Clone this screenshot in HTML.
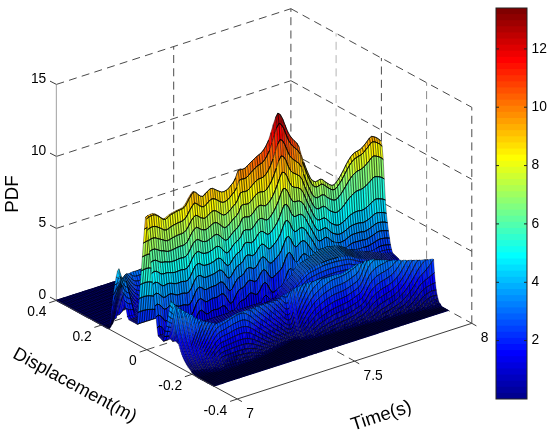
<!DOCTYPE html>
<html><head><meta charset="utf-8"><title>PDF surface</title>
<style>html,body{margin:0;padding:0;background:#fff}svg{display:block}</style></head>
<body>
<svg width="550" height="440" viewBox="0 0 550 440" font-family="'Liberation Sans', sans-serif" fill="#000">
<rect width="550" height="440" fill="#fff"/>
<g stroke-width="1" stroke-dasharray="8 5.3" fill="none"><line x1="56.4" y1="228.4" x2="290.9" y2="152.7" stroke="#4a4a4a"/><line x1="290.9" y1="152.7" x2="471.8" y2="251.3" stroke="#4a4a4a"/><line x1="56.4" y1="156.4" x2="290.9" y2="80.7" stroke="#4a4a4a"/><line x1="290.9" y1="80.7" x2="471.8" y2="179.3" stroke="#4a4a4a"/><line x1="56.4" y1="84.4" x2="290.9" y2="8.7" stroke="#4a4a4a"/><line x1="290.9" y1="8.7" x2="471.8" y2="107.3" stroke="#4a4a4a"/><line x1="173.7" y1="262.5" x2="173.7" y2="46.5" stroke="#4a4a4a"/><line x1="290.9" y1="224.7" x2="290.9" y2="8.7" stroke="#4a4a4a"/><line x1="336.1" y1="249.3" x2="336.1" y2="33.3" stroke="#b4b4b4"/><line x1="381.4" y1="274.0" x2="381.4" y2="58.0" stroke="#4a4a4a"/><line x1="426.6" y1="298.6" x2="426.6" y2="82.6" stroke="#8a8a8a"/><line x1="471.8" y1="323.3" x2="471.8" y2="107.3" stroke="#4a4a4a"/><line x1="56.4" y1="300.4" x2="290.9" y2="224.7" stroke="#4a4a4a"/><line x1="101.6" y1="325.0" x2="336.1" y2="249.3" stroke="#4a4a4a"/><line x1="146.8" y1="349.7" x2="381.4" y2="274.0" stroke="#4a4a4a"/><line x1="192.1" y1="374.3" x2="426.6" y2="298.6" stroke="#4a4a4a"/><line x1="173.7" y1="262.5" x2="354.6" y2="361.1" stroke="#4a4a4a"/><line x1="290.9" y1="224.7" x2="471.8" y2="323.3" stroke="#4a4a4a"/></g>
<line x1="56.4" y1="300.4" x2="56.4" y2="84.4" stroke="#b0b0b0" stroke-width="1.2"/>
<g stroke="#000" stroke-linejoin="round"><path fill="#00005a" stroke="#00005a" stroke-width="1.2" d="M56.4 300.4l3.6 2 2.4-.8-3.7-2zM58.7 299.6l3.7 2 2.3-.7-3.6-2zM61.1 298.9l3.6 2 2.4-.8-3.7-2zM63.4 298.1l3.7 2 2.3-.8-3.6-1.9zM65.8 297.4l3.6 1.9 2.3-.7-3.6-2zM68.1 296.6l3.6 2 2.4-.8-3.6-1.9zM70.5 295.9l3.6 1.9 2.3-.7-3.6-2zM72.8 295.1l3.6 2 2.4-.8-3.6-2zM75.2 294.3l3.6 2 2.3-.7-3.6-2zM77.5 293.6l3.6 2 2.4-.8-3.7-2zM79.8 292.8l3.7 2 2.3-.8-3.6-1.9zM82.2 292.1l3.6 1.9 2.4-.7-3.7-2zM84.5 291.3l3.7 2 2.3-.8-3.6-1.9zM86.9 290.6l3.6 1.9 2.3-.7-3.6-2zM89.2 289.8l3.6 2 2.4-.8-3.6-2zM91.6 289l3.6 2 2.3-.7-3.6-2zM93.9 288.3l3.6 2 2.4-.8-3.6-2zM96.3 287.5l3.6 2 2.3-.8-3.6-1.9zM98.6 286.8l3.6 1.9 2.4-.7-3.6-2zM101 286l3.6 2 2.3-.8-3.6-1.9zM103.3 285.3l3.6 1.9 2.4-.7-3.7-2zM105.6 284.5l3.7 2 2.3-.8-3.6-2zM108 283.7l3.6 2 2.4-.7-3.7-2zM110.3 283l3.7 2 2.3-.8-3.6-2zM112.7 282.2l3.6 2 2.3-.8-3.6-1.9zM60 302.4l3.6 1.9 2.4-.7-3.6-2zM62.4 301.6l3.6 2 2.3-.8-3.6-1.9zM64.7 300.9l3.6 1.9 2.4-.7-3.6-2zM67.1 300.1l3.6 2 2.3-.8-3.6-2zM69.4 299.3l3.6 2 2.4-.7-3.7-2zM71.7 298.6l3.7 2 2.3-.8-3.6-2zM74.1 297.8l3.6 2 2.4-.8-3.7-1.9zM76.4 297.1l3.7 1.9 2.3-.7-3.6-2zM78.8 296.3l3.6 2 2.3-.8-3.6-1.9zM81.1 295.6l3.6 1.9 2.4-.7-3.6-2zM83.5 294.8l3.6 2 2.3-.8-3.6-2zM85.8 294l3.6 2 2.4-.7-3.6-2zM88.2 293.3l3.6 2 2.3-.8-3.6-2zM90.5 292.5l3.6 2 2.4-.8-3.7-1.9zM92.8 291.8l3.7 1.9 2.3-.7-3.6-2zM95.2 291l3.6 2 2.4-.8-3.7-1.9zM97.5 290.3l3.7 1.9 2.3-.7-3.6-2zM99.9 289.5l3.6 2 2.3-.8-3.6-2zM102.2 288.7l3.6 2 2.4-.7-3.6-2zM104.6 288l3.6 2 2.3-.8-3.6-2zM106.9 287.2l3.6 2 2.4-.8-3.6-1.9zM109.3 286.5l3.6 1.9 2.3-.7-3.6-2zM111.6 285.7l3.6 2 2.4-.8-3.6-1.9zM114 285l3.6 1.9 2.3-.7-3.6-2zM63.6 304.3l3.7 2 2.3-.7-3.6-2zM66 303.6l3.6 2 2.3-.8-3.6-2zM68.3 302.8l3.6 2 2.4-.8-3.6-1.9zM70.7 302.1l3.6 1.9 2.3-.7-3.6-2zM73 301.3l3.6 2 2.4-.8-3.6-1.9zM75.4 300.6l3.6 1.9 2.3-.7-3.6-2zM77.7 299.8l3.6 2 2.4-.8-3.6-2zM80.1 299l3.6 2 2.3-.7-3.6-2zM82.4 298.3l3.6 2 2.4-.8-3.7-2zM84.7 297.5l3.7 2 2.3-.8-3.6-1.9zM87.1 296.8l3.6 1.9 2.3-.7-3.6-2zM89.4 296l3.6 2 2.4-.8-3.6-1.9zM91.8 295.3l3.6 1.9 2.3-.7-3.6-2zM94.1 294.5l3.6 2 2.4-.8-3.6-2zM96.5 293.7l3.6 2 2.3-.7-3.6-2zM98.8 293l3.6 2 2.4-.8-3.6-2zM101.2 292.2l3.6 2 2.3-.8-3.6-1.9zM103.5 291.5l3.6 1.9 2.4-.7-3.7-2zM105.8 290.7l3.7 2 2.3-.8-3.6-1.9zM108.2 290l3.6 1.9 2.4-.7-3.7-2zM110.5 289.2l3.7 2 2.3-.8-3.6-2zM112.9 288.4l3.6 2 2.3-.7-3.6-2zM67.3 306.3l3.6 2 2.3-.8-3.6-1.9zM69.6 305.6l3.6 1.9 2.4-.7-3.7-2zM71.9 304.8l3.7 2 2.3-.8-3.6-2zM74.3 304l3.6 2 2.4-.7-3.7-2zM76.6 303.3l3.7 2 2.3-.8-3.6-2zM79 302.5l3.6 2 2.3-.8-3.6-1.9zM81.3 301.8l3.6 1.9 2.4-.7-3.6-2zM83.7 301l3.6 2 2.3-.8-3.6-1.9zM86 300.3l3.6 1.9 2.4-.7-3.6-2zM88.4 299.5l3.6 2 2.3-.8-3.6-2zM90.7 298.7l3.6 2 2.4-.7-3.7-2zM93 298l3.7 2 2.3-.8-3.6-2zM95.4 297.2l3.6 2 2.4-.8-3.7-1.9zM97.7 296.5l3.7 1.9 2.3-.7-3.6-2zM100.1 295.7l3.6 2 2.3-.8-3.6-1.9zM102.4 295l3.6 1.9 2.4-.7-3.6-2zM104.8 294.2l3.6 2 2.3-.8-3.6-2zM107.1 293.4l3.6 2 2.4-.7-3.6-2zM109.5 292.7l3.6 2 2.3-.8-3.6-2zM111.8 291.9l3.6 2 2.4-.8-3.6-1.9zM70.9 308.3l3.6 2 2.3-.8-3.6-2zM73.2 307.5l3.6 2 2.4-.8-3.6-1.9zM75.6 306.8l3.6 1.9 2.3-.7-3.6-2zM77.9 306l3.6 2 2.4-.8-3.6-1.9zM80.3 305.3l3.6 1.9 2.3-.7-3.6-2zM82.6 304.5l3.6 2 2.4-.8-3.7-2zM84.9 303.7l3.7 2 2.3-.7-3.6-2zM87.3 303l3.6 2 2.3-.8-3.6-2zM89.6 302.2l3.6 2 2.4-.8-3.6-1.9zM92 301.5l3.6 1.9 2.3-.7-3.6-2zM94.3 300.7l3.6 2 2.4-.8-3.6-1.9zM96.7 300l3.6 1.9 2.3-.7-3.6-2zM99 299.2l3.6 2 2.4-.8-3.6-2zM101.4 298.4l3.6 2 2.3-.7-3.6-2zM103.7 297.7l3.6 2 2.4-.8-3.7-2zM106 296.9l3.7 2 2.3-.8-3.6-1.9zM108.4 296.2l3.6 1.9 2.4-.7-3.7-2zM110.7 295.4l3.7 2 2.3-.8-3.6-1.9zM74.5 310.3l3.6 1.9 2.4-.7-3.7-2zM76.8 309.5l3.7 2 2.3-.8-3.6-2zM79.2 308.7l3.6 2 2.3-.7-3.6-2zM81.5 308l3.6 2 2.4-.8-3.6-2zM83.9 307.2l3.6 2 2.3-.8-3.6-1.9zM86.2 306.5l3.6 1.9 2.4-.7-3.6-2zM88.6 305.7l3.6 2 2.3-.8-3.6-1.9zM90.9 305l3.6 1.9 2.4-.7-3.7-2zM93.2 304.2l3.7 2 2.3-.8-3.6-2zM95.6 303.4l3.6 2 2.4-.7-3.7-2zM97.9 302.7l3.7 2 2.3-.8-3.6-2zM100.3 301.9l3.6 2 2.3-.8-3.6-1.9zM102.6 301.2l3.6 1.9 2.4-.7-3.6-2zM105 300.4l3.6 2 2.3-.8-3.6-1.9zM107.3 299.7l3.6 1.9 2.4-.7-3.6-2zM109.7 298.9l3.6 2 2.3-.8-3.6-2zM112 298.1l3.6 2 2.4-.7-3.6-2zM78.1 312.2l3.6 2 2.4-.8-3.6-1.9zM80.5 311.5l3.6 1.9 2.3-.7-3.6-2zM82.8 310.7l3.6 2 2.4-.8-3.7-1.9zM85.1 310l3.7 1.9 2.3-.7-3.6-2zM87.5 309.2l3.6 2 2.4-.8-3.7-2zM89.8 308.4l3.7 2 2.3-.7-3.6-2zM92.2 307.7l3.6 2 2.3-.8-3.6-2zM94.5 306.9l3.6 2 2.4-.8-3.6-1.9zM96.9 306.2l3.6 1.9 2.3-.7-3.6-2zM99.2 305.4l3.6 2 2.4-.8-3.6-1.9zM101.6 304.7l3.6 1.9 2.3-.7-3.6-2zM103.9 303.9l3.6 2 2.4-.8-3.7-2zM106.2 303.1l3.7 2 2.3-.7-3.6-2zM108.6 302.4l3.6 2 2.4-.8-3.7-2zM110.9 301.6l3.7 2 2.3-.8-3.6-1.9zM81.7 314.2l3.6 2 2.4-.8-3.6-2zM84.1 313.4l3.6 2 2.3-.7-3.6-2zM86.4 312.7l3.6 2 2.4-.8-3.6-2zM88.8 311.9l3.6 2 2.3-.8-3.6-1.9zM91.1 311.2l3.6 1.9 2.4-.7-3.6-2zM93.5 310.4l3.6 2 2.3-.8-3.6-1.9zM95.8 309.7l3.6 1.9 2.4-.7-3.7-2zM98.1 308.9l3.7 2 2.3-.8-3.6-2zM100.5 308.1l3.6 2 2.3-.7-3.6-2zM102.8 307.4l3.6 2 2.4-.8-3.6-2zM105.2 306.6l3.6 2 2.3-.8-3.6-1.9zM107.5 305.9l3.6 1.9 2.4-.7-3.6-2zM109.9 305.1l3.6 2 2.3-.8-3.6-1.9zM85.3 316.2l3.7 1.9 2.3-.7-3.6-2zM87.7 315.4l3.6 2 2.4-.8-3.7-1.9zM90 314.7l3.7 1.9 2.3-.7-3.6-2zM92.4 313.9l3.6 2 2.3-.8-3.6-2zM94.7 313.1l3.6 2 2.4-.7-3.6-2zM97.1 312.4l3.6 2 2.3-.8-3.6-2zM99.4 311.6l3.6 2 2.4-.8-3.6-1.9zM101.8 310.9l3.6 1.9 2.3-.7-3.6-2zM104.1 310.1l3.6 2 2.4-.8-3.7-1.9zM106.4 309.4l3.7 1.9 2.3-.7-3.6-2zM108.8 308.6l3.6 2 2.4-.8-3.7-2zM89 318.1l3.6 2 2.3-.7-3.6-2zM91.3 317.4l3.6 2 2.4-.8-3.6-2zM93.7 316.6l3.6 2 2.3-.8-3.6-1.9zM96 315.9l3.6 1.9 2.4-.7-3.7-2zM98.3 315.1l3.7 2 2.3-.8-3.6-1.9zM100.7 314.4l3.6 1.9 2.3-.7-3.6-2zM103 313.6l3.6 2 2.4-.8-3.6-2zM105.4 312.8l3.6 2 2.3-.7-3.6-2zM107.7 312.1l3.6 2 2.4-.8-3.6-2zM110.1 311.3l3.6 2 2.3-.7-3.6-2zM92.6 320.1l3.6 2 2.3-.8-3.6-1.9zM94.9 319.4l3.6 1.9 2.4-.7-3.6-2zM97.3 318.6l3.6 2 2.3-.8-3.6-2zM99.6 317.8l3.6 2 2.4-.7-3.6-2zM102 317.1l3.6 2 2.3-.8-3.6-2zM104.3 316.3l3.6 2 2.4-.7-3.7-2zM106.6 315.6l3.7 2 2.3-.8-3.6-2zM109 314.8l3.6 2 2.4-.8-3.7-1.9zM96.2 322.1l3.6 2 2.4-.8-3.7-2zM98.5 321.3l3.7 2 2.3-.8-3.6-1.9zM100.9 320.6l3.6 1.9 2.4-.7-3.7-2zM103.2 319.8l3.7 2 2.3-.8-3.6-1.9zM105.6 319.1l3.6 1.9 2.3-.7-3.6-2zM107.9 318.3l3.6 2 2.4-.8-3.6-1.9zM99.8 324.1l3.6 1.9 2.4-.7-3.6-2zM102.2 323.3l3.6 2 2.3-.8-3.6-2zM104.5 322.5l3.6 2 2.4-.7-3.6-2zM106.9 321.8l3.6 2 2.3-.8-3.6-2zM103.4 326l1.4 .8 2.4-.8-1.4-.7zM105.8 325.3l1.4 .7 2.3-.7-1.4-.8zM108.1 324.5l1.4 .8 2.4-.8-1.4-.7zM104.8 326.8l1.4 .8 2.4-.8-1.4-.8zM107.2 326l1.4 .8 2.3-.7-1.4-.8zM106.2 327.6l1.5 .7 2.3-.7-1.4-.8zM288.5 339.5l.9 2.2 2.3-.5-.9-1.6zM290.8 339.6l.9 1.6 2.4-.8-.9-1.2zM293.2 339.2l.9 1.2 2.3-.8-.9-2zM284.7 341l.9 2.5 2.4-.3-1-1.6zM287 341.6l1 1.6 2.3-.8-.9-.7zM289.4 341.7l.9 .7 2.3-.7-.9-.5zM291.7 341.2l.9 .5 2.4-.8-.9-.5zM294.1 340.4l.9 .5 2.3-.8-.9-.5zM296.4 339.6l.9 .5 2.4-1.2-.9-2.2zM191.8 371.9l.9 1 2.4-1.1-.9-1.1zM280.9 342.7l.9 2.6 2.4-.2-.9-1.9zM283.3 343.2l.9 1.9 2.3-.7-.9-.9zM285.6 343.5l.9 .9 2.4-.7-.9-.5zM288 343.2l.9 .5 2.3-.8-.9-.5zM290.3 342.4l.9 .5 2.4-.7-1-.5zM292.6 341.7l1 .5 2.3-.8-.9-.5zM295 340.9l.9 .5 2.3-.8-.9-.5zM297.3 340.1l.9 .5 2.4-.7-.9-1zM192.7 372.9l.9 .9 2.4-.9-.9-1.1zM195.1 371.8l.9 1.1 2.3-1-.9-1.3zM277.1 344.8l.9 2.5 2.4-.2-.9-1.9zM279.5 345.2l.9 1.9 2.3-.7-.9-1.1zM281.8 345.3l.9 1.1 2.4-.7-.9-.6zM284.2 345.1l.9 .6 2.3-.8-.9-.5zM286.5 344.4l.9 .5 2.4-.7-.9-.5zM288.9 343.7l.9 .5 2.3-.8-.9-.5zM291.2 342.9l.9 .5 2.4-.8-.9-.4zM293.6 342.2l.9 .4 2.3-.7-.9-.5zM295.9 341.4l.9 .5 2.4-.8-1-.5zM298.2 340.6l1 .5 2.3-.7-.9-.5zM300.6 339.9l.9 .5 2.3-.9-.9-2zM193.6 373.8l.9 .9 2.4-.8-.9-1zM196 372.9l.9 1 2.3-.9-.9-1.1zM198.3 371.9l.9 1.1 2.4-.9-.9-1.4zM200.7 370.7l.9 1.4 2.3-1.1-.9-1.7zM273.4 346.7l.9 2.6 2.3-.2-.9-1.9zM275.7 347.2l.9 1.9 2.4-.7-1-1.1zM278 347.3l1 1.1 2.3-.7-.9-.6zM280.4 347.1l.9 .6 2.3-.8-.9-.5zM282.7 346.4l.9 .5 2.4-.7-.9-.5zM285.1 345.7l.9 .5 2.3-.8-.9-.5zM287.4 344.9l.9 .5 2.4-.7-.9-.5zM289.8 344.2l.9 .5 2.3-.8-.9-.5zM292.1 343.4l.9 .5 2.4-.8-.9-.5zM294.5 342.6l.9 .5 2.3-.7-.9-.5zM296.8 341.9l.9 .5 2.4-.8-.9-.5zM299.2 341.1l.9 .5 2.3-.7-.9-.5zM301.5 340.4l.9 .5 2.4-.8-1-.6zM303.8 339.5l1 .6 2.3-1.3-.9-2.3zM194.5 374.7l.9 .8 2.4-.8-.9-.8zM196.9 373.9l.9 .8 2.3-.8-.9-.9zM199.2 373l.9 .9 2.4-.8-.9-1zM201.6 372.1l.9 1 2.3-.7-.9-1.4zM203.9 371l.9 1.4 2.4-1-.9-1.8zM269.6 348.7l.9 2.6 2.3-.2-.9-2zM271.9 349.1l.9 2 2.4-.7-.9-1.1zM274.3 349.3l.9 1.1 2.3-.7-.9-.6zM276.6 349.1l.9 .6 2.4-.8-.9-.5zM279 348.4l.9 .5 2.3-.7-.9-.5zM281.3 347.7l.9 .5 2.4-.8-1-.5zM283.6 346.9l1 .5 2.3-.7-.9-.5zM286 346.2l.9 .5 2.3-.8-.9-.5zM288.3 345.4l.9 .5 2.4-.8-.9-.4zM290.7 344.7l.9 .4 2.3-.7-.9-.5zM293 343.9l.9 .5 2.4-.8-.9-.5zM295.4 343.1l.9 .5 2.3-.7-.9-.5zM297.7 342.4l.9 .5 2.4-.8-.9-.5zM300.1 341.6l.9 .5 2.3-.7-.9-.5zM302.4 340.9l.9 .5 2.4-.8-.9-.5zM304.8 340.1l.9 .5 2.3-.7-.9-1.1zM307.1 338.8l.9 1.1 2.3-1-.9-2zM309.4 336.9l.9 2 2.4-1.2-.9-2.6zM195.4 375.5l1 .8 2.3-.9-.9-.7zM197.8 374.7l.9 .7 2.3-.8-.9-.7zM200.1 373.9l.9 .7 2.4-.7-.9-.8zM202.5 373.1l.9 .8 2.3-.7-.9-.8zM204.8 372.4l.9 .8 2.4-.6-.9-1.2zM207.2 371.4l.9 1.2 2.3-1-.9-1.9zM265.8 350.8l.9 2.5 2.3-.2-.9-2zM268.1 351.1l.9 2 2.4-.6-.9-1.2zM270.5 351.3l.9 1.2 2.3-.8-.9-.6zM272.8 351.1l.9 .6 2.4-.8-.9-.5zM275.2 350.4l.9 .5 2.3-.7-.9-.5zM277.5 349.7l.9 .5 2.4-.8-.9-.5zM279.9 348.9l.9 .5 2.3-.7-.9-.5zM282.2 348.2l.9 .5 2.4-.8-.9-.5zM284.6 347.4l.9 .5 2.3-.7-.9-.5zM286.9 346.7l.9 .5 2.4-.8-1-.5zM289.2 345.9l1 .5 2.3-.8-.9-.5zM291.6 345.1l.9 .5 2.3-.7-.9-.5zM293.9 344.4l.9 .5 2.4-.8-.9-.5zM296.3 343.6l.9 .5 2.3-.7-.9-.5zM298.6 342.9l.9 .5 2.4-.8-.9-.5zM301 342.1l.9 .5 2.3-.7-.9-.5zM303.3 341.4l.9 .5 2.4-.8-.9-.5zM305.7 340.6l.9 .5 2.3-.8-.9-.4zM308 339.9l.9 .4 2.4-.7-1-.7zM310.3 338.9l1 .7 2.3-.8-.9-1.1zM312.7 337.7l.9 1.1 2.3-.7-.9-1.8zM315 336.3l.9 1.8 2.4-1-.9-2.3zM317.4 334.8l.9 2.3 2.3-1.1-.9-2.7zM196.4 376.3l.9 .7 2.3-.8-.9-.8zM198.7 375.4l.9 .8 2.3-.9-.9-.7zM201 374.6l.9 .7 2.4-.7-.9-.7zM203.4 373.9l.9 .7 2.3-.7-.9-.7zM205.7 373.2l.9 .7 2.4-.7-.9-.6zM208.1 372.6l.9 .6 2.3-.6-.9-1zM210.4 371.6l.9 1 2.4-1-.9-1.8zM212.8 369.8l.9 1.8 2.3-1.6-.9-2.2zM262 353.1l.9 2.4 2.4-.3-.9-2zM264.4 353.2l.9 2 2.3-.7-.9-1.2zM266.7 353.3l.9 1.2 2.4-.8-1-.6zM269 353.1l1 .6 2.3-.7-.9-.5zM271.4 352.5l.9 .5 2.3-.8-.9-.5zM273.7 351.7l.9 .5 2.4-.8-.9-.5zM276.1 350.9l.9 .5 2.3-.7-.9-.5zM278.4 350.2l.9 .5 2.4-.8-.9-.5zM280.8 349.4l.9 .5 2.3-.7-.9-.5zM283.1 348.7l.9 .5 2.4-.8-.9-.5zM285.5 347.9l.9 .5 2.3-.7-.9-.5zM287.8 347.2l.9 .5 2.4-.8-.9-.5zM290.2 346.4l.9 .5 2.3-.8-.9-.5zM292.5 345.6l.9 .5 2.3-.7-.9-.5zM294.8 344.9l.9 .5 2.4-.8-.9-.5zM297.2 344.1l.9 .5 2.3-.7-.9-.5zM299.5 343.4l.9 .5 2.4-.8-.9-.5zM301.9 342.6l.9 .5 2.3-.7-.9-.5zM304.2 341.9l.9 .5 2.4-.8-.9-.5zM306.6 341.1l.9 .5 2.3-.8-.9-.5zM308.9 340.3l.9 .5 2.4-.7-.9-.5zM311.3 339.6l.9 .5 2.3-.8-.9-.5zM313.6 338.8l.9 .5 2.4-.7-1-.5zM315.9 338.1l1 .5 2.3-.8-.9-.7zM318.3 337.1l.9 .7 2.3-.7-.9-1.1zM320.6 336l.9 1.1 2.4-.8-.9-1.5zM323 334.8l.9 1.5 2.3-.8-.9-1.8zM325.3 333.7l.9 1.8 2.4-.8-.9-2.2zM327.7 332.5l.9 2.2 2.3-.9-.9-2.4zM330 331.4l.9 2.4 2.4-.9-.9-2.6zM332.4 330.3l.9 2.6 2.3-.9-.9-2.8zM197.3 377l.9 .7 2.3-.8-.9-.7zM199.6 376.2l.9 .7 2.4-.9-1-.7zM201.9 375.3l1 .7 2.3-.8-.9-.6zM204.3 374.6l.9 .6 2.3-.7-.9-.6zM206.6 373.9l.9 .6 2.4-.7-.9-.6zM209 373.2l.9 .6 2.3-.7-.9-.5zM211.3 372.6l.9 .5 2.4-.7-.9-.8zM213.7 371.6l.9 .8 2.3-.9-.9-1.5zM216 370l.9 1.5 2.4-1.3-.9-2zM255.9 355.9l.9 2.4 2.3-.4-.9-2.2zM258.2 355.7l.9 2.2 2.4-.7-.9-1.6zM260.6 355.6l.9 1.6 2.3-.7-.9-1zM262.9 355.5l.9 1 2.4-.8-.9-.5zM265.3 355.2l.9 .5 2.3-.7-.9-.5zM267.6 354.5l.9 .5 2.4-.8-.9-.5zM270 353.7l.9 .5 2.3-.8-.9-.4zM272.3 353l.9 .4 2.4-.7-1-.5zM274.6 352.2l1 .5 2.3-.8-.9-.5zM277 351.4l.9 .5 2.3-.7-.9-.5zM279.3 350.7l.9 .5 2.4-.8-.9-.5zM281.7 349.9l.9 .5 2.3-.7-.9-.5zM284 349.2l.9 .5 2.4-.8-.9-.5zM286.4 348.4l.9 .5 2.3-.8-.9-.4zM288.7 347.7l.9 .4 2.4-.7-.9-.5zM291.1 346.9l.9 .5 2.3-.8-.9-.5zM293.4 346.1l.9 .5 2.4-.7-1-.5zM295.7 345.4l1 .5 2.3-.8-.9-.5zM298.1 344.6l.9 .5 2.3-.7-.9-.5zM300.4 343.9l.9 .5 2.4-.8-.9-.5zM302.8 343.1l.9 .5 2.3-.8-.9-.4zM305.1 342.4l.9 .4 2.4-.7-.9-.5zM307.5 341.6l.9 .5 2.3-.8-.9-.5zM309.8 340.8l.9 .5 2.4-.7-.9-.5zM312.2 340.1l.9 .5 2.3-.8-.9-.5zM314.5 339.3l.9 .5 2.4-.7-.9-.5zM316.9 338.6l.9 .5 2.3-.8-.9-.5zM319.2 337.8l.9 .5 2.4-.8-1-.4zM321.5 337.1l1 .4 2.3-.7-.9-.5zM323.9 336.3l.9 .5 2.3-.8-.9-.5zM326.2 335.5l.9 .5 2.4-.7-.9-.6zM328.6 334.7l.9 .6 2.3-.8-.9-.7zM330.9 333.8l.9 .7 2.4-.7-.9-.9zM333.3 332.9l.9 .9 2.3-.8-.9-1zM335.6 332l.9 1 2.4-.7-.9-1.2zM338 331.1l.9 1.2 2.3-.8-.9-1.4zM340.3 330.1l.9 1.4 2.4-.8-1-1.5zM342.6 329.2l1 1.5 2.3-.7-.9-1.7zM345 328.3l.9 1.7 2.3-.8-.9-1.9zM347.3 327.3l.9 1.9 2.4-.8-.9-2.1zM349.7 326.3l.9 2.1 2.3-.8-.9-2.4zM352 325.2l.9 2.4 2.4-1-.9-2.5zM354.4 324.1l.9 2.5 2.3-1.1-.9-2.7zM198.2 377.7l.9 .5 2.3-.8-.9-.5zM200.5 376.9l.9 .5 2.4-.7-.9-.7zM202.9 376l.9 .7 2.3-.8-.9-.7zM205.2 375.2l.9 .7 2.4-.8-1-.6zM207.5 374.5l1 .6 2.3-.7-.9-.6zM209.9 373.8l.9 .6 2.3-.8-.9-.5zM212.2 373.1l.9 .5 2.4-.7-.9-.5zM214.6 372.4l.9 .5 2.3-.8-.9-.6zM216.9 371.5l.9 .6 2.4-.7-.9-1.2zM219.3 370.2l.9 1.2 2.3-.9-.9-1.8zM221.6 368.7l.9 1.8 2.4-1.1-.9-2.1zM224 367.3l.9 2.1 2.3-.9-.9-2.2zM226.3 366.3l.9 2.2 2.4-.7-.9-2.3zM228.7 365.5l.9 2.3 2.3-.8-.9-2.2zM231 364.8l.9 2.2 2.4-.7-1-2.2zM233.3 364.1l1 2.2 2.3-.7-.9-2.2zM235.7 363.4l.9 2.2 2.3-.7-.9-2.2zM238 362.7l.9 2.2 2.4-.6-.9-2.2zM240.4 362.1l.9 2.2 2.3-.7-.9-2.1zM242.7 361.5l.9 2.1 2.4-.7-.9-2zM245.1 360.9l.9 2 2.3-.6-.9-2zM247.4 360.3l.9 2 2.4-.8-.9-1.7zM249.8 359.8l.9 1.7 2.3-.7-.9-1.5zM252.1 359.3l.9 1.5 2.4-.8-1-1.2zM254.4 358.8l1 1.2 2.3-.8-.9-.9zM256.8 358.3l.9 .9 2.3-.7-.9-.6zM259.1 357.9l.9 .6 2.4-.8-.9-.5zM261.5 357.2l.9 .5 2.3-.7-.9-.5zM263.8 356.5l.9 .5 2.4-.8-.9-.5zM266.2 355.7l.9 .5 2.3-.7-.9-.5zM268.5 355l.9 .5 2.4-.8-.9-.5zM270.9 354.2l.9 .5 2.3-.8-.9-.5zM273.2 353.4l.9 .5 2.4-.7-.9-.5zM275.6 352.7l.9 .5 2.3-.8-.9-.5zM277.9 351.9l.9 .5 2.4-.7-1-.5zM280.2 351.2l1 .5 2.3-.8-.9-.5zM282.6 350.4l.9 .5 2.3-.7-.9-.5zM284.9 349.7l.9 .5 2.4-.8-.9-.5zM287.3 348.9l.9 .5 2.3-.8-.9-.5zM289.6 348.1l.9 .5 2.4-.7-.9-.5zM292 347.4l.9 .5 2.3-.8-.9-.5zM294.3 346.6l.9 .5 2.4-.7-.9-.5zM296.7 345.9l.9 .5 2.3-.8-.9-.5zM299 345.1l.9 .5 2.4-.7-1-.5zM301.3 344.4l1 .5 2.3-.8-.9-.5zM303.7 343.6l.9 .5 2.3-.8-.9-.5zM306 342.8l.9 .5 2.4-.7-.9-.5zM308.4 342.1l.9 .5 2.3-.8-.9-.5zM310.7 341.3l.9 .5 2.4-.7-.9-.5zM313.1 340.6l.9 .5 2.3-.8-.9-.5zM315.4 339.8l.9 .5 2.4-.7-.9-.5zM317.8 339.1l.9 .5 2.3-.8-.9-.5zM320.1 338.3l.9 .5 2.4-.8-.9-.5zM322.5 337.5l.9 .5 2.3-.7-.9-.5zM324.8 336.8l.9 .5 2.4-.8-1-.5zM327.1 336l1 .5 2.3-.7-.9-.5zM329.5 335.3l.9 .5 2.3-.8-.9-.5zM331.8 334.5l.9 .5 2.4-.7-.9-.5zM334.2 333.8l.9 .5 2.3-.8-.9-.5zM336.5 333l.9 .5 2.4-.8-.9-.4zM338.9 332.3l.9 .4 2.3-.7-.9-.5zM341.2 331.5l.9 .5 2.4-.8-.9-.5zM343.6 330.7l.9 .5 2.3-.7-.9-.5zM345.9 330l.9 .5 2.4-.8-1-.5zM348.2 329.2l1 .5 2.3-.7-.9-.6zM350.6 328.4l.9 .6 2.3-.8-.9-.6zM352.9 327.6l.9 .6 2.4-.8-.9-.8zM355.3 326.6l.9 .8 2.3-.7-.9-1.2zM357.6 325.5l.9 1.2 2.4-.8-.9-1.5zM360 324.4l.9 1.5 2.3-.7-.9-2zM362.3 323.2l.9 2 2.4-1-.9-2.2zM364.7 322l.9 2.2 2.3-1-.9-2.6zM199.1 378.2l.9 .5 2.3-.8-.9-.5zM201.4 377.4l.9 .5 2.4-.8-.9-.4zM203.8 376.7l.9 .4 2.3-.7-.9-.5zM206.1 375.9l.9 .5 2.4-.8-.9-.5zM208.5 375.1l.9 .5 2.3-.7-.9-.5zM210.8 374.4l.9 .5 2.4-.8-1-.5zM213.1 373.6l1 .5 2.3-.7-.9-.5zM215.5 372.9l.9 .5 2.3-.8-.9-.5zM217.8 372.1l.9 .5 2.4-.8-.9-.4zM220.2 371.4l.9 .4 2.3-.7-.9-.6zM222.5 370.5l.9 .6 2.4-.8-.9-.9zM224.9 369.4l.9 .9 2.3-.7-.9-1.1zM227.2 368.5l.9 1.1 2.4-.8-.9-1zM229.6 367.8l.9 1 2.3-.7-.9-1.1zM231.9 367l.9 1.1 2.4-.8-.9-1zM234.3 366.3l.9 1 2.3-.8-.9-.9zM236.6 365.6l.9 .9 2.3-.7-.9-.9zM238.9 364.9l.9 .9 2.4-.8-.9-.7zM241.3 364.3l.9 .7 2.3-.7-.9-.7zM243.6 363.6l.9 .7 2.4-.8-.9-.6zM246 362.9l.9 .6 2.3-.7-.9-.5zM248.3 362.3l.9 .5 2.4-.8-.9-.5zM250.7 361.5l.9 .5 2.3-.8-.9-.4zM253 360.8l.9 .4 2.4-.7-.9-.5zM255.4 360l.9 .5 2.3-.8-.9-.5zM257.7 359.2l.9 .5 2.4-.7-1-.5zM260 358.5l1 .5 2.3-.8-.9-.5zM262.4 357.7l.9 .5 2.3-.7-.9-.5zM264.7 357l.9 .5 2.4-.8-.9-.5zM267.1 356.2l.9 .5 2.3-.7-.9-.5zM269.4 355.5l.9 .5 2.4-.8-.9-.5zM271.8 354.7l.9 .5 2.3-.8-.9-.5zM274.1 353.9l.9 .5 2.4-.7-.9-.5zM276.5 353.2l.9 .5 2.3-.8-.9-.5zM278.8 352.4l.9 .5 2.4-.7-.9-.5zM281.2 351.7l.9 .5 2.3-.8-.9-.5zM283.5 350.9l.9 .5 2.3-.7-.9-.5zM285.8 350.2l.9 .5 2.4-.8-.9-.5zM288.2 349.4l.9 .5 2.3-.8-.9-.5zM290.5 348.6l.9 .5 2.4-.7-.9-.5zM292.9 347.9l.9 .5 2.3-.8-.9-.5zM295.2 347.1l.9 .5 2.4-.7-.9-.5zM297.6 346.4l.9 .5 2.3-.8-.9-.5zM299.9 345.6l.9 .5 2.4-.7-.9-.5zM302.3 344.9l.9 .5 2.3-.8-.9-.5zM304.6 344.1l.9 .5 2.4-.8-1-.5zM306.9 343.3l1 .5 2.3-.7-.9-.5zM309.3 342.6l.9 .5 2.3-.8-.9-.5zM311.6 341.8l.9 .5 2.4-.7-.9-.5zM314 341.1l.9 .5 2.3-.8-.9-.5zM316.3 340.3l.9 .5 2.4-.7-.9-.5zM318.7 339.6l.9 .5 2.3-.8-.9-.5zM321 338.8l.9 .5 2.4-.8-.9-.5zM323.4 338l.9 .5 2.3-.7-.9-.5zM325.7 337.3l.9 .5 2.4-.8-.9-.5zM328.1 336.5l.9 .5 2.3-.7-.9-.5zM330.4 335.8l.9 .5 2.3-.8-.9-.5zM332.7 335l.9 .5 2.4-.7-.9-.5zM335.1 334.3l.9 .5 2.3-.8-.9-.5zM337.4 333.5l.9 .5 2.4-.8-.9-.5zM339.8 332.7l.9 .5 2.3-.7-.9-.5zM342.1 332l.9 .5 2.4-.8-.9-.5zM344.5 331.2l.9 .5 2.3-.7-.9-.5zM346.8 330.5l.9 .5 2.4-.8-.9-.5zM349.2 329.7l.9 .5 2.3-.7-.9-.5zM351.5 329l.9 .5 2.4-.8-1-.5zM353.8 328.2l1 .5 2.3-.8-.9-.5zM356.2 327.4l.9 .5 2.3-.7-.9-.5zM358.5 326.7l.9 .5 2.4-.8-.9-.5zM360.9 325.9l.9 .5 2.3-.7-.9-.5zM363.2 325.2l.9 .5 2.4-.8-.9-.7zM365.6 324.2l.9 .7 2.3-.7-.9-1zM367.9 323.2l.9 1 2.4-.8-.9-1.4zM370.3 322l.9 1.4 2.3-.8-.9-2zM372.6 320.6l.9 2 2.4-.9-.9-2.6zM200 378.7l.9 .5 2.3-.8-.9-.5zM202.3 377.9l.9 .5 2.4-.8-.9-.5zM204.7 377.1l.9 .5 2.3-.7-.9-.5zM207 376.4l.9 .5 2.4-.8-.9-.5zM209.4 375.6l.9 .5 2.3-.7-.9-.5zM211.7 374.9l.9 .5 2.4-.8-.9-.5zM214.1 374.1l.9 .5 2.3-.7-.9-.5zM216.4 373.4l.9 .5 2.4-.8-1-.5zM218.7 372.6l1 .5 2.3-.8-.9-.5zM221.1 371.8l.9 .5 2.3-.7-.9-.5zM223.4 371.1l.9 .5 2.4-.8-.9-.5zM225.8 370.3l.9 .5 2.3-.7-.9-.5zM228.1 369.6l.9 .5 2.4-.8-.9-.5zM230.5 368.8l.9 .5 2.3-.7-.9-.5zM232.8 368.1l.9 .5 2.4-.8-.9-.5zM235.2 367.3l.9 .5 2.3-.8-.9-.5zM237.5 366.5l.9 .5 2.4-.7-1-.5zM239.8 365.8l1 .5 2.3-.8-.9-.5zM242.2 365l.9 .5 2.3-.7-.9-.5zM244.5 364.3l.9 .5 2.4-.8-.9-.5zM246.9 363.5l.9 .5 2.3-.7-.9-.5zM249.2 362.8l.9 .5 2.4-.8-.9-.5zM251.6 362l.9 .5 2.3-.8-.9-.5zM253.9 361.2l.9 .5 2.4-.7-.9-.5zM256.3 360.5l.9 .5 2.3-.8-.9-.5zM258.6 359.7l.9 .5 2.4-.7-.9-.5zM261 359l.9 .5 2.3-.8-.9-.5zM263.3 358.2l.9 .5 2.4-.7-1-.5zM265.6 357.5l1 .5 2.3-.8-.9-.5zM268 356.7l.9 .5 2.3-.8-.9-.4zM270.3 356l.9 .4 2.4-.7-.9-.5zM272.7 355.2l.9 .5 2.3-.8-.9-.5zM275 354.4l.9 .5 2.4-.7-.9-.5zM277.4 353.7l.9 .5 2.3-.8-.9-.5zM279.7 352.9l.9 .5 2.4-.7-.9-.5zM282.1 352.2l.9 .5 2.3-.8-.9-.5zM284.4 351.4l.9 .5 2.4-.8-1-.4zM286.7 350.7l1 .4 2.3-.7-.9-.5zM289.1 349.9l.9 .5 2.3-.8-.9-.5zM291.4 349.1l.9 .5 2.4-.7-.9-.5zM293.8 348.4l.9 .5 2.3-.8-.9-.5zM296.1 347.6l.9 .5 2.4-.7-.9-.5zM298.5 346.9l.9 .5 2.3-.8-.9-.5zM300.8 346.1l.9 .5 2.4-.8-.9-.4zM303.2 345.4l.9 .4 2.3-.7-.9-.5zM305.5 344.6l.9 .5 2.4-.8-.9-.5zM307.9 343.8l.9 .5 2.3-.7-.9-.5zM310.2 343.1l.9 .5 2.4-.8-1-.5zM312.5 342.3l1 .5 2.3-.7-.9-.5zM314.9 341.6l.9 .5 2.3-.8-.9-.5zM317.2 340.8l.9 .5 2.4-.8-.9-.4zM319.6 340.1l.9 .4 2.3-.7-.9-.5zM321.9 339.3l.9 .5 2.4-.8-.9-.5zM324.3 338.5l.9 .5 2.3-.7-.9-.5zM326.6 337.8l.9 .5 2.4-.8-.9-.5zM329 337l.9 .5 2.3-.7-.9-.5zM331.3 336.3l.9 .5 2.4-.8-1-.5zM333.6 335.5l1 .5 2.3-.8-.9-.4zM336 334.8l.9 .4 2.3-.7-.9-.5zM338.3 334l.9 .5 2.4-.8-.9-.5zM340.7 333.2l.9 .5 2.3-.7-.9-.5zM343 332.5l.9 .5 2.4-.8-.9-.5zM345.4 331.7l.9 .5 2.3-.7-.9-.5zM347.7 331l.9 .5 2.4-.8-.9-.5zM350.1 330.2l.9 .5 2.3-.7-.9-.5zM352.4 329.5l.9 .5 2.4-.8-.9-.5zM354.8 328.7l.9 .5 2.3-.8-.9-.5zM357.1 327.9l.9 .5 2.4-.7-1-.5zM359.4 327.2l1 .5 2.3-.8-.9-.5zM361.8 326.4l.9 .5 2.3-.7-.9-.5zM364.1 325.7l.9 .5 2.4-.8-.9-.5zM366.5 324.9l.9 .5 2.3-.7-.9-.5zM368.8 324.2l.9 .5 2.4-.8-.9-.5zM371.2 323.4l.9 .5 2.3-.8-.9-.5zM373.5 322.6l.9 .5 2.4-.7-.9-.7zM375.9 321.7l.9 .7 2.3-.8-.9-1zM378.2 320.6l.9 1 2.4-.7-1-1.5zM380.5 319.4l1 1.5 2.3-.8-.9-1.9zM382.9 318.2l.9 1.9 2.3-.8-.9-2.4zM385.2 316.9l.9 2.4 2.4-.9-.9-2.8zM200.9 379.2l.9 .5 2.3-.8-.9-.5zM203.2 378.4l.9 .5 2.4-.8-.9-.5zM205.6 377.6l.9 .5 2.3-.7-.9-.5zM207.9 376.9l.9 .5 2.4-.8-.9-.5zM210.3 376.1l.9 .5 2.3-.7-.9-.5zM212.6 375.4l.9 .5 2.4-.8-.9-.5zM215 374.6l.9 .5 2.3-.7-.9-.5zM217.3 373.9l.9 .5 2.4-.8-.9-.5zM219.7 373.1l.9 .5 2.3-.8-.9-.5zM222 372.3l.9 .5 2.3-.7-.9-.5zM224.3 371.6l.9 .5 2.4-.8-.9-.5zM226.7 370.8l.9 .5 2.3-.7-.9-.5zM229 370.1l.9 .5 2.4-.8-.9-.5zM231.4 369.3l.9 .5 2.3-.7-.9-.5zM233.7 368.6l.9 .5 2.4-.8-.9-.5zM236.1 367.8l.9 .5 2.3-.8-.9-.5zM238.4 367l.9 .5 2.4-.7-.9-.5zM240.8 366.3l.9 .5 2.3-.8-.9-.5zM243.1 365.5l.9 .5 2.4-.7-1-.5zM245.4 364.8l1 .5 2.3-.8-.9-.5zM247.8 364l.9 .5 2.3-.7-.9-.5zM250.1 363.3l.9 .5 2.4-.8-.9-.5zM252.5 362.5l.9 .5 2.3-.8-.9-.5zM254.8 361.7l.9 .5 2.4-.7-.9-.5zM257.2 361l.9 .5 2.3-.8-.9-.5zM259.5 360.2l.9 .5 2.4-.7-.9-.5zM261.9 359.5l.9 .5 2.3-.8-.9-.5zM264.2 358.7l.9 .5 2.4-.7-.9-.5zM266.6 358l.9 .5 2.3-.8-.9-.5zM268.9 357.2l.9 .5 2.3-.8-.9-.5zM271.2 356.4l.9 .5 2.4-.7-.9-.5zM273.6 355.7l.9 .5 2.3-.8-.9-.5zM275.9 354.9l.9 .5 2.4-.7-.9-.5zM278.3 354.2l.9 .5 2.3-.8-.9-.5zM280.6 353.4l.9 .5 2.4-.7-.9-.5zM283 352.7l.9 .5 2.3-.8-.9-.5zM285.3 351.9l.9 .5 2.4-.8-.9-.5zM287.7 351.1l.9 .5 2.3-.7-.9-.5zM290 350.4l.9 .5 2.4-.8-1-.5zM292.3 349.6l1 .5 2.3-.7-.9-.5zM294.7 348.9l.9 .5 2.3-.8-.9-.5zM297 348.1l.9 .5 2.4-.7-.9-.5zM299.4 347.4l.9 .5 2.3-.8-.9-.5zM301.7 346.6l.9 .5 2.4-.8-.9-.5zM304.1 345.8l.9 .5 2.3-.7-.9-.5zM306.4 345.1l.9 .5 2.4-.8-.9-.5zM308.8 344.3l.9 .5 2.3-.7-.9-.5zM311.1 343.6l.9 .5 2.4-.8-.9-.5zM313.5 342.8l.9 .5 2.3-.7-.9-.5zM315.8 342.1l.9 .5 2.3-.8-.9-.5zM318.1 341.3l.9 .5 2.4-.8-.9-.5zM320.5 340.5l.9 .5 2.3-.7-.9-.5zM322.8 339.8l.9 .5 2.4-.8-.9-.5zM325.2 339l.9 .5 2.3-.7-.9-.5zM327.5 338.3l.9 .5 2.4-.8-.9-.5zM329.9 337.5l.9 .5 2.3-.7-.9-.5zM332.2 336.8l.9 .5 2.4-.8-.9-.5zM334.6 336l.9 .5 2.3-.8-.9-.5zM336.9 335.2l.9 .5 2.4-.7-1-.5zM339.2 334.5l1 .5 2.3-.8-.9-.5zM341.6 333.7l.9 .5 2.3-.7-.9-.5zM343.9 333l.9 .5 2.4-.8-.9-.5zM346.3 332.2l.9 .5 2.3-.7-.9-.5zM348.6 331.5l.9 .5 2.4-.8-.9-.5zM351 330.7l.9 .5 2.3-.8-.9-.4zM353.3 330l.9 .4 2.4-.7-.9-.5zM355.7 329.2l.9 .5 2.3-.8-.9-.5zM358 328.4l.9 .5 2.4-.7-.9-.5zM360.4 327.7l.9 .5 2.3-.8-.9-.5zM362.7 326.9l.9 .5 2.3-.7-.9-.5zM365 326.2l.9 .5 2.4-.8-.9-.5zM367.4 325.4l.9 .5 2.3-.8-.9-.4zM369.7 324.7l.9 .4 2.4-.7-.9-.5zM372.1 323.9l.9 .5 2.3-.8-.9-.5zM374.4 323.1l.9 .5 2.4-.7-.9-.5zM376.8 322.4l.9 .5 2.3-.8-.9-.5zM379.1 321.6l.9 .5 2.4-.7-.9-.5zM381.5 320.9l.9 .5 2.3-.8-.9-.5zM383.8 320.1l.9 .5 2.4-.8-1-.5zM386.1 319.3l1 .5 2.3-.7-.9-.7zM388.5 318.4l.9 .7 2.3-.8-.9-1zM390.8 317.3l.9 1 2.4-.7-.9-1.4zM393.2 316.2l.9 1.4 2.3-.8-.9-1.8zM395.5 315l.9 1.8 2.4-.8-.9-2.2zM397.9 313.8l.9 2.2 2.3-.9-.9-2.6zM201.8 379.7l.9 .4 2.4-.7-1-.5zM204.1 378.9l1 .5 2.3-.8-.9-.5zM206.5 378.1l.9 .5 2.3-.7-.9-.5zM208.8 377.4l.9 .5 2.4-.8-.9-.5zM211.2 376.6l.9 .5 2.3-.7-.9-.5zM213.5 375.9l.9 .5 2.4-.8-.9-.5zM215.9 375.1l.9 .5 2.3-.8-.9-.4zM218.2 374.4l.9 .4 2.4-.7-.9-.5zM220.6 373.6l.9 .5 2.3-.8-.9-.5zM222.9 372.8l.9 .5 2.4-.7-1-.5zM225.2 372.1l1 .5 2.3-.8-.9-.5zM227.6 371.3l.9 .5 2.3-.7-.9-.5zM229.9 370.6l.9 .5 2.4-.8-.9-.5zM232.3 369.8l.9 .5 2.3-.8-.9-.4zM234.6 369.1l.9 .4 2.4-.7-.9-.5zM237 368.3l.9 .5 2.3-.8-.9-.5zM239.3 367.5l.9 .5 2.4-.7-.9-.5zM241.7 366.8l.9 .5 2.3-.8-.9-.5zM244 366l.9 .5 2.4-.7-.9-.5zM246.4 365.3l.9 .5 2.3-.8-.9-.5zM248.7 364.5l.9 .5 2.4-.8-1-.4zM251 363.8l1 .4 2.3-.7-.9-.5zM253.4 363l.9 .5 2.3-.8-.9-.5zM255.7 362.2l.9 .5 2.4-.7-.9-.5zM258.1 361.5l.9 .5 2.3-.8-.9-.5zM260.4 360.7l.9 .5 2.4-.7-.9-.5zM262.8 360l.9 .5 2.3-.8-.9-.5zM265.1 359.2l.9 .5 2.4-.8-.9-.4zM267.5 358.5l.9 .4 2.3-.7-.9-.5zM269.8 357.7l.9 .5 2.4-.8-1-.5zM272.1 356.9l1 .5 2.3-.7-.9-.5zM274.5 356.2l.9 .5 2.3-.8-.9-.5zM276.8 355.4l.9 .5 2.4-.7-.9-.5zM279.2 354.7l.9 .5 2.3-.8-.9-.5zM281.5 353.9l.9 .5 2.4-.7-.9-.5zM283.9 353.2l.9 .5 2.3-.8-.9-.5zM286.2 352.4l.9 .5 2.4-.8-.9-.5zM288.6 351.6l.9 .5 2.3-.7-.9-.5zM290.9 350.9l.9 .5 2.4-.8-.9-.5zM293.3 350.1l.9 .5 2.3-.7-.9-.5zM295.6 349.4l.9 .5 2.4-.8-1-.5zM297.9 348.6l1 .5 2.3-.7-.9-.5zM300.3 347.9l.9 .5 2.3-.8-.9-.5zM302.6 347.1l.9 .5 2.4-.8-.9-.5zM305 346.3l.9 .5 2.3-.7-.9-.5zM307.3 345.6l.9 .5 2.4-.8-.9-.5zM309.7 344.8l.9 .5 2.3-.7-.9-.5zM312 344.1l.9 .5 2.4-.8-.9-.5zM314.4 343.3l.9 .5 2.3-.7-.9-.5zM316.7 342.6l.9 .5 2.4-.8-1-.5zM319 341.8l1 .5 2.3-.8-.9-.5zM321.4 341l.9 .5 2.3-.7-.9-.5zM323.7 340.3l.9 .5 2.4-.8-.9-.5zM326.1 339.5l.9 .5 2.3-.7-.9-.5zM328.4 338.8l.9 .5 2.4-.8-.9-.5zM330.8 338l.9 .5 2.3-.7-.9-.5zM333.1 337.3l.9 .5 2.4-.8-.9-.5zM335.5 336.5l.9 .5 2.3-.8-.9-.5zM337.8 335.7l.9 .5 2.4-.7-.9-.5zM340.2 335l.9 .5 2.3-.8-.9-.5zM342.5 334.2l.9 .5 2.4-.7-1-.5zM344.8 333.5l1 .5 2.3-.8-.9-.5zM347.2 332.7l.9 .5 2.3-.7-.9-.5zM349.5 332l.9 .5 2.4-.8-.9-.5zM351.9 331.2l.9 .5 2.3-.8-.9-.5zM354.2 330.4l.9 .5 2.4-.7-.9-.5zM356.6 329.7l.9 .5 2.3-.8-.9-.5zM358.9 328.9l.9 .5 2.4-.7-.9-.5zM361.3 328.2l.9 .5 2.3-.8-.9-.5zM363.6 327.4l.9 .5 2.4-.7-1-.5zM365.9 326.7l1 .5 2.3-.8-.9-.5zM368.3 325.9l.9 .5 2.3-.8-.9-.5zM370.6 325.1l.9 .5 2.4-.7-.9-.5zM373 324.4l.9 .5 2.3-.8-.9-.5zM375.3 323.6l.9 .5 2.4-.7-.9-.5zM377.7 322.9l.9 .5 2.3-.8-.9-.5zM380 322.1l.9 .5 2.4-.7-.9-.5zM382.4 321.4l.9 .5 2.3-.8-.9-.5zM384.7 320.6l.9 .5 2.4-.8-.9-.5zM387.1 319.8l.9 .5 2.3-.7-.9-.5zM389.4 319.1l.9 .5 2.4-.8-1-.5zM391.7 318.3l1 .5 2.3-.7-.9-.5zM394.1 317.6l.9 .5 2.3-.8-.9-.5zM396.4 316.8l.9 .5 2.4-.7-.9-.6zM398.8 316l.9 .6 2.3-.8-.9-.7zM401.1 315.1l.9 .7 2.4-.8-.9-1zM403.5 314l.9 1 2.3-.7-.9-1.6zM405.8 312.7l.9 1.6 2.4-.8-.9-2.2zM408.2 311.3l.9 2.2 2.3-1-.9-2.9zM202.7 380.1l.9 .5 2.4-.7-.9-.5zM205.1 379.4l.9 .5 2.3-.8-.9-.5zM207.4 378.6l.9 .5 2.4-.7-1-.5zM209.7 377.9l1 .5 2.3-.8-.9-.5zM212.1 377.1l.9 .5 2.3-.7-.9-.5zM214.4 376.4l.9 .5 2.4-.8-.9-.5zM216.8 375.6l.9 .5 2.3-.8-.9-.5zM219.1 374.8l.9 .5 2.4-.7-.9-.5zM221.5 374.1l.9 .5 2.3-.8-.9-.5zM223.8 373.3l.9 .5 2.4-.7-.9-.5zM226.2 372.6l.9 .5 2.3-.8-.9-.5zM228.5 371.8l.9 .5 2.4-.7-1-.5zM230.8 371.1l1 .5 2.3-.8-.9-.5zM233.2 370.3l.9 .5 2.3-.8-.9-.5zM235.5 369.5l.9 .5 2.4-.7-.9-.5zM237.9 368.8l.9 .5 2.3-.8-.9-.5zM240.2 368l.9 .5 2.4-.7-.9-.5zM242.6 367.3l.9 .5 2.3-.8-.9-.5zM244.9 366.5l.9 .5 2.4-.7-.9-.5zM247.3 365.8l.9 .5 2.3-.8-.9-.5zM249.6 365l.9 .5 2.4-.8-.9-.5zM252 364.2l.9 .5 2.3-.7-.9-.5zM254.3 363.5l.9 .5 2.4-.8-1-.5zM256.6 362.7l1 .5 2.3-.7-.9-.5zM259 362l.9 .5 2.3-.8-.9-.5zM261.3 361.2l.9 .5 2.4-.7-.9-.5zM263.7 360.5l.9 .5 2.3-.8-.9-.5zM266 359.7l.9 .5 2.4-.8-.9-.5zM268.4 358.9l.9 .5 2.3-.7-.9-.5zM270.7 358.2l.9 .5 2.4-.8-.9-.5zM273.1 357.4l.9 .5 2.3-.7-.9-.5zM275.4 356.7l.9 .5 2.4-.8-1-.5zM277.7 355.9l1 .5 2.3-.7-.9-.5zM280.1 355.2l.9 .5 2.3-.8-.9-.5zM282.4 354.4l.9 .5 2.4-.8-.9-.4zM284.8 353.7l.9 .4 2.3-.7-.9-.5zM287.1 352.9l.9 .5 2.4-.8-.9-.5zM289.5 352.1l.9 .5 2.3-.7-.9-.5zM291.8 351.4l.9 .5 2.4-.8-.9-.5zM294.2 350.6l.9 .5 2.3-.7-.9-.5zM296.5 349.9l.9 .5 2.4-.8-.9-.5zM298.9 349.1l.9 .5 2.3-.8-.9-.4zM301.2 348.4l.9 .4 2.4-.7-1-.5zM303.5 347.6l1 .5 2.3-.8-.9-.5zM305.9 346.8l.9 .5 2.3-.7-.9-.5zM308.2 346.1l.9 .5 2.4-.8-.9-.5zM310.6 345.3l.9 .5 2.3-.7-.9-.5zM312.9 344.6l.9 .5 2.4-.8-.9-.5zM315.3 343.8l.9 .5 2.3-.8-.9-.4zM317.6 343.1l.9 .4 2.4-.7-.9-.5zM320 342.3l.9 .5 2.3-.8-.9-.5zM322.3 341.5l.9 .5 2.4-.7-1-.5zM324.6 340.8l1 .5 2.3-.8-.9-.5zM327 340l.9 .5 2.3-.7-.9-.5zM329.3 339.3l.9 .5 2.4-.8-.9-.5zM331.7 338.5l.9 .5 2.3-.8-.9-.4zM334 337.8l.9 .4 2.4-.7-.9-.5zM336.4 337l.9 .5 2.3-.8-.9-.5zM338.7 336.2l.9 .5 2.4-.7-.9-.5zM341.1 335.5l.9 .5 2.3-.8-.9-.5zM343.4 334.7l.9 .5 2.4-.7-.9-.5zM345.8 334l.9 .5 2.3-.8-.9-.5zM348.1 333.2l.9 .5 2.4-.8-1-.4zM350.4 332.5l1 .4 2.3-.7-.9-.5zM352.8 331.7l.9 .5 2.3-.8-.9-.5zM355.1 330.9l.9 .5 2.4-.7-.9-.5zM357.5 330.2l.9 .5 2.3-.8-.9-.5zM359.8 329.4l.9 .5 2.4-.7-.9-.5zM362.2 328.7l.9 .5 2.3-.8-.9-.5zM364.5 327.9l.9 .5 2.4-.8-.9-.4zM366.9 327.2l.9 .4 2.3-.7-.9-.5zM369.2 326.4l.9 .5 2.4-.8-1-.5zM371.5 325.6l1 .5 2.3-.7-.9-.5zM373.9 324.9l.9 .5 2.3-.8-.9-.5zM376.2 324.1l.9 .5 2.4-.7-.9-.5zM378.6 323.4l.9 .5 2.3-.8-.9-.5zM380.9 322.6l.9 .5 2.4-.7-.9-.5zM383.3 321.9l.9 .5 2.3-.8-.9-.5zM385.6 321.1l.9 .5 2.4-.8-.9-.5zM388 320.3l.9 .5 2.3-.7-.9-.5zM390.3 319.6l.9 .5 2.4-.8-.9-.5zM392.7 318.8l.9 .5 2.3-.7-.9-.5zM395 318.1l.9 .5 2.4-.8-1-.5zM397.3 317.3l1 .5 2.3-.7-.9-.5zM399.7 316.6l.9 .5 2.3-.8-.9-.5zM402 315.8l.9 .5 2.4-.8-.9-.5zM404.4 315l.9 .5 2.3-.7-.9-.5zM406.7 314.3l.9 .5 2.4-.8-.9-.5zM409.1 313.5l.9 .5 2.3-.7-.9-.8zM411.4 312.5l.9 .8 2.4-.8-.9-1.4zM413.8 311.1l.9 1.4 2.3-.7-.9-2.3zM416.1 309.5l.9 2.3 2.4-1.1-1-3zM203.6 380.6l.9 .5 2.4-.7-.9-.5zM206 379.9l.9 .5 2.3-.8-.9-.5zM208.3 379.1l.9 .5 2.4-.7-.9-.5zM210.7 378.4l.9 .5 2.3-.8-.9-.5zM213 377.6l.9 .5 2.3-.8-.9-.4zM215.3 376.9l.9 .4 2.4-.7-.9-.5zM217.7 376.1l.9 .5 2.3-.8-.9-.5zM220 375.3l.9 .5 2.4-.7-.9-.5zM222.4 374.6l.9 .5 2.3-.8-.9-.5zM224.7 373.8l.9 .5 2.4-.7-.9-.5zM227.1 373.1l.9 .5 2.3-.8-.9-.5zM229.4 372.3l.9 .5 2.4-.7-.9-.5zM231.8 371.6l.9 .5 2.3-.8-.9-.5zM234.1 370.8l.9 .5 2.4-.8-1-.5zM236.4 370l1 .5 2.3-.7-.9-.5zM238.8 369.3l.9 .5 2.3-.8-.9-.5zM241.1 368.5l.9 .5 2.4-.7-.9-.5zM243.5 367.8l.9 .5 2.3-.8-.9-.5zM245.8 367l.9 .5 2.4-.7-.9-.5zM248.2 366.3l.9 .5 2.3-.8-.9-.5zM250.5 365.5l.9 .5 2.4-.8-.9-.5zM252.9 364.7l.9 .5 2.3-.7-.9-.5zM255.2 364l.9 .5 2.4-.8-.9-.5zM257.6 363.2l.9 .5 2.3-.7-.9-.5zM259.9 362.5l.9 .5 2.3-.8-.9-.5zM262.2 361.7l.9 .5 2.4-.7-.9-.5zM264.6 361l.9 .5 2.3-.8-.9-.5zM266.9 360.2l.9 .5 2.4-.8-.9-.5zM269.3 359.4l.9 .5 2.3-.7-.9-.5zM271.6 358.7l.9 .5 2.4-.8-.9-.5zM274 357.9l.9 .5 2.3-.7-.9-.5zM276.3 357.2l.9 .5 2.4-.8-.9-.5zM278.7 356.4l.9 .5 2.3-.7-.9-.5zM281 355.7l.9 .5 2.4-.8-1-.5zM283.3 354.9l1 .5 2.3-.8-.9-.5zM285.7 354.1l.9 .5 2.3-.7-.9-.5zM288 353.4l.9 .5 2.4-.8-.9-.5zM290.4 352.6l.9 .5 2.3-.7-.9-.5zM292.7 351.9l.9 .5 2.4-.8-.9-.5zM295.1 351.1l.9 .5 2.3-.7-.9-.5zM297.4 350.4l.9 .5 2.4-.8-.9-.5zM299.8 349.6l.9 .5 2.3-.8-.9-.5zM302.1 348.8l.9 .5 2.4-.7-.9-.5zM304.5 348.1l.9 .5 2.3-.8-.9-.5zM306.8 347.3l.9 .5 2.3-.7-.9-.5zM309.1 346.6l.9 .5 2.4-.8-.9-.5zM311.5 345.8l.9 .5 2.3-.7-.9-.5zM313.8 345.1l.9 .5 2.4-.8-.9-.5zM316.2 344.3l.9 .5 2.3-.8-.9-.5zM318.5 343.5l.9 .5 2.4-.7-.9-.5zM320.9 342.8l.9 .5 2.3-.8-.9-.5zM323.2 342l.9 .5 2.4-.7-.9-.5zM325.6 341.3l.9 .5 2.3-.8-.9-.5zM327.9 340.5l.9 .5 2.4-.7-1-.5zM330.2 339.8l1 .5 2.3-.8-.9-.5zM332.6 339l.9 .5 2.3-.8-.9-.5zM334.9 338.2l.9 .5 2.4-.7-.9-.5zM337.3 337.5l.9 .5 2.3-.8-.9-.5zM339.6 336.7l.9 .5 2.4-.7-.9-.5zM342 336l.9 .5 2.3-.8-.9-.5zM344.3 335.2l.9 .5 2.4-.7-.9-.5zM346.7 334.5l.9 .5 2.3-.8-.9-.5zM349 333.7l.9 .5 2.4-.8-.9-.5zM351.4 332.9l.9 .5 2.3-.7-.9-.5zM353.7 332.2l.9 .5 2.3-.8-.9-.5zM356 331.4l.9 .5 2.4-.7-.9-.5zM358.4 330.7l.9 .5 2.3-.8-.9-.5zM360.7 329.9l.9 .5 2.4-.7-.9-.5zM363.1 329.2l.9 .5 2.3-.8-.9-.5zM365.4 328.4l.9 .5 2.4-.8-.9-.5zM367.8 327.6l.9 .5 2.3-.7-.9-.5zM370.1 326.9l.9 .5 2.4-.8-.9-.5zM372.5 326.1l.9 .5 2.3-.7-.9-.5zM374.8 325.4l.9 .5 2.4-.8-1-.5zM377.1 324.6l1 .5 2.3-.7-.9-.5zM379.5 323.9l.9 .5 2.3-.8-.9-.5zM381.8 323.1l.9 .5 2.4-.8-.9-.4zM384.2 322.4l.9 .4 2.3-.7-.9-.5zM386.5 321.6l.9 .5 2.4-.8-.9-.5zM388.9 320.8l.9 .5 2.3-.7-.9-.5zM391.2 320.1l.9 .5 2.4-.8-.9-.5zM393.6 319.3l.9 .5 2.3-.7-.9-.5zM395.9 318.6l.9 .5 2.4-.8-.9-.5zM398.3 317.8l.9 .5 2.3-.8-.9-.4zM400.6 317.1l.9 .4 2.3-.7-.9-.5zM402.9 316.3l.9 .5 2.4-.8-.9-.5zM405.3 315.5l.9 .5 2.3-.7-.9-.5zM407.6 314.8l.9 .5 2.4-.8-.9-.5zM410 314l.9 .5 2.3-.7-.9-.5zM412.3 313.3l.9 .5 2.4-.8-.9-.5zM414.7 312.5l.9 .5 2.3-.8-.9-.4zM417 311.8l.9 .4 2.4-.7-.9-.8zM419.4 310.7l.9 .8 2.3-.8-.9-1.5zM421.7 309.2l.9 1.5 2.4-.7-1-2.6zM204.5 381.1l.9 .5 2.4-.7-.9-.5zM206.9 380.4l.9 .5 2.3-.8-.9-.5zM209.2 379.6l.9 .5 2.4-.7-.9-.5zM211.6 378.9l.9 .5 2.3-.8-.9-.5zM213.9 378.1l.9 .5 2.4-.8-1-.5zM216.2 377.3l1 .5 2.3-.7-.9-.5zM218.6 376.6l.9 .5 2.3-.8-.9-.5zM220.9 375.8l.9 .5 2.4-.7-.9-.5zM223.3 375.1l.9 .5 2.3-.8-.9-.5zM225.6 374.3l.9 .5 2.4-.7-.9-.5zM228 373.6l.9 .5 2.3-.8-.9-.5zM230.3 372.8l.9 .5 2.4-.8-.9-.4zM232.7 372.1l.9 .4 2.3-.7-.9-.5zM235 371.3l.9 .5 2.4-.8-.9-.5zM237.4 370.5l.9 .5 2.3-.7-.9-.5zM239.7 369.8l.9 .5 2.4-.8-1-.5zM242 369l1 .5 2.3-.7-.9-.5zM244.4 368.3l.9 .5 2.3-.8-.9-.5zM246.7 367.5l.9 .5 2.4-.8-.9-.4zM249.1 366.8l.9 .4 2.3-.7-.9-.5zM251.4 366l.9 .5 2.4-.8-.9-.5zM253.8 365.2l.9 .5 2.3-.7-.9-.5zM256.1 364.5l.9 .5 2.4-.8-.9-.5zM258.5 363.7l.9 .5 2.3-.7-.9-.5zM260.8 363l.9 .5 2.4-.8-1-.5zM263.1 362.2l1 .5 2.3-.8-.9-.4zM265.5 361.5l.9 .4 2.3-.7-.9-.5zM267.8 360.7l.9 .5 2.4-.8-.9-.5zM270.2 359.9l.9 .5 2.3-.7-.9-.5zM272.5 359.2l.9 .5 2.4-.8-.9-.5zM274.9 358.4l.9 .5 2.3-.7-.9-.5zM277.2 357.7l.9 .5 2.4-.8-.9-.5zM279.6 356.9l.9 .5 2.3-.8-.9-.4zM281.9 356.2l.9 .4 2.4-.7-.9-.5zM284.3 355.4l.9 .5 2.3-.8-.9-.5zM286.6 354.6l.9 .5 2.4-.7-1-.5zM288.9 353.9l1 .5 2.3-.8-.9-.5zM291.3 353.1l.9 .5 2.3-.7-.9-.5zM293.6 352.4l.9 .5 2.4-.8-.9-.5zM296 351.6l.9 .5 2.3-.8-.9-.4zM298.3 350.9l.9 .4 2.4-.7-.9-.5zM300.7 350.1l.9 .5 2.3-.8-.9-.5zM303 349.3l.9 .5 2.4-.7-.9-.5zM305.4 348.6l.9 .5 2.3-.8-.9-.5zM307.7 347.8l.9 .5 2.4-.7-1-.5zM310 347.1l1 .5 2.3-.8-.9-.5zM312.4 346.3l.9 .5 2.3-.7-.9-.5zM314.7 345.6l.9 .5 2.4-.8-.9-.5zM317.1 344.8l.9 .5 2.3-.8-.9-.5zM319.4 344l.9 .5 2.4-.7-.9-.5zM321.8 343.3l.9 .5 2.3-.8-.9-.5zM324.1 342.5l.9 .5 2.4-.7-.9-.5zM326.5 341.8l.9 .5 2.3-.8-.9-.5zM328.8 341l.9 .5 2.4-.7-.9-.5zM331.2 340.3l.9 .5 2.3-.8-.9-.5zM333.5 339.5l.9 .5 2.4-.8-1-.5zM335.8 338.7l1 .5 2.3-.7-.9-.5zM338.2 338l.9 .5 2.3-.8-.9-.5zM340.5 337.2l.9 .5 2.4-.7-.9-.5zM342.9 336.5l.9 .5 2.3-.8-.9-.5zM345.2 335.7l.9 .5 2.4-.7-.9-.5zM347.6 335l.9 .5 2.3-.8-.9-.5zM349.9 334.2l.9 .5 2.4-.8-.9-.5zM352.3 333.4l.9 .5 2.3-.7-.9-.5zM354.6 332.7l.9 .5 2.4-.8-1-.5zM356.9 331.9l1 .5 2.3-.7-.9-.5zM359.3 331.2l.9 .5 2.3-.8-.9-.5zM361.6 330.4l.9 .5 2.4-.7-.9-.5zM364 329.7l.9 .5 2.3-.8-.9-.5zM366.3 328.9l.9 .5 2.4-.8-.9-.5zM368.7 328.1l.9 .5 2.3-.7-.9-.5zM371 327.4l.9 .5 2.4-.8-.9-.5zM373.4 326.6l.9 .5 2.3-.7-.9-.5zM375.7 325.9l.9 .5 2.4-.8-.9-.5zM378.1 325.1l.9 .5 2.3-.7-.9-.5zM380.4 324.4l.9 .5 2.4-.8-1-.5zM382.7 323.6l1 .5 2.3-.8-.9-.5zM385.1 322.8l.9 .5 2.3-.7-.9-.5zM387.4 322.1l.9 .5 2.4-.8-.9-.5zM389.8 321.3l.9 .5 2.3-.7-.9-.5zM392.1 320.6l.9 .5 2.4-.8-.9-.5zM394.5 319.8l.9 .5 2.3-.7-.9-.5zM396.8 319.1l.9 .5 2.4-.8-.9-.5zM399.2 318.3l.9 .5 2.3-.8-.9-.5zM401.5 317.5l.9 .5 2.4-.7-1-.5zM403.8 316.8l1 .5 2.3-.8-.9-.5zM406.2 316l.9 .5 2.3-.7-.9-.5zM408.5 315.3l.9 .5 2.4-.8-.9-.5zM410.9 314.5l.9 .5 2.3-.7-.9-.5zM413.2 313.8l.9 .5 2.4-.8-.9-.5zM415.6 313l.9 .5 2.3-.8-.9-.5zM417.9 312.2l.9 .5 2.4-.7-.9-.5zM420.3 311.5l.9 .5 2.3-.8-.9-.5zM422.6 310.7l.9 .5 2.4-.7-.9-.5zM425 310l.9 .5 2.3-1-.9-1.1zM427.3 308.4l.9 1.1 2.4-1-1-1.9zM429.6 306.6l1 1.9 2.3-1.2-.9-2.4zM205.4 381.6l.9 .5 2.4-.7-.9-.5zM207.8 380.9l.9 .5 2.3-.8-.9-.5zM210.1 380.1l.9 .5 2.4-.7-.9-.5zM212.5 379.4l.9 .5 2.3-.8-.9-.5zM214.8 378.6l.9 .5 2.4-.8-.9-.5zM217.2 377.8l.9 .5 2.3-.7-.9-.5zM219.5 377.1l.9 .5 2.4-.8-1-.5zM221.8 376.3l1 .5 2.3-.7-.9-.5zM224.2 375.6l.9 .5 2.3-.8-.9-.5zM226.5 374.8l.9 .5 2.4-.7-.9-.5zM228.9 374.1l.9 .5 2.3-.8-.9-.5zM231.2 373.3l.9 .5 2.4-.8-.9-.5zM233.6 372.5l.9 .5 2.3-.7-.9-.5zM235.9 371.8l.9 .5 2.4-.8-.9-.5zM238.3 371l.9 .5 2.3-.7-.9-.5zM240.6 370.3l.9 .5 2.4-.8-.9-.5zM243 369.5l.9 .5 2.3-.7-.9-.5zM245.3 368.8l.9 .5 2.3-.8-.9-.5zM247.6 368l.9 .5 2.4-.8-.9-.5zM250 367.2l.9 .5 2.3-.7-.9-.5zM252.3 366.5l.9 .5 2.4-.8-.9-.5zM254.7 365.7l.9 .5 2.3-.7-.9-.5zM257 365l.9 .5 2.4-.8-.9-.5zM259.4 364.2l.9 .5 2.3-.7-.9-.5zM261.7 363.5l.9 .5 2.4-.8-.9-.5zM264.1 362.7l.9 .5 2.3-.8-.9-.5zM266.4 361.9l.9 .5 2.4-.7-1-.5zM268.7 361.2l1 .5 2.3-.8-.9-.5zM271.1 360.4l.9 .5 2.3-.7-.9-.5zM273.4 359.7l.9 .5 2.4-.8-.9-.5zM275.8 358.9l.9 .5 2.3-.7-.9-.5zM278.1 358.2l.9 .5 2.4-.8-.9-.5zM280.5 357.4l.9 .5 2.3-.8-.9-.5zM282.8 356.6l.9 .5 2.4-.7-.9-.5zM285.2 355.9l.9 .5 2.3-.8-.9-.5zM287.5 355.1l.9 .5 2.4-.7-.9-.5zM289.9 354.4l.9 .5 2.3-.8-.9-.5zM292.2 353.6l.9 .5 2.3-.7-.9-.5zM294.5 352.9l.9 .5 2.4-.8-.9-.5zM296.9 352.1l.9 .5 2.3-.8-.9-.5zM299.2 351.3l.9 .5 2.4-.7-.9-.5zM301.6 350.6l.9 .5 2.3-.8-.9-.5zM303.9 349.8l.9 .5 2.4-.7-.9-.5zM306.3 349.1l.9 .5 2.3-.8-.9-.5zM308.6 348.3l.9 .5 2.4-.7-.9-.5zM311 347.6l.9 .5 2.3-.8-.9-.5zM313.3 346.8l.9 .5 2.4-.8-1-.4zM315.6 346.1l1 .4 2.3-.7-.9-.5zM318 345.3l.9 .5 2.3-.8-.9-.5zM320.3 344.5l.9 .5 2.4-.7-.9-.5zM322.7 343.8l.9 .5 2.3-.8-.9-.5zM325 343l.9 .5 2.4-.7-.9-.5zM327.4 342.3l.9 .5 2.3-.8-.9-.5zM329.7 341.5l.9 .5 2.4-.8-.9-.4zM332.1 340.8l.9 .4 2.3-.7-.9-.5zM334.4 340l.9 .5 2.4-.8-.9-.5zM336.8 339.2l.9 .5 2.3-.7-.9-.5zM339.1 338.5l.9 .5 2.3-.8-.9-.5zM341.4 337.7l.9 .5 2.4-.7-.9-.5zM343.8 337l.9 .5 2.3-.8-.9-.5zM346.1 336.2l.9 .5 2.4-.8-.9-.4zM348.5 335.5l.9 .4 2.3-.7-.9-.5zM350.8 334.7l.9 .5 2.4-.8-.9-.5zM353.2 333.9l.9 .5 2.3-.7-.9-.5zM355.5 333.2l.9 .5 2.4-.8-.9-.5zM357.9 332.4l.9 .5 2.3-.7-.9-.5zM360.2 331.7l.9 .5 2.4-.8-1-.5zM362.5 330.9l1 .5 2.3-.8-.9-.4zM364.9 330.2l.9 .4 2.3-.7-.9-.5zM367.2 329.4l.9 .5 2.4-.8-.9-.5zM369.6 328.6l.9 .5 2.3-.7-.9-.5zM371.9 327.9l.9 .5 2.4-.8-.9-.5zM374.3 327.1l.9 .5 2.3-.7-.9-.5zM376.6 326.4l.9 .5 2.4-.8-.9-.5zM379 325.6l.9 .5 2.3-.8-.9-.4zM381.3 324.9l.9 .4 2.4-.7-.9-.5zM383.7 324.1l.9 .5 2.3-.8-.9-.5zM386 323.3l.9 .5 2.3-.7-.9-.5zM388.3 322.6l.9 .5 2.4-.8-.9-.5zM390.7 321.8l.9 .5 2.3-.7-.9-.5zM393 321.1l.9 .5 2.4-.8-.9-.5zM395.4 320.3l.9 .5 2.3-.7-.9-.5zM397.7 319.6l.9 .5 2.4-.8-.9-.5zM400.1 318.8l.9 .5 2.3-.8-.9-.5zM402.4 318l.9 .5 2.4-.7-.9-.5zM404.8 317.3l.9 .5 2.3-.8-.9-.5zM407.1 316.5l.9 .5 2.4-.7-1-.5zM409.4 315.8l1 .5 2.3-.8-.9-.5zM411.8 315l.9 .5 2.3-.7-.9-.5zM414.1 314.3l.9 .5 2.4-.8-.9-.5zM416.5 313.5l.9 .5 2.3-.8-.9-.5zM418.8 312.7l.9 .5 2.4-.7-.9-.5zM421.2 312l.9 .5 2.3-.8-.9-.5zM423.5 311.2l.9 .5 2.4-.7-.9-.5zM425.9 310.5l.9 .5 2.3-.9-.9-.6zM428.2 309.5l.9 .6 2.4-.8-.9-.8zM430.6 308.5l.9 .8 2.3-.9-.9-1.1zM432.9 307.3l.9 1.1 2.3-1-.9-1.5zM435.2 305.9l.9 1.5 2.4-.9-.9-1.8zM437.6 304.7l.9 1.8 2.3-.9-.9-1.7zM206.3 382.1l.9 .5 2.4-.7-.9-.5zM208.7 381.4l.9 .5 2.3-.8-.9-.5zM211 380.6l.9 .5 2.4-.8-.9-.4zM213.4 379.9l.9 .4 2.3-.7-.9-.5zM215.7 379.1l.9 .5 2.4-.8-.9-.5zM218.1 378.3l.9 .5 2.3-.7-.9-.5zM220.4 377.6l.9 .5 2.4-.8-.9-.5zM222.8 376.8l.9 .5 2.3-.7-.9-.5zM225.1 376.1l.9 .5 2.4-.8-1-.5zM227.4 375.3l1 .5 2.3-.8-.9-.4zM229.8 374.6l.9 .4 2.3-.7-.9-.5zM232.1 373.8l.9 .5 2.4-.8-.9-.5zM234.5 373l.9 .5 2.3-.7-.9-.5zM236.8 372.3l.9 .5 2.4-.8-.9-.5zM239.2 371.5l.9 .5 2.3-.7-.9-.5zM241.5 370.8l.9 .5 2.4-.8-.9-.5zM243.9 370l.9 .5 2.3-.7-.9-.5zM246.2 369.3l.9 .5 2.4-.8-1-.5zM248.5 368.5l1 .5 2.3-.8-.9-.5zM250.9 367.7l.9 .5 2.3-.7-.9-.5zM253.2 367l.9 .5 2.4-.8-.9-.5zM255.6 366.2l.9 .5 2.3-.7-.9-.5zM257.9 365.5l.9 .5 2.4-.8-.9-.5zM260.3 364.7l.9 .5 2.3-.7-.9-.5zM262.6 364l.9 .5 2.4-.8-.9-.5zM265 363.2l.9 .5 2.3-.8-.9-.5zM267.3 362.4l.9 .5 2.4-.7-.9-.5zM269.7 361.7l.9 .5 2.3-.8-.9-.5zM272 360.9l.9 .5 2.4-.7-1-.5zM274.3 360.2l1 .5 2.3-.8-.9-.5zM276.7 359.4l.9 .5 2.3-.7-.9-.5zM279 358.7l.9 .5 2.4-.8-.9-.5zM281.4 357.9l.9 .5 2.3-.8-.9-.5zM283.7 357.1l.9 .5 2.4-.7-.9-.5zM286.1 356.4l.9 .5 2.3-.8-.9-.5zM288.4 355.6l.9 .5 2.4-.7-.9-.5zM290.8 354.9l.9 .5 2.3-.8-.9-.5zM293.1 354.1l.9 .5 2.4-.7-1-.5zM295.4 353.4l1 .5 2.3-.8-.9-.5zM297.8 352.6l.9 .5 2.3-.8-.9-.5zM300.1 351.8l.9 .5 2.4-.7-.9-.5zM302.5 351.1l.9 .5 2.3-.8-.9-.5zM304.8 350.3l.9 .5 2.4-.7-.9-.5zM307.2 349.6l.9 .5 2.3-.8-.9-.5zM309.5 348.8l.9 .5 2.4-.7-.9-.5zM311.9 348.1l.9 .5 2.3-.8-.9-.5zM314.2 347.3l.9 .5 2.4-.8-.9-.5zM316.6 346.5l.9 .5 2.3-.7-.9-.5zM318.9 345.8l.9 .5 2.4-.8-1-.5zM321.2 345l1 .5 2.3-.7-.9-.5zM323.6 344.3l.9 .5 2.3-.8-.9-.5zM325.9 343.5l.9 .5 2.4-.7-.9-.5zM328.3 342.8l.9 .5 2.3-.8-.9-.5zM330.6 342l.9 .5 2.4-.8-.9-.5zM333 341.2l.9 .5 2.3-.7-.9-.5zM335.3 340.5l.9 .5 2.4-.8-.9-.5zM337.7 339.7l.9 .5 2.3-.7-.9-.5zM340 339l.9 .5 2.4-.8-1-.5zM342.3 338.2l1 .5 2.3-.7-.9-.5zM344.7 337.5l.9 .5 2.3-.8-.9-.5zM347 336.7l.9 .5 2.4-.8-.9-.5zM349.4 335.9l.9 .5 2.3-.7-.9-.5zM351.7 335.2l.9 .5 2.4-.8-.9-.5zM354.1 334.4l.9 .5 2.3-.7-.9-.5zM356.4 333.7l.9 .5 2.4-.8-.9-.5zM358.8 332.9l.9 .5 2.3-.7-.9-.5zM361.1 332.2l.9 .5 2.4-.8-.9-.5zM363.5 331.4l.9 .5 2.3-.8-.9-.5zM365.8 330.6l.9 .5 2.4-.7-1-.5zM368.1 329.9l1 .5 2.3-.8-.9-.5zM370.5 329.1l.9 .5 2.3-.7-.9-.5zM372.8 328.4l.9 .5 2.4-.8-.9-.5zM375.2 327.6l.9 .5 2.3-.7-.9-.5zM377.5 326.9l.9 .5 2.4-.8-.9-.5zM379.9 326.1l.9 .5 2.3-.8-.9-.5zM382.2 325.3l.9 .5 2.4-.7-.9-.5zM384.6 324.6l.9 .5 2.3-.8-.9-.5zM386.9 323.8l.9 .5 2.4-.7-1-.5zM389.2 323.1l1 .5 2.3-.8-.9-.5zM391.6 322.3l.9 .5 2.3-.7-.9-.5zM393.9 321.6l.9 .5 2.4-.8-.9-.5zM396.3 320.8l.9 .5 2.3-.8-.9-.4zM398.6 320.1l.9 .4 2.4-.7-.9-.5zM401 319.3l.9 .5 2.3-.8-.9-.5zM403.3 318.5l.9 .5 2.4-.7-.9-.5zM405.7 317.8l.9 .5 2.3-.8-.9-.5zM408 317l.9 .5 2.4-.7-.9-.5zM410.4 316.3l.9 .5 2.3-.8-.9-.5zM412.7 315.5l.9 .5 2.4-.8-1-.4zM415 314.8l1 .4 2.3-.7-.9-.5zM417.4 314l.9 .5 2.3-.8-.9-.5zM419.7 313.2l.9 .5 2.4-.7-.9-.5zM422.1 312.5l.9 .5 2.3-.8-.9-.5zM424.4 311.7l.9 .5 2.4-.7-.9-.5zM426.8 311l.9 .5 2.3-.8-.9-.6zM429.1 310.1l.9 .6 2.4-.8-.9-.6zM431.5 309.3l.9 .6 2.3-.7-.9-.8zM433.8 308.4l.9 .8 2.4-.8-1-1zM436.1 307.4l1 1 2.3-.8-.9-1.1zM438.5 306.5l.9 1.1 2.3-.8-.9-1.2zM207.2 382.6l1 .5 2.3-.7-.9-.5zM209.6 381.9l.9 .5 2.3-.8-.9-.5zM211.9 381.1l.9 .5 2.4-.8-.9-.5zM214.3 380.3l.9 .5 2.3-.7-.9-.5zM216.6 379.6l.9 .5 2.4-.8-.9-.5zM219 378.8l.9 .5 2.3-.7-.9-.5zM221.3 378.1l.9 .5 2.4-.8-.9-.5zM223.7 377.3l.9 .5 2.3-.7-.9-.5zM226 376.6l.9 .5 2.4-.8-.9-.5zM228.4 375.8l.9 .5 2.3-.8-.9-.5zM230.7 375l.9 .5 2.3-.7-.9-.5zM233 374.3l.9 .5 2.4-.8-.9-.5zM235.4 373.5l.9 .5 2.3-.7-.9-.5zM237.7 372.8l.9 .5 2.4-.8-.9-.5zM240.1 372l.9 .5 2.3-.7-.9-.5zM242.4 371.3l.9 .5 2.4-.8-.9-.5zM244.8 370.5l.9 .5 2.3-.8-.9-.4zM247.1 369.8l.9 .4 2.4-.7-.9-.5zM249.5 369l.9 .5 2.3-.8-.9-.5zM251.8 368.2l.9 .5 2.4-.7-1-.5zM254.1 367.5l1 .5 2.3-.8-.9-.5zM256.5 366.7l.9 .5 2.3-.7-.9-.5zM258.8 366l.9 .5 2.4-.8-.9-.5zM261.2 365.2l.9 .5 2.3-.8-.9-.4zM263.5 364.5l.9 .4 2.4-.7-.9-.5zM265.9 363.7l.9 .5 2.3-.8-.9-.5zM268.2 362.9l.9 .5 2.4-.7-.9-.5zM270.6 362.2l.9 .5 2.3-.8-.9-.5zM272.9 361.4l.9 .5 2.4-.7-.9-.5zM275.3 360.7l.9 .5 2.3-.8-.9-.5zM277.6 359.9l.9 .5 2.3-.8-.9-.4zM279.9 359.2l.9 .4 2.4-.7-.9-.5zM282.3 358.4l.9 .5 2.3-.8-.9-.5zM284.6 357.6l.9 .5 2.4-.7-.9-.5zM287 356.9l.9 .5 2.3-.8-.9-.5zM289.3 356.1l.9 .5 2.4-.7-.9-.5zM291.7 355.4l.9 .5 2.3-.8-.9-.5zM294 354.6l.9 .5 2.4-.8-.9-.4zM296.4 353.9l.9 .4 2.3-.7-.9-.5zM298.7 353.1l.9 .5 2.4-.8-1-.5zM301 352.3l1 .5 2.3-.7-.9-.5zM303.4 351.6l.9 .5 2.3-.8-.9-.5zM305.7 350.8l.9 .5 2.4-.7-.9-.5zM308.1 350.1l.9 .5 2.3-.8-.9-.5zM310.4 349.3l.9 .5 2.4-.8-.9-.4zM312.8 348.6l.9 .4 2.3-.7-.9-.5zM315.1 347.8l.9 .5 2.4-.8-.9-.5zM317.5 347l.9 .5 2.3-.7-.9-.5zM319.8 346.3l.9 .5 2.4-.8-.9-.5zM322.2 345.5l.9 .5 2.3-.7-.9-.5zM324.5 344.8l.9 .5 2.3-.8-.9-.5zM326.8 344l.9 .5 2.4-.7-.9-.5zM329.2 343.3l.9 .5 2.3-.8-.9-.5zM331.5 342.5l.9 .5 2.4-.8-.9-.5zM333.9 341.7l.9 .5 2.3-.7-.9-.5zM336.2 341l.9 .5 2.4-.8-.9-.5zM338.6 340.2l.9 .5 2.3-.7-.9-.5zM340.9 339.5l.9 .5 2.4-.8-.9-.5zM343.3 338.7l.9 .5 2.3-.7-.9-.5zM345.6 338l.9 .5 2.4-.8-1-.5zM347.9 337.2l1 .5 2.3-.8-.9-.5zM350.3 336.4l.9 .5 2.3-.7-.9-.5zM352.6 335.7l.9 .5 2.4-.8-.9-.5zM355 334.9l.9 .5 2.3-.7-.9-.5zM357.3 334.2l.9 .5 2.4-.8-.9-.5zM359.7 333.4l.9 .5 2.3-.7-.9-.5zM362 332.7l.9 .5 2.4-.8-.9-.5zM364.4 331.9l.9 .5 2.3-.8-.9-.5zM366.7 331.1l.9 .5 2.4-.7-.9-.5zM369.1 330.4l.9 .5 2.3-.8-.9-.5zM371.4 329.6l.9 .5 2.3-.7-.9-.5zM373.7 328.9l.9 .5 2.4-.8-.9-.5zM376.1 328.1l.9 .5 2.3-.7-.9-.5zM378.4 327.4l.9 .5 2.4-.8-.9-.5zM380.8 326.6l.9 .5 2.3-.8-.9-.5zM383.1 325.8l.9 .5 2.4-.7-.9-.5zM385.5 325.1l.9 .5 2.3-.8-.9-.5zM387.8 324.3l.9 .5 2.4-.7-.9-.5zM390.2 323.6l.9 .5 2.3-.8-.9-.5zM392.5 322.8l.9 .5 2.4-.7-1-.5zM394.8 322.1l1 .5 2.3-.8-.9-.5zM397.2 321.3l.9 .5 2.3-.8-.9-.5zM399.5 320.5l.9 .5 2.4-.7-.9-.5zM401.9 319.8l.9 .5 2.3-.8-.9-.5zM404.2 319l.9 .5 2.4-.7-.9-.5zM406.6 318.3l.9 .5 2.3-.8-.9-.5zM408.9 317.5l.9 .5 2.4-.7-.9-.5zM411.3 316.8l.9 .5 2.3-.8-.9-.5zM413.6 316l.9 .5 2.4-.8-.9-.5zM416 315.2l.9 .5 2.3-.7-.9-.5zM418.3 314.5l.9 .5 2.3-.8-.9-.5zM420.6 313.7l.9 .5 2.4-.7-.9-.5zM423 313l.9 .5 2.3-.8-.9-.5zM425.3 312.2l.9 .5 2.4-.7-.9-.5zM427.7 311.5l.9 .5 2.3-.8-.9-.5zM430 310.7l.9 .5 2.4-.8-.9-.5zM432.4 309.9l.9 .5 2.3-.7-.9-.5zM434.7 309.2l.9 .5 2.4-.8-.9-.5zM437.1 308.4l.9 .5 2.3-.7-.9-.6zM439.4 307.6l.9 .6 2.4-.8-1-.6zM208.2 383.1l.9 .5 2.3-.7-.9-.5zM210.5 382.4l.9 .5 2.4-.8-1-.5zM212.8 381.6l1 .5 2.3-.8-.9-.5zM215.2 380.8l.9 .5 2.3-.7-.9-.5zM217.5 380.1l.9 .5 2.4-.8-.9-.5zM219.9 379.3l.9 .5 2.3-.7-.9-.5zM222.2 378.6l.9 .5 2.4-.8-.9-.5zM224.6 377.8l.9 .5 2.3-.7-.9-.5zM226.9 377.1l.9 .5 2.4-.8-.9-.5zM229.3 376.3l.9 .5 2.3-.8-.9-.5zM231.6 375.5l.9 .5 2.4-.7-1-.5zM233.9 374.8l1 .5 2.3-.8-.9-.5zM236.3 374l.9 .5 2.3-.7-.9-.5zM238.6 373.3l.9 .5 2.4-.8-.9-.5zM241 372.5l.9 .5 2.3-.7-.9-.5zM243.3 371.8l.9 .5 2.4-.8-.9-.5zM245.7 371l.9 .5 2.3-.8-.9-.5zM248 370.2l.9 .5 2.4-.7-.9-.5zM250.4 369.5l.9 .5 2.3-.8-.9-.5zM252.7 368.7l.9 .5 2.4-.7-.9-.5zM255.1 368l.9 .5 2.3-.8-.9-.5zM257.4 367.2l.9 .5 2.4-.7-1-.5zM259.7 366.5l1 .5 2.3-.8-.9-.5zM262.1 365.7l.9 .5 2.3-.8-.9-.5zM264.4 364.9l.9 .5 2.4-.7-.9-.5zM266.8 364.2l.9 .5 2.3-.8-.9-.5zM269.1 363.4l.9 .5 2.4-.7-.9-.5zM271.5 362.7l.9 .5 2.3-.8-.9-.5zM273.8 361.9l.9 .5 2.4-.7-.9-.5zM276.2 361.2l.9 .5 2.3-.8-.9-.5zM278.5 360.4l.9 .5 2.4-.8-1-.5zM280.8 359.6l1 .5 2.3-.7-.9-.5zM283.2 358.9l.9 .5 2.3-.8-.9-.5zM285.5 358.1l.9 .5 2.4-.7-.9-.5zM287.9 357.4l.9 .5 2.3-.8-.9-.5zM290.2 356.6l.9 .5 2.4-.7-.9-.5zM292.6 355.9l.9 .5 2.3-.8-.9-.5zM294.9 355.1l.9 .5 2.4-.8-.9-.5zM297.3 354.3l.9 .5 2.3-.7-.9-.5zM299.6 353.6l.9 .5 2.4-.8-.9-.5zM302 352.8l.9 .5 2.3-.7-.9-.5zM304.3 352.1l.9 .5 2.4-.8-1-.5zM306.6 351.3l1 .5 2.3-.7-.9-.5zM309 350.6l.9 .5 2.3-.8-.9-.5zM311.3 349.8l.9 .5 2.4-.8-.9-.5zM313.7 349l.9 .5 2.3-.7-.9-.5zM316 348.3l.9 .5 2.4-.8-.9-.5zM318.4 347.5l.9 .5 2.3-.7-.9-.5zM320.7 346.8l.9 .5 2.4-.8-.9-.5zM323.1 346l.9 .5 2.3-.7-.9-.5zM325.4 345.3l.9 .5 2.4-.8-1-.5zM327.7 344.5l1 .5 2.3-.8-.9-.4zM330.1 343.8l.9 .4 2.3-.7-.9-.5zM332.4 343l.9 .5 2.4-.8-.9-.5zM334.8 342.2l.9 .5 2.3-.7-.9-.5zM337.1 341.5l.9 .5 2.4-.8-.9-.5zM339.5 340.7l.9 .5 2.3-.7-.9-.5zM341.8 340l.9 .5 2.4-.8-.9-.5zM344.2 339.2l.9 .5 2.3-.8-.9-.4zM346.5 338.5l.9 .4 2.4-.7-.9-.5zM348.9 337.7l.9 .5 2.3-.8-.9-.5zM351.2 336.9l.9 .5 2.4-.7-1-.5zM353.5 336.2l1 .5 2.3-.8-.9-.5zM355.9 335.4l.9 .5 2.3-.7-.9-.5zM358.2 334.7l.9 .5 2.4-.8-.9-.5zM360.6 333.9l.9 .5 2.3-.8-.9-.4zM362.9 333.2l.9 .4 2.4-.7-.9-.5zM365.3 332.4l.9 .5 2.3-.8-.9-.5zM367.6 331.6l.9 .5 2.4-.7-.9-.5zM370 330.9l.9 .5 2.3-.8-.9-.5zM372.3 330.1l.9 .5 2.4-.7-1-.5zM374.6 329.4l1 .5 2.3-.8-.9-.5zM377 328.6l.9 .5 2.3-.8-.9-.4zM379.3 327.9l.9 .4 2.4-.7-.9-.5zM381.7 327.1l.9 .5 2.3-.8-.9-.5zM384 326.3l.9 .5 2.4-.7-.9-.5zM386.4 325.6l.9 .5 2.3-.8-.9-.5zM388.7 324.8l.9 .5 2.4-.7-.9-.5zM391.1 324.1l.9 .5 2.3-.8-.9-.5zM393.4 323.3l.9 .5 2.4-.8-.9-.4zM395.8 322.6l.9 .4 2.3-.7-.9-.5zM398.1 321.8l.9 .5 2.4-.8-1-.5zM400.4 321l1 .5 2.3-.7-.9-.5zM402.8 320.3l.9 .5 2.3-.8-.9-.5zM405.1 319.5l.9 .5 2.4-.7-.9-.5zM407.5 318.8l.9 .5 2.3-.8-.9-.5zM409.8 318l.9 .5 2.4-.7-.9-.5zM412.2 317.3l.9 .5 2.3-.8-.9-.5zM414.5 316.5l.9 .5 2.4-.8-.9-.5zM416.9 315.7l.9 .5 2.3-.7-.9-.5zM419.2 315l.9 .5 2.4-.8-1-.5zM421.5 314.2l1 .5 2.3-.7-.9-.5zM423.9 313.5l.9 .5 2.3-.8-.9-.5zM426.2 312.7l.9 .5 2.4-.7-.9-.5zM428.6 312l.9 .5 2.3-.8-.9-.5zM430.9 311.2l.9 .5 2.4-.8-.9-.5zM433.3 310.4l.9 .5 2.3-.7-.9-.5zM435.6 309.7l.9 .5 2.4-.8-.9-.5zM438 308.9l.9 .5 2.3-.7-.9-.5zM440.3 308.2l.9 .5 2.4-.8-.9-.5zM209.1 383.6l.9 .5 2.3-.8-.9-.4zM211.4 382.9l.9 .4 2.4-.7-.9-.5zM213.8 382.1l.9 .5 2.3-.8-.9-.5zM216.1 381.3l.9 .5 2.4-.7-1-.5zM218.4 380.6l1 .5 2.3-.8-.9-.5zM220.8 379.8l.9 .5 2.3-.7-.9-.5zM223.1 379.1l.9 .5 2.4-.8-.9-.5zM225.5 378.3l.9 .5 2.3-.8-.9-.4zM227.8 377.6l.9 .4 2.4-.7-.9-.5zM230.2 376.8l.9 .5 2.3-.8-.9-.5zM232.5 376l.9 .5 2.4-.7-.9-.5zM234.9 375.3l.9 .5 2.3-.8-.9-.5zM237.2 374.5l.9 .5 2.4-.7-1-.5zM239.5 373.8l1 .5 2.3-.8-.9-.5zM241.9 373l.9 .5 2.3-.8-.9-.4zM244.2 372.3l.9 .4 2.4-.7-.9-.5zM246.6 371.5l.9 .5 2.3-.8-.9-.5zM248.9 370.7l.9 .5 2.4-.7-.9-.5zM251.3 370l.9 .5 2.3-.8-.9-.5zM253.6 369.2l.9 .5 2.4-.7-.9-.5zM256 368.5l.9 .5 2.3-.8-.9-.5zM258.3 367.7l.9 .5 2.4-.8-.9-.4zM260.7 367l.9 .4 2.3-.7-.9-.5zM263 366.2l.9 .5 2.4-.8-1-.5zM265.3 365.4l1 .5 2.3-.7-.9-.5zM267.7 364.7l.9 .5 2.3-.8-.9-.5zM270 363.9l.9 .5 2.4-.7-.9-.5zM272.4 363.2l.9 .5 2.3-.8-.9-.5zM274.7 362.4l.9 .5 2.4-.7-.9-.5zM277.1 361.7l.9 .5 2.3-.8-.9-.5zM279.4 360.9l.9 .5 2.4-.8-.9-.5zM281.8 360.1l.9 .5 2.3-.7-.9-.5zM284.1 359.4l.9 .5 2.4-.8-1-.5zM286.4 358.6l1 .5 2.3-.7-.9-.5zM288.8 357.9l.9 .5 2.3-.8-.9-.5zM291.1 357.1l.9 .5 2.4-.7-.9-.5zM293.5 356.4l.9 .5 2.3-.8-.9-.5zM295.8 355.6l.9 .5 2.4-.8-.9-.5zM298.2 354.8l.9 .5 2.3-.7-.9-.5zM300.5 354.1l.9 .5 2.4-.8-.9-.5zM302.9 353.3l.9 .5 2.3-.7-.9-.5zM305.2 352.6l.9 .5 2.4-.8-.9-.5zM307.6 351.8l.9 .5 2.3-.7-.9-.5zM309.9 351.1l.9 .5 2.4-.8-1-.5zM312.2 350.3l1 .5 2.3-.8-.9-.5zM314.6 349.5l.9 .5 2.3-.7-.9-.5zM316.9 348.8l.9 .5 2.4-.8-.9-.5zM319.3 348l.9 .5 2.3-.7-.9-.5zM321.6 347.3l.9 .5 2.4-.8-.9-.5zM324 346.5l.9 .5 2.3-.7-.9-.5zM326.3 345.8l.9 .5 2.4-.8-.9-.5zM328.7 345l.9 .5 2.3-.8-.9-.5zM331 344.2l.9 .5 2.4-.7-1-.5zM333.3 343.5l1 .5 2.3-.8-.9-.5zM335.7 342.7l.9 .5 2.3-.7-.9-.5zM338 342l.9 .5 2.4-.8-.9-.5zM340.4 341.2l.9 .5 2.3-.7-.9-.5zM342.7 340.5l.9 .5 2.4-.8-.9-.5zM345.1 339.7l.9 .5 2.3-.8-.9-.5zM347.4 338.9l.9 .5 2.4-.7-.9-.5zM349.8 338.2l.9 .5 2.3-.8-.9-.5zM352.1 337.4l.9 .5 2.4-.7-.9-.5zM354.5 336.7l.9 .5 2.3-.8-.9-.5zM356.8 335.9l.9 .5 2.4-.7-1-.5zM359.1 335.2l1 .5 2.3-.8-.9-.5zM361.5 334.4l.9 .5 2.3-.8-.9-.5zM363.8 333.6l.9 .5 2.4-.7-.9-.5zM366.2 332.9l.9 .5 2.3-.8-.9-.5zM368.5 332.1l.9 .5 2.4-.7-.9-.5zM370.9 331.4l.9 .5 2.3-.8-.9-.5zM373.2 330.6l.9 .5 2.4-.7-.9-.5zM375.6 329.9l.9 .5 2.3-.8-.9-.5zM377.9 329.1l.9 .5 2.4-.8-1-.5zM380.2 328.3l1 .5 2.3-.7-.9-.5zM382.6 327.6l.9 .5 2.3-.8-.9-.5zM384.9 326.8l.9 .5 2.4-.7-.9-.5zM387.3 326.1l.9 .5 2.3-.8-.9-.5zM389.6 325.3l.9 .5 2.4-.7-.9-.5zM392 324.6l.9 .5 2.3-.8-.9-.5zM394.3 323.8l.9 .5 2.4-.8-.9-.5zM396.7 323l.9 .5 2.3-.7-.9-.5zM399 322.3l.9 .5 2.4-.8-.9-.5zM401.4 321.5l.9 .5 2.3-.7-.9-.5zM403.7 320.8l.9 .5 2.4-.8-1-.5zM406 320l1 .5 2.3-.7-.9-.5zM408.4 319.3l.9 .5 2.3-.8-.9-.5zM410.7 318.5l.9 .5 2.4-.8-.9-.4zM413.1 317.8l.9 .4 2.3-.7-.9-.5zM415.4 317l.9 .5 2.4-.8-.9-.5zM417.8 316.2l.9 .5 2.3-.7-.9-.5zM420.1 315.5l.9 .5 2.4-.8-.9-.5zM422.5 314.7l.9 .5 2.3-.7-.9-.5zM424.8 314l.9 .5 2.4-.8-1-.5zM427.1 313.2l1 .5 2.3-.8-.9-.4zM429.5 312.5l.9 .4 2.3-.7-.9-.5zM431.8 311.7l.9 .5 2.4-.8-.9-.5zM434.2 310.9l.9 .5 2.3-.7-.9-.5zM436.5 310.2l.9 .5 2.4-.8-.9-.5zM438.9 309.4l.9 .5 2.3-.7-.9-.5zM441.2 308.7l.9 .5 2.4-.8-.9-.5zM210 384.1l.9 .5 2.3-.8-.9-.5zM212.3 383.3l.9 .5 2.4-.7-.9-.5zM214.7 382.6l.9 .5 2.3-.8-.9-.5zM217 381.8l.9 .5 2.4-.7-.9-.5zM219.4 381.1l.9 .5 2.3-.8-.9-.5zM221.7 380.3l.9 .5 2.3-.7-.9-.5zM224 379.6l.9 .5 2.4-.8-.9-.5zM226.4 378.8l.9 .5 2.3-.8-.9-.5zM228.7 378l.9 .5 2.4-.7-.9-.5zM231.1 377.3l.9 .5 2.3-.8-.9-.5zM233.4 376.5l.9 .5 2.4-.7-.9-.5zM235.8 375.8l.9 .5 2.3-.8-.9-.5zM238.1 375l.9 .5 2.4-.7-.9-.5zM240.5 374.3l.9 .5 2.3-.8-.9-.5zM242.8 373.5l.9 .5 2.4-.8-1-.5zM245.1 372.7l1 .5 2.3-.7-.9-.5zM247.5 372l.9 .5 2.3-.8-.9-.5zM249.8 371.2l.9 .5 2.4-.7-.9-.5zM252.2 370.5l.9 .5 2.3-.8-.9-.5zM254.5 369.7l.9 .5 2.4-.7-.9-.5zM256.9 369l.9 .5 2.3-.8-.9-.5zM259.2 368.2l.9 .5 2.4-.8-.9-.5zM261.6 367.4l.9 .5 2.3-.7-.9-.5zM263.9 366.7l.9 .5 2.4-.8-.9-.5zM266.3 365.9l.9 .5 2.3-.7-.9-.5zM268.6 365.2l.9 .5 2.3-.8-.9-.5zM270.9 364.4l.9 .5 2.4-.7-.9-.5zM273.3 363.7l.9 .5 2.3-.8-.9-.5zM275.6 362.9l.9 .5 2.4-.8-.9-.4zM278 362.2l.9 .4 2.3-.7-.9-.5zM280.3 361.4l.9 .5 2.4-.8-.9-.5zM282.7 360.6l.9 .5 2.3-.7-.9-.5zM285 359.9l.9 .5 2.4-.8-.9-.5zM287.4 359.1l.9 .5 2.3-.7-.9-.5zM289.7 358.4l.9 .5 2.4-.8-1-.5zM292 357.6l1 .5 2.3-.8-.9-.4zM294.4 356.9l.9 .4 2.3-.7-.9-.5zM296.7 356.1l.9 .5 2.4-.8-.9-.5zM299.1 355.3l.9 .5 2.3-.7-.9-.5zM301.4 354.6l.9 .5 2.4-.8-.9-.5zM303.8 353.8l.9 .5 2.3-.7-.9-.5zM306.1 353.1l.9 .5 2.4-.8-.9-.5zM308.5 352.3l.9 .5 2.3-.8-.9-.4zM310.8 351.6l.9 .4 2.4-.7-.9-.5zM313.2 350.8l.9 .5 2.3-.8-.9-.5zM315.5 350l.9 .5 2.3-.7-.9-.5zM317.8 349.3l.9 .5 2.4-.8-.9-.5zM320.2 348.5l.9 .5 2.3-.7-.9-.5zM322.5 347.8l.9 .5 2.4-.8-.9-.5zM324.9 347l.9 .5 2.3-.8-.9-.4zM327.2 346.3l.9 .4 2.4-.7-.9-.5zM329.6 345.5l.9 .5 2.3-.8-.9-.5zM331.9 344.7l.9 .5 2.4-.7-.9-.5zM334.3 344l.9 .5 2.3-.8-.9-.5zM336.6 343.2l.9 .5 2.4-.7-1-.5zM338.9 342.5l1 .5 2.3-.8-.9-.5zM341.3 341.7l.9 .5 2.3-.8-.9-.4zM343.6 341l.9 .4 2.4-.7-.9-.5zM346 340.2l.9 .5 2.3-.8-.9-.5zM348.3 339.4l.9 .5 2.4-.7-.9-.5zM350.7 338.7l.9 .5 2.3-.8-.9-.5zM353 337.9l.9 .5 2.4-.7-.9-.5zM355.4 337.2l.9 .5 2.3-.8-.9-.5zM357.7 336.4l.9 .5 2.4-.7-.9-.5zM360.1 335.7l.9 .5 2.3-.8-.9-.5zM362.4 334.9l.9 .5 2.3-.8-.9-.5zM364.7 334.1l.9 .5 2.4-.7-.9-.5zM367.1 333.4l.9 .5 2.3-.8-.9-.5zM369.4 332.6l.9 .5 2.4-.7-.9-.5zM371.8 331.9l.9 .5 2.3-.8-.9-.5zM374.1 331.1l.9 .5 2.4-.7-.9-.5zM376.5 330.4l.9 .5 2.3-.8-.9-.5zM378.8 329.6l.9 .5 2.4-.8-.9-.5zM381.2 328.8l.9 .5 2.3-.7-.9-.5zM383.5 328.1l.9 .5 2.4-.8-1-.5zM385.8 327.3l1 .5 2.3-.7-.9-.5zM388.2 326.6l.9 .5 2.3-.8-.9-.5zM390.5 325.8l.9 .5 2.4-.7-.9-.5zM392.9 325.1l.9 .5 2.3-.8-.9-.5zM395.2 324.3l.9 .5 2.4-.8-.9-.5zM397.6 323.5l.9 .5 2.3-.7-.9-.5zM399.9 322.8l.9 .5 2.4-.8-.9-.5zM402.3 322l.9 .5 2.3-.7-.9-.5zM404.6 321.3l.9 .5 2.4-.8-.9-.5zM407 320.5l.9 .5 2.3-.7-.9-.5zM409.3 319.8l.9 .5 2.3-.8-.9-.5zM411.6 319l.9 .5 2.4-.8-.9-.5zM414 318.2l.9 .5 2.3-.7-.9-.5zM416.3 317.5l.9 .5 2.4-.8-.9-.5zM418.7 316.7l.9 .5 2.3-.7-.9-.5zM421 316l.9 .5 2.4-.8-.9-.5zM423.4 315.2l.9 .5 2.3-.7-.9-.5zM425.7 314.5l.9 .5 2.4-.8-.9-.5zM428.1 313.7l.9 .5 2.3-.8-.9-.5zM430.4 312.9l.9 .5 2.4-.7-1-.5zM432.7 312.2l1 .5 2.3-.8-.9-.5zM435.1 311.4l.9 .5 2.3-.7-.9-.5zM437.4 310.7l.9 .5 2.4-.8-.9-.5zM439.8 309.9l.9 .5 2.3-.7-.9-.5zM442.1 309.2l.9 .5 2.4-.8-.9-.5zM210.9 384.6l.9 .5 2.3-.8-.9-.5zM213.2 383.8l.9 .5 2.4-.7-.9-.5zM215.6 383.1l.9 .5 2.3-.8-.9-.5zM217.9 382.3l.9 .5 2.4-.7-.9-.5zM220.3 381.6l.9 .5 2.3-.8-.9-.5zM222.6 380.8l.9 .5 2.4-.7-1-.5zM224.9 380.1l1 .5 2.3-.8-.9-.5zM227.3 379.3l.9 .5 2.3-.8-.9-.5zM229.6 378.5l.9 .5 2.4-.7-.9-.5zM232 377.8l.9 .5 2.3-.8-.9-.5zM234.3 377l.9 .5 2.4-.7-.9-.5zM236.7 376.3l.9 .5 2.3-.8-.9-.5zM239 375.5l.9 .5 2.4-.7-.9-.5zM241.4 374.8l.9 .5 2.3-.8-.9-.5zM243.7 374l.9 .5 2.4-.8-.9-.5zM246.1 373.2l.9 .5 2.3-.7-.9-.5zM248.4 372.5l.9 .5 2.4-.8-1-.5zM250.7 371.7l1 .5 2.3-.7-.9-.5zM253.1 371l.9 .5 2.3-.8-.9-.5zM255.4 370.2l.9 .5 2.4-.7-.9-.5zM257.8 369.5l.9 .5 2.3-.8-.9-.5zM260.1 368.7l.9 .5 2.4-.8-.9-.5zM262.5 367.9l.9 .5 2.3-.7-.9-.5zM264.8 367.2l.9 .5 2.4-.8-.9-.5zM267.2 366.4l.9 .5 2.3-.7-.9-.5zM269.5 365.7l.9 .5 2.4-.8-1-.5zM271.8 364.9l1 .5 2.3-.7-.9-.5zM274.2 364.2l.9 .5 2.3-.8-.9-.5zM276.5 363.4l.9 .5 2.4-.8-.9-.5zM278.9 362.6l.9 .5 2.3-.7-.9-.5zM281.2 361.9l.9 .5 2.4-.8-.9-.5zM283.6 361.1l.9 .5 2.3-.7-.9-.5zM285.9 360.4l.9 .5 2.4-.8-.9-.5zM288.3 359.6l.9 .5 2.3-.7-.9-.5zM290.6 358.9l.9 .5 2.4-.8-.9-.5zM293 358.1l.9 .5 2.3-.8-.9-.5zM295.3 357.3l.9 .5 2.4-.7-1-.5zM297.6 356.6l1 .5 2.3-.8-.9-.5zM300 355.8l.9 .5 2.3-.7-.9-.5zM302.3 355.1l.9 .5 2.4-.8-.9-.5zM304.7 354.3l.9 .5 2.3-.7-.9-.5zM307 353.6l.9 .5 2.4-.8-.9-.5zM309.4 352.8l.9 .5 2.3-.8-.9-.5zM311.7 352l.9 .5 2.4-.7-.9-.5zM314.1 351.3l.9 .5 2.3-.8-.9-.5zM316.4 350.5l.9 .5 2.4-.7-1-.5zM318.7 349.8l1 .5 2.3-.8-.9-.5zM321.1 349l.9 .5 2.3-.7-.9-.5zM323.4 348.3l.9 .5 2.4-.8-.9-.5zM325.8 347.5l.9 .5 2.3-.8-.9-.5zM328.1 346.7l.9 .5 2.4-.7-.9-.5zM330.5 346l.9 .5 2.3-.8-.9-.5zM332.8 345.2l.9 .5 2.4-.7-.9-.5zM335.2 344.5l.9 .5 2.3-.8-.9-.5zM337.5 343.7l.9 .5 2.4-.7-.9-.5zM339.9 343l.9 .5 2.3-.8-.9-.5zM342.2 342.2l.9 .5 2.4-.8-1-.5zM344.5 341.4l1 .5 2.3-.7-.9-.5zM346.9 340.7l.9 .5 2.3-.8-.9-.5zM349.2 339.9l.9 .5 2.4-.7-.9-.5zM351.6 339.2l.9 .5 2.3-.8-.9-.5zM353.9 338.4l.9 .5 2.4-.7-.9-.5zM356.3 337.7l.9 .5 2.3-.8-.9-.5zM358.6 336.9l.9 .5 2.4-.8-.9-.4zM361 336.2l.9 .4 2.3-.7-.9-.5zM363.3 335.4l.9 .5 2.4-.8-1-.5zM365.6 334.6l1 .5 2.3-.7-.9-.5zM368 333.9l.9 .5 2.3-.8-.9-.5zM370.3 333.1l.9 .5 2.4-.7-.9-.5zM372.7 332.4l.9 .5 2.3-.8-.9-.5zM375 331.6l.9 .5 2.4-.8-.9-.4zM377.4 330.9l.9 .4 2.3-.7-.9-.5zM379.7 330.1l.9 .5 2.4-.8-.9-.5zM382.1 329.3l.9 .5 2.3-.7-.9-.5zM384.4 328.6l.9 .5 2.4-.8-.9-.5zM386.8 327.8l.9 .5 2.3-.7-.9-.5zM389.1 327.1l.9 .5 2.4-.8-1-.5zM391.4 326.3l1 .5 2.3-.8-.9-.4zM393.8 325.6l.9 .4 2.3-.7-.9-.5zM396.1 324.8l.9 .5 2.4-.8-.9-.5zM398.5 324l.9 .5 2.3-.7-.9-.5zM400.8 323.3l.9 .5 2.4-.8-.9-.5zM403.2 322.5l.9 .5 2.3-.7-.9-.5zM405.5 321.8l.9 .5 2.4-.8-.9-.5zM407.9 321l.9 .5 2.3-.8-.9-.4zM410.2 320.3l.9 .4 2.4-.7-1-.5zM412.5 319.5l1 .5 2.3-.8-.9-.5zM414.9 318.7l.9 .5 2.3-.7-.9-.5zM417.2 318l.9 .5 2.4-.8-.9-.5zM419.6 317.2l.9 .5 2.3-.7-.9-.5zM421.9 316.5l.9 .5 2.4-.8-.9-.5zM424.3 315.7l.9 .5 2.3-.8-.9-.4zM426.6 315l.9 .4 2.4-.7-.9-.5zM429 314.2l.9 .5 2.3-.8-.9-.5zM431.3 313.4l.9 .5 2.4-.7-.9-.5zM433.7 312.7l.9 .5 2.3-.8-.9-.5zM436 311.9l.9 .5 2.4-.7-1-.5zM438.3 311.2l1 .5 2.3-.8-.9-.5zM440.7 310.4l.9 .5 2.3-.7-.9-.5zM443 309.7l.9 .5 2.4-.8-.9-.5zM211.8 385.1l.9 .5 2.3-.8-.9-.5zM214.1 384.3l.9 .5 2.4-.7-.9-.5zM216.5 383.6l.9 .5 2.3-.8-.9-.5zM218.8 382.8l.9 .5 2.4-.7-.9-.5zM221.2 382.1l.9 .5 2.3-.8-.9-.5zM223.5 381.3l.9 .5 2.4-.8-.9-.4zM225.9 380.6l.9 .4 2.3-.7-.9-.5zM228.2 379.8l.9 .5 2.4-.8-1-.5zM230.5 379l1 .5 2.3-.7-.9-.5zM232.9 378.3l.9 .5 2.3-.8-.9-.5zM235.2 377.5l.9 .5 2.4-.7-.9-.5zM237.6 376.8l.9 .5 2.3-.8-.9-.5zM239.9 376l.9 .5 2.4-.8-.9-.4zM242.3 375.3l.9 .4 2.3-.7-.9-.5zM244.6 374.5l.9 .5 2.4-.8-.9-.5zM247 373.7l.9 .5 2.3-.7-.9-.5zM249.3 373l.9 .5 2.4-.8-.9-.5zM251.7 372.2l.9 .5 2.3-.7-.9-.5zM254 371.5l.9 .5 2.3-.8-.9-.5zM256.3 370.7l.9 .5 2.4-.8-.9-.4zM258.7 370l.9 .4 2.3-.7-.9-.5zM261 369.2l.9 .5 2.4-.8-.9-.5zM263.4 368.4l.9 .5 2.3-.7-.9-.5zM265.7 367.7l.9 .5 2.4-.8-.9-.5zM268.1 366.9l.9 .5 2.3-.7-.9-.5zM270.4 366.2l.9 .5 2.4-.8-.9-.5zM272.8 365.4l.9 .5 2.3-.8-.9-.4zM275.1 364.7l.9 .4 2.4-.7-1-.5zM277.4 363.9l1 .5 2.3-.8-.9-.5zM279.8 363.1l.9 .5 2.3-.7-.9-.5zM282.1 362.4l.9 .5 2.4-.8-.9-.5zM284.5 361.6l.9 .5 2.3-.7-.9-.5zM286.8 360.9l.9 .5 2.4-.8-.9-.5zM289.2 360.1l.9 .5 2.3-.7-.9-.5zM291.5 359.4l.9 .5 2.4-.8-.9-.5zM293.9 358.6l.9 .5 2.3-.8-.9-.5zM296.2 357.8l.9 .5 2.4-.7-.9-.5zM298.6 357.1l.9 .5 2.3-.8-.9-.5zM300.9 356.3l.9 .5 2.3-.7-.9-.5zM303.2 355.6l.9 .5 2.4-.8-.9-.5zM305.6 354.8l.9 .5 2.3-.7-.9-.5zM307.9 354.1l.9 .5 2.4-.8-.9-.5zM310.3 353.3l.9 .5 2.3-.8-.9-.5zM312.6 352.5l.9 .5 2.4-.7-.9-.5zM315 351.8l.9 .5 2.3-.8-.9-.5zM317.3 351l.9 .5 2.4-.7-.9-.5zM319.7 350.3l.9 .5 2.3-.8-.9-.5zM322 349.5l.9 .5 2.4-.7-1-.5zM324.3 348.8l1 .5 2.3-.8-.9-.5zM326.7 348l.9 .5 2.3-.8-.9-.5zM329 347.2l.9 .5 2.4-.7-.9-.5zM331.4 346.5l.9 .5 2.3-.8-.9-.5zM333.7 345.7l.9 .5 2.4-.7-.9-.5zM336.1 345l.9 .5 2.3-.8-.9-.5zM338.4 344.2l.9 .5 2.4-.7-.9-.5zM340.8 343.5l.9 .5 2.3-.8-.9-.5zM343.1 342.7l.9 .5 2.4-.8-.9-.5zM345.5 341.9l.9 .5 2.3-.7-.9-.5zM347.8 341.2l.9 .5 2.3-.8-.9-.5zM350.1 340.4l.9 .5 2.4-.7-.9-.5zM352.5 339.7l.9 .5 2.3-.8-.9-.5zM354.8 338.9l.9 .5 2.4-.7-.9-.5zM357.2 338.2l.9 .5 2.3-.8-.9-.5zM359.5 337.4l.9 .5 2.4-.8-.9-.5zM361.9 336.6l.9 .5 2.3-.7-.9-.5zM364.2 335.9l.9 .5 2.4-.8-.9-.5zM366.6 335.1l.9 .5 2.3-.7-.9-.5zM368.9 334.4l.9 .5 2.4-.8-1-.5zM371.2 333.6l1 .5 2.3-.7-.9-.5zM373.6 332.9l.9 .5 2.3-.8-.9-.5zM375.9 332.1l.9 .5 2.4-.8-.9-.5zM378.3 331.3l.9 .5 2.3-.7-.9-.5zM380.6 330.6l.9 .5 2.4-.8-.9-.5zM383 329.8l.9 .5 2.3-.7-.9-.5zM385.3 329.1l.9 .5 2.4-.8-.9-.5zM387.7 328.3l.9 .5 2.3-.7-.9-.5zM390 327.6l.9 .5 2.4-.8-.9-.5zM392.4 326.8l.9 .5 2.3-.8-.9-.5zM394.7 326l.9 .5 2.3-.7-.9-.5zM397 325.3l.9 .5 2.4-.8-.9-.5zM399.4 324.5l.9 .5 2.3-.7-.9-.5zM401.7 323.8l.9 .5 2.4-.8-.9-.5zM404.1 323l.9 .5 2.3-.7-.9-.5zM406.4 322.3l.9 .5 2.4-.8-.9-.5zM408.8 321.5l.9 .5 2.3-.8-.9-.5zM411.1 320.7l.9 .5 2.4-.7-.9-.5zM413.5 320l.9 .5 2.3-.8-.9-.5zM415.8 319.2l.9 .5 2.4-.7-1-.5zM418.1 318.5l1 .5 2.3-.8-.9-.5zM420.5 317.7l.9 .5 2.3-.7-.9-.5zM422.8 317l.9 .5 2.4-.8-.9-.5zM425.2 316.2l.9 .5 2.3-.8-.9-.5zM427.5 315.4l.9 .5 2.4-.7-.9-.5zM429.9 314.7l.9 .5 2.3-.8-.9-.5zM432.2 313.9l.9 .5 2.4-.7-.9-.5zM434.6 313.2l.9 .5 2.3-.8-.9-.5zM436.9 312.4l.9 .5 2.4-.7-.9-.5zM439.3 311.7l.9 .5 2.3-.8-.9-.5zM441.6 310.9l.9 .5 2.3-.8-.9-.4zM443.9 310.2l.9 .4 2.4-.7-.9-.5zM212.7 385.6l.9 .5 2.3-.8-.9-.5zM215 384.8l.9 .5 2.4-.7-.9-.5zM217.4 384.1l.9 .5 2.3-.8-.9-.5zM219.7 383.3l.9 .5 2.4-.7-.9-.5zM222.1 382.6l.9 .5 2.3-.8-.9-.5zM224.4 381.8l.9 .5 2.4-.8-.9-.5zM226.8 381l.9 .5 2.3-.7-.9-.5zM229.1 380.3l.9 .5 2.4-.8-.9-.5zM231.5 379.5l.9 .5 2.3-.7-.9-.5zM233.8 378.8l.9 .5 2.4-.8-1-.5zM236.1 378l1 .5 2.3-.7-.9-.5zM238.5 377.3l.9 .5 2.3-.8-.9-.5zM240.8 376.5l.9 .5 2.4-.8-.9-.5zM243.2 375.7l.9 .5 2.3-.7-.9-.5zM245.5 375l.9 .5 2.4-.8-.9-.5zM247.9 374.2l.9 .5 2.3-.7-.9-.5zM250.2 373.5l.9 .5 2.4-.8-.9-.5zM252.6 372.7l.9 .5 2.3-.7-.9-.5zM254.9 372l.9 .5 2.4-.8-1-.5zM257.2 371.2l1 .5 2.3-.8-.9-.5zM259.6 370.4l.9 .5 2.3-.7-.9-.5zM261.9 369.7l.9 .5 2.4-.8-.9-.5zM264.3 368.9l.9 .5 2.3-.7-.9-.5zM266.6 368.2l.9 .5 2.4-.8-.9-.5zM269 367.4l.9 .5 2.3-.7-.9-.5zM271.3 366.7l.9 .5 2.4-.8-.9-.5zM273.7 365.9l.9 .5 2.3-.8-.9-.5zM276 365.1l.9 .5 2.4-.7-.9-.5zM278.4 364.4l.9 .5 2.3-.8-.9-.5zM280.7 363.6l.9 .5 2.4-.7-1-.5zM283 362.9l1 .5 2.3-.8-.9-.5zM285.4 362.1l.9 .5 2.3-.7-.9-.5zM287.7 361.4l.9 .5 2.4-.8-.9-.5zM290.1 360.6l.9 .5 2.3-.8-.9-.4zM292.4 359.9l.9 .4 2.4-.7-.9-.5zM294.8 359.1l.9 .5 2.3-.8-.9-.5zM297.1 358.3l.9 .5 2.4-.7-.9-.5zM299.5 357.6l.9 .5 2.3-.8-.9-.5zM301.8 356.8l.9 .5 2.4-.7-1-.5zM304.1 356.1l1 .5 2.3-.8-.9-.5zM306.5 355.3l.9 .5 2.3-.8-.9-.4zM308.8 354.6l.9 .4 2.4-.7-.9-.5zM311.2 353.8l.9 .5 2.3-.8-.9-.5zM313.5 353l.9 .5 2.4-.7-.9-.5zM315.9 352.3l.9 .5 2.3-.8-.9-.5zM318.2 351.5l.9 .5 2.4-.7-.9-.5zM320.6 350.8l.9 .5 2.3-.8-.9-.5zM322.9 350l.9 .5 2.4-.8-.9-.4zM325.3 349.3l.9 .4 2.3-.7-.9-.5zM327.6 348.5l.9 .5 2.4-.8-1-.5zM329.9 347.7l1 .5 2.3-.7-.9-.5zM332.3 347l.9 .5 2.3-.8-.9-.5zM334.6 346.2l.9 .5 2.4-.7-.9-.5zM337 345.5l.9 .5 2.3-.8-.9-.5zM339.3 344.7l.9 .5 2.4-.8-.9-.4zM341.7 344l.9 .4 2.3-.7-.9-.5zM344 343.2l.9 .5 2.4-.8-.9-.5zM346.4 342.4l.9 .5 2.3-.7-.9-.5zM348.7 341.7l.9 .5 2.4-.8-1-.5zM351 340.9l1 .5 2.3-.7-.9-.5zM353.4 340.2l.9 .5 2.3-.8-.9-.5zM355.7 339.4l.9 .5 2.4-.8-.9-.4zM358.1 338.7l.9 .4 2.3-.7-.9-.5zM360.4 337.9l.9 .5 2.4-.8-.9-.5zM362.8 337.1l.9 .5 2.3-.7-.9-.5zM365.1 336.4l.9 .5 2.4-.8-.9-.5zM367.5 335.6l.9 .5 2.3-.7-.9-.5zM369.8 334.9l.9 .5 2.4-.8-.9-.5zM372.2 334.1l.9 .5 2.3-.7-.9-.5zM374.5 333.4l.9 .5 2.4-.8-1-.5zM376.8 332.6l1 .5 2.3-.8-.9-.5zM379.2 331.8l.9 .5 2.3-.7-.9-.5zM381.5 331.1l.9 .5 2.4-.8-.9-.5zM383.9 330.3l.9 .5 2.3-.7-.9-.5zM386.2 329.6l.9 .5 2.4-.8-.9-.5zM388.6 328.8l.9 .5 2.3-.7-.9-.5zM390.9 328.1l.9 .5 2.4-.8-.9-.5zM393.3 327.3l.9 .5 2.3-.8-.9-.5zM395.6 326.5l.9 .5 2.4-.7-1-.5zM397.9 325.8l1 .5 2.3-.8-.9-.5zM400.3 325l.9 .5 2.3-.7-.9-.5zM402.6 324.3l.9 .5 2.4-.8-.9-.5zM405 323.5l.9 .5 2.3-.7-.9-.5zM407.3 322.8l.9 .5 2.4-.8-.9-.5zM409.7 322l.9 .5 2.3-.8-.9-.5zM412 321.2l.9 .5 2.4-.7-.9-.5zM414.4 320.5l.9 .5 2.3-.8-.9-.5zM416.7 319.7l.9 .5 2.4-.7-.9-.5zM419.1 319l.9 .5 2.3-.8-.9-.5zM421.4 318.2l.9 .5 2.4-.7-1-.5zM423.7 317.5l1 .5 2.3-.8-.9-.5zM426.1 316.7l.9 .5 2.3-.8-.9-.5zM428.4 315.9l.9 .5 2.4-.7-.9-.5zM430.8 315.2l.9 .5 2.3-.8-.9-.5zM433.1 314.4l.9 .5 2.4-.7-.9-.5zM435.5 313.7l.9 .5 2.3-.8-.9-.5zM437.8 312.9l.9 .5 2.4-.7-.9-.5zM440.2 312.2l.9 .5 2.3-.8-.9-.5zM442.5 311.4l.9 .5 2.4-.8-1-.5zM444.8 310.6l1 .5 2.3-.7-.9-.5z"/>
<g stroke-width="0.3"><path fill="#00005f" d="M112.7 282.2l3.6 2 2.3-.8-3.6-1.9zM110.3 283l3.7 2 2.3-.8-3.6-2zM108 283.7l3.6 2 2.4-.7-3.7-2zM105.6 284.5l3.7 2 2.3-.8-3.6-2zM103.3 285.3l3.6 1.9 2.4-.7-3.7-2zM101 286l3.6 2 2.3-.8-3.6-1.9zM98.6 286.8l3.6 1.9 2.4-.7-3.6-2zM96.3 287.5l3.6 2 2.3-.8-3.6-1.9zM93.9 288.3l3.6 2 2.4-.8-3.6-2zM91.6 289l3.6 2 2.3-.7-3.6-2zM89.2 289.8l3.6 2 2.4-.8-3.6-2zM86.9 290.6l3.6 1.9 2.3-.7-3.6-2zM84.5 291.3l3.7 2 2.3-.8-3.6-1.9zM82.2 292.1l3.6 1.9 2.4-.7-3.7-2zM79.8 292.8l3.7 2 2.3-.8-3.6-1.9zM77.5 293.6l3.6 2 2.4-.8-3.7-2zM75.2 294.3l3.6 2 2.3-.7-3.6-2zM72.8 295.1l3.6 2 2.4-.8-3.6-2zM70.5 295.9l3.6 1.9 2.3-.7-3.6-2zM68.1 296.6l3.6 2 2.4-.8-3.6-1.9zM65.8 297.4l3.6 1.9 2.3-.7-3.6-2zM63.4 298.1l3.7 2 2.3-.8-3.6-1.9zM61.1 298.9l3.6 2 2.4-.8-3.7-2zM58.7 299.6l3.7 2 2.3-.7-3.6-2zM56.4 300.4l3.6 2 2.4-.8-3.7-2z"/></g>
<path fill="none" stroke-width="0.45" d=""/>
<g stroke-width="0.3"><path fill="#00005f" d="M114 285l3.6 1.9 2.3-.7-3.6-2zM111.6 285.7l3.6 2 2.4-.8-3.6-1.9zM109.3 286.5l3.6 1.9 2.3-.7-3.6-2zM106.9 287.2l3.6 2 2.4-.8-3.6-1.9zM104.6 288l3.6 2 2.3-.8-3.6-2zM102.2 288.7l3.6 2 2.4-.7-3.6-2zM99.9 289.5l3.6 2 2.3-.8-3.6-2zM97.5 290.3l3.7 1.9 2.3-.7-3.6-2zM95.2 291l3.6 2 2.4-.8-3.7-1.9zM92.8 291.8l3.7 1.9 2.3-.7-3.6-2zM90.5 292.5l3.6 2 2.4-.8-3.7-1.9zM88.2 293.3l3.6 2 2.3-.8-3.6-2zM85.8 294l3.6 2 2.4-.7-3.6-2zM83.5 294.8l3.6 2 2.3-.8-3.6-2zM81.1 295.6l3.6 1.9 2.4-.7-3.6-2zM78.8 296.3l3.6 2 2.3-.8-3.6-1.9zM76.4 297.1l3.7 1.9 2.3-.7-3.6-2zM74.1 297.8l3.6 2 2.4-.8-3.7-1.9zM71.7 298.6l3.7 2 2.3-.8-3.6-2zM69.4 299.3l3.6 2 2.4-.7-3.7-2zM67.1 300.1l3.6 2 2.3-.8-3.6-2zM64.7 300.9l3.6 1.9 2.4-.7-3.6-2zM62.4 301.6l3.6 2 2.3-.8-3.6-1.9zM60 302.4l3.6 1.9 2.4-.7-3.6-2z"/></g>
<path fill="none" stroke-width="0.45" d=""/>
<g stroke-width="0.3"><path fill="#00005f" d="M112.9 288.4l3.6 2 2.3-.7-3.6-2zM110.5 289.2l3.7 2 2.3-.8-3.6-2zM108.2 290l3.6 1.9 2.4-.7-3.7-2zM105.8 290.7l3.7 2 2.3-.8-3.6-1.9zM103.5 291.5l3.6 1.9 2.4-.7-3.7-2zM101.2 292.2l3.6 2 2.3-.8-3.6-1.9zM98.8 293l3.6 2 2.4-.8-3.6-2zM96.5 293.7l3.6 2 2.3-.7-3.6-2zM94.1 294.5l3.6 2 2.4-.8-3.6-2zM91.8 295.3l3.6 1.9 2.3-.7-3.6-2zM89.4 296l3.6 2 2.4-.8-3.6-1.9zM87.1 296.8l3.6 1.9 2.3-.7-3.6-2zM84.7 297.5l3.7 2 2.3-.8-3.6-1.9zM82.4 298.3l3.6 2 2.4-.8-3.7-2zM80.1 299l3.6 2 2.3-.7-3.6-2zM77.7 299.8l3.6 2 2.4-.8-3.6-2zM75.4 300.6l3.6 1.9 2.3-.7-3.6-2zM73 301.3l3.6 2 2.4-.8-3.6-1.9zM70.7 302.1l3.6 1.9 2.3-.7-3.6-2zM68.3 302.8l3.6 2 2.4-.8-3.6-1.9zM66 303.6l3.6 2 2.3-.8-3.6-2zM63.6 304.3l3.7 2 2.3-.7-3.6-2z"/></g>
<path fill="none" stroke-width="0.45" d=""/>
<g stroke-width="0.3"><path fill="#00005f" d="M111.8 291.9l3.6 2 2.4-.8-3.6-1.9zM109.5 292.7l3.6 2 2.3-.8-3.6-2zM107.1 293.4l3.6 2 2.4-.7-3.6-2zM104.8 294.2l3.6 2 2.3-.8-3.6-2zM102.4 295l3.6 1.9 2.4-.7-3.6-2zM100.1 295.7l3.6 2 2.3-.8-3.6-1.9zM97.7 296.5l3.7 1.9 2.3-.7-3.6-2zM95.4 297.2l3.6 2 2.4-.8-3.7-1.9zM93 298l3.7 2 2.3-.8-3.6-2zM90.7 298.7l3.6 2 2.4-.7-3.7-2zM88.4 299.5l3.6 2 2.3-.8-3.6-2zM86 300.3l3.6 1.9 2.4-.7-3.6-2zM83.7 301l3.6 2 2.3-.8-3.6-1.9zM81.3 301.8l3.6 1.9 2.4-.7-3.6-2zM79 302.5l3.6 2 2.3-.8-3.6-1.9zM76.6 303.3l3.7 2 2.3-.8-3.6-2zM74.3 304l3.6 2 2.4-.7-3.7-2zM71.9 304.8l3.7 2 2.3-.8-3.6-2zM69.6 305.6l3.6 1.9 2.4-.7-3.7-2zM67.3 306.3l3.6 2 2.3-.8-3.6-1.9z"/></g>
<path fill="none" stroke-width="0.45" d=""/>
<g stroke-width="0.3"><path fill="#00005f" d="M110.7 295.4l3.7 2 2.3-.8-3.6-1.9zM108.4 296.2l3.6 1.9 2.4-.7-3.7-2zM106 296.9l3.7 2 2.3-.8-3.6-1.9zM103.7 297.7l3.6 2 2.4-.8-3.7-2zM101.4 298.4l3.6 2 2.3-.7-3.6-2zM99 299.2l3.6 2 2.4-.8-3.6-2zM96.7 300l3.6 1.9 2.3-.7-3.6-2zM94.3 300.7l3.6 2 2.4-.8-3.6-1.9zM92 301.5l3.6 1.9 2.3-.7-3.6-2zM89.6 302.2l3.6 2 2.4-.8-3.6-1.9zM87.3 303l3.6 2 2.3-.8-3.6-2zM84.9 303.7l3.7 2 2.3-.7-3.6-2zM82.6 304.5l3.6 2 2.4-.8-3.7-2zM80.3 305.3l3.6 1.9 2.3-.7-3.6-2zM77.9 306l3.6 2 2.4-.8-3.6-1.9zM75.6 306.8l3.6 1.9 2.3-.7-3.6-2zM73.2 307.5l3.6 2 2.4-.8-3.6-1.9zM70.9 308.3l3.6 2 2.3-.8-3.6-2z"/></g>
<path fill="none" stroke-width="0.45" d=""/>
<g stroke-width="0.3"><path fill="#00005f" d="M112 298.1l3.6 2 2.4-.7-3.6-2zM109.7 298.9l3.6 2 2.3-.8-3.6-2zM107.3 299.7l3.6 1.9 2.4-.7-3.6-2zM105 300.4l3.6 2 2.3-.8-3.6-1.9zM102.6 301.2l3.6 1.9 2.4-.7-3.6-2zM100.3 301.9l3.6 2 2.3-.8-3.6-1.9zM97.9 302.7l3.7 2 2.3-.8-3.6-2zM95.6 303.4l3.6 2 2.4-.7-3.7-2zM93.2 304.2l3.7 2 2.3-.8-3.6-2zM90.9 305l3.6 1.9 2.4-.7-3.7-2zM88.6 305.7l3.6 2 2.3-.8-3.6-1.9zM86.2 306.5l3.6 1.9 2.4-.7-3.6-2zM83.9 307.2l3.6 2 2.3-.8-3.6-1.9zM81.5 308l3.6 2 2.4-.8-3.6-2zM79.2 308.7l3.6 2 2.3-.7-3.6-2zM76.8 309.5l3.7 2 2.3-.8-3.6-2zM74.5 310.3l3.6 1.9 2.4-.7-3.7-2z"/></g>
<path fill="none" stroke-width="0.45" d=""/>
<g stroke-width="0.3"><path fill="#00005f" d="M110.9 301.6l3.7 2 2.3-.8-3.6-1.9zM108.6 302.4l3.6 2 2.4-.8-3.7-2zM106.2 303.1l3.7 2 2.3-.7-3.6-2zM103.9 303.9l3.6 2 2.4-.8-3.7-2zM101.6 304.7l3.6 1.9 2.3-.7-3.6-2zM99.2 305.4l3.6 2 2.4-.8-3.6-1.9zM96.9 306.2l3.6 1.9 2.3-.7-3.6-2zM94.5 306.9l3.6 2 2.4-.8-3.6-1.9zM92.2 307.7l3.6 2 2.3-.8-3.6-2zM89.8 308.4l3.7 2 2.3-.7-3.6-2zM87.5 309.2l3.6 2 2.4-.8-3.7-2zM85.1 310l3.7 1.9 2.3-.7-3.6-2zM82.8 310.7l3.6 2 2.4-.8-3.7-1.9zM80.5 311.5l3.6 1.9 2.3-.7-3.6-2zM78.1 312.2l3.6 2 2.4-.8-3.6-1.9z"/></g>
<path fill="none" stroke-width="0.45" d=""/>
<g stroke-width="0.3"><path fill="#00005f" d="M109.9 305.1l3.6 2 2.3-.8-3.6-1.9zM107.5 305.9l3.6 1.9 2.4-.7-3.6-2zM105.2 306.6l3.6 2 2.3-.8-3.6-1.9zM102.8 307.4l3.6 2 2.4-.8-3.6-2zM100.5 308.1l3.6 2 2.3-.7-3.6-2zM98.1 308.9l3.7 2 2.3-.8-3.6-2zM95.8 309.7l3.6 1.9 2.4-.7-3.7-2zM93.5 310.4l3.6 2 2.3-.8-3.6-1.9zM91.1 311.2l3.6 1.9 2.4-.7-3.6-2zM88.8 311.9l3.6 2 2.3-.8-3.6-1.9zM86.4 312.7l3.6 2 2.4-.8-3.6-2zM84.1 313.4l3.6 2 2.3-.7-3.6-2zM81.7 314.2l3.6 2 2.4-.8-3.6-2z"/></g>
<path fill="none" stroke-width="0.45" d=""/>
<g stroke-width="0.3"><path fill="#00005f" d="M108.8 308.6l3.6 2 2.4-.8-3.7-2zM106.4 309.4l3.7 1.9 2.3-.7-3.6-2zM104.1 310.1l3.6 2 2.4-.8-3.7-1.9zM101.8 310.9l3.6 1.9 2.3-.7-3.6-2zM99.4 311.6l3.6 2 2.4-.8-3.6-1.9zM97.1 312.4l3.6 2 2.3-.8-3.6-2zM94.7 313.1l3.6 2 2.4-.7-3.6-2zM92.4 313.9l3.6 2 2.3-.8-3.6-2zM90 314.7l3.7 1.9 2.3-.7-3.6-2zM87.7 315.4l3.6 2 2.4-.8-3.7-1.9zM85.3 316.2l3.7 1.9 2.3-.7-3.6-2z"/></g>
<path fill="none" stroke-width="0.45" d=""/>
<g stroke-width="0.3"><path fill="#00005f" d="M110.1 311.3l3.6 2 2.3-.7-3.6-2zM107.7 312.1l3.6 2 2.4-.8-3.6-2zM105.4 312.8l3.6 2 2.3-.7-3.6-2zM103 313.6l3.6 2 2.4-.8-3.6-2zM100.7 314.4l3.6 1.9 2.3-.7-3.6-2zM98.3 315.1l3.7 2 2.3-.8-3.6-1.9zM96 315.9l3.6 1.9 2.4-.7-3.7-2zM93.7 316.6l3.6 2 2.3-.8-3.6-1.9zM91.3 317.4l3.6 2 2.4-.8-3.6-2zM89 318.1l3.6 2 2.3-.7-3.6-2z"/></g>
<path fill="none" stroke-width="0.45" d=""/>
<g stroke-width="0.3"><path fill="#000082" d="M123.1 310.3l3.6-4.5 2.3-1-3.6 4.7z"/><path fill="#00007f" d="M120.7 311l3.6-3.3 2.4-1.9-3.6 4.5z"/><path fill="#00005f" d="M109 314.8l3.6 2 2.4-.8-3.7-1.9zM106.6 315.6l3.7 2 2.3-.8-3.6-2zM104.3 316.3l3.6 2 2.4-.7-3.7-2zM102 317.1l3.6 2 2.3-.8-3.6-2zM99.6 317.8l3.6 2 2.4-.7-3.6-2zM97.3 318.6l3.6 2 2.3-.8-3.6-2zM94.9 319.4l3.6 1.9 2.4-.7-3.6-2zM92.6 320.1l3.6 2 2.3-.8-3.6-1.9z"/></g>
<path fill="none" stroke-width="0.45" d="M123.1 310.3l2.3-.8M126.7 305.8l2.3-1"/>
<g stroke-width="0.3"><path fill="#00f" d="M124.3 307.7l3.7-20.6 2.3-1.7-3.6 20.4zM122 311.7l3.6-21.6 2.4-3-3.7 20.6z"/><path fill="#0000ef" d="M119.6 314.5l3.7-20 2.3-4.4-3.6 21.6z"/><path fill="#0000df" d="M117.3 315.3l3.6-14.7 2.4-6.1-3.7 20z"/><path fill="#0000b9" d="M115 316l3.6-7.5 2.3-7.9-3.6 14.7z"/><path fill="#00005f" d="M107.9 318.3l3.6 2 2.4-.8-3.6-1.9zM105.6 319.1l3.6 1.9 2.3-.7-3.6-2zM103.2 319.8l3.7 2 2.3-.8-3.6-1.9zM100.9 320.6l3.6 1.9 2.4-.7-3.7-2zM98.5 321.3l3.7 2 2.3-.8-3.6-1.9zM96.2 322.1l3.6 2 2.4-.8-3.7-2z"/></g>
<path fill="none" stroke-width="0.45" d="M115 316l2.3-.7 2.3-.8 2.4-2.8 2.3-4 2.4-1.9M120.9 300.6l2.4-6.1 2.3-4.4 2.4-3 2.3-1.7"/>
<g stroke-width="0.3"><path fill="#0040ff" d="M120.9 300.6l3.6-18.7 2.4-3.9-3.6 16.5z"/><path fill="#0030ff" d="M118.6 308.5l3.6-21.1 2.3-5.5-3.6 18.7z"/><path fill="#0010ff" d="M116.2 318.3l3.6-23.5 2.4-7.4-3.6 21.1z"/><path fill="#0000df" d="M113.9 319.5l3.6-15.6 2.3-9.1-3.6 23.5z"/><path fill="#007" d="M109.2 321l3.6 2 2.4-8.3-3.7 5.6z"/><path fill="#00005f" d="M106.9 321.8l3.6 2 2.3-.8-3.6-2zM104.5 322.5l3.6 2 2.4-.7-3.6-2zM102.2 323.3l3.6 2 2.3-.8-3.6-2zM99.8 324.1l3.6 1.9 2.4-.7-3.6-2z"/></g>
<path fill="none" stroke-width="0.45" d="M113.9 319.5l2.3-1.2M120.9 300.6l2.4-6.1M122.2 287.4l2.3-5.5 2.4-3.9"/>
<g stroke-width="0.3"><path fill="#0080ff" d="M138.6 270.3l1.4-.8 2.4-.9-1.4 .6zM136.3 271.4l1.4-1 2.3-.9-1.4 .8zM133.9 272.4l1.4-1.2 2.4-.8-1.4 1z"/><path fill="#0040ff" d="M119.8 294.8l1.5-7.4 2.3-6.2-1.4 6.2z"/><path fill="#0020ff" d="M117.5 303.9l1.4-8.4 2.4-8.1-1.5 7.4z"/><path fill="#0000ef" d="M115.2 314.7l1.4-9.4 2.3-9.8-1.4 8.4z"/><path fill="#00b" d="M112.8 323l1.4-6.6 2.4-11.1-1.4 9.4z"/><path fill="#00006b" d="M110.5 323.8l1.4 .7 2.3-8.1-1.4 6.6z"/><path fill="#00005f" d="M108.1 324.5l1.4 .8 2.4-.8-1.4-.7zM105.8 325.3l1.4 .7 2.3-.7-1.4-.8zM103.4 326l1.4 .8 2.4-.8-1.4-.7z"/></g>
<path fill="none" stroke-width="0.45" d="M121.3 287.4l2.3-6.2"/>
<g stroke-width="0.3"><path fill="#0070ff" d="M140 269.5l1.4 4.9 2.4-.9-1.4-4.9zM137.7 270.4l1.4 4.8 2.3-.8-1.4-4.9zM135.3 271.2l1.4 4.8 2.4-.8-1.4-4.8zM133 271.6l1.4 4.7 2.3-.3-1.4-4.8zM130.6 272.6l1.4 2.9 2.4 .8-1.4-4.7zM128.3 274.1l1.4-.5 2.3 1.9-1.4-2.9z"/><path fill="#0060ff" d="M121.3 287.4l1.4-6.1 2.3-4.9-1.4 4.8z"/><path fill="#0050ff" d="M118.9 295.5l1.4-7.3 2.4-6.9-1.4 6.1z"/><path fill="#0020ff" d="M116.6 305.3l1.4-8.4 2.3-8.7-1.4 7.3z"/><path fill="#0000ef" d="M114.2 316.4l1.4-9.4 2.4-10.1-1.4 8.4z"/><path fill="#0000ba" d="M111.9 324.5l1.4-6.4 2.3-11.1-1.4 9.4z"/><path fill="#00006b" d="M109.5 325.3l1.4 .8 2.4-8-1.4 6.4z"/><path fill="#00005f" d="M107.2 326l1.4 .8 2.3-.7-1.4-.8zM104.8 326.8l1.4 .8 2.4-.8-1.4-.8z"/></g>
<path fill="none" stroke-width="0.45" d="M121.3 287.4l2.3-6.2M133 271.6l2.3-.4 2.4-.8 2.3-.9 2.4-.9M120.3 288.2l2.4-6.9 2.3-4.9M134.4 276.3l2.3-.3 2.4-.8 2.3-.8 2.4-.9"/>
<g stroke-width="0.3"><path fill="#0050ff" d="M139.1 275.2l1.4 4.9 2.3-.9-1.4-4.8zM136.7 276l1.4 4.9 2.4-.8-1.4-4.9zM134.4 276.3l1.4 4.8 2.3-.2-1.4-4.9z"/><path fill="#0060ff" d="M132 275.5l1.4 4.9 2.4 .7-1.4-4.8zM129.7 273.6l1.4 4.9 2.3 1.9-1.4-4.9z"/><path fill="#0070ff" d="M127.4 273.6l1.4 2.2 2.3 2.7-1.4-4.9z"/><path fill="#0080ff" d="M125 276.4l1.4-2.7 2.4 2.1-1.4-2.2z"/><path fill="#0070ff" d="M120.3 288.2l1.4-6 2.4-5.5-1.4 4.6z"/><path fill="#0050ff" d="M118 296.9l1.4-7.3 2.3-7.4-1.4 6z"/><path fill="#0020ff" d="M115.6 307l1.4-8.5 2.4-8.9-1.4 7.3z"/><path fill="#0000ef" d="M113.3 318.1l1.4-9.5 2.3-10.1-1.4 8.5z"/><path fill="#0000ba" d="M110.9 326.1l1.4-6.6 2.4-10.9-1.4 9.5z"/><path fill="#00006b" d="M108.6 326.8l1.4 .8 2.3-8.1-1.4 6.6z"/><path fill="#00005f" d="M106.2 327.6l1.5 .7 2.3-.7-1.4-.8z"/></g>
<path fill="none" stroke-width="0.45" d="M120.3 288.2l2.4-6.9M129.7 273.6l2.3 1.9 2.4 .8 2.3-.3 2.4-.8 2.3-.8M121.7 282.2l2.4-5.5M131.1 278.5l2.3 1.9 2.4 .7 2.3-.2 2.4-.8 2.3-.9"/>
<g stroke-width="0.3"><path fill="#0040ff" d="M138.1 280.9l1.4 4.8 2.4-.8-1.4-4.8zM135.8 281.1l1.4 4.8 2.3-.2-1.4-4.8zM133.4 280.4l1.5 4.8 2.3 .7-1.4-4.8z"/><path fill="#0050ff" d="M131.1 278.5l1.4 5 2.4 1.7-1.5-4.8z"/><path fill="#0060ff" d="M128.8 275.8l1.4 5.1 2.3 2.6-1.4-5z"/><path fill="#0070ff" d="M126.4 273.7l1.4 4 2.4 3.2-1.4-5.1z"/><path fill="#0080ff" d="M124.1 276.7l1.4-2.4 2.3 3.4-1.4-4z"/><path fill="#0070ff" d="M119.4 289.6l1.4-6.1 2.3-5.9-1.4 4.6z"/><path fill="#0050ff" d="M117 298.5l1.4-7.4 2.4-7.6-1.4 6.1z"/><path fill="#0020ff" d="M114.7 308.6l1.4-8.5 2.3-9-1.4 7.4z"/><path fill="#0000ef" d="M112.3 319.5l1.5-10.1 2.3-9.3-1.4 8.5z"/><path fill="#0000be" d="M110 327.6l1.4-7.6 2.4-10.6-1.5 10.1z"/><path fill="#000079" d="M107.7 328.3l1.4 .8 2.3-9.1-1.4 7.6z"/></g>
<path fill="none" stroke-width="0.45" d="M126.4 273.7l2.4 2.1 2.3 2.7 2.3 1.9 2.4 .7 2.3-.2 2.4-.8M120.8 283.5l2.3-5.9M127.8 277.7l2.4 3.2 2.3 2.6 2.4 1.7 2.3 .7 2.3-.2 2.4-.8"/>
<g stroke-width="0.3"><path fill="#0030ff" d="M139.5 285.7l1.5 4.8 2.3-.8-1.4-4.8zM137.2 285.9l1.4 4.8 2.4-.2-1.5-4.8zM134.9 285.2l1.4 4.9 2.3 .6-1.4-4.8z"/><path fill="#0040ff" d="M132.5 283.5l1.4 5 2.4 1.6-1.4-4.9z"/><path fill="#0050ff" d="M130.2 280.9l1.4 5.1 2.3 2.5-1.4-5z"/><path fill="#0060ff" d="M127.8 277.7l1.4 5.2 2.4 3.1-1.4-5.1z"/><path fill="#0070ff" d="M125.5 274.3l1.4 5 2.3 3.6-1.4-5.2z"/><path fill="#0080ff" d="M123.1 277.6l1.4-2.1 2.4 3.8-1.4-5z"/><path fill="#0070ff" d="M118.4 291.1l1.4-6.1 2.4-6-1.4 4.5z"/><path fill="#0050ff" d="M116.1 300.1l1.4-7.5 2.3-7.6-1.4 6.1z"/><path fill="#0020ff" d="M113.8 309.4l1.4-9 2.3-7.8-1.4 7.5z"/><path fill="#00f" d="M111.4 320l1.4-11 2.4-8.6-1.4 9z"/><path fill="#0000cf" d="M109.1 329.1l1.4-10.2 2.3-9.9-1.4 11z"/></g>
<path fill="none" stroke-width="0.45" d="M125.5 274.3l2.3 3.4 2.4 3.2 2.3 2.6 2.4 1.7 2.3 .7 2.3-.2 2.4-.8M119.8 285l2.4-6M126.9 279.3l2.3 3.6 2.4 3.1 2.3 2.5 2.4 1.6 2.3 .6 2.4-.2 2.3-.8"/>
<g stroke-width="0.3"><path fill="#0010ff" d="M138.6 290.7l1.4 4.8 2.4-.2-1.4-4.8z"/><path fill="#0020ff" d="M136.3 290.1l1.4 4.8 2.3 .6-1.4-4.8zM133.9 288.5l1.4 4.9 2.4 1.5-1.4-4.8z"/><path fill="#0030ff" d="M131.6 286l1.4 5.1 2.3 2.3-1.4-4.9z"/><path fill="#0040ff" d="M129.2 282.9l1.4 5.2 2.4 3-1.4-5.1z"/><path fill="#0060ff" d="M126.9 279.3l1.4 5.3 2.3 3.5-1.4-5.2z"/><path fill="#0070ff" d="M124.5 275.5l1.4 5.4 2.4 3.7-1.4-5.3z"/><path fill="#0080ff" d="M122.2 279l1.4-2.1 2.3 4-1.4-5.4zM119.8 285l1.5-4.5 2.3-3.6-1.4 2.1z"/><path fill="#0070ff" d="M117.5 292.6l1.4-6.2 2.4-5.9-1.5 4.5z"/><path fill="#0050ff" d="M115.2 300.4l1.4-7.8 2.3-6.2-1.4 6.2z"/><path fill="#0030ff" d="M112.8 309l1.4-9.9 2.4-6.5-1.4 7.8z"/><path fill="#0010ff" d="M110.5 318.9l1.4-12.6 2.3-7.2-1.4 9.9z"/></g>
<path fill="none" stroke-width="0.45" d="M124.5 275.5l2.4 3.8 2.3 3.6 2.4 3.1 2.3 2.5 2.4 1.6 2.3 .6 2.4-.2M114.2 299.1l2.4-6.5 2.3-6.2 2.4-5.9M125.9 280.9l2.4 3.7 2.3 3.5 2.4 3 2.3 2.3 2.4 1.5 2.3 .6 2.4-.2"/>
<g stroke-width="0.3"><path fill="#00f" d="M137.7 294.9l1.4 4.9 2.3 .5-1.4-4.8z"/><path fill="#0010ff" d="M135.3 293.4l1.4 5 2.4 1.4-1.4-4.9z"/><path fill="#0020ff" d="M133 291.1l1.4 5.1 2.3 2.2-1.4-5z"/><path fill="#0030ff" d="M130.6 288.1l1.4 5.3 2.4 2.8-1.4-5.1z"/><path fill="#0040ff" d="M128.3 284.6l1.4 5.4 2.3 3.4-1.4-5.3z"/><path fill="#0060ff" d="M125.9 280.9l1.5 5.3 2.3 3.8-1.4-5.4z"/><path fill="#008fff" d="M121.3 280.5l1.4-2.2 2.3-.4-1.4-1z"/><path fill="#0080ff" d="M118.9 286.4l1.4-4.6 2.4-3.5-1.4 2.2z"/><path fill="#0070ff" d="M116.6 292.6l1.4-6.5 2.3-4.3-1.4 4.6z"/><path fill="#0060ff" d="M114.2 299.1l1.4-8.6 2.4-4.4-1.4 6.5z"/><path fill="#0040ff" d="M111.9 306.3l1.4-11.3 2.3-4.5-1.4 8.6z"/></g>
<path fill="none" stroke-width="0.45" d="M114.2 299.1l2.4-6.5 2.3-6.2M125.9 280.9l2.4 3.7 2.3 3.5 2.4 3 2.3 2.3 2.4 1.5 2.3 .6M113.3 295l2.3-4.5 2.4-4.4 2.3-4.3M127.4 286.2l2.3 3.8 2.3 3.4 2.4 2.8 2.3 2.2 2.4 1.4 2.3 .5"/>
<g stroke-width="0.3"><path fill="#00f" d="M136.7 298.4l1.4 5 2.4 .3-1.4-3.9zM134.4 296.2l1.4 5.1 2.3 2.1-1.4-5z"/><path fill="#0010ff" d="M132 293.4l1.4 5.2 2.4 2.7-1.4-5.1z"/><path fill="#0030ff" d="M129.7 290l1.4 5.3 2.3 3.3-1.4-5.2z"/><path fill="#0040ff" d="M127.4 286.2l1.4 5.4 2.3 3.7-1.4-5.3z"/><path fill="#0060ff" d="M125 277.9l1.4 5.4 2.4 8.3-1.4-5.4z"/><path fill="#0080ff" d="M122.7 278.3l1.4 .7 2.3 4.3-1.4-5.4z"/><path fill="#008fff" d="M120.3 281.8l1.4-2.3 2.4-.5-1.4-.7zM118 286.1l1.4-4.9 2.3-1.7-1.4 2.3z"/><path fill="#0080ff" d="M115.6 290.5l1.4-7.1 2.4-2.2-1.4 4.9zM113.3 295l1.4-9.9 2.3-1.7-1.4 7.1z"/></g>
<path fill="none" stroke-width="0.45" d="M113.3 295l2.3-4.5 2.4-4.4M127.4 286.2l2.3 3.8 2.3 3.4 2.4 2.8 2.3 2.2 2.4 1.4M114.7 285.1l2.3-1.7 2.4-2.2M128.8 291.6l2.3 3.7 2.3 3.3 2.4 2.7 2.3 2.1 2.4 .3"/>
<g stroke-width="0.3"><path fill="#0000ef" d="M135.8 301.3l1.4 4.7 2.3-.8-1.4-1.8z"/><path fill="#00f" d="M133.4 298.6l1.5 5.2 2.3 2.2-1.4-4.7z"/><path fill="#0010ff" d="M131.1 295.3l1.4 5.3 2.4 3.2-1.5-5.2z"/><path fill="#0020ff" d="M128.8 291.6l1.4 5.4 2.3 3.6-1.4-5.3z"/><path fill="#0050ff" d="M126.4 283.3l1.4 5.4 2.4 8.3-1.4-5.4z"/><path fill="#0080ff" d="M124.1 279l1.4 1.1 2.3 8.6-1.4-5.4z"/><path fill="#008fff" d="M121.7 279.5l1.4 .8 2.4-.2-1.4-1.1zM119.4 281.2l1.4-2.5 2.3 1.6-1.4-.8z"/><path fill="#009fff" d="M117 283.4l1.4-5.4 2.4 .7-1.4 2.5zM114.7 285.1l1.4-8.1 2.3 1-1.4 5.4z"/></g>
<path fill="none" stroke-width="0.45" d="M114.7 285.1l2.3-1.7M128.8 291.6l2.3 3.7 2.3 3.3 2.4 2.7M116.1 277l2.3 1M130.2 297l2.3 3.6 2.4 3.2 2.3 2.2"/>
<g stroke-width="0.3"><path fill="#0000ef" d="M137.2 306l1.4 .7 2.4-.7-1.5-.8zM134.9 303.8l1.4 3.7 2.3-.8-1.4-.7z"/><path fill="#00f" d="M132.5 300.6l1.4 5.4 2.4 1.5-1.4-3.7z"/><path fill="#0010ff" d="M130.2 297l1.4 5.4 2.3 3.6-1.4-5.4z"/><path fill="#0030ff" d="M127.8 288.7l1.4 5.4 2.4 8.3-1.4-5.4z"/><path fill="#0060ff" d="M125.5 280.1l1.4 5.4 2.3 8.6-1.4-5.4z"/><path fill="#008fff" d="M123.1 280.3l1.4 .7 2.4 4.5-1.4-5.4z"/><path fill="#00afff" d="M118.4 278l1.4-2.6 2.4 4-1.4-.7z"/><path fill="#00bfff" d="M116.1 277l1.4-6.1 2.3 4.5-1.4 2.6z"/></g>
<path fill="none" stroke-width="0.45" d="M130.2 297l2.3 3.6 2.4 3.2M131.6 302.4l2.3 3.6 2.4 1.5"/>
<g stroke-width="0.3"><path fill="#0000ef" d="M136.3 307.5l1.4 .8 2.3-.8-1.4-.8zM133.9 306l1.4 3 2.4-.7-1.4-.8z"/><path fill="#00f" d="M131.6 302.4l1.4 5.4 2.3 1.2-1.4-3z"/><path fill="#009fff" d="M122.2 279.4l1.4 1.1 2.3 1.6-1.4-1.1z"/><path fill="#00cfff" d="M117.5 270.9l1.4-2.2 2.4 7.8-1.5-1.1z"/></g>
<path fill="none" stroke-width="0.45" d=""/>
<g stroke-width="0.3"><path fill="#0000ef" d="M137.7 308.3l1.4 .7 2.3-.7-1.4-.8zM135.3 309l1.4 .8 2.4-.8-1.4-.7zM133 307.8l1.4 2.7 2.3-.7-1.4-.8z"/><path fill="#0080ff" d="M123.6 280.5l1.4 5.9 2.4 1.2-1.5-5.5z"/><path fill="#008fff" d="M121.3 276.5l1.4 6.6 2.3 3.3-1.4-5.9z"/><path fill="#00afff" d="M118.9 268.7l1.4 8 2.4 6.4-1.4-6.6z"/></g>
<path fill="none" stroke-width="0.45" d="M121.3 276.5l2.3 4 2.3 1.6M120.3 276.7l2.4 6.4 2.3 3.3 2.4 1.2"/>
<g stroke-width="0.3"><path fill="#0000ef" d="M136.7 309.8l1.4 .7 2.4-.7-1.4-.8zM134.4 310.5l1.4 .8 2.3-.8-1.4-.7z"/><path fill="#00f" d="M132 304.9l1.5 5.4 2.3 1-1.4-.8z"/><path fill="#0020ff" d="M129.7 296.4l1.4 5.4 2.4 8.5-1.5-5.4z"/><path fill="#0050ff" d="M127.4 287.6l1.4 5.5 2.3 8.7-1.4-5.4z"/><path fill="#0070ff" d="M125 286.4l1.4 5.8 2.4 .9-1.4-5.5zM122.7 283.1l1.4 6.6 2.3 2.5-1.4-5.8z"/><path fill="#008fff" d="M120.3 276.7l1.4 7.9 2.4 5.1-1.4-6.6z"/></g>
<path fill="none" stroke-width="0.45" d="M120.3 276.7l2.4 6.4 2.3 3.3 2.4 1.2M121.7 284.6l2.4 5.1 2.3 2.5 2.4 .9"/>
<g stroke-width="0.3"><path fill="#0000ef" d="M135.8 311.3l1.4 .8 2.3-.8-1.4-.8zM133.5 310.3l1.4 2.5 2.3-.7-1.4-.8z"/><path fill="#00f" d="M131.1 301.8l1.4 5.4 2.4 5.6-1.4-2.5z"/><path fill="#0030ff" d="M128.8 293.1l1.4 5.4 2.3 8.7-1.4-5.4z"/><path fill="#0050ff" d="M126.4 292.2l1.4 5.9 2.4 .4-1.4-5.4z"/><path fill="#0060ff" d="M124.1 289.7l1.4 6.6 2.3 1.8-1.4-5.9z"/><path fill="#0070ff" d="M121.7 284.6l1.4 7.9 2.4 3.8-1.4-6.6z"/></g>
<path fill="none" stroke-width="0.45" d="M121.7 284.6l2.4 5.1 2.3 2.5 2.4 .9M123.1 292.5l2.4 3.8 2.3 1.8 2.4 .4"/>
<g stroke-width="0.3"><path fill="#0000ef" d="M137.2 312.1l1.4 .7 2.4-.7-1.5-.8zM134.9 312.8l1.4 .8 2.3-.8-1.4-.7z"/><path fill="#00f" d="M132.5 307.2l1.4 5.4 2.4 1-1.4-.8z"/><path fill="#0020ff" d="M130.2 298.5l1.4 5.5 2.3 8.6-1.4-5.4z"/><path fill="#0030ff" d="M127.8 298.1l1.4 5.8 2.4 .1-1.4-5.5z"/><path fill="#0040ff" d="M125.5 296.3l1.4 6.6 2.3 1-1.4-5.8z"/><path fill="#0050ff" d="M123.1 292.5l1.4 8 2.4 2.4-1.4-6.6z"/></g>
<path fill="none" stroke-width="0.45" d="M123.1 292.5l2.4 3.8 2.3 1.8 2.4 .4M124.5 300.5l2.4 2.4 2.3 1 2.4 .1"/>
<g stroke-width="0.3"><path fill="#0000ef" d="M136.3 313.6l1.4 .8 2.3-.8-1.4-.8zM133.9 312.6l1.4 2.5 2.4-.7-1.4-.8z"/><path fill="#00f" d="M131.6 304l1.4 5.5 2.3 5.6-1.4-2.5z"/><path fill="#0020ff" d="M129.2 303.9l1.4 5.8 2.4-.2-1.4-5.5zM126.9 302.9l1.4 6.6 2.3 .2-1.4-5.8z"/><path fill="#0030ff" d="M124.5 300.5l1.4 7.9 2.4 1.1-1.4-6.6z"/></g>
<path fill="none" stroke-width="0.45" d="M124.5 300.5l2.4 2.4 2.3 1 2.4 .1M125.9 308.4l2.4 1.1 2.3 .2 2.4-.2"/>
<g stroke-width="0.3"><path fill="#0000ef" d="M135.3 315.1l1.4 .8 2.4-.8-1.4-.7z"/><path fill="#00f" d="M133 309.5l1.4 5.5 2.3 .9-1.4-.8zM130.6 309.7l1.4 5.9 2.4-.6-1.4-5.5zM128.3 309.5l1.4 6.6 2.3-.5-1.4-5.9zM125.9 308.4l1.5 8 2.3-.3-1.4-6.6z"/></g>
<path fill="none" stroke-width="0.45" d="M125.9 308.4l2.4 1.1 2.3 .2 2.4-.2M127.4 316.4l2.3-.3 2.3-.5 2.4-.6"/>
<g stroke-width="0.3"><path fill="#0000ef" d="M136.7 315.9l1.4 .8 2.4-.8-1.4-.8zM134.4 315l1.4 2.4 2.3-.7-1.4-.8zM132 315.6l1.4 2.6 2.4-.8-1.4-2.4zM129.7 316.1l1.4 2.8 2.3-.7-1.4-2.6zM127.4 316.4l1.4 3.3 2.3-.8-1.4-2.8z"/></g>
<path fill="none" stroke-width="0.45" d=""/>
<g stroke-width="0.4"><path fill="#0000ef" d="M135.8 317.4l1 .6 2.4-.8-1.1-.5zM133.4 318.2l1.1 .5 2.3-.7-1-.6zM131.1 318.9l1.1 .6 2.3-.8-1.1-.5zM128.8 319.7l1 .6 2.4-.8-1.1-.6z"/></g>
<path fill="none" stroke-width="0.8" d=""/>
<g stroke-width="0.4"><path fill="#0000ef" d="M136.8 318l1.1 .6 2.3-.8-1-.6zM134.5 318.7l1 .6 2.4-.7-1.1-.6zM132.2 319.5l1 .6 2.3-.8-1-.6zM129.8 320.3l1.1 .5 2.3-.7-1-.6z"/></g>
<path fill="none" stroke-width="0.8" d=""/>
<g stroke-width="0.4"><path fill="#0000ef" d="M135.5 319.3l1.1 .6 2.3-.8-1-.5zM133.2 320.1l1.1 .5 2.3-.7-1.1-.6zM130.9 320.8l1 .6 2.4-.8-1.1-.5z"/></g>
<path fill="none" stroke-width="0.8" d=""/>
<g stroke-width="0.4"><path fill="#0000ef" d="M136.6 319.9l1 .6 2.4-.8-1.1-.6zM134.3 320.6l1 .6 2.3-.7-1-.6zM131.9 321.4l1.1 .6 2.3-.8-1-.6z"/></g>
<path fill="none" stroke-width="0.8" d=""/>
<g stroke-width="0.4"><path fill="#0000ef" d="M135.3 321.2l1.1 .6 2.3-.8-1.1-.5zM133 322l1 .5 2.4-.7-1.1-.6z"/></g>
<path fill="none" stroke-width="0.8" d=""/>
<g stroke-width="0.4"><path fill="#0000ef" d="M136.4 321.8l1 .6 2.3-.8-1-.6zM134 322.5l1.1 .6 2.3-.7-1-.6z"/></g>
<path fill="none" stroke-width="0.8" d=""/>
<g stroke-width="0.4"><path fill="#0000ef" d="M135.1 323.1l1 .6 2.3-.8-1-.5z"/></g>
<path fill="none" stroke-width="0.8" d=""/>
<g stroke-width="0.4"><path fill="#0000ef" d="M136.1 323.7l1.1 .6 2.3-.8-1.1-.6z"/></g>
<path fill="none" stroke-width="0.8" d=""/>
<g stroke-width="0.4"><path fill="#0030ff" d="M153.6 319l1-9.7 2.4-.4-1.1 9.3zM151.2 319.7l1.1-10.4 2.3 0-1 9.7zM148.9 320.5l1-11.1 2.4-.1-1.1 10.4zM146.5 321.2l1.1-11.7 2.3-.1-1 11.1zM144.2 322l1-12.1 2.4-.4-1.1 11.7zM141.8 322.7l1.1-12.2 2.3-.6-1 12.1zM139.5 323.5l1-12.2 2.4-.8-1.1 12.2zM137.2 324.3l1-12.1 2.3-.9-1 12.2z"/></g>
<path fill="none" stroke-width="0.8" d="M137.2 324.3l2.3-.8 2.3-.8 2.4-.7 2.3-.8 2.4-.7 2.3-.8 2.4-.7 2.3-.8M138.2 312.2l2.3-.9 2.4-.8 2.3-.6 2.4-.4 2.3-.1 2.4-.1 2.3 0 2.4-.4"/>
<g stroke-width="0.4"><path fill="#0070ff" d="M154.6 309.3l1.1-13.1 2.3-.4-1 13.1zM152.3 309.3l1-13.4 2.4 .3-1.1 13.1z"/><path fill="#0080ff" d="M149.9 309.4l1.1-13.7 2.3 .2-1 13.4zM147.6 309.5l1-13.9 2.4 .1-1.1 13.7zM145.2 309.9l1.1-14 2.3-.3-1 13.9zM142.9 310.5l1-14 2.4-.6-1.1 14zM140.5 311.3l1.1-13.9 2.3-.9-1 14zM138.2 312.2l1.1-13.9 2.3-.9-1.1 13.9z"/></g>
<path fill="none" stroke-width="0.8" d="M138.2 312.2l2.3-.9 2.4-.8 2.3-.6 2.4-.4 2.3-.1 2.4-.1 2.3 0 2.4-.4M139.3 298.3l2.3-.9 2.3-.9 2.4-.6 2.3-.3 2.4 .1 2.3 .2 2.4 .3 2.3-.4"/>
<g stroke-width="0.4"><path fill="#00bfff" d="M153.3 295.9l1.1-13.4 2.3 .5-1 13.2zM151 295.7l1-13.7 2.4 .5-1.1 13.4z"/><path fill="#00cfff" d="M148.6 295.6l1.1-13.9 2.3 .3-1 13.7zM146.3 295.9l1-14 2.4-.2-1.1 13.9zM143.9 296.5l1.1-14 2.3-.6-1 14zM141.6 297.4l1-14 2.4-.9-1.1 14zM139.3 298.3l1-13.8 2.3-1.1-1 14z"/></g>
<path fill="none" stroke-width="0.8" d="M139.3 298.3l2.3-.9 2.3-.9 2.4-.6 2.3-.3 2.4 .1 2.3 .2 2.4 .3M140.3 284.5l2.3-1.1 2.4-.9 2.3-.6 2.4-.2 2.3 .3 2.4 .5 2.3 .5"/>
<g stroke-width="0.4"><path fill="#10ffef" d="M149.7 281.7l1-13.8 2.4 .5-1.1 13.6z"/><path fill="#20ffdf" d="M147.3 281.9l1.1-14.1 2.3 .1-1 13.8zM145 282.5l1-14 2.4-.7-1.1 14.1zM142.6 283.4l1.1-13.9 2.3-1-1 14zM140.3 284.5l1.1-13.8 2.3-1.2-1.1 13.9z"/></g>
<path fill="none" stroke-width="0.8" d="M140.3 284.5l2.3-1.1 2.4-.9 2.3-.6 2.4-.2 2.3 .3M141.4 270.7l2.3-1.2 2.3-1 2.4-.7 2.3 .1 2.4 .5"/>
<g stroke-width="0.4"><path fill="#70ff8f" d="M148.4 267.8l1-14 2.4 .2-1.1 13.9zM146 268.5l1.1-14 2.3-.7-1 14zM143.7 269.5l1-14 2.4-1-1.1 14zM141.4 270.7l1-13.9 2.3-1.3-1 14z"/></g>
<path fill="none" stroke-width="0.8" d="M141.4 270.7l2.3-1.2 2.3-1 2.4-.7 2.3 .1M142.4 256.8l2.3-1.3 2.4-1 2.3-.7 2.4 .2"/>
<g stroke-width="0.4"><path fill="#afff50" d="M149.4 253.8l1.1-14 2.3 .3-1 13.9z"/><path fill="#bfff40" d="M147.1 254.5l1-14.1 2.4-.6-1.1 14zM144.7 255.5l1.1-13.9 2.3-1.2-1 14.1z"/><path fill="#afff50" d="M142.4 256.8l1-13.8 2.4-1.4-1.1 13.9z"/></g>
<path fill="none" stroke-width="0.8" d="M142.4 256.8l2.3-1.3 2.4-1 2.3-.7 2.4 .2M143.4 243l2.4-1.4 2.3-1.2 2.4-.6 2.3 .3"/>
<g stroke-width="0.4"><path fill="#ff0" d="M148.1 240.4l1.1-14 2.3-.6-1 14zM145.8 241.6l1-14 2.4-1.2-1.1 14zM143.4 243l1.1-13.9 2.3-1.5-1 14z"/></g>
<path fill="none" stroke-width="0.8" d="M143.4 243l2.4-1.4 2.3-1.2 2.4-.6M144.5 229.1l2.3-1.5 2.4-1.2 2.3-.6"/>
<g stroke-width="0.4"><path fill="#ffbf00" d="M144.5 229.1l1-11.8 2.4-1.8-1.1 12.1z"/></g>
<path fill="none" stroke-width="0.8" d="M144.5 229.1l2.3-1.5M145.5 217.3l2.4-1.8"/>
<g stroke-width="0.4"><path fill="#ff7000" d="M234.7 180.3l1-2.4 2.4-7.3-1.1 2.7z"/><path fill="#ff8f00" d="M232.3 184.5l1.1-2.2 2.3-4.4-1 2.4z"/><path fill="#ff9f00" d="M204.2 194.5l1-.6 2.4-2.6-1.1 .7zM201.8 196.9l1.1-.4 2.3-2.6-1 .6z"/><path fill="#ff8f00" d="M190.1 195l1.1 .2 2.3-3.5-1.1 0z"/><path fill="#ff9f00" d="M187.8 199.1l1 .3 2.4-4.2-1.1-.2z"/><path fill="#ffaf00" d="M185.4 203.6l1.1 .5 2.3-4.7-1-.3z"/><path fill="#ffbf00" d="M183.1 207l1 .6 2.4-3.5-1.1-.5z"/><path fill="#ffcf00" d="M180.7 208.5l1.1 .6 2.3-1.5-1-.6zM178.4 209.6l1 .6 2.4-1.1-1.1-.6zM176 210.6l1.1 .6 2.3-1-1-.6zM173.7 211.9l1 .6 2.4-1.3-1.1-.6zM171.3 213.2l1.1 .6 2.3-1.3-1-.6zM169 214.6l1 .7 2.4-1.5-1.1-.6z"/><path fill="#ffdf00" d="M166.7 216.7l1 .8 2.3-2.2-1-.7zM164.3 218.5l1.1 .9 2.3-1.9-1-.8zM162 218.4l1 1 2.4 0-1.1-.9zM159.6 216.6l1.1 1.1 2.3 1.7-1-1z"/><path fill="#ffcf00" d="M157.3 215l1 1.2 2.4 1.5-1.1-1.1z"/><path fill="#ffbf00" d="M154.9 213.8l1.1 1.3 2.3 1.1-1-1.2zM152.6 213.4l1 1.4 2.4 .3-1.1-1.3zM150.2 214.2l1.1 1.5 2.3-.9-1-1.4zM147.9 215.5l1 1.6 2.4-1.4-1.1-1.5zM145.5 217.3l1.1 1.6 2.3-1.8-1-1.6z"/></g>
<path fill="none" stroke-width="0.8" d=""/>
<g stroke-width="0.4"><path fill="#ffcf00" d="M378.8 139.1l1 5.1 2.3 2.2-1-5z"/><path fill="#ffbf00" d="M376.4 137.6l1.1 5.3 2.3 1.3-1-5.1z"/><path fill="#ffaf00" d="M374.1 136.8l1 5.3 2.4 .8-1.1-5.3zM371.7 136.3l1.1 5.5 2.3 .3-1-5.3zM369.4 138l1 5.5 2.4-1.7-1.1-5.5zM367 141.5l1.1 5.5 2.3-3.5-1-5.5z"/><path fill="#ffbf00" d="M364.7 144.5l1 5.4 2.4-2.9-1.1-5.5z"/><path fill="#ffcf00" d="M362.3 147.4l1.1 5.4 2.3-2.9-1-5.4zM360 149.5l1 5.4 2.4-2.1-1.1-5.4z"/><path fill="#ffdf00" d="M357.6 150.9l1.1 5.4 2.3-1.4-1-5.4zM355.3 152.2l1.1 5.4 2.3-1.3-1.1-5.4zM353 154l1 5.4 2.4-1.8-1.1-5.4z"/><path fill="#ffef00" d="M350.6 156.9l1.1 5.3 2.3-2.8-1-5.4zM348.3 160.6l1 5.1 2.4-3.5-1.1-5.3z"/><path fill="#efff10" d="M345.9 165l1.1 4.9 2.3-4.2-1-5.1z"/><path fill="#dfff20" d="M343.6 169.8l1 4.8 2.4-4.7-1.1-4.9z"/><path fill="#cfff30" d="M341.2 174.3l1.1 4.7 2.3-4.4-1-4.8z"/><path fill="#bfff40" d="M338.9 178.5l1 4.6 2.4-4.1-1.1-4.7z"/><path fill="#afff50" d="M336.5 181.8l1.1 4.6 2.3-3.3-1-4.6z"/><path fill="#9fff60" d="M334.2 184.7l1 4.5 2.4-2.8-1.1-4.6zM331.9 185.4l1 4.5 2.3-.7-1-4.5zM329.5 184.5l1.1 4.7 2.3 .7-1-4.5z"/><path fill="#afff50" d="M327.2 183.1l1 4.8 2.4 1.3-1.1-4.7zM324.8 181.5l1.1 4.9 2.3 1.5-1-4.8z"/><path fill="#bfff40" d="M322.5 179.5l1 5 2.4 1.9-1.1-4.9z"/><path fill="#cfff30" d="M320.1 179.2l1.1 5 2.3 .3-1-5zM317.8 180.7l1 5.2 2.4-1.7-1.1-5zM315.4 181.8l1.1 5.3 2.3-1.2-1-5.2zM313.1 180.9l1 5.6 2.4 .6-1.1-5.3zM310.7 178.7l1.1 5.8 2.3 2-1-5.6z"/><path fill="#efff10" d="M308.4 174l1.1 5.9 2.3 4.6-1.1-5.8z"/><path fill="#ffef00" d="M306.1 168.5l1 6.1 2.4 5.3-1.1-5.9z"/><path fill="#ffcf00" d="M303.7 162.2l1.1 6.4 2.3 6-1-6.1z"/><path fill="#ffaf00" d="M301.4 155l1 6.8 2.4 6.8-1.1-6.4z"/><path fill="#ff8000" d="M299 146.9l1.1 7.2 2.3 7.7-1-6.8z"/><path fill="#ff6000" d="M296.7 142.9l1 7.4 2.4 3.8-1.1-7.2z"/><path fill="#ff5000" d="M294.3 140.8l1.1 7.6 2.3 1.9-1-7.4z"/><path fill="#ff4000" d="M292 138.4l1 8.1 2.4 1.9-1.1-7.6z"/><path fill="#ff3000" d="M289.6 135.2l1.1 8.6 2.3 2.7-1-8.1z"/><path fill="#ff2000" d="M287.3 130.8l1 9.2 2.4 3.8-1.1-8.6z"/><path fill="#f00" d="M285 125l1 9.6 2.3 5.4-1-9.2z"/><path fill="#df0000" d="M282.6 118.8l1.1 9.8 2.3 6-1-9.6z"/><path fill="#bf0000" d="M280.3 114.6l1 10 2.4 4-1.1-9.8z"/><path fill="#af0000" d="M277.9 113.1l1.1 10.3 2.3 1.2-1-10zM275.6 117.5l1 10.6 2.4-4.7-1.1-10.3z"/><path fill="#cf0000" d="M273.2 124.7l1.1 10.7 2.3-7.3-1-10.6z"/><path fill="#ef0000" d="M270.9 132.7l1 10.5 2.4-7.8-1.1-10.7z"/><path fill="#ff1000" d="M268.5 140.2l1.1 10.2 2.3-7.2-1-10.5z"/><path fill="#ff3000" d="M266.2 145.5l1 10.1 2.4-5.2-1.1-10.2z"/><path fill="#ff4000" d="M263.8 149.5l1.1 10.1 2.3-4-1-10.1z"/><path fill="#ff5000" d="M261.5 152.5l1.1 10 2.3-2.9-1.1-10.1z"/><path fill="#ff6000" d="M259.2 154.5l1 9.7 2.4-1.7-1.1-10zM256.8 156.4l1.1 9.3 2.3-1.5-1-9.7zM254.5 158.6l1 9.1 2.4-2-1.1-9.3z"/><path fill="#ff7000" d="M252.1 160.9l1.1 9.3 2.3-2.5-1-9.1zM249.8 163.2l1 9.6 2.4-2.6-1.1-9.3z"/><path fill="#ff8000" d="M247.4 165.7l1.1 9.8 2.3-2.7-1-9.6z"/><path fill="#ff8f00" d="M245.1 168.1l1 9.8 2.4-2.4-1.1-9.8zM242.7 169.2l1.1 9.7 2.3-1-1-9.8zM240.4 169.6l1 9.7 2.4-.4-1.1-9.7zM238.1 170.6l1 9.9 2.3-1.2-1-9.7z"/><path fill="#ff9f00" d="M235.7 177.9l1.1 9.6 2.3-7-1-9.9z"/><path fill="#ffbf00" d="M233.4 182.3l1 9.5 2.4-4.3-1.1-9.6z"/><path fill="#ffcf00" d="M231 185.1l1.1 9.4 2.3-2.7-1-9.5zM228.7 188.2l1 9.5 2.4-3.2-1.1-9.4z"/><path fill="#ffdf00" d="M226.3 190.2l1.1 9.8 2.3-2.3-1-9.5zM224 191.6l1 10.2 2.4-1.8-1.1-9.8z"/><path fill="#ffef00" d="M221.6 192l1.1 10.5 2.3-.7-1-10.2z"/><path fill="#ffdf00" d="M219.3 191.3l1 10.5 2.4 .7-1.1-10.5zM216.9 190.3l1.1 10.3 2.3 1.2-1-10.5z"/><path fill="#ffcf00" d="M214.6 189.2l1.1 10.2 2.3 1.2-1.1-10.3zM212.3 188.3l1 10.4 2.4 .7-1.1-10.2z"/><path fill="#ffbf00" d="M209.9 188.9l1.1 10.5 2.3-.7-1-10.4z"/><path fill="#ffcf00" d="M207.6 191.3l1 10.5 2.4-2.4-1.1-10.5zM205.2 193.9l1.1 10.5 2.3-2.6-1-10.5z"/><path fill="#ffdf00" d="M202.9 196.5l1 10.3 2.4-2.4-1.1-10.5zM200.5 196.1l1.1 10.6 2.3 .1-1-10.3z"/><path fill="#ffcf00" d="M198.2 194.6l1 11 2.4 1.1-1.1-10.6zM195.8 192.4l1.1 11.4 2.3 1.8-1-11z"/><path fill="#ffbf00" d="M193.5 191.7l1 11.3 2.4 .8-1.1-11.4zM191.2 195.2l1 10.9 2.3-3.1-1-11.3z"/><path fill="#ffcf00" d="M188.8 199.4l1.1 10.7 2.3-4-1-10.9z"/><path fill="#ffdf00" d="M186.5 204.1l1 10.8 2.4-4.8-1.1-10.7z"/><path fill="#ffef00" d="M184.1 207.6l1.1 11.1 2.3-3.8-1-10.8z"/><path fill="#ff0" d="M181.8 209.1l1 11.6 2.4-2-1.1-11.1zM179.4 210.2l1.1 11.7 2.3-1.2-1-11.6z"/><path fill="#efff10" d="M177.1 211.2l1 11.6 2.4-.9-1.1-11.7zM174.7 212.5l1.1 11.5 2.3-1.2-1-11.6zM172.4 213.8l1 11.5 2.4-1.3-1.1-11.5zM170 215.3l1.1 11.4 2.3-1.4-1-11.5zM167.7 217.5l1.1 11 2.3-1.8-1.1-11.4z"/><path fill="#dfff20" d="M165.4 219.4l1 10.6 2.4-1.5-1.1-11zM163 219.4l1.1 10.7 2.3-.1-1-10.6z"/><path fill="#efff10" d="M160.7 217.7l1 11.1 2.4 1.3-1.1-10.7z"/><path fill="#ff0" d="M158.3 216.2l1.1 11.6 2.3 1-1-11.1zM156 215.1l1 11.8 2.4 .9-1.1-11.6z"/><path fill="#ffef00" d="M153.6 214.8l1.1 11.6 2.3 .5-1-11.8zM151.3 215.7l1 11.1 2.4-.4-1.1-11.6zM148.9 217.1l1.1 10.9 2.3-1.2-1-11.1zM146.6 218.9l1 10.9 2.4-1.8-1.1-10.9z"/></g>
<path fill="none" stroke-width="0.8" d="M146.6 218.9l2.3-1.8 2.4-1.4 2.3-.9 2.4 .3 2.3 1.1 2.4 1.5 2.3 1.7 2.4 0 2.3-1.9 2.3-2.2 2.4-1.5 2.3-1.3 2.4-1.3 2.3-1 2.4-1.1 2.3-1.5 2.4-3.5 2.3-4.7 2.4-4.2 2.3-3.5 2.3 .7 2.4 2.2 2.3 1.5 2.4 .4 2.3-2.6 2.4-2.6 2.3-2.4 2.4-.6 2.3 .9 2.3 1.1 2.4 1 2.3 .7 2.4-.4 2.3-1.4 2.4-2 2.3-3.1 2.4-2.8 2.3-4.4M238.1 170.6l2.3-1 2.3-.4 2.4-1.1 2.3-2.4 2.4-2.5 2.3-2.3 2.4-2.3 2.3-2.2 2.4-1.9 2.3-2 2.3-3 2.4-4 2.3-5.3M275.6 117.5l2.3-4.4 2.4 1.5 2.3 4.2 2.4 6.2 2.3 5.8 2.3 4.4 2.4 3.2 2.3 2.4 2.4 2.1 2.3 4M303.7 162.2l2.4 6.3 2.3 5.5 2.3 4.7 2.4 2.2 2.3 .9 2.4-1.1 2.3-1.5 2.4 .3 2.3 2 2.4 1.6 2.3 1.4 2.4 .9 2.3-.7 2.3-2.9 2.4-3.3 2.3-4.2 2.4-4.5 2.3-4.8 2.4-4.4 2.3-3.7 2.4-2.9 2.3-1.8 2.3-1.3 2.4-1.4 2.3-2.1 2.4-2.9 2.3-3 2.4-3.5 2.3-1.7 2.4 .5 2.3 .8 2.4 1.5 2.3 2.3M147.6 229.8l2.4-1.8 2.3-1.2 2.4-.4 2.3 .5 2.4 .9 2.3 1 2.4 1.3 2.3-.1 2.4-1.5 2.3-1.8 2.3-1.4 2.4-1.3 2.3-1.2 2.4-.9 2.3-1.2 2.4-2 2.3-3.8 2.4-4.8 2.3-4 2.3-3.1 2.4 .8 2.3 1.8 2.4 1.1 2.3 .1 2.4-2.4 2.3-2.6 2.4-2.4 2.3-.7 2.4 .7 2.3 1.2 2.3 1.2 2.4 .7 2.3-.7 2.4-1.8 2.3-2.3 2.4-3.2 2.3-2.7 2.4-4.3M239.1 180.5l2.3-1.2 2.4-.4 2.3-1 2.4-2.4 2.3-2.7 2.4-2.6 2.3-2.5 2.4-2 2.3-1.5 2.4-1.7 2.3-2.9 2.3-4 2.4-5.2M276.6 128.1l2.4-4.7 2.3 1.2 2.4 4 2.3 6 2.3 5.4 2.4 3.8 2.3 2.7 2.4 1.9 2.3 1.9 2.4 3.8M302.4 161.8l2.4 6.8 2.3 6 2.4 5.3 2.3 4.6 2.3 2 2.4 .6 2.3-1.2 2.4-1.7 2.3 .3 2.4 1.9 2.3 1.5 2.4 1.3 2.3 .7 2.3-.7 2.4-2.8 2.3-3.3 2.4-4.1 2.3-4.4 2.4-4.7 2.3-4.2 2.4-3.5 2.3-2.8 2.4-1.8 2.3-1.3 2.3-1.4 2.4-2.1 2.3-2.9 2.4-2.9 2.3-3.5 2.4-1.7 2.3 .3 2.4 .8 2.3 1.3 2.3 2.2"/>
<g stroke-width="0.4"><path fill="#efff10" d="M379.8 144.2l1.1 13.5 2.3 1.8-1.1-13.1z"/><path fill="#ff0" d="M377.5 142.9l1 13.8 2.4 1-1.1-13.5zM375.1 142.1l1.1 14.1 2.3 .5-1-13.8z"/><path fill="#ffef00" d="M372.8 141.8l1 14.2 2.4 .2-1.1-14.1zM370.4 143.5l1.1 14.2 2.3-1.7-1-14.2z"/><path fill="#ff0" d="M368.1 147l1 14 2.4-3.3-1.1-14.2z"/><path fill="#efff10" d="M365.7 149.9l1.1 13.9 2.3-2.8-1-14zM363.4 152.8l1 13.7 2.4-2.7-1.1-13.9z"/><path fill="#dfff20" d="M361 154.9l1.1 13.7 2.3-2.1-1-13.7zM358.7 156.3l1 13.7 2.4-1.4-1.1-13.7zM356.4 157.6l1 13.6 2.3-1.2-1-13.7zM354 159.4l1.1 13.5 2.3-1.7-1-13.6z"/><path fill="#cfff30" d="M351.7 162.2l1 13.2 2.4-2.5-1.1-13.5z"/><path fill="#bfff40" d="M349.3 165.7l1.1 12.8 2.3-3.1-1-13.2zM347 169.9l1 12.3 2.4-3.7-1.1-12.8z"/><path fill="#9fff60" d="M344.6 174.6l1.1 11.8 2.3-4.2-1-12.3z"/><path fill="#8fff70" d="M342.3 179l1 11.3 2.4-3.9-1.1-11.8z"/><path fill="#80ff80" d="M339.9 183.1l1.1 11 2.3-3.8-1-11.3z"/><path fill="#70ff8f" d="M337.6 186.4l1 10.6 2.4-2.9-1.1-11zM335.2 189.2l1.1 10.4 2.3-2.6-1-10.6zM332.9 189.9l1.1 10.4 2.3-.7-1.1-10.4zM330.6 189.2l1 10.5 2.4 .6-1.1-10.4zM328.2 187.9l1.1 10.7 2.3 1.1-1-10.5z"/><path fill="#80ff80" d="M325.9 186.4l1 10.8 2.4 1.4-1.1-10.7z"/><path fill="#8fff70" d="M323.5 184.5l1.1 10.7 2.3 2-1-10.8zM321.2 184.2l1 10.6 2.4 .4-1.1-10.7z"/><path fill="#9fff60" d="M318.8 185.9l1.1 10.4 2.3-1.5-1-10.6z"/><path fill="#8fff70" d="M316.5 187.1l1 10.7 2.4-1.5-1.1-10.4zM314.1 186.5l1.1 11 2.3 .3-1-10.7z"/><path fill="#9fff60" d="M311.8 184.5l1 11 2.4 2-1.1-11z"/><path fill="#afff50" d="M309.5 179.9l1 11.1 2.3 4.5-1-11z"/><path fill="#cfff30" d="M307.1 174.6l1.1 11.3 2.3 5.1-1-11.1z"/><path fill="#efff10" d="M304.8 168.6l1 11.6 2.4 5.7-1.1-11.3z"/><path fill="#ffef00" d="M302.4 161.8l1.1 12.2 2.3 6.2-1-11.6z"/><path fill="#ffbf00" d="M300.1 154.1l1 12.8 2.4 7.1-1.1-12.2z"/><path fill="#ff9f00" d="M297.7 150.3l1.1 13 2.3 3.6-1-12.8z"/><path fill="#ff8f00" d="M295.4 148.4l1 13.2 2.4 1.7-1.1-13z"/><path fill="#ff8000" d="M293 146.5l1.1 13.6 2.3 1.5-1-13.2z"/><path fill="#ff7000" d="M290.7 143.8l1 14.5 2.4 1.8-1.1-13.6z"/><path fill="#ff6000" d="M288.3 140l1.1 15.3 2.3 3-1-14.5z"/><path fill="#ff5000" d="M286 134.6l1.1 15.8 2.3 4.9-1.1-15.3z"/><path fill="#ff3000" d="M283.7 128.6l1 15.9 2.4 5.9-1.1-15.8z"/><path fill="#ff1000" d="M281.3 124.6l1.1 15.9 2.3 4-1-15.9z"/><path fill="#f00" d="M279 123.4l1 16.3 2.4 .8-1.1-15.9zM276.6 128.1l1.1 16.5 2.3-4.9-1-16.3z"/><path fill="#ff2000" d="M274.3 135.4l1 16.4 2.4-7.2-1.1-16.5z"/><path fill="#ff4000" d="M271.9 143.2l1.1 15.9 2.3-7.3-1-16.4z"/><path fill="#ff6000" d="M269.6 150.4l1 15.2 2.4-6.5-1.1-15.9z"/><path fill="#ff8000" d="M267.2 155.6l1.1 14.9 2.3-4.9-1-15.2z"/><path fill="#ff8f00" d="M264.9 159.6l1 14.7 2.4-3.8-1.1-14.9z"/><path fill="#ff9f00" d="M262.6 162.5l1 14.4 2.3-2.6-1-14.7zM260.2 164.2l1.1 13.9 2.3-1.2-1-14.4zM257.9 165.7l1 13.2 2.4-.8-1.1-13.9zM255.5 167.7l1.1 12.8 2.3-1.6-1-13.2z"/><path fill="#ffaf00" d="M253.2 170.2l1 12.7 2.4-2.4-1.1-12.8zM250.8 172.8l1.1 13 2.3-2.9-1-12.7z"/><path fill="#ffbf00" d="M248.5 175.5l1 13.1 2.4-2.8-1.1-13z"/><path fill="#ffcf00" d="M246.1 177.9l1.1 13 2.3-2.3-1-13.1zM243.8 178.9l1 12.7 2.4-.7-1.1-13zM241.4 179.3l1.1 12.6 2.3-.3-1-12.7zM239.1 180.5l1.1 12.7 2.3-1.3-1.1-12.6z"/><path fill="#ffdf00" d="M236.8 187.5l1 12.3 2.4-6.6-1.1-12.7z"/><path fill="#ff0" d="M234.4 191.8l1.1 12 2.3-4-1-12.3zM232.1 194.5l1 11.8 2.4-2.5-1.1-12z"/><path fill="#efff10" d="M229.7 197.7l1.1 11.7 2.3-3.1-1-11.8z"/><path fill="#dfff20" d="M227.4 200l1 11.9 2.4-2.5-1.1-11.7zM225 201.8l1.1 12.4 2.3-2.3-1-11.9z"/><path fill="#cfff30" d="M222.7 202.5l1 12.7 2.4-1-1.1-12.4z"/><path fill="#dfff20" d="M220.3 201.8l1.1 12.5 2.3 .9-1-12.7zM218 200.6l1 12.1 2.4 1.6-1.1-12.5z"/><path fill="#efff10" d="M215.7 199.4l1 11.9 2.3 1.4-1-12.1z"/><path fill="#ff0" d="M213.3 198.7l1.1 11.9 2.3 .7-1-11.9zM211 199.4l1 12 2.4-.8-1.1-11.9zM208.6 201.8l1.1 12 2.3-2.4-1-12z"/><path fill="#efff10" d="M206.3 204.4l1 11.7 2.4-2.3-1.1-12zM203.9 206.8l1.1 11.5 2.3-2.2-1-11.7zM201.6 206.7l1 11.6 2.4 0-1.1-11.5zM199.2 205.6l1.1 12 2.3 .7-1-11.6z"/><path fill="#ff0" d="M196.9 203.8l1 12.2 2.4 1.6-1.1-12zM194.5 203l1.1 12.2 2.3 .8-1-12.2zM192.2 206.1l1.1 11.6 2.3-2.5-1.1-12.2z"/><path fill="#efff10" d="M189.9 210.1l1 11.3 2.4-3.7-1.1-11.6z"/><path fill="#dfff20" d="M187.5 214.9l1.1 11.2 2.3-4.7-1-11.3z"/><path fill="#cfff30" d="M185.2 218.7l1 11.6 2.4-4.2-1.1-11.2z"/><path fill="#bfff40" d="M182.8 220.7l1.1 11.9 2.3-2.3-1-11.6zM180.5 221.9l1 11.9 2.4-1.2-1.1-11.9zM178.1 222.8l1.1 11.8 2.3-.8-1-11.9zM175.8 224l1 11.6 2.4-1-1.1-11.8zM173.4 225.3l1.1 11.5 2.3-1.2-1-11.6z"/><path fill="#afff50" d="M171.1 226.7l1 11.4 2.4-1.3-1.1-11.5zM168.8 228.5l1 11.1 2.3-1.5-1-11.4zM166.4 230l1.1 10.7 2.3-1.1-1-11.1zM164.1 230.1l1 10.6 2.4 0-1.1-10.7zM161.7 228.8l1.1 11 2.3 .9-1-10.6z"/><path fill="#bfff40" d="M159.4 227.8l1 11.5 2.4 .5-1.1-11zM157 226.9l1.1 11.8 2.3 .6-1-11.5z"/><path fill="#cfff30" d="M154.7 226.4l1 11.6 2.4 .7-1.1-11.8zM152.3 226.8l1.1 11.2 2.3 0-1-11.6zM150 228l1 10.9 2.4-.9-1.1-11.2zM147.6 229.8l1.1 10.9 2.3-1.8-1-10.9z"/></g>
<path fill="none" stroke-width="0.8" d="M147.6 229.8l2.4-1.8 2.3-1.2 2.4-.4 2.3 .5 2.4 .9 2.3 1 2.4 1.3 2.3-.1 2.4-1.5 2.3-1.8 2.3-1.4 2.4-1.3 2.3-1.2 2.4-.9 2.3-1.2 2.4-2 2.3-3.8 2.4-4.8 2.3-4 2.3-3.1 2.4 .8 2.3 1.8 2.4 1.1 2.3 .1 2.4-2.4 2.3-2.6 2.4-2.4 2.3-.7 2.4 .7 2.3 1.2 2.3 1.2 2.4 .7 2.3-.7 2.4-1.8 2.3-2.3 2.4-3.2 2.3-2.7 2.4-4.3M239.1 180.5l2.3-1.2 2.4-.4 2.3-1 2.4-2.4 2.3-2.7 2.4-2.6 2.3-2.5 2.4-2 2.3-1.5 2.4-1.7 2.3-2.9 2.3-4 2.4-5.2M276.6 128.1l2.4-4.7 2.3 1.2 2.4 4 2.3 6 2.3 5.4 2.4 3.8 2.3 2.7 2.4 1.9 2.3 1.9 2.4 3.8M302.4 161.8l2.4 6.8 2.3 6 2.4 5.3 2.3 4.6 2.3 2 2.4 .6 2.3-1.2 2.4-1.7 2.3 .3 2.4 1.9 2.3 1.5 2.4 1.3 2.3 .7 2.3-.7 2.4-2.8 2.3-3.3 2.4-4.1 2.3-4.4 2.4-4.7 2.3-4.2 2.4-3.5 2.3-2.8 2.4-1.8 2.3-1.3 2.3-1.4 2.4-2.1 2.3-2.9 2.4-2.9 2.3-3.5 2.4-1.7 2.3 .3 2.4 .8 2.3 1.3 2.3 2.2M148.7 240.7l2.3-1.8 2.4-.9 2.3 0 2.4 .7 2.3 .6 2.4 .5 2.3 .9 2.4 0 2.3-1.1 2.3-1.5 2.4-1.3 2.3-1.2 2.4-1 2.3-.8 2.4-1.2 2.3-2.3 2.4-4.2 2.3-4.7 2.4-3.7 2.3-2.5 2.3 .8 2.4 1.6 2.3 .7 2.4 0 2.3-2.2 2.4-2.3 2.3-2.4 2.4-.8 2.3 .7 2.3 1.4 2.4 1.6 2.3 .9 2.4-1 2.3-2.3 2.4-2.5 2.3-3.1 2.4-2.5 2.3-4 2.4-6.6 2.3-1.3 2.3-.3 2.4-.7 2.3-2.3 2.4-2.8 2.3-2.9 2.4-2.4 2.3-1.6 2.4-.8 2.3-1.2 2.3-2.6 2.4-3.8 2.3-4.9 2.4-6.5M277.7 144.6l2.3-4.9 2.4 .8 2.3 4 2.4 5.9 2.3 4.9 2.3 3 2.4 1.8 2.3 1.5 2.4 1.7 2.3 3.6M303.5 174l2.3 6.2 2.4 5.7 2.3 5.1 2.3 4.5 2.4 2 2.3 .3 2.4-1.5 2.3-1.5 2.4 .4 2.3 2 2.4 1.4 2.3 1.1 2.4 .6 2.3-.7 2.3-2.6 2.4-2.9 2.3-3.8 2.4-3.9 2.3-4.2 2.4-3.7 2.3-3.1 2.4-2.5 2.3-1.7 2.3-1.2 2.4-1.4 2.3-2.1 2.4-2.7 2.3-2.8 2.4-3.3 2.3-1.7 2.4 .2 2.3 .5 2.4 1 2.3 1.8"/>
<g stroke-width="0.4"><path fill="#8fff70" d="M380.9 157.7l1 19.9 2.3 1.3-1-19.4zM378.5 156.7l1.1 20.2 2.3 .7-1-19.9z"/><path fill="#9fff60" d="M376.2 156.2l1 20.5 2.4 .2-1.1-20.2zM373.8 156l1.1 20.7 2.3 0-1-20.5zM371.5 157.7l1 20.7 2.4-1.7-1.1-20.7zM369.1 161l1.1 20.3 2.3-2.9-1-20.7z"/><path fill="#8fff70" d="M366.8 163.8l1 20 2.4-2.5-1.1-20.3z"/><path fill="#80ff80" d="M364.4 166.5l1.1 19.8 2.3-2.5-1-20zM362.1 168.6l1 19.6 2.4-1.9-1.1-19.8zM359.7 170l1.1 19.6 2.3-1.4-1-19.6zM357.4 171.2l1 19.2 2.4-.8-1.1-19.6z"/><path fill="#70ff8f" d="M355.1 172.9l1 18.6 2.3-1.1-1-19.2zM352.7 175.4l1.1 18 2.3-1.9-1-18.6zM350.4 178.5l1 17.2 2.4-2.3-1.1-18z"/><path fill="#60ff9f" d="M348 182.2l1.1 16.2 2.3-2.7-1-17.2z"/><path fill="#50ffaf" d="M345.7 186.4l1 15.2 2.4-3.2-1.1-16.2zM343.3 190.3l1.1 14.5 2.3-3.2-1-15.2z"/><path fill="#40ffbf" d="M341 194.1l1 13.8 2.4-3.1-1.1-14.5z"/><path fill="#30ffcf" d="M338.6 197l1.1 13.2 2.3-2.3-1-13.8zM336.3 199.6l1 12.6 2.4-2-1.1-13.2zM334 200.3l1 12.3 2.3-.4-1-12.6zM331.6 199.7l1.1 12.2 2.3 .7-1-12.3zM329.3 198.6l1 12.3 2.4 1-1.1-12.2z"/><path fill="#40ffbf" d="M326.9 197.2l1.1 12.1 2.3 1.6-1-12.3z"/><path fill="#50ffaf" d="M324.6 195.2l1 11.9 2.4 2.2-1.1-12.1z"/><path fill="#60ff9f" d="M322.2 194.8l1.1 11.5 2.3 .8-1-11.9zM319.9 196.3l1 11.2 2.4-1.2-1.1-11.5zM317.5 197.8l1.1 11.1 2.3-1.4-1-11.2zM315.2 197.5l1 11.1 2.4 .3-1.1-11.1zM312.8 195.5l1.1 11 2.3 2.1-1-11.1z"/><path fill="#80ff80" d="M310.5 191l1 11.1 2.4 4.4-1.1-11z"/><path fill="#9fff60" d="M308.2 185.9l1 11.3 2.3 4.9-1-11.1z"/><path fill="#bfff40" d="M305.8 180.2l1.1 11.7 2.3 5.3-1-11.3z"/><path fill="#dfff20" d="M303.5 174l1 12.3 2.4 5.6-1.1-11.7z"/><path fill="#ff0" d="M301.1 166.9l1.1 12.9 2.3 6.5-1-12.3z"/><path fill="#ffdf00" d="M298.8 163.3l1 13 2.4 3.5-1.1-12.9z"/><path fill="#ffcf00" d="M296.4 161.6l1.1 13.2 2.3 1.5-1-13z"/><path fill="#ffbf00" d="M294.1 160.1l1 13.7 2.4 1-1.1-13.2zM291.7 158.3l1.1 14.5 2.3 1-1-13.7z"/><path fill="#ffaf00" d="M289.4 155.3l1 15.3 2.4 2.2-1.1-14.5z"/><path fill="#ff9f00" d="M287.1 150.4l1 15.7 2.3 4.5-1-15.3z"/><path fill="#ff8000" d="M284.7 144.5l1.1 15.8 2.3 5.8-1-15.7z"/><path fill="#ff6000" d="M282.4 140.5l1 16 2.4 3.8-1.1-15.8z"/><path fill="#ff5000" d="M280 139.7l1.1 16.4 2.3 .4-1-16z"/><path fill="#ff6000" d="M277.7 144.6l1 16.5 2.4-5-1.1-16.4z"/><path fill="#ff7000" d="M275.3 151.8l1.1 16.4 2.3-7.1-1-16.5z"/><path fill="#ff8f00" d="M273 159.1l1 15.9 2.4-6.8-1.1-16.4z"/><path fill="#ffaf00" d="M270.6 165.6l1.1 15.3 2.3-5.9-1-15.9z"/><path fill="#ffcf00" d="M268.3 170.5l1 14.9 2.4-4.5-1.1-15.3z"/><path fill="#ffdf00" d="M265.9 174.3l1.1 14.7 2.3-3.6-1-14.9zM263.6 176.9l1 14.4 2.4-2.3-1.1-14.7z"/><path fill="#ffef00" d="M261.3 178.1l1 13.8 2.3-.6-1-14.4zM258.9 178.9l1.1 13.2 2.3-.2-1-13.8zM256.6 180.5l1 12.7 2.4-1.1-1.1-13.2zM254.2 182.9l1.1 12.7 2.3-2.4-1-12.7z"/><path fill="#ff0" d="M251.9 185.8l1 12.9 2.4-3.1-1.1-12.7zM249.5 188.6l1.1 13.2 2.3-3.1-1-12.9z"/><path fill="#efff10" d="M247.2 190.9l1 12.9 2.4-2-1.1-13.2zM244.8 191.6l1.1 12.7 2.3-.5-1-12.9zM242.5 191.9l1 12.6 2.4-.2-1.1-12.7zM240.2 193.2l1 12.6 2.3-1.3-1-12.6z"/><path fill="#dfff20" d="M237.8 199.8l1.1 12.3 2.3-6.3-1-12.6z"/><path fill="#cfff30" d="M235.5 203.8l1 12 2.4-3.7-1.1-12.3z"/><path fill="#bfff40" d="M233.1 206.3l1.1 11.8 2.3-2.3-1-12z"/><path fill="#afff50" d="M230.8 209.4l1 11.6 2.4-2.9-1.1-11.8zM228.4 211.9l1.1 12 2.3-2.9-1-11.6z"/><path fill="#9fff60" d="M226.1 214.2l1 12.4 2.4-2.7-1.1-12z"/><path fill="#8fff70" d="M223.7 215.2l1.1 12.6 2.3-1.2-1-12.4z"/><path fill="#9fff60" d="M221.4 214.3l1 12.5 2.4 1-1.1-12.6zM219 212.7l1.1 12.1 2.3 2-1-12.5z"/><path fill="#afff50" d="M216.7 211.3l1 11.8 2.4 1.7-1.1-12.1z"/><path fill="#bfff40" d="M214.4 210.6l1 11.9 2.3 .6-1-11.8zM212 211.4l1.1 12.1 2.3-1-1-11.9zM209.7 213.8l1 11.9 2.4-2.2-1.1-12.1z"/><path fill="#afff50" d="M207.3 216.1l1.1 11.6 2.3-2-1-11.9zM205 218.3l1 11.4 2.4-2-1.1-11.6zM202.6 218.3l1.1 11.6 2.3-.2-1-11.4zM200.3 217.6l1 12 2.4 .3-1.1-11.6z"/><path fill="#bfff40" d="M197.9 216l1.1 12.3 2.3 1.3-1-12zM195.6 215.2l1 12.1 2.4 1-1.1-12.3zM193.3 217.7l1 11.5 2.3-1.9-1-12.1zM190.9 221.4l1.1 11.2 2.3-3.4-1-11.5z"/><path fill="#afff50" d="M188.6 226.1l1 11.3 2.4-4.8-1.1-11.2z"/><path fill="#8fff70" d="M186.2 230.3l1.1 11.6 2.3-4.5-1-11.3z"/><path fill="#80ff80" d="M183.9 232.6l1 11.9 2.4-2.6-1.1-11.6zM181.5 233.8l1.1 11.9 2.3-1.2-1-11.9zM179.2 234.6l1 11.7 2.4-.6-1.1-11.9zM176.8 235.6l1.1 11.6 2.3-.9-1-11.7zM174.5 236.8l1 11.6 2.4-1.2-1.1-11.6zM172.1 238.1l1.1 11.4 2.3-1.1-1-11.6zM169.8 239.6l1 11 2.4-1.1-1.1-11.4zM167.5 240.7l1 10.7 2.3-.8-1-11zM165.1 240.7l1.1 10.7 2.3 0-1-10.7zM162.8 239.8l1 11.1 2.4 .5-1.1-10.7zM160.4 239.3l1.1 11.6 2.3 0-1-11.1z"/><path fill="#8fff70" d="M158.1 238.7l1 11.7 2.4 .5-1.1-11.6zM155.7 238l1.1 11.5 2.3 .9-1-11.7z"/><path fill="#9fff60" d="M153.4 238l1 11.1 2.4 .4-1.1-11.5zM151 238.9l1.1 10.9 2.3-.7-1-11.1zM148.7 240.7l1 10.9 2.4-1.8-1.1-10.9z"/></g>
<path fill="none" stroke-width="0.8" d="M148.7 240.7l2.3-1.8 2.4-.9 2.3 0 2.4 .7 2.3 .6 2.4 .5 2.3 .9 2.4 0 2.3-1.1 2.3-1.5 2.4-1.3 2.3-1.2 2.4-1 2.3-.8 2.4-1.2 2.3-2.3 2.4-4.2 2.3-4.7 2.4-3.7 2.3-2.5 2.3 .8 2.4 1.6 2.3 .7 2.4 0 2.3-2.2 2.4-2.3 2.3-2.4 2.4-.8 2.3 .7 2.3 1.4 2.4 1.6 2.3 .9 2.4-1 2.3-2.3 2.4-2.5 2.3-3.1 2.4-2.5 2.3-4 2.4-6.6 2.3-1.3 2.3-.3 2.4-.7 2.3-2.3 2.4-2.8 2.3-2.9 2.4-2.4 2.3-1.6 2.4-.8 2.3-1.2 2.3-2.6 2.4-3.8 2.3-4.9 2.4-6.5M277.7 144.6l2.3-4.9 2.4 .8 2.3 4 2.4 5.9 2.3 4.9 2.3 3 2.4 1.8 2.3 1.5 2.4 1.7 2.3 3.6M303.5 174l2.3 6.2 2.4 5.7 2.3 5.1 2.3 4.5 2.4 2 2.3 .3 2.4-1.5 2.3-1.5 2.4 .4 2.3 2 2.4 1.4 2.3 1.1 2.4 .6 2.3-.7 2.3-2.6 2.4-2.9 2.3-3.8 2.4-3.9 2.3-4.2 2.4-3.7 2.3-3.1 2.4-2.5 2.3-1.7 2.3-1.2 2.4-1.4 2.3-2.1 2.4-2.7 2.3-2.8 2.4-3.3 2.3-1.7 2.4 .2 2.3 .5 2.4 1 2.3 1.8M149.7 251.6l2.4-1.8 2.3-.7 2.4 .4 2.3 .9 2.4 .5 2.3 0 2.4 .5 2.3 0 2.3-.8 2.4-1.1 2.3-1.1 2.4-1.2 2.3-.9 2.4-.6 2.3-1.2 2.4-2.6 2.3-4.5 2.4-4.8 2.3-3.4 2.3-1.9 2.4 1 2.3 1.3 2.4 .3 2.3-.2 2.4-2 2.3-2 2.4-2.2 2.3-1 2.3 .6 2.4 1.7 2.3 2 2.4 1 2.3-1.2 2.4-2.7 2.3-2.9 2.4-2.9 2.3-2.3 2.4-3.7 2.3-6.3 2.3-1.3 2.4-.2 2.3-.5 2.4-2 2.3-3.1 2.4-3.1 2.3-2.4 2.4-1.1 2.3-.2 2.3-.6 2.4-2.3 2.3-3.6 2.4-4.5 2.3-5.9 2.4-6.8M278.7 161.1l2.4-5 2.3 .4 2.4 3.8 2.3 5.8 2.3 4.5 2.4 2.2 2.3 1 2.4 1 2.3 1.5 2.4 3.5 2.3 6.5 2.4 5.6 2.3 5.3 2.3 4.9 2.4 4.4 2.3 2.1 2.4 .3 2.3-1.4 2.4-1.2 2.3 .8 2.4 2.2 2.3 1.6 2.4 1 2.3 .7 2.3-.4 2.4-2 2.3-2.3 2.4-3.1 2.3-3.2 2.4-3.2 2.3-2.7 2.4-2.3 2.3-1.9 2.3-1.1 2.4-.8 2.3-1.4 2.4-1.9 2.3-2.5 2.4-2.5 2.3-2.9 2.4-1.7 2.3 0 2.4 .2 2.3 .7 2.3 1.3"/>
<g stroke-width="0.4"><path fill="#20ffdf" d="M381.9 177.6l1 21.6 2.4 .8-1.1-21.1zM379.6 176.9l1 22 2.3 .3-1-21.6z"/><path fill="#30ffcf" d="M377.2 176.7l1.1 22.2 2.3 0-1-22zM374.9 176.7l1 22.4 2.4-.2-1.1-22.2zM372.5 178.4l1.1 22.2 2.3-1.5-1-22.4zM370.2 181.3l1 21.8 2.4-2.5-1.1-22.2z"/><path fill="#20ffdf" d="M367.8 183.8l1.1 21.5 2.3-2.2-1-21.8zM365.5 186.3l1 21.2 2.4-2.2-1.1-21.5z"/><path fill="#10ffef" d="M363.1 188.2l1.1 21 2.3-1.7-1-21.2zM360.8 189.6l1 20.9 2.4-1.3-1.1-21zM358.4 190.4l1.1 20.3 2.3-.2-1-20.9zM356.1 191.5l1.1 19.8 2.3-.6-1.1-20.3zM353.8 193.4l1 18.9 2.4-1-1.1-19.8zM351.4 195.7l1.1 17.9 2.3-1.3-1-18.9zM349.1 198.4l1 16.9 2.4-1.7-1.1-17.9z"/><path fill="#0ff" d="M346.7 201.6l1.1 15.9 2.3-2.2-1-16.9zM344.4 204.8l1 15 2.4-2.3-1.1-15.9z"/><path fill="#00efff" d="M342 207.9l1.1 14.3 2.3-2.4-1-15zM339.7 210.2l1 13.6 2.4-1.6-1.1-14.3zM337.3 212.2l1.1 13 2.3-1.4-1-13.6zM335 212.6l1 12.6 2.4 0-1.1-13zM332.7 211.9l1 12.6 2.3 .7-1-12.6zM330.3 210.9l1.1 12.5 2.3 1.1-1-12.6z"/><path fill="#0ff" d="M328 209.3l1 12.3 2.4 1.8-1.1-12.5z"/><path fill="#10ffef" d="M325.6 207.1l1.1 12 2.3 2.5-1-12.3z"/><path fill="#20ffdf" d="M323.3 206.3l1 11.6 2.4 1.2-1.1-12zM320.9 207.5l1.1 11.2 2.3-.8-1-11.6zM318.6 208.9l1 11.1 2.4-1.3-1.1-11.2zM316.2 208.6l1.1 11.2 2.3 .2-1-11.1z"/><path fill="#30ffcf" d="M313.9 206.5l1 11 2.4 2.3-1.1-11.2z"/><path fill="#40ffbf" d="M311.5 202.1l1.1 11.1 2.3 4.3-1-11z"/><path fill="#60ff9f" d="M309.2 197.2l1.1 11.2 2.3 4.8-1.1-11.1z"/><path fill="#80ff80" d="M306.9 191.9l1 11.7 2.4 4.8-1.1-11.2z"/><path fill="#9fff60" d="M304.5 186.3l1.1 12.2 2.3 5.1-1-11.7z"/><path fill="#bfff40" d="M302.2 179.8l1 12.8 2.4 5.9-1.1-12.2z"/><path fill="#dfff20" d="M299.8 176.3l1.1 13 2.3 3.3-1-12.8z"/><path fill="#efff10" d="M297.5 174.8l1 13.1 2.4 1.4-1.1-13zM295.1 173.8l1.1 13.7 2.3 .4-1-13.1z"/><path fill="#ff0" d="M292.8 172.8l1 14.5 2.4 .2-1.1-13.7zM290.4 170.6l1.1 15.3 2.3 1.4-1-14.5z"/><path fill="#ffef00" d="M288.1 166.1l1 15.7 2.4 4.1-1.1-15.3z"/><path fill="#ffcf00" d="M285.8 160.3l1 15.9 2.3 5.6-1-15.7z"/><path fill="#ffaf00" d="M283.4 156.5l1.1 16 2.3 3.7-1-15.9z"/><path fill="#ff9f00" d="M281.1 156.1l1 16.3 2.4 .1-1.1-16z"/><path fill="#ffaf00" d="M278.7 161.1l1.1 16.6 2.3-5.3-1-16.3z"/><path fill="#ffcf00" d="M276.4 168.2l1 16.4 2.4-6.9-1.1-16.6z"/><path fill="#ffdf00" d="M274 175l1.1 15.8 2.3-6.2-1-16.4z"/><path fill="#ff0" d="M271.7 180.9l1 15.3 2.4-5.4-1.1-15.8z"/><path fill="#efff10" d="M269.3 185.4l1.1 14.9 2.3-4.1-1-15.3z"/><path fill="#dfff20" d="M267 189l1 14.7 2.4-3.4-1.1-14.9z"/><path fill="#cfff30" d="M264.6 191.3l1.1 14.4 2.3-2-1-14.7zM262.3 191.9l1.1 13.9 2.3-.1-1.1-14.4zM260 192.1l1 13.1 2.4 .6-1.1-13.9zM257.6 193.2l1.1 12.7 2.3-.7-1-13.1zM255.3 195.6l1 12.7 2.4-2.4-1.1-12.7z"/><path fill="#bfff40" d="M252.9 198.7l1.1 13 2.3-3.4-1-12.7zM250.6 201.8l1 13.1 2.4-3.2-1.1-13z"/><path fill="#afff50" d="M248.2 203.8l1.1 13 2.3-1.9-1-13.1zM245.9 204.3l1 12.7 2.4-.2-1.1-13zM243.5 204.5l1.1 12.6 2.3-.1-1-12.7zM241.2 205.8l1 12.7 2.4-1.4-1.1-12.6z"/><path fill="#9fff60" d="M238.9 212.1l1 12.2 2.3-5.8-1-12.7z"/><path fill="#8fff70" d="M236.5 215.8l1.1 12 2.3-3.5-1-12.2z"/><path fill="#80ff80" d="M234.2 218.1l1 11.8 2.4-2.1-1.1-12zM231.8 221l1.1 11.7 2.3-2.8-1-11.8z"/><path fill="#70ff8f" d="M229.5 223.9l1 11.9 2.4-3.1-1.1-11.7z"/><path fill="#60ff9f" d="M227.1 226.6l1.1 12.4 2.3-3.2-1-11.9zM224.8 227.8l1 12.7 2.4-1.5-1.1-12.4zM222.4 226.8l1.1 12.5 2.3 1.2-1-12.7z"/><path fill="#70ff8f" d="M220.1 224.8l1 12.1 2.4 2.4-1.1-12.5z"/><path fill="#80ff80" d="M217.7 223.1l1.1 11.9 2.3 1.9-1-12.1zM215.4 222.5l1.1 11.9 2.3 .6-1.1-11.9zM213.1 223.5l1 12 2.4-1.1-1.1-11.9zM210.7 225.7l1.1 11.9 2.3-2.1-1-12zM208.4 227.7l1 11.7 2.4-1.8-1.1-11.9z"/><path fill="#70ff8f" d="M206 229.7l1.1 11.5 2.3-1.8-1-11.7zM203.7 229.9l1 11.7 2.4-.4-1.1-11.5zM201.3 229.6l1.1 11.9 2.3 .1-1-11.7z"/><path fill="#80ff80" d="M199 228.3l1 12.2 2.4 1-1.1-11.9zM196.6 227.3l1.1 12.1 2.3 1.1-1-12.2z"/><path fill="#8fff70" d="M194.3 229.2l1 11.6 2.4-1.4-1.1-12.1z"/><path fill="#80ff80" d="M192 232.6l1 11.2 2.3-3-1-11.6z"/><path fill="#70ff8f" d="M189.6 237.4l1.1 11.2 2.3-4.8-1-11.2z"/><path fill="#60ff9f" d="M187.3 241.9l1 11.5 2.4-4.8-1.1-11.2z"/><path fill="#50ffaf" d="M184.9 244.5l1.1 11.8 2.3-2.9-1-11.5z"/><path fill="#40ffbf" d="M182.6 245.7l1 11.9 2.4-1.3-1.1-11.8zM180.2 246.3l1.1 11.7 2.3-.4-1-11.9zM177.9 247.2l1 11.5 2.4-.7-1.1-11.7zM175.5 248.4l1.1 11.5 2.3-1.2-1-11.5zM173.2 249.5l1 11.4 2.4-1-1.1-11.5zM170.8 250.6l1.1 11 2.3-.7-1-11.4zM168.5 251.4l1.1 10.6 2.3-.4-1.1-11zM166.2 251.4l1 10.6 2.4 0-1.1-10.6z"/><path fill="#50ffaf" d="M163.8 250.9l1.1 11 2.3 .1-1-10.6zM161.5 250.9l1 11.5 2.4-.5-1.1-11zM159.1 250.4l1.1 11.8 2.3 .2-1-11.5z"/><path fill="#60ff9f" d="M156.8 249.5l1 11.6 2.4 1.1-1.1-11.8zM154.4 249.1l1.1 11.1 2.3 .9-1-11.6zM152.1 249.8l1 10.9 2.4-.5-1.1-11.1zM149.7 251.6l1.1 10.9 2.3-1.8-1-10.9z"/></g>
<path fill="none" stroke-width="0.8" d="M149.7 251.6l2.4-1.8 2.3-.7 2.4 .4 2.3 .9 2.4 .5 2.3 0 2.4 .5 2.3 0 2.3-.8 2.4-1.1 2.3-1.1 2.4-1.2 2.3-.9 2.4-.6 2.3-1.2 2.4-2.6 2.3-4.5 2.4-4.8 2.3-3.4 2.3-1.9 2.4 1 2.3 1.3 2.4 .3 2.3-.2 2.4-2 2.3-2 2.4-2.2 2.3-1 2.3 .6 2.4 1.7 2.3 2 2.4 1 2.3-1.2 2.4-2.7 2.3-2.9 2.4-2.9 2.3-2.3 2.4-3.7 2.3-6.3 2.3-1.3 2.4-.2 2.3-.5 2.4-2 2.3-3.1 2.4-3.1 2.3-2.4 2.4-1.1 2.3-.2 2.3-.6 2.4-2.3 2.3-3.6 2.4-4.5 2.3-5.9 2.4-6.8M278.7 161.1l2.4-5 2.3 .4 2.4 3.8 2.3 5.8 2.3 4.5 2.4 2.2 2.3 1 2.4 1 2.3 1.5 2.4 3.5 2.3 6.5 2.4 5.6 2.3 5.3 2.3 4.9 2.4 4.4 2.3 2.1 2.4 .3 2.3-1.4 2.4-1.2 2.3 .8 2.4 2.2 2.3 1.6 2.4 1 2.3 .7 2.3-.4 2.4-2 2.3-2.3 2.4-3.1 2.3-3.2 2.4-3.2 2.3-2.7 2.4-2.3 2.3-1.9 2.3-1.1 2.4-.8 2.3-1.4 2.4-1.9 2.3-2.5 2.4-2.5 2.3-2.9 2.4-1.7 2.3 0 2.4 .2 2.3 .7 2.3 1.3M150.8 262.5l2.3-1.8 2.4-.5 2.3 .9 2.4 1.1 2.3 .2 2.4-.5 2.3 .1 2.4 0 2.3-.4 2.3-.7 2.4-1 2.3-1.2 2.4-.7 2.3-.4 2.4-1.3 2.3-2.9 2.4-4.8 2.3-4.8 2.3-3 2.4-1.4 2.3 1.1 2.4 1 2.3 .1 2.4-.4 2.3-1.8 2.4-1.8 2.3-2.1 2.4-1.1 2.3 .6 2.3 1.9 2.4 2.4 2.3 1.2 2.4-1.5 2.3-3.2 2.4-3.1 2.3-2.8 2.4-2.1 2.3-3.5 2.3-5.8 2.4-1.4 2.3-.1 2.4-.2 2.3-1.9 2.4-3.2 2.3-3.4 2.4-2.4 2.3-.7 2.4 .6 2.3-.1 2.3-2 2.4-3.4 2.3-4.1 2.4-5.4 2.3-6.2 2.4-6.9 2.3-5.3 2.4 .1 2.3 3.7 2.3 5.6 2.4 4.1 2.3 1.4 2.4 .2 2.3 .4 2.4 1.4 2.3 3.3 2.4 5.9 2.3 5.1 2.4 4.8 2.3 4.8 2.3 4.3 2.4 2.3 2.3 .2 2.4-1.3 2.3-.8 2.4 1.2 2.3 2.5 2.4 1.8 2.3 1.1 2.3 .7 2.4 0 2.3-1.4 2.4-1.6 2.3-2.4 2.4-2.3 2.3-2.2 2.4-1.7 2.3-1.3 2.4-1 2.3-.6 2.3-.2 2.4-1.3 2.3-1.7 2.4-2.2 2.3-2.2 2.4-2.5 2.3-1.5 2.4-.2 2.3 0 2.3 .3 2.4 .8"/>
<g stroke-width="0.4"><path fill="#00dfff" d="M382.9 199.2l1.1 13.5 2.3 .6-1-13.3zM380.6 198.9l1.1 13.6 2.3 .2-1.1-13.5zM378.3 198.9l1 13.7 2.4-.1-1.1-13.6z"/><path fill="#00efff" d="M375.9 199.1l1.1 13.7 2.3-.2-1-13.7zM373.6 200.6l1 13.5 2.4-1.3-1.1-13.7z"/><path fill="#00dfff" d="M371.2 203.1l1.1 13.2 2.3-2.2-1-13.5zM368.9 205.3l1 12.9 2.4-1.9-1.1-13.2z"/><path fill="#00cfff" d="M366.5 207.5l1.1 12.6 2.3-1.9-1-12.9zM364.2 209.2l1 12.4 2.4-1.5-1.1-12.6zM361.8 210.5l1.1 12.2 2.3-1.1-1-12.4zM359.5 210.7l1 12.1 2.4-.1-1.1-12.2zM357.2 211.3l1 11.9 2.3-.4-1-12.1zM354.8 212.3l1.1 11.6 2.3-.7-1-11.9zM352.5 213.6l1 11.2 2.4-.9-1.1-11.6zM350.1 215.3l1.1 10.6 2.3-1.1-1-11.2zM347.8 217.5l1 10.2 2.4-1.8-1.1-10.6zM345.4 219.8l1.1 9.9 2.3-2-1-10.2z"/><path fill="#00bfff" d="M343.1 222.2l1 9.5 2.4-2-1.1-9.9zM340.7 223.8l1.1 9.4 2.3-1.5-1-9.5zM338.4 225.2l1 9.1 2.4-1.1-1.1-9.4zM336 225.2l1.1 9.2 2.3-.1-1-9.1zM333.7 224.5l1.1 9.4 2.3 .5-1.1-9.2z"/><path fill="#00cfff" d="M331.4 223.4l1 9.6 2.4 .9-1.1-9.4zM329 221.6l1.1 9.8 2.3 1.6-1-9.6z"/><path fill="#00dfff" d="M326.7 219.1l1 9.8 2.4 2.5-1.1-9.8z"/><path fill="#00efff" d="M324.3 217.9l1.1 9.8 2.3 1.2-1-9.8zM322 218.7l1 10 2.4-1-1.1-9.8zM319.6 220l1.1 10.3 2.3-1.6-1-10zM317.3 219.8l1 10.7 2.4-.2-1.1-10.3z"/><path fill="#0ff" d="M314.9 217.5l1.1 11 2.3 2-1-10.7z"/><path fill="#10ffef" d="M312.6 213.2l1 11.1 2.4 4.2-1.1-11z"/><path fill="#30ffcf" d="M310.3 208.4l1 11.3 2.3 4.6-1-11.1z"/><path fill="#40ffbf" d="M307.9 203.6l1.1 11.6 2.3 4.5-1-11.3z"/><path fill="#60ff9f" d="M305.6 198.5l1 12.3 2.4 4.4-1.1-11.6z"/><path fill="#80ff80" d="M303.2 192.6l1.1 12.8 2.3 5.4-1-12.3z"/><path fill="#9fff60" d="M300.9 189.3l1 13.1 2.4 3-1.1-12.8z"/><path fill="#afff50" d="M298.5 187.9l1.1 13.2 2.3 1.3-1-13.1zM296.2 187.5l1 13.7 2.4-.1-1.1-13.2zM293.8 187.3l1.1 14.6 2.3-.7-1-13.7zM291.5 185.9l1 15.3 2.4 .7-1.1-14.6z"/><path fill="#bfff40" d="M289.1 181.8l1.1 15.8 2.3 3.6-1-15.3z"/><path fill="#dfff20" d="M286.8 176.2l1.1 15.9 2.3 5.5-1.1-15.8z"/><path fill="#ff0" d="M284.5 172.5l1 16 2.4 3.6-1.1-15.9z"/><path fill="#ffef00" d="M282.1 172.4l1.1 16.3 2.3-.2-1-16z"/><path fill="#ff0" d="M279.8 177.7l1 16.5 2.4-5.5-1.1-16.3z"/><path fill="#dfff20" d="M277.4 184.6l1.1 16.4 2.3-6.8-1-16.5z"/><path fill="#bfff40" d="M275.1 190.8l1 15.9 2.4-5.7-1.1-16.4z"/><path fill="#afff50" d="M272.7 196.2l1.1 15.2 2.3-4.7-1-15.9z"/><path fill="#9fff60" d="M270.4 200.3l1 14.9 2.4-3.8-1.1-15.2z"/><path fill="#8fff70" d="M268 203.7l1.1 14.8 2.3-3.3-1-14.9z"/><path fill="#80ff80" d="M265.7 205.7l1 14.5 2.4-1.7-1.1-14.8zM263.4 205.8l1 13.8 2.3 .6-1-14.5z"/><path fill="#8fff70" d="M261 205.2l1.1 13.2 2.3 1.2-1-13.8zM258.7 205.9l1 12.7 2.4-.2-1.1-13.2zM256.3 208.3l1.1 12.7 2.3-2.4-1-12.7z"/><path fill="#80ff80" d="M254 211.7l1 13 2.4-3.7-1.1-12.7z"/><path fill="#70ff8f" d="M251.6 214.9l1.1 13.2 2.3-3.4-1-13zM249.3 216.8l1 13 2.4-1.7-1.1-13.2zM246.9 217l1.1 12.8 2.3 0-1-13zM244.6 217.1l1 12.7 2.4 0-1.1-12.8zM242.2 218.5l1.1 12.7 2.3-1.4-1-12.7z"/><path fill="#60ff9f" d="M239.9 224.3l1.1 12.3 2.3-5.4-1.1-12.7z"/><path fill="#50ffaf" d="M237.6 227.8l1 12 2.4-3.2-1.1-12.3z"/><path fill="#40ffbf" d="M235.2 229.9l1.1 11.8 2.3-1.9-1-12zM232.9 232.7l1 11.7 2.4-2.7-1.1-11.8z"/><path fill="#30ffcf" d="M230.5 235.8l1.1 12 2.3-3.4-1-11.7z"/><path fill="#20ffdf" d="M228.2 239l1 12.4 2.4-3.6-1.1-12zM225.8 240.5l1.1 12.6 2.3-1.7-1-12.4zM223.5 239.3l1 12.5 2.4 1.3-1.1-12.6z"/><path fill="#30ffcf" d="M221.1 236.9l1.1 12.1 2.3 2.8-1-12.5z"/><path fill="#40ffbf" d="M218.8 235l1 11.8 2.4 2.2-1.1-12.1zM216.5 234.4l1 11.9 2.3 .5-1-11.8z"/><path fill="#50ffaf" d="M214.1 235.5l1.1 12 2.3-1.2-1-11.9z"/><path fill="#40ffbf" d="M211.8 237.6l1 12 2.4-2.1-1.1-12zM209.4 239.4l1.1 11.7 2.3-1.5-1-12zM207.1 241.2l1 11.4 2.4-1.5-1.1-11.7zM204.7 241.6l1.1 11.6 2.3-.6-1-11.4zM202.4 241.5l1 12 2.4-.3-1.1-11.6zM200 240.5l1.1 12.3 2.3 .7-1-12z"/><path fill="#50ffaf" d="M197.7 239.4l1 12.1 2.4 1.3-1.1-12.3zM195.3 240.8l1.1 11.6 2.3-.9-1-12.1zM193 243.8l1.1 11.3 2.3-2.7-1.1-11.6z"/><path fill="#40ffbf" d="M190.7 248.6l1 11.3 2.4-4.8-1.1-11.3z"/><path fill="#20ffdf" d="M188.3 253.4l1.1 11.6 2.3-5.1-1-11.3z"/><path fill="#10ffef" d="M186 256.3l1 11.9 2.4-3.2-1.1-11.6zM183.6 257.6l1.1 11.9 2.3-1.3-1-11.9zM181.3 258l1 11.7 2.4-.2-1.1-11.9zM178.9 258.7l1.1 11.6 2.3-.6-1-11.7zM176.6 259.9l1 11.5 2.4-1.1-1.1-11.6zM174.2 260.9l1.1 11.4 2.3-.9-1-11.5zM171.9 261.6l1 11 2.4-.3-1.1-11.4zM169.6 262l1 10.7 2.3-.1-1-11zM167.2 262l1.1 10.6 2.3 .1-1-10.7zM164.9 261.9l1 11.1 2.4-.4-1.1-10.6zM162.5 262.4l1.1 11.5 2.3-.9-1-11.1zM160.2 262.2l1 11.8 2.4-.1-1.1-11.5z"/><path fill="#20ffdf" d="M157.8 261.1l1.1 11.5 2.3 1.4-1-11.8z"/><path fill="#30ffcf" d="M155.5 260.2l1 11.2 2.4 1.2-1.1-11.5zM153.1 260.7l1.1 10.8 2.3-.1-1-11.2zM150.8 262.5l1 10.9 2.4-1.9-1.1-10.8z"/></g>
<path fill="none" stroke-width="0.8" d="M150.8 262.5l2.3-1.8 2.4-.5 2.3 .9 2.4 1.1 2.3 .2 2.4-.5 2.3 .1 2.4 0 2.3-.4 2.3-.7 2.4-1 2.3-1.2 2.4-.7 2.3-.4 2.4-1.3 2.3-2.9 2.4-4.8 2.3-4.8 2.3-3 2.4-1.4 2.3 1.1 2.4 1 2.3 .1 2.4-.4 2.3-1.8 2.4-1.8 2.3-2.1 2.4-1.1 2.3 .6 2.3 1.9 2.4 2.4 2.3 1.2 2.4-1.5 2.3-3.2 2.4-3.1 2.3-2.8 2.4-2.1 2.3-3.5 2.3-5.8 2.4-1.4 2.3-.1 2.4-.2 2.3-1.9 2.4-3.2 2.3-3.4 2.4-2.4 2.3-.7 2.4 .6 2.3-.1 2.3-2 2.4-3.4 2.3-4.1 2.4-5.4 2.3-6.2 2.4-6.9 2.3-5.3 2.4 .1 2.3 3.7 2.3 5.6 2.4 4.1 2.3 1.4 2.4 .2 2.3 .4 2.4 1.4 2.3 3.3 2.4 5.9 2.3 5.1 2.4 4.8 2.3 4.8 2.3 4.3 2.4 2.3 2.3 .2 2.4-1.3 2.3-.8 2.4 1.2 2.3 2.5 2.4 1.8 2.3 1.1 2.3 .7 2.4 0 2.3-1.4 2.4-1.6 2.3-2.4 2.4-2.3 2.3-2.2 2.4-1.7 2.3-1.3 2.4-1 2.3-.6 2.3-.2 2.4-1.3 2.3-1.7 2.4-2.2 2.3-2.2 2.4-2.5 2.3-1.5 2.4-.2 2.3 0 2.3 .3 2.4 .8M151.8 273.4l2.4-1.9 2.3-.1 2.4 1.2 2.3 1.4 2.4-.1 2.3-.9 2.4-.4 2.3 .1 2.3-.1 2.4-.3 2.3-.9 2.4-1.1 2.3-.6 2.4-.2 2.3-1.3 2.4-3.2 2.3-5.1 2.4-4.8 2.3-2.7 2.3-.9 2.4 1.3 2.3 .7 2.4-.3 2.3-.6 2.4-1.5 2.3-1.5 2.4-2.1 2.3-1.2 2.3 .5 2.4 2.2 2.3 2.8 2.4 1.3 2.3-1.7 2.4-3.6 2.3-3.4 2.4-2.7 2.3-1.9 2.4-3.2 2.3-5.4 2.3-1.4 2.4 0 2.3 0 2.4-1.7 2.3-3.4 2.4-3.7 2.3-2.4 2.4-.2 2.3 1.2 2.3 .6 2.4-1.7 2.3-3.3 2.4-3.8 2.3-4.7 2.4-5.7 2.3-6.8 2.4-5.5 2.3-.2 2.4 3.6 2.3 5.5 2.3 3.6 2.4 .7 2.3-.7 2.4-.1 2.3 1.3 2.4 3 2.3 5.4 2.4 4.4 2.3 4.5 2.3 4.6 2.4 4.2 2.3 2 2.4-.2 2.3-1.6 2.4-1 2.3 1.2 2.4 2.5 2.3 1.6 2.4 .9 2.3 .5 2.3-.1 2.4-1.1 2.3-1.5 2.4-2 2.3-2 2.4-1.8 2.3-1.1 2.4-.9 2.3-.7 2.3-.4 2.4-.1 2.3-1.1 2.4-1.5 2.3-1.9 2.4-1.9 2.3-2.2 2.4-1.3 2.3-.2 2.4-.1 2.3 .2 2.3 .6"/>
<g stroke-width="0.4"><path fill="#00afff" d="M384 212.7l1 9.5 2.4 .5-1.1-9.4zM381.7 212.5l1 9.7 2.3 0-1-9.5zM379.3 212.6l1.1 9.7 2.3-.1-1-9.7z"/><path fill="#00bfff" d="M377 212.8l1 9.9 2.4-.4-1.1-9.7zM374.6 214.1l1.1 9.8 2.3-1.2-1-9.9z"/><path fill="#00afff" d="M372.3 216.3l1 9.5 2.4-1.9-1.1-9.8zM369.9 218.2l1.1 9.4 2.3-1.8-1-9.5zM367.6 220.1l1 9.2 2.4-1.7-1.1-9.4z"/><path fill="#009fff" d="M365.2 221.6l1.1 9.1 2.3-1.4-1-9.2zM362.9 222.7l1 9.1 2.4-1.1-1.1-9.1zM360.5 222.8l1.1 9.1 2.3-.1-1-9.1zM358.2 223.2l1.1 9.2 2.3-.5-1.1-9.1zM355.9 223.9l1 9.2 2.4-.7-1.1-9.2zM353.5 224.8l1.1 9 2.3-.7-1-9.2zM351.2 225.9l1 8.8 2.4-.9-1.1-9zM348.8 227.7l1.1 8.5 2.3-1.5-1-8.8zM346.5 229.7l1 8.4 2.4-1.9-1.1-8.5zM344.1 231.7l1.1 8.3 2.3-1.9-1-8.4z"/><path fill="#008fff" d="M341.8 233.2l1 8.2 2.4-1.4-1.1-8.3zM339.4 234.3l1.1 8.2 2.3-1.1-1-8.2zM337.1 234.4l1 8.3 2.4-.2-1.1-8.2zM334.8 233.9l1 8.6 2.3 .2-1-8.3z"/><path fill="#009fff" d="M332.4 233l1.1 9 2.3 .5-1-8.6zM330.1 231.4l1 9.2 2.4 1.4-1.1-9z"/><path fill="#00afff" d="M327.7 228.9l1.1 9.4 2.3 2.3-1-9.2z"/><path fill="#00bfff" d="M325.4 227.7l1 9.5 2.4 1.1-1.1-9.4zM323 228.7l1.1 9.6 2.3-1.1-1-9.5zM320.7 230.3l1 10 2.4-2-1.1-9.6zM318.3 230.5l1.1 10.7 2.3-.9-1-10zM316 228.5l1 10.9 2.4 1.8-1.1-10.7z"/><path fill="#00cfff" d="M313.6 224.3l1.1 11.1 2.3 4-1-10.9z"/><path fill="#00efff" d="M311.3 219.7l1.1 11.3 2.3 4.4-1.1-11.1z"/><path fill="#10ffef" d="M309 215.2l1 11.7 2.4 4.1-1.1-11.3z"/><path fill="#20ffdf" d="M306.6 210.8l1.1 12.2 2.3 3.9-1-11.7z"/><path fill="#40ffbf" d="M304.3 205.4l1 12.8 2.4 4.8-1.1-12.2z"/><path fill="#50ffaf" d="M301.9 202.4l1.1 13 2.3 2.8-1-12.8z"/><path fill="#60ff9f" d="M299.6 201.1l1 13.2 2.4 1.1-1.1-13z"/><path fill="#70ff8f" d="M297.2 201.2l1.1 13.7 2.3-.6-1-13.2zM294.9 201.9l1 14.5 2.4-1.5-1.1-13.7zM292.5 201.2l1.1 15.3 2.3-.1-1-14.5zM290.2 197.6l1 15.7 2.4 3.2-1.1-15.3z"/><path fill="#8fff70" d="M287.9 192.1l1 15.8 2.3 5.4-1-15.7z"/><path fill="#afff50" d="M285.5 188.5l1.1 15.9 2.3 3.5-1-15.8zM283.2 188.7l1 16.3 2.4-.6-1.1-15.9zM280.8 194.2l1.1 16.5 2.3-5.7-1-16.3z"/><path fill="#8fff70" d="M278.5 201l1 16.4 2.4-6.7-1.1-16.5z"/><path fill="#70ff8f" d="M276.1 206.7l1.1 15.9 2.3-5.2-1-16.4z"/><path fill="#60ff9f" d="M273.8 211.4l1 15.3 2.4-4.1-1.1-15.9z"/><path fill="#50ffaf" d="M271.4 215.2l1.1 14.9 2.3-3.4-1-15.3z"/><path fill="#40ffbf" d="M269.1 218.5l1 14.7 2.4-3.1-1.1-14.9zM266.7 220.2l1.1 14.4 2.3-1.4-1-14.7zM264.4 219.6l1.1 13.8 2.3 1.2-1.1-14.4z"/><path fill="#50ffaf" d="M262.1 218.4l1 13.2 2.4 1.8-1.1-13.8zM259.7 218.6l1.1 12.8 2.3 .2-1-13.2zM257.4 221l1 12.7 2.4-2.3-1.1-12.8z"/><path fill="#40ffbf" d="M255 224.7l1.1 13 2.3-4-1-12.7z"/><path fill="#30ffcf" d="M252.7 228.1l1 13.1 2.4-3.5-1.1-13zM250.3 229.8l1.1 13 2.3-1.6-1-13.1zM248 229.8l1 12.7 2.4 .3-1.1-13zM245.6 229.8l1.1 12.6 2.3 .1-1-12.7zM243.3 231.2l1 12.6 2.4-1.4-1.1-12.6z"/><path fill="#20ffdf" d="M241 236.6l1 12.3 2.3-5.1-1-12.6z"/><path fill="#10ffef" d="M238.6 239.8l1.1 12 2.3-2.9-1-12.3zM236.3 241.7l1 11.7 2.4-1.6-1.1-12z"/><path fill="#0ff" d="M233.9 244.4l1.1 11.7 2.3-2.7-1-11.7z"/><path fill="#00efff" d="M231.6 247.8l1 11.9 2.4-3.6-1.1-11.7z"/><path fill="#00dfff" d="M229.2 251.4l1.1 12.4 2.3-4.1-1-11.9zM226.9 253.1l1 12.7 2.4-2-1.1-12.4zM224.5 251.8l1.1 12.5 2.3 1.5-1-12.7z"/><path fill="#00efff" d="M222.2 249l1 12.1 2.4 3.2-1.1-12.5z"/><path fill="#0ff" d="M219.8 246.8l1.1 11.9 2.3 2.4-1-12.1z"/><path fill="#10ffef" d="M217.5 246.3l1.1 11.9 2.3 .5-1.1-11.9zM215.2 247.5l1 12 2.4-1.3-1.1-11.9zM212.8 249.6l1.1 11.9 2.3-2-1-12z"/><path fill="#0ff" d="M210.5 251.1l1 11.7 2.4-1.3-1.1-11.9zM208.1 252.6l1.1 11.5 2.3-1.3-1-11.7zM205.8 253.2l1 11.6 2.4-.7-1.1-11.5zM203.4 253.5l1.1 12 2.3-.7-1-11.6zM201.1 252.8l1 12.2 2.4 .5-1.1-12z"/><path fill="#10ffef" d="M198.7 251.5l1.1 12.1 2.3 1.4-1-12.2zM196.4 252.4l1 11.5 2.4-.3-1.1-12.1zM194.1 255.1l1 11.2 2.3-2.4-1-11.5z"/><path fill="#0ff" d="M191.7 259.9l1.1 11.3 2.3-4.9-1-11.2z"/><path fill="#00efff" d="M189.4 265l1 11.5 2.4-5.3-1.1-11.3z"/><path fill="#00cfff" d="M187 268.2l1.1 11.9 2.3-3.6-1-11.5zM184.7 269.5l1 11.9 2.4-1.3-1.1-11.9zM182.3 269.7l1.1 11.7 2.3 0-1-11.9zM180 270.3l1 11.6 2.4-.5-1.1-11.7zM177.6 271.4l1.1 11.5 2.3-1-1-11.6zM175.3 272.3l1 11.3 2.4-.7-1.1-11.5zM172.9 272.6l1.1 11.1 2.3-.1-1-11.3zM170.6 272.7l1.1 10.6 2.3 .4-1.1-11.1z"/><path fill="#00dfff" d="M168.3 272.6l1 10.7 2.4 0-1.1-10.6zM165.9 273l1.1 11 2.3-.7-1-10.7zM163.6 273.9l1 11.6 2.4-1.5-1.1-11zM161.2 274l1.1 11.8 2.3-.3-1-11.6zM158.9 272.6l1 11.6 2.4 1.6-1.1-11.8z"/><path fill="#00efff" d="M156.5 271.4l1.1 11.1 2.3 1.7-1-11.6z"/><path fill="#0ff" d="M154.2 271.5l1 10.9 2.4 .1-1.1-11.1z"/><path fill="#00efff" d="M151.8 273.4l1.1 10.9 2.3-1.9-1-10.9z"/></g>
<path fill="none" stroke-width="0.8" d="M151.8 273.4l2.4-1.9 2.3-.1 2.4 1.2 2.3 1.4 2.4-.1 2.3-.9 2.4-.4 2.3 .1 2.3-.1 2.4-.3 2.3-.9 2.4-1.1 2.3-.6 2.4-.2 2.3-1.3 2.4-3.2 2.3-5.1 2.4-4.8 2.3-2.7 2.3-.9 2.4 1.3 2.3 .7 2.4-.3 2.3-.6 2.4-1.5 2.3-1.5 2.4-2.1 2.3-1.2 2.3 .5 2.4 2.2 2.3 2.8 2.4 1.3 2.3-1.7 2.4-3.6 2.3-3.4 2.4-2.7 2.3-1.9 2.4-3.2 2.3-5.4 2.3-1.4 2.4 0 2.3 0 2.4-1.7 2.3-3.4 2.4-3.7 2.3-2.4 2.4-.2 2.3 1.2 2.3 .6 2.4-1.7 2.3-3.3 2.4-3.8 2.3-4.7 2.4-5.7 2.3-6.8 2.4-5.5 2.3-.2 2.4 3.6 2.3 5.5 2.3 3.6 2.4 .7 2.3-.7 2.4-.1 2.3 1.3 2.4 3 2.3 5.4 2.4 4.4 2.3 4.5 2.3 4.6 2.4 4.2 2.3 2 2.4-.2 2.3-1.6 2.4-1 2.3 1.2 2.4 2.5 2.3 1.6 2.4 .9 2.3 .5 2.3-.1 2.4-1.1 2.3-1.5 2.4-2 2.3-2 2.4-1.8 2.3-1.1 2.4-.9 2.3-.7 2.3-.4 2.4-.1 2.3-1.1 2.4-1.5 2.3-1.9 2.4-1.9 2.3-2.2 2.4-1.3 2.3-.2 2.4-.1 2.3 .2 2.3 .6M152.9 284.3l2.3-1.9 2.4 .1 2.3 1.7 2.4 1.6 2.3-.3 2.4-1.5 2.3-.7 2.4 0 2.3 .4 2.3-.1 2.4-.7 2.3-1 2.4-.5 2.3 0 2.4-1.3 2.3-3.6 2.4-5.3 2.3-4.9 2.3-2.4 2.4-.3 2.3 1.4 2.4 .5 2.3-.7 2.4-.7 2.3-1.3 2.4-1.3 2.3-2 2.4-1.3 2.3 .5 2.3 2.4 2.4 3.2 2.3 1.5 2.4-2 2.3-4.1 2.4-3.6 2.3-2.7 2.4-1.6 2.3-2.9 2.3-5.1 2.4-1.4 2.3 .1 2.4 .3 2.3-1.6 2.4-3.5 2.3-4 2.4-2.3 2.3 .2 2.4 1.8 2.3 1.2 2.3-1.4 2.4-3.1 2.3-3.4 2.4-4.1 2.3-5.2 2.4-6.7 2.3-5.7 2.4-.6 2.3 3.5 2.3 5.4 2.4 3.2 2.3-.1 2.4-1.5 2.3-.6 2.4 1.1 2.3 2.8 2.4 4.8 2.3 3.9 2.4 4.1 2.3 4.4 2.3 4 2.4 1.8 2.3-.9 2.4-2 2.3-1.1 2.4 1.1 2.3 2.3 2.4 1.4 2.3 .5 2.3 .2 2.4-.2 2.3-1.1 2.4-1.4 2.3-1.9 2.4-1.9 2.3-1.5 2.4-.9 2.3-.7 2.4-.7 2.3-.5 2.3-.1 2.4-1.1 2.3-1.4 2.4-1.7 2.3-1.8 2.4-1.9 2.3-1.2 2.4-.4 2.3-.1 2.3 0 2.4 .5"/>
<g stroke-width="0.4"><path fill="#0080ff" d="M385 222.2l1.1 8.4 2.3 .3-1-8.2z"/><path fill="#008fff" d="M382.7 222.2l1.1 8.5 2.3-.1-1.1-8.4zM380.4 222.3l1 8.6 2.4-.2-1.1-8.5zM378 222.7l1.1 8.6 2.3-.4-1-8.6zM375.7 223.9l1 8.6 2.4-1.2-1.1-8.6zM373.3 225.8l1.1 8.5 2.3-1.8-1-8.6z"/><path fill="#0080ff" d="M371 227.6l1 8.3 2.4-1.6-1.1-8.5zM368.6 229.3l1.1 8.2 2.3-1.6-1-8.3zM366.3 230.7l1 8.1 2.4-1.3-1.1-8.2zM363.9 231.8l1.1 8 2.3-1-1-8.1zM361.6 231.9l1 8.2 2.4-.3-1.1-8zM359.3 232.4l1 8.3 2.3-.6-1-8.2zM356.9 233.1l1.1 8.3 2.3-.7-1-8.3zM354.6 233.8l1 8.2 2.4-.6-1.1-8.3zM352.2 234.7l1.1 8 2.3-.7-1-8.2zM349.9 236.2l1 7.9 2.4-1.4-1.1-8zM347.5 238.1l1.1 7.8 2.3-1.8-1-7.9z"/><path fill="#0070ff" d="M345.2 240l1 7.8 2.4-1.9-1.1-7.8zM342.8 241.4l1.1 6.1 2.3 .3-1-7.8z"/><path fill="#0080ff" d="M340.5 242.5l1 4.3 2.4 .7-1.1-6.1zM338.1 242.7l1.1 3.5 2.3 .6-1-4.3zM335.8 242.5l1.1 3.5 2.3 .2-1.1-3.5z"/><path fill="#008fff" d="M333.5 242l1 4.2 2.4-.2-1.1-3.5zM331.1 240.6l1.1 6 2.3-.4-1-4.2zM328.8 238.3l1 8.8 2.4-.5-1.1-6zM326.4 237.2l1.1 9.3 2.3 .6-1-8.8zM324.1 238.3l1 9.6 2.4-1.4-1.1-9.3zM321.7 240.3l1.1 8.4 2.3-.8-1-9.6zM319.4 241.2l1 8.2 2.4-.7-1.1-8.4zM317 239.4l1.1 10.7 2.3-.7-1-8.2z"/><path fill="#009fff" d="M314.7 235.4l1 11.1 2.4 3.6-1.1-10.7z"/><path fill="#00bfff" d="M312.4 231l1 11.2 2.3 4.3-1-11.1z"/><path fill="#00cfff" d="M310 226.9l1.1 11.7 2.3 3.6-1-11.2z"/><path fill="#00dfff" d="M307.7 223l1 12.3 2.4 3.3-1.1-11.7z"/><path fill="#0ff" d="M305.3 218.2l1.1 12.9 2.3 4.2-1-12.3z"/><path fill="#10ffef" d="M303 215.4l1 13 2.4 2.7-1.1-12.9z"/><path fill="#20ffdf" d="M300.6 214.3l1.1 13.2 2.3 .9-1-13zM298.3 214.9l1 13.7 2.4-1.1-1.1-13.2zM295.9 216.4l1.1 14.5 2.3-2.3-1-13.7zM293.6 216.5l1 15.3 2.4-.9-1.1-14.5zM291.2 213.3l1.1 15.7 2.3 2.8-1-15.3z"/><path fill="#40ffbf" d="M288.9 207.9l1.1 15.9 2.3 5.2-1.1-15.7z"/><path fill="#60ff9f" d="M286.6 204.4l1 16 2.4 3.4-1.1-15.9zM284.2 205l1.1 16.3 2.3-.9-1-16z"/><path fill="#50ffaf" d="M281.9 210.7l1 16.5 2.4-5.9-1.1-16.3z"/><path fill="#40ffbf" d="M279.5 217.4l1.1 16.4 2.3-6.6-1-16.5z"/><path fill="#20ffdf" d="M277.2 222.6l1 15.9 2.4-4.7-1.1-16.4z"/><path fill="#10ffef" d="M274.8 226.7l1.1 15.3 2.3-3.5-1-15.9z"/><path fill="#0ff" d="M272.5 230.1l1 14.9 2.4-3-1.1-15.3z"/><path fill="#00efff" d="M270.1 233.2l1.1 14.7 2.3-2.9-1-14.9zM267.8 234.6l1 14.4 2.4-1.1-1.1-14.7zM265.5 233.4l1 13.9 2.3 1.7-1-14.4z"/><path fill="#0ff" d="M263.1 231.6l1.1 13.1 2.3 2.6-1-13.9z"/><path fill="#10ffef" d="M260.8 231.4l1 12.7 2.4 .6-1.1-13.1zM258.4 233.7l1.1 12.7 2.3-2.3-1-12.7z"/><path fill="#0ff" d="M256.1 237.7l1 12.9 2.4-4.2-1.1-12.7z"/><path fill="#00efff" d="M253.7 241.2l1.1 13.1 2.3-3.7-1-12.9zM251.4 242.8l1 13 2.4-1.5-1.1-13.1zM249 242.5l1.1 12.7 2.3 .6-1-13zM246.7 242.4l1 12.6 2.4 .2-1.1-12.7zM244.3 243.8l1.1 12.7 2.3-1.5-1-12.6z"/><path fill="#00dfff" d="M242 248.9l1.1 12.3 2.3-4.7-1.1-12.7z"/><path fill="#00cfff" d="M239.7 251.8l1 12 2.4-2.6-1.1-12.3zM237.3 253.4l1.1 11.8 2.3-1.4-1-12z"/><path fill="#00bfff" d="M235 256.1l1 11.7 2.4-2.6-1.1-11.8zM232.6 259.7l1.1 12 2.3-3.9-1-11.7z"/><path fill="#00afff" d="M230.3 263.8l1 12.4 2.4-4.5-1.1-12z"/><path fill="#009fff" d="M227.9 265.8l1.1 12.6 2.3-2.2-1-12.4zM225.6 264.3l1 12.4 2.4 1.7-1.1-12.6z"/><path fill="#00afff" d="M223.2 261.1l1.1 12 2.3 3.6-1-12.4z"/><path fill="#00bfff" d="M220.9 258.7l1 11.8 2.4 2.6-1.1-12z"/><path fill="#00cfff" d="M218.6 258.2l1 11.9 2.3 .4-1-11.8zM216.2 259.5l1.1 12.1 2.3-1.5-1-11.9zM213.9 261.5l1 11.9 2.4-1.8-1.1-12.1zM211.5 262.8l1.1 11.7 2.3-1.1-1-11.9z"/><path fill="#00bfff" d="M209.2 264.1l1 11.5 2.4-1.1-1.1-11.7zM206.8 264.8l1.1 11.7 2.3-.9-1-11.5zM204.5 265.5l1 12 2.4-1-1.1-11.7zM202.1 265l1.1 12.2 2.3 .3-1-12z"/><path fill="#00cfff" d="M199.8 263.6l1 12.1 2.4 1.5-1.1-12.2zM197.4 263.9l1.1 11.6 2.3 .2-1-12.1zM195.1 266.3l1.1 11.3 2.3-2.1-1.1-11.6zM192.8 271.2l1 11.2 2.4-4.8-1.1-11.3z"/><path fill="#00afff" d="M190.4 276.5l1.1 11.6 2.3-5.7-1-11.2z"/><path fill="#009fff" d="M188.1 280.1l1 11.9 2.4-3.9-1.1-11.6z"/><path fill="#008fff" d="M185.7 281.4l1.1 11.9 2.3-1.3-1-11.9zM183.4 281.4l1 11.8 2.4 .1-1.1-11.9zM181 281.9l1.1 11.5 2.3-.2-1-11.8zM178.7 282.9l1 11.5 2.4-1-1.1-11.5zM176.3 283.6l1.1 11.4 2.3-.6-1-11.5z"/><path fill="#009fff" d="M174 283.7l1 11 2.4 .3-1.1-11.4zM171.7 283.3l1 10.7 2.3 .7-1-11zM169.3 283.3l1.1 10.6 2.3 .1-1-10.7zM167 284l1 11 2.4-1.1-1.1-10.6zM164.6 285.5l1.1 11.5 2.3-2-1-11zM162.3 285.8l1 11.7 2.4-.5-1.1-11.5zM159.9 284.2l1.1 11.6 2.3 1.7-1-11.7z"/><path fill="#00afff" d="M157.6 282.5l1 11.2 2.4 2.1-1.1-11.6z"/><path fill="#00bfff" d="M155.2 282.4l1.1 10.9 2.3 .4-1-11.2zM152.9 284.3l1 10.9 2.4-1.9-1.1-10.9z"/></g>
<path fill="none" stroke-width="0.8" d="M152.9 284.3l2.3-1.9 2.4 .1 2.3 1.7 2.4 1.6 2.3-.3 2.4-1.5 2.3-.7 2.4 0 2.3 .4 2.3-.1 2.4-.7 2.3-1 2.4-.5 2.3 0 2.4-1.3 2.3-3.6 2.4-5.3 2.3-4.9 2.3-2.4 2.4-.3 2.3 1.4 2.4 .5 2.3-.7 2.4-.7 2.3-1.3 2.4-1.3 2.3-2 2.4-1.3 2.3 .5 2.3 2.4 2.4 3.2 2.3 1.5 2.4-2 2.3-4.1 2.4-3.6 2.3-2.7 2.4-1.6 2.3-2.9 2.3-5.1 2.4-1.4 2.3 .1 2.4 .3 2.3-1.6 2.4-3.5 2.3-4 2.4-2.3 2.3 .2 2.4 1.8 2.3 1.2 2.3-1.4 2.4-3.1 2.3-3.4 2.4-4.1 2.3-5.2 2.4-6.7 2.3-5.7 2.4-.6 2.3 3.5 2.3 5.4 2.4 3.2 2.3-.1 2.4-1.5 2.3-.6 2.4 1.1 2.3 2.8 2.4 4.8 2.3 3.9 2.4 4.1 2.3 4.4 2.3 4 2.4 1.8 2.3-.9 2.4-2 2.3-1.1 2.4 1.1 2.3 2.3 2.4 1.4M338.1 242.7l2.4-.2 2.3-1.1 2.4-1.4 2.3-1.9 2.4-1.9 2.3-1.5 2.4-.9 2.3-.7 2.4-.7 2.3-.5 2.3-.1 2.4-1.1 2.3-1.4 2.4-1.7 2.3-1.8 2.4-1.9 2.3-1.2 2.4-.4 2.3-.1 2.3 0 2.4 .5M153.9 295.2l2.4-1.9 2.3 .4 2.4 2.1 2.3 1.7 2.4-.5 2.3-2 2.4-1.1 2.3 .1 2.3 .7 2.4 .3 2.3-.6 2.4-1 2.3-.2 2.4 .1 2.3-1.3 2.4-3.9 2.3-5.7 2.4-4.8 2.3-2.1 2.3 .2 2.4 1.5 2.3 .3 2.4-1 2.3-.9 2.4-1.1 2.3-1.1 2.4-1.8 2.3-1.5 2.3 .4 2.4 2.6 2.3 3.6 2.4 1.7 2.3-2.2 2.4-4.5 2.3-3.9 2.4-2.6 2.3-1.4 2.4-2.6 2.3-4.7 2.3-1.5 2.4 .2 2.3 .6 2.4-1.5 2.3-3.7 2.4-4.2 2.3-2.3 2.4 .6 2.3 2.6 2.3 1.7 2.4-1.1 2.3-2.9 2.4-3 2.3-3.5 2.4-4.7 2.3-6.6 2.4-5.9 2.3-.9 2.4 3.4 2.3 5.2 2.3 2.8 2.4-.9 2.3-2.3 2.4-1.1 2.3 .9 2.4 2.7 2.3 4.2 2.4 3.3 2.3 3.6 2.3 4.3 2.4 3.6 2.3-.7 2.4-.7 2.3-.8 2.4-1.4 2.3 .6 2.4-.5 2.3-.4M339.2 246.2l2.3 .6 2.4 .7 2.3 .3 2.4-1.9 2.3-1.8 2.4-1.4 2.3-.7 2.4-.6 2.3-.7 2.3-.6 2.4-.3 2.3-1 2.4-1.3 2.3-1.6 2.4-1.6 2.3-1.8 2.4-1.2 2.3-.4 2.4-.2 2.3-.1 2.3 .3"/>
<g stroke-width="0.4"><path fill="#0060ff" d="M386.1 230.6l1 7.5 2.4 .1-1.1-7.3zM383.8 230.7l1 7.5 2.3-.1-1-7.5zM381.4 230.9l1.1 7.6 2.3-.3-1-7.5z"/><path fill="#0070ff" d="M379.1 231.3l1 7.7 2.4-.5-1.1-7.6zM376.7 232.5l1.1 7.6 2.3-1.1-1-7.7z"/><path fill="#0060ff" d="M374.4 234.3l1 7.4 2.4-1.6-1.1-7.6zM372 235.9l1.1 7.3 2.3-1.5-1-7.4zM369.7 237.5l1 7.2 2.4-1.5-1.1-7.3zM367.3 238.8l1.1 7.1 2.3-1.2-1-7.2zM365 239.8l1 7.1 2.4-1-1.1-7.1zM362.6 240.1l1.1 7.3 2.3-.5-1-7.1zM360.3 240.7l1.1 7.5 2.3-.8-1.1-7.3zM358 241.4l1 7.6 2.4-.8-1.1-7.5zM355.6 242l1.1 7.5 2.3-.5-1-7.6zM353.3 242.7l1 7.4 2.4-.6-1.1-7.5zM350.9 244.1l1.1 5.8 2.3 .2-1-7.4zM348.6 245.9l1 3.8 2.4 .2-1.1-5.8z"/><path fill="#0070ff" d="M346.2 247.8l1.1 1.4 2.3 .5-1-3.8zM343.9 247.5l1 1 2.4 .7-1.1-1.4zM341.5 246.8l1.1 1 2.3 .7-1-1z"/><path fill="#0080ff" d="M339.2 246.2l1 1 2.4 .6-1.1-1zM336.9 246l1 1 2.3 .2-1-1z"/><path fill="#008fff" d="M334.5 246.2l1.1 1 2.3-.2-1-1zM332.2 246.6l1 1 2.4-.4-1.1-1zM329.8 247.1l1.1 .9 2.3-.4-1-1zM327.5 246.5l1 2 2.4-.5-1.1-.9zM325.1 247.9l1.1 1.2 2.3-.6-1-2zM322.8 248.7l1 1 2.4-.6-1.1-1.2zM320.4 249.4l1.1 1 2.3-.7-1-1zM318.1 250.1l1 1 2.4-.7-1.1-1zM315.7 246.5l1.1 5.5 2.3-.9-1-1zM313.4 242.2l1.1 10.7 2.3-.9-1.1-5.5z"/><path fill="#009fff" d="M311.1 238.6l1 11.6 2.4 2.7-1.1-10.7z"/><path fill="#00afff" d="M308.7 235.3l1.1 12.2 2.3 2.7-1-11.6z"/><path fill="#00bfff" d="M306.4 231.1l1 12.8 2.4 3.6-1.1-12.2z"/><path fill="#00cfff" d="M304 228.4l1.1 13 2.3 2.5-1-12.8z"/><path fill="#00dfff" d="M301.7 227.5l1 13.1 2.4 .8-1.1-13zM299.3 228.6l1.1 13.6 2.3-1.6-1-13.1zM297 230.9l1 14.5 2.4-3.2-1.1-13.6z"/><path fill="#00cfff" d="M294.6 231.8l1.1 15.3 2.3-1.7-1-14.5zM292.3 229l1 15.8 2.4 2.3-1.1-15.3z"/><path fill="#00efff" d="M290 223.8l1 15.9 2.3 5.1-1-15.8z"/><path fill="#10ffef" d="M287.6 220.4l1.1 16 2.3 3.3-1-15.9zM285.3 221.3l1 16.4 2.4-1.3-1.1-16z"/><path fill="#0ff" d="M282.9 227.2l1.1 16.5 2.3-6-1-16.4z"/><path fill="#00dfff" d="M280.6 233.8l1 16.4 2.4-6.5-1.1-16.5z"/><path fill="#00cfff" d="M278.2 238.5l1.1 15.9 2.3-4.2-1-16.4z"/><path fill="#00bfff" d="M275.9 242l1 15.2 2.4-2.8-1.1-15.9z"/><path fill="#00afff" d="M273.5 245l1.1 14.9 2.3-2.7-1-15.2zM271.2 247.9l1 14.7 2.4-2.7-1.1-14.9z"/><path fill="#009fff" d="M268.8 249l1.1 14.4 2.3-.8-1-14.7z"/><path fill="#00afff" d="M266.5 247.3l1.1 13.8 2.3 2.3-1.1-14.4z"/><path fill="#00bfff" d="M264.2 244.7l1 13.2 2.4 3.2-1.1-13.8z"/><path fill="#00cfff" d="M261.8 244.1l1.1 12.7 2.3 1.1-1-13.2zM259.5 246.4l1 12.7 2.4-2.3-1.1-12.7z"/><path fill="#00bfff" d="M257.1 250.6l1.1 13 2.3-4.5-1-12.7z"/><path fill="#00afff" d="M254.8 254.3l1 13.2 2.4-3.9-1.1-13z"/><path fill="#009fff" d="M252.4 255.8l1.1 12.9 2.3-1.2-1-13.2z"/><path fill="#00afff" d="M250.1 255.2l1 12.7 2.4 .8-1.1-12.9zM247.7 255l1.1 12.6 2.3 .3-1-12.7zM245.4 256.5l1 12.7 2.4-1.6-1.1-12.6z"/><path fill="#009fff" d="M243.1 261.2l1 12.2 2.3-4.2-1-12.7z"/><path fill="#008fff" d="M240.7 263.8l1.1 12 2.3-2.4-1-12.2zM238.4 265.2l1 11.8 2.4-1.2-1.1-12zM236 267.8l1.1 11.7 2.3-2.5-1-11.8z"/><path fill="#0080ff" d="M233.7 271.7l1 11.9 2.4-4.1-1.1-11.7z"/><path fill="#0070ff" d="M231.3 276.2l1.1 12.4 2.3-5-1-11.9z"/><path fill="#0060ff" d="M229 278.4l1 12.6 2.4-2.4-1.1-12.4zM226.6 276.7l1.1 12.5 2.3 1.8-1-12.6z"/><path fill="#0070ff" d="M224.3 273.1l1 12.1 2.4 4-1.1-12.5z"/><path fill="#0080ff" d="M221.9 270.5l1.1 11.9 2.3 2.8-1-12.1z"/><path fill="#008fff" d="M219.6 270.1l1.1 11.9 2.3 .4-1.1-11.9zM217.3 271.6l1 12 2.4-1.6-1.1-11.9zM214.9 273.4l1.1 12 2.3-1.8-1-12zM212.6 274.5l1 11.7 2.4-.8-1.1-12zM210.2 275.6l1.1 11.4 2.3-.8-1-11.7zM207.9 276.5l1 11.6 2.4-1.1-1.1-11.4zM205.5 277.5l1.1 12 2.3-1.4-1-11.6zM203.2 277.2l1 12.3 2.4 0-1.1-12zM200.8 275.7l1.1 12.1 2.3 1.7-1-12.3z"/><path fill="#009fff" d="M198.5 275.5l1 11.6 2.4 .7-1.1-12.1zM196.2 277.6l1 11.2 2.3-1.7-1-11.6z"/><path fill="#008fff" d="M193.8 282.4l1.1 11.3 2.3-4.9-1-11.2z"/><path fill="#0070ff" d="M191.5 288.1l1 11.6 2.4-6-1.1-11.3z"/><path fill="#0060ff" d="M189.1 292l1.1 11.9 2.3-4.2-1-11.6z"/><path fill="#0050ff" d="M186.8 293.3l1 11.9 2.4-1.3-1.1-11.9zM184.4 293.2l1.1 11.7 2.3 .3-1-11.9z"/><path fill="#0060ff" d="M182.1 293.4l1 11.6 2.4-.1-1.1-11.7zM179.7 294.4l1.1 11.5 2.3-.9-1-11.6zM177.4 295l1 11.4 2.4-.5-1.1-11.5zM175 294.7l1.1 11 2.3 .7-1-11.4z"/><path fill="#0070ff" d="M172.7 294l1.1 10.7 2.3 1-1.1-11zM170.4 293.9l1 10.7 2.4 .1-1.1-10.7zM168 295l1.1 11.1 2.3-1.5-1-10.7zM165.7 297l1 11.6 2.4-2.5-1.1-11.1z"/><path fill="#0060ff" d="M163.3 297.5l1.1 11.8 2.3-.7-1-11.6z"/><path fill="#0070ff" d="M161 295.8l1 11.5 2.4 2-1.1-11.8z"/><path fill="#0080ff" d="M158.6 293.7l1.1 11.1 2.3 2.5-1-11.5z"/><path fill="#008fff" d="M156.3 293.3l1 10.9 2.4 .6-1.1-11.1zM153.9 295.2l1.1 10.9 2.3-1.9-1-10.9z"/></g>
<path fill="none" stroke-width="0.8" d="M153.9 295.2l2.4-1.9 2.3 .4 2.4 2.1 2.3 1.7 2.4-.5 2.3-2 2.4-1.1 2.3 .1 2.3 .7 2.4 .3 2.3-.6 2.4-1 2.3-.2 2.4 .1 2.3-1.3 2.4-3.9 2.3-5.7 2.4-4.8 2.3-2.1 2.3 .2 2.4 1.5 2.3 .3 2.4-1 2.3-.9 2.4-1.1 2.3-1.1 2.4-1.8 2.3-1.5 2.3 .4 2.4 2.6 2.3 3.6 2.4 1.7 2.3-2.2 2.4-4.5 2.3-3.9 2.4-2.6 2.3-1.4 2.4-2.6 2.3-4.7 2.3-1.5 2.4 .2 2.3 .6 2.4-1.5 2.3-3.7 2.4-4.2 2.3-2.3 2.4 .6 2.3 2.6 2.3 1.7 2.4-1.1 2.3-2.9 2.4-3 2.3-3.5 2.4-4.7 2.3-6.6 2.4-5.9 2.3-.9 2.4 3.4 2.3 5.2 2.3 2.8 2.4-.9 2.3-2.3 2.4-1.1 2.3 .9 2.4 2.7 2.3 4.2 2.4 3.3 2.3 3.6 2.3 4.3M348.6 245.9l2.3-1.8 2.4-1.4 2.3-.7 2.4-.6 2.3-.7 2.3-.6 2.4-.3 2.3-1 2.4-1.3 2.3-1.6 2.4-1.6 2.3-1.8 2.4-1.2 2.3-.4 2.4-.2 2.3-.1 2.3 .3M155 306.1l2.3-1.9 2.4 .6 2.3 2.5 2.4 2 2.3-.7 2.4-2.5 2.3-1.5 2.4 .1 2.3 1 2.3 .7 2.4-.5 2.3-.9 2.4-.1 2.3 .3 2.4-1.3 2.3-4.2 2.4-6 2.3-4.9 2.3-1.7 2.4 .7 2.3 1.7 2.4 0 2.3-1.4 2.4-1.1 2.3-.8 2.4-.8 2.3-1.8 2.4-1.6 2.3 .4 2.3 2.8 2.4 4 2.3 1.8 2.4-2.4 2.3-5 2.4-4.1 2.3-2.5 2.4-1.2 2.3-2.4 2.3-4.2 2.4-1.6 2.3 .3 2.4 .8 2.3-1.2 2.4-3.9 2.3-4.5 2.4-2.3 2.3 1.1 2.4 3.2 2.3 2.3 2.3-.8 2.4-2.7 2.3-2.7 2.4-2.8 2.3-4.2 2.4-6.5 2.3-6 2.4-1.3 2.3 3.3 2.3 5.1 2.4 2.3 2.3-1.7 2.4-3.2 2.3-1.6 2.4 .8 2.3 2.5 2.4 3.6 2.3 2.7 2.4 2.7 2.3-.9M349.6 249.7l2.4 .2 2.3 .2 2.4-.6 2.3-.5 2.4-.8 2.3-.8 2.3-.5 2.4-1 2.3-1.2 2.4-1.5 2.3-1.5 2.4-1.6 2.3-1.1 2.4-.5 2.3-.3 2.3-.1 2.4 .1"/>
<g stroke-width="0.4"><path fill="#0040ff" d="M387.1 238.1l1.1 6.7 2.3 0-1-6.6zM384.8 238.2l1 6.8 2.4-.2-1.1-6.7zM382.5 238.5l1 6.9 2.3-.4-1-6.8zM380.1 239l1.1 6.9 2.3-.5-1-6.9zM377.8 240.1l1 6.8 2.4-1-1.1-6.9zM375.4 241.7l1.1 6.8 2.3-1.6-1-6.8zM373.1 243.2l1 6.6 2.4-1.3-1.1-6.8zM370.7 244.7l1.1 6.5 2.3-1.4-1-6.6zM368.4 245.9l1 5.6 2.4-.3-1.1-6.5zM366 246.9l1.1 4.6 2.3 0-1-5.6zM363.7 247.4l1 4.1 2.4 0-1.1-4.6z"/><path fill="#0050ff" d="M361.4 248.2l1 3.2 2.3 .1-1-4.1zM359 249l1.1 2.3 2.3 .1-1-3.2zM356.7 249.5l1 1.7 2.4 .1-1.1-2.3zM354.3 250.1l1.1 1 2.3 .1-1-1.7z"/><path fill="#0060ff" d="M352 249.9l1 1 2.4 .2-1.1-1zM349.6 249.7l1.1 1 2.3 .2-1-1zM347.3 249.2l1 1 2.4 .5-1.1-1z"/><path fill="#0070ff" d="M344.9 248.5l1.1 1 2.3 .7-1-1zM342.6 247.8l1 1 2.4 .7-1.1-1z"/><path fill="#0080ff" d="M340.2 247.2l1.1 1 2.3 .6-1-1zM337.9 247l1 1 2.4 .2-1.1-1zM335.6 247.2l1 1 2.3-.2-1-1z"/><path fill="#008fff" d="M333.2 247.6l1.1 1 2.3-.4-1-1zM330.9 248l1 1 2.4-.4-1.1-1zM328.5 248.5l1.1 1 2.3-.5-1-1zM326.2 249.1l1 1 2.4-.6-1.1-1zM323.8 249.7l1.1 1 2.3-.6-1-1zM321.5 250.4l1 1 2.4-.7-1.1-1zM319.1 251.1l1.1 1 2.3-.7-1-1zM316.8 252l1 .9 2.4-.8-1.1-1zM314.5 252.9l1 1 2.3-1-1-.9zM312.1 250.2l1.1 4.7 2.3-1-1-1zM309.8 247.5l1 8.5 2.4-1.1-1.1-4.7zM307.4 243.9l1.1 12.8 2.3-.7-1-8.5zM305.1 241.4l1 13 2.4 2.3-1.1-12.8z"/><path fill="#009fff" d="M302.7 240.6l1.1 13.2 2.3 .6-1-13zM300.4 242.2l1 13.7 2.4-2.1-1.1-13.2z"/><path fill="#008fff" d="M298 245.4l1.1 14.5 2.3-4-1-13.7z"/><path fill="#0080ff" d="M295.7 247.1l1 15.3 2.4-2.5-1.1-14.5zM293.3 244.8l1.1 15.7 2.3 1.9-1-15.3z"/><path fill="#009fff" d="M291 239.7l1 15.8 2.4 5-1.1-15.7z"/><path fill="#00afff" d="M288.7 236.4l1 16 2.3 3.1-1-15.8z"/><path fill="#00bfff" d="M286.3 237.7l1.1 16.3 2.3-1.6-1-16z"/><path fill="#00afff" d="M284 243.7l1 16.5 2.4-6.2-1.1-16.3z"/><path fill="#008fff" d="M281.6 250.2l1.1 16.4 2.3-6.4-1-16.5z"/><path fill="#0080ff" d="M279.3 254.4l1 15.9 2.4-3.7-1.1-16.4z"/><path fill="#0070ff" d="M276.9 257.2l1.1 15.3 2.3-2.2-1-15.9z"/><path fill="#0060ff" d="M274.6 259.9l1 14.9 2.4-2.3-1.1-15.3zM272.2 262.6l1.1 14.8 2.3-2.6-1-14.9zM269.9 263.4l1 14.4 2.4-.4-1.1-14.8zM267.6 261.1l1 13.9 2.3 2.8-1-14.4z"/><path fill="#0080ff" d="M265.2 257.9l1.1 13.2 2.3 3.9-1-13.9z"/><path fill="#008fff" d="M262.9 256.8l1 12.8 2.4 1.5-1.1-13.2zM260.5 259.1l1.1 12.7 2.3-2.2-1-12.8z"/><path fill="#0080ff" d="M258.2 263.6l1 13 2.4-4.8-1.1-12.7z"/><path fill="#0070ff" d="M255.8 267.5l1.1 13.1 2.3-4-1-13z"/><path fill="#0060ff" d="M253.5 268.7l1 13 2.4-1.1-1.1-13.1zM251.1 267.9l1.1 12.8 2.3 1-1-13z"/><path fill="#0070ff" d="M248.8 267.6l1 12.6 2.4 .5-1.1-12.8zM246.4 269.2l1.1 12.6 2.3-1.6-1-12.6z"/><path fill="#0060ff" d="M244.1 273.4l1 12.3 2.4-3.9-1.1-12.6zM241.8 275.8l1 12 2.3-2.1-1-12.3z"/><path fill="#0050ff" d="M239.4 277l1.1 11.8 2.3-1-1-12zM237.1 279.5l1 11.7 2.4-2.4-1.1-11.8z"/><path fill="#0040ff" d="M234.7 283.6l1.1 12 2.3-4.4-1-11.7z"/><path fill="#0030ff" d="M232.4 288.6l1 12.4 2.4-5.4-1.1-12z"/><path fill="#0020ff" d="M230 291l1.1 12.7 2.3-2.7-1-12.4zM227.7 289.2l1 12.5 2.4 2-1.1-12.7z"/><path fill="#0030ff" d="M225.3 285.2l1.1 12.1 2.3 4.4-1-12.5z"/><path fill="#0050ff" d="M223 282.4l1 11.8 2.4 3.1-1.1-12.1zM220.7 282l1 11.9 2.3 .3-1-11.8zM218.3 283.6l1.1 12 2.3-1.7-1-11.9zM216 285.4l1 11.9 2.4-1.7-1.1-12zM213.6 286.2l1.1 11.6 2.3-.5-1-11.9zM211.3 287l1 11.5 2.4-.7-1.1-11.6zM208.9 288.1l1.1 11.7 2.3-1.3-1-11.5zM206.6 289.5l1 12 2.4-1.7-1.1-11.7zM204.2 289.5l1.1 12.2 2.3-.2-1-12zM201.9 287.8l1 12.1 2.4 1.8-1.1-12.2z"/><path fill="#0060ff" d="M199.5 287.1l1.1 11.5 2.3 1.3-1-12.1zM197.2 288.8l1 11.3 2.4-1.5-1.1-11.5z"/><path fill="#0050ff" d="M194.9 293.7l1 11.2 2.3-4.8-1-11.3z"/><path fill="#0040ff" d="M192.5 299.7l1.1 11.5 2.3-6.3-1-11.2z"/><path fill="#0020ff" d="M190.2 303.9l1 11.9 2.4-4.6-1.1-11.5zM187.8 305.2l1.1 11.9 2.3-1.3-1-11.9zM185.5 304.9l1 11.7 2.4 .5-1.1-11.9zM183.1 305l1.1 11.6 2.3 0-1-11.7zM180.8 305.9l1 11.5 2.4-.8-1.1-11.6zM178.4 306.4l1.1 11.4 2.3-.4-1-11.5z"/><path fill="#0030ff" d="M176.1 305.7l1 11 2.4 1.1-1.1-11.4zM173.8 304.7l1 10.6 2.3 1.4-1-11z"/><path fill="#0040ff" d="M169.1 306.1l1 11 2.4-1.9-1.1-10.6z"/><path fill="#0030ff" d="M166.7 308.6l1.1 11.5 2.3-3-1-11zM164.4 309.3l1 11.8 2.4-1-1.1-11.5zM162 307.3l1.1 11.6 2.3 2.2-1-11.8z"/><path fill="#0040ff" d="M159.7 304.8l1 11.2 2.4 2.9-1.1-11.6z"/><path fill="#0050ff" d="M157.3 304.2l1.1 10.9 2.3 .9-1-11.2zM155 306.1l1 10.9 2.4-1.9-1.1-10.9z"/></g>
<path fill="none" stroke-width="0.8" d="M155 306.1l2.3-1.9 2.4 .6 2.3 2.5 2.4 2 2.3-.7 2.4-2.5 2.3-1.5M173.8 304.7l2.3 1 2.3 .7 2.4-.5 2.3-.9 2.4-.1 2.3 .3 2.4-1.3 2.3-4.2 2.4-6 2.3-4.9 2.3-1.7 2.4 .7 2.3 1.7 2.4 0 2.3-1.4 2.4-1.1 2.3-.8 2.4-.8 2.3-1.8 2.4-1.6 2.3 .4 2.3 2.8 2.4 4 2.3 1.8 2.4-2.4 2.3-5 2.4-4.1 2.3-2.5 2.4-1.2 2.3-2.4 2.3-4.2 2.4-1.6 2.3 .3 2.4 .8 2.3-1.2 2.4-3.9 2.3-4.5 2.4-2.3 2.3 1.1 2.4 3.2 2.3 2.3 2.3-.8 2.4-2.7 2.3-2.7 2.4-2.8 2.3-4.2 2.4-6.5 2.3-6 2.4-1.3 2.3 3.3 2.3 5.1 2.4 2.3 2.3-1.7 2.4-3.2 2.3-1.6 2.4 .8 2.3 2.5 2.4 3.6 2.3 2.7M363.7 247.4l2.3-.5 2.4-1 2.3-1.2 2.4-1.5 2.3-1.5 2.4-1.6 2.3-1.1 2.4-.5 2.3-.3 2.3-.1 2.4 .1M156 317l2.4-1.9 2.3 .9 2.4 2.9 2.3 2.2 2.4-1 2.3-3 2.4-1.9M174.8 315.3l2.3 1.4 2.4 1.1 2.3-.4 2.4-.8 2.3 0 2.4 .5 2.3-1.3 2.4-4.6 2.3-6.3 2.3-4.8 2.4-1.5 2.3 1.3 2.4 1.8 2.3-.2 2.4-1.7 2.3-1.3 2.4-.7 2.3-.5 2.4-1.7 2.3-1.7 2.3 .3 2.4 3.1 2.3 4.4 2.4 2 2.3-2.7 2.4-5.4 2.3-4.4 2.4-2.4 2.3-1 2.3-2.1 2.4-3.9 2.3-1.6 2.4 .5 2.3 1 2.4-1.1 2.3-4 2.4-4.8 2.3-2.2 2.4 1.5 2.3 3.9 2.3 2.8 2.4-.4 2.3-2.6 2.4-2.3 2.3-2.2 2.4-3.7 2.3-6.4 2.4-6.2 2.3-1.6 2.3 3.1 2.4 5 2.3 1.9 2.4-2.5 2.3-4 2.4-2.1 2.3 .6 2.4 2.3 2.3-.7 2.4-1.1M364.7 251.5l2.4 0 2.3 0 2.4-.3 2.3-1.4 2.4-1.3 2.3-1.6 2.4-1 2.3-.5 2.3-.4 2.4-.2 2.3 0"/>
<g stroke-width="0.4"><path fill="#0030ff" d="M388.2 244.8l1 4.9 2.4-.1-1.1-4.8zM385.8 245l1.1 5 2.3-.3-1-4.9zM383.5 245.4l1.1 5.1 2.3-.5-1.1-5zM381.2 245.9l1 5.1 2.4-.5-1.1-5.1zM378.8 246.9l1.1 5.1 2.3-1-1-5.1zM376.5 248.5l1 4 2.4-.5-1.1-5.1zM374.1 249.8l1.1 2.7 2.3 0-1-4zM371.8 251.2l1 1.3 2.4 0-1.1-2.7z"/><path fill="#0040ff" d="M369.4 251.5l1.1 1 2.3 0-1-1.3zM367.1 251.5l1 1 2.4 0-1.1-1zM364.7 251.5l1.1 1 2.3 0-1-1zM362.4 251.4l1 1 2.4 .1-1.1-1z"/><path fill="#0050ff" d="M360.1 251.3l1 1 2.3 .1-1-1zM357.7 251.2l1.1 1 2.3 .1-1-1zM355.4 251.1l1 1 2.4 .1-1.1-1z"/><path fill="#0060ff" d="M353 250.9l1.1 1 2.3 .2-1-1zM350.7 250.7l1 1 2.4 .2-1.1-1zM348.3 250.2l1.1 1 2.3 .5-1-1z"/><path fill="#0070ff" d="M346 249.5l1 1 2.4 .7-1.1-1zM343.6 248.8l1.1 1 2.3 .7-1-1z"/><path fill="#0080ff" d="M341.3 248.2l1 1 2.4 .6-1.1-1zM338.9 248l1.1 .9 2.3 .3-1-1zM336.6 248.2l1.1 1 2.3-.3-1.1-.9zM334.3 248.6l1 1 2.4-.4-1.1-1z"/><path fill="#008fff" d="M331.9 249l1.1 1 2.3-.4-1-1zM329.6 249.5l1 1 2.4-.5-1.1-1zM327.2 250.1l1.1 1 2.3-.6-1-1zM324.9 250.7l1 1 2.4-.6-1.1-1zM322.5 251.4l1.1 .9 2.3-.6-1-1zM320.2 252.1l1 1 2.4-.8-1.1-.9zM317.8 252.9l1.1 1 2.3-.8-1-1zM315.5 253.9l1 1 2.4-1-1.1-1zM313.2 254.9l1 1 2.3-1-1-1zM310.8 256l1.1 1 2.3-1.1-1-1z"/><path fill="#0080ff" d="M308.5 256.7l1 1.4 2.4-1.1-1.1-1zM306.1 254.4l1.1 5 2.3-1.3-1-1.4zM303.8 253.8l1 6.8 2.4-1.2-1.1-5zM301.4 255.9l1.1 6.1 2.3-1.4-1-6.8zM299.1 259.9l1 3.6 2.4-1.5-1.1-6.1z"/><path fill="#0070ff" d="M296.7 262.4l1.1 3.2 2.3-2.1-1-3.6zM294.4 260.5l1 7.6 2.4-2.5-1.1-3.2z"/><path fill="#0060ff" d="M292 255.5l1.1 15.4 2.3-2.8-1-7.6zM289.7 252.4l1.1 15.9 2.3 2.6-1.1-15.4z"/><path fill="#0070ff" d="M287.4 254l1 16.3 2.4-2-1.1-15.9z"/><path fill="#0060ff" d="M285 260.2l1.1 16.5 2.3-6.4-1-16.3z"/><path fill="#0040ff" d="M282.7 266.6l1 16.2 2.4-6.1-1.1-16.5z"/><path fill="#0030ff" d="M280.3 270.3l1.1 15.8 2.3-3.3-1-16.2z"/><path fill="#0020ff" d="M278 272.5l1 15.3 2.4-1.7-1.1-15.8zM275.6 274.8l1.1 14.9 2.3-1.9-1-15.3z"/><path fill="#0010ff" d="M273.3 277.4l1 14.7 2.4-2.4-1.1-14.9zM270.9 277.8l1.1 14.5 2.3-.2-1-14.7z"/><path fill="#0020ff" d="M268.6 275l1 13.8 2.4 3.5-1.1-14.5z"/><path fill="#0030ff" d="M266.3 271.1l1 13.1 2.3 4.6-1-13.8z"/><path fill="#0050ff" d="M263.9 269.6l1.1 12.7 2.3 1.9-1-13.1zM261.6 271.8l1 12.8 2.4-2.3-1.1-12.7z"/><path fill="#0040ff" d="M259.2 276.6l1.1 13 2.3-5-1-12.8z"/><path fill="#0030ff" d="M256.9 280.6l1 13.2 2.4-4.2-1.1-13z"/><path fill="#0020ff" d="M254.5 281.7l1.1 13 2.3-.9-1-13.2zM252.2 280.7l1 12.7 2.4 1.3-1.1-13z"/><path fill="#0030ff" d="M249.8 280.2l1.1 12.7 2.3 .5-1-12.7zM247.5 281.8l1 12.7 2.4-1.6-1.1-12.7z"/><path fill="#0020ff" d="M245.1 285.7l1.1 12.3 2.3-3.5-1-12.7zM242.8 287.8l1.1 12 2.3-1.8-1.1-12.3zM240.5 288.8l1 11.8 2.4-.8-1.1-12z"/><path fill="#0010ff" d="M238.1 291.2l1.1 11.6 2.3-2.2-1-11.8z"/><path fill="#00f" d="M235.8 295.6l1 12 2.4-4.8-1.1-11.6z"/><path fill="#0000ef" d="M233.4 301l1.1 9.1 2.3-2.5-1-12zM231.1 303.7l1 7.2 2.4-.8-1.1-9.1zM228.7 301.7l1.1 10 2.3-.8-1-7.2z"/><path fill="#00f" d="M226.4 297.3l1 12.1 2.4 2.3-1.1-10z"/><path fill="#0010ff" d="M224 294.2l1.1 11.9 2.3 3.3-1-12.1z"/><path fill="#0020ff" d="M221.7 293.9l1 11.9 2.4 .3-1.1-11.9zM219.4 295.6l1 12 2.3-1.8-1-11.9z"/><path fill="#0010ff" d="M217 297.3l1.1 11.9 2.3-1.6-1-12zM214.7 297.8l1 11.7 2.4-.3-1.1-11.9zM212.3 298.5l1.1 11.5 2.3-.5-1-11.7zM210 299.8l1 11.6 2.4-1.4-1.1-11.5zM207.6 301.5l1.1 12 2.3-2.1-1-11.6zM205.3 301.7l1 12.3 2.4-.5-1.1-12zM202.9 299.9l1.1 12.1 2.3 2-1-12.3z"/><path fill="#0020ff" d="M200.6 298.6l1 11.6 2.4 1.8-1.1-12.1z"/><path fill="#0030ff" d="M198.2 300.1l1.1 11.2 2.3-1.1-1-11.6z"/><path fill="#0020ff" d="M195.9 304.9l1.1 11.3 2.3-4.9-1.1-11.2z"/><path fill="#00f" d="M193.6 311.2l1 11.6 2.4-6.6-1.1-11.3z"/><path fill="#0000ef" d="M191.2 315.8l1.1 8 2.3-1-1-11.6zM165.4 321.1l1.1 11 2.3-.8-1-11.2z"/><path fill="#00f" d="M163.1 318.9l1 11.6 2.4 1.6-1.1-11z"/><path fill="#0010ff" d="M160.7 316l1.1 11.1 2.3 3.4-1-11.6z"/><path fill="#0020ff" d="M158.4 315.1l1 10.9 2.4 1.1-1.1-11.1zM156 317l1.1 10.9 2.3-1.9-1-10.9z"/></g>
<path fill="none" stroke-width="0.8" d="M156 317l2.4-1.9 2.3 .9 2.4 2.9 2.3 2.2 2.4-1M191.2 315.8l2.4-4.6 2.3-6.3 2.3-4.8 2.4-1.5 2.3 1.3 2.4 1.8 2.3-.2 2.4-1.7 2.3-1.3 2.4-.7 2.3-.5 2.4-1.7 2.3-1.7 2.3 .3 2.4 3.1 2.3 4.4 2.4 2 2.3-2.7 2.4-5.4 2.3-4.4 2.4-2.4 2.3-1 2.3-2.1 2.4-3.9 2.3-1.6 2.4 .5 2.3 1 2.4-1.1 2.3-4 2.4-4.8 2.3-2.2 2.4 1.5 2.3 3.9 2.3 2.8 2.4-.4 2.3-2.6 2.4-2.3 2.3-2.2 2.4-3.7 2.3-6.4 2.4-6.2 2.3-1.6 2.3 3.1 2.4 5M299.1 259.9l2.3-4 2.4-2.1 2.3 .6M376.5 248.5l2.3-1.6 2.4-1 2.3-.5 2.3-.4 2.4-.2 2.3 0M157.1 327.9l2.3-1.9 2.4 1.1 2.3 3.4 2.4 1.6 2.3-.8M192.3 323.8l2.3-1 2.4-6.6 2.3-4.9 2.3-1.1 2.4 1.8 2.3 2 2.4-.5 2.3-2.1 2.4-1.4 2.3-.5 2.4-.3 2.3-1.6 2.3-1.8 2.4 .3 2.3 3.3 2.4 2.3 2.3-.8 2.4-.8 2.3-2.5 2.4-4.8 2.3-2.2 2.4-.8 2.3-1.8 2.3-3.5 2.4-1.6 2.3 .5 2.4 1.3 2.3-.9 2.4-4.2 2.3-5 2.4-2.3 2.3 1.9 2.3 4.6 2.4 3.5 2.3-.2 2.4-2.4 2.3-1.9 2.4-1.7 2.3-3.3 2.4-6.1 2.3-6.4 2.4-2 2.3 2.6 2.3-2.8M300.1 263.5l2.4-1.5 2.3-1.4 2.4-1.2M377.5 252.5l2.4-.5 2.3-1 2.4-.5 2.3-.5 2.3-.3 2.4-.1"/>
<g stroke-width="0.4"><path fill="#0020ff" d="M389.2 249.7l1.1 3.4 2.3-.1-1-3.4zM386.9 250l1 3.2 2.4-.1-1.1-3.4zM384.6 250.5l1 2.8 2.3-.1-1-3.2zM382.2 251l1.1 2.4 2.3-.1-1-2.8z"/><path fill="#0030ff" d="M379.9 252l1 1.4 2.4 0-1.1-2.4zM377.5 252.5l1.1 1 2.3-.1-1-1.4zM375.2 252.5l1 1 2.4 0-1.1-1zM372.8 252.5l1.1 1 2.3 0-1-1zM370.5 252.5l1 1 2.4 0-1.1-1z"/><path fill="#0040ff" d="M368.1 252.5l1.1 1 2.3 0-1-1zM365.8 252.5l1 .9 2.4 .1-1.1-1zM363.4 252.4l1.1 1 2.3 0-1-.9z"/><path fill="#0050ff" d="M361.1 252.3l1.1 1 2.3 .1-1.1-1zM358.8 252.2l1 1 2.4 .1-1.1-1zM356.4 252.1l1.1 1 2.3 .1-1-1zM354.1 251.9l1 1 2.4 .2-1.1-1z"/><path fill="#0060ff" d="M351.7 251.7l1.1 1 2.3 .2-1-1zM349.4 251.2l1 1 2.4 .5-1.1-1z"/><path fill="#0070ff" d="M347 250.5l1.1 1 2.3 .7-1-1zM344.7 249.8l1 1 2.4 .7-1.1-1zM342.3 249.2l1.1 1 2.3 .6-1-1z"/><path fill="#0080ff" d="M340 248.9l1 1 2.4 .3-1.1-1zM337.7 249.2l1 .9 2.3-.2-1-1zM335.3 249.6l1.1 1 2.3-.5-1-.9zM333 250l1 1 2.4-.4-1.1-1zM330.6 250.5l1.1 1 2.3-.5-1-1z"/><path fill="#008fff" d="M328.3 251.1l1 1 2.4-.6-1.1-1zM325.9 251.7l1.1 1 2.3-.6-1-1zM323.6 252.3l1 1 2.4-.6-1.1-1zM321.2 253.1l1.1 1 2.3-.8-1-1zM318.9 253.9l1 1 2.4-.8-1.1-1zM316.5 254.9l1.1 1 2.3-1-1-1zM314.2 255.9l1.1 1 2.3-1-1.1-1z"/><path fill="#0080ff" d="M311.9 257l1 1 2.4-1.1-1.1-1zM309.5 258.1l1.1 1 2.3-1.1-1-1zM307.2 259.4l1 .9 2.4-1.2-1.1-1zM304.8 260.6l1.1 1 2.3-1.3-1-.9zM302.5 262l1 .9 2.4-1.3-1.1-1zM300.1 263.5l1.1 1 2.3-1.6-1-.9z"/><path fill="#0070ff" d="M297.8 265.6l1 1 2.4-2.1-1.1-1zM295.4 268.1l1.1 1 2.3-2.5-1-1z"/><path fill="#0060ff" d="M293.1 270.9l1 1 2.4-2.8-1.1-1z"/><path fill="#0050ff" d="M290.8 268.3l1 6.5 2.3-2.9-1-1zM288.4 270.3l1.1 7.3 2.3-2.8-1-6.5z"/><path fill="#0040ff" d="M286.1 276.7l1 3.9 2.4-3-1.1-7.3z"/><path fill="#0030ff" d="M283.7 282.8l1.1 1 2.3-3.2-1-3.9z"/><path fill="#0020ff" d="M281.4 286.1l1 1 2.4-3.3-1.1-1zM279 287.8l1.1 2.8 2.3-3.5-1-1z"/><path fill="#0010ff" d="M276.7 289.7l1 4.6 2.4-3.7-1.1-2.8z"/><path fill="#00f" d="M274.3 292.1l1.1 5.9 2.3-3.7-1-4.6z"/><path fill="#0000ef" d="M272 292.3l1 6.5 2.4-.8-1.1-5.9zM269.6 288.8l1.1 10.8 2.3-.8-1-6.5z"/><path fill="#00f" d="M267.3 284.2l1.1 13.2 2.3 2.2-1.1-10.8z"/><path fill="#0010ff" d="M265 282.3l1 12.7 2.4 2.4-1.1-13.2zM262.6 284.6l1.1 12.7 2.3-2.3-1-12.7z"/><path fill="#00f" d="M260.3 289.6l1 12.9 2.4-5.2-1.1-12.7z"/><path fill="#0000ef" d="M257.9 293.8l1.1 9.5 2.3-.8-1-12.9zM255.6 294.7l1 9.4 2.4-.8-1.1-9.5zM253.2 293.4l1.1 11.5 2.3-.8-1-9.4zM250.9 292.9l1 12.6 2.4-.6-1.1-11.5zM248.5 294.5l1.1 11.9 2.3-.9-1-12.6zM246.2 298l1 9.1 2.4-.7-1.1-11.9zM243.9 299.8l1 8.1 2.3-.8-1-9.1zM241.5 300.6l1.1 8 2.3-.7-1-8.1zM239.2 302.8l1 6.6 2.4-.8-1.1-8zM236.8 307.6l1.1 2.6 2.3-.8-1-6.6zM234.5 310.1l1 .8 2.4-.7-1.1-2.6zM232.1 310.9l1.1 .8 2.3-.8-1-.8zM229.8 311.7l1 .7 2.4-.7-1.1-.8zM227.4 309.4l1.1 3.8 2.3-.8-1-.7zM225.1 306.1l1 7.8 2.4-.7-1.1-3.8zM222.7 305.8l1.1 8.9 2.3-.8-1-7.8zM220.4 307.6l1.1 7.9 2.3-.8-1.1-8.9zM218.1 309.2l1 7 2.4-.7-1.1-7.9zM215.7 309.5l1.1 7.5 2.3-.8-1-7zM213.4 310l1 7.7 2.4-.7-1.1-7.5zM211 311.4l1.1 7.1 2.3-.8-1-7.7zM208.7 313.5l1 5.7 2.4-.7-1.1-7.1zM206.3 314l1.1 6 2.3-.8-1-5.7zM204 312l1 8.8 2.4-.8-1.1-6zM201.6 310.2l1.1 11.3 2.3-.7-1-8.8zM199.3 311.3l1 11 2.4-.8-1.1-11.3zM197 316.2l1 6.8 2.3-.7-1-11zM194.6 322.8l1.1 1 2.3-.8-1-6.8zM164.1 330.5l1.1 3.1 2.3-.7-1-.8zM161.8 327.1l1 7.3 2.4-.8-1.1-3.1zM159.4 326l1.1 9.1 2.3-.7-1-7.3zM157.1 327.9l1 8 2.4-.8-1.1-9.1z"/></g>
<path fill="none" stroke-width="0.8" d="M157.1 327.9l2.3-1.9 2.4 1.1M197 316.2l2.3-4.9 2.3-1.1 2.4 1.8 2.3 2 2.4-.5 2.3-2.1 2.4-1.4 2.3-.5 2.4-.3 2.3-1.6 2.3-1.8 2.4 .3 2.3 3.3M239.2 302.8l2.3-2.2 2.4-.8 2.3-1.8 2.3-3.5 2.4-1.6 2.3 .5 2.4 1.3 2.3-.9 2.4-4.2 2.3-5 2.4-2.3 2.3 1.9 2.3 4.6 2.4 3.5 2.3-.2 2.4-2.4M286.1 276.7l2.3-6.4 2.4-2M158.1 335.9l2.4-.8 2.3-.7M198 323l2.3-.7 2.4-.8 2.3-.7 2.4-.8 2.3-.8 2.4-.7 2.3-.8 2.4-.7 2.3-.8 2.4-.7 2.3-.8 2.3-.8 2.4-.7M240.2 309.4l2.4-.8 2.3-.7 2.3-.8 2.4-.7 2.3-.9 2.4-.6 2.3-.8 2.4-.8 2.3-.8 2.4-5.2 2.3-2.3 2.4 2.4 2.3 2.2 2.3-.8 2.4-.8 2.3-3.7M287.1 280.6l2.4-3 2.3-2.8"/>
<g stroke-width="0.4"><path fill="#0010ff" d="M390.3 253.1l1 1 2.4-.1-1.1-1z"/><path fill="#0020ff" d="M387.9 253.2l1.1 1 2.3-.1-1-1zM385.6 253.3l1.1 1 2.3-.1-1.1-1zM383.3 253.4l1 1 2.4-.1-1.1-1zM380.9 253.4l1.1 1 2.3 0-1-1z"/><path fill="#0030ff" d="M378.6 253.5l1 1 2.4-.1-1.1-1zM376.2 253.5l1.1 1 2.3 0-1-1zM373.9 253.5l1 1 2.4 0-1.1-1zM371.5 253.5l1.1 1 2.3 0-1-1z"/><path fill="#0040ff" d="M369.2 253.5l1 1 2.4 0-1.1-1zM366.8 253.4l1.1 1 2.3 .1-1-1zM364.5 253.4l1 1 2.4 0-1.1-1zM362.2 253.3l1 1 2.3 .1-1-1z"/><path fill="#0050ff" d="M359.8 253.2l1.1 1 2.3 .1-1-1zM357.5 253.1l1 1 2.4 .1-1.1-1zM355.1 252.9l1.1 1 2.3 .2-1-1z"/><path fill="#0060ff" d="M352.8 252.7l1 1 2.4 .2-1.1-1zM350.4 252.2l1.1 1 2.3 .5-1-1zM348.1 251.5l1 1 2.4 .7-1.1-1z"/><path fill="#0070ff" d="M345.7 250.8l1.1 1 2.3 .7-1-1zM343.4 250.2l1 1 2.4 .6-1.1-1z"/><path fill="#0080ff" d="M341 249.9l1.1 1 2.3 .3-1-1zM338.7 250.1l1.1 1 2.3-.2-1.1-1zM336.4 250.6l1 .9 2.4-.4-1.1-1zM334 251l1.1 1 2.3-.5-1-.9zM331.7 251.5l1 1 2.4-.5-1.1-1zM329.3 252.1l1.1 .9 2.3-.5-1-1zM327 252.7l1 .9 2.4-.6-1.1-.9z"/><path fill="#008fff" d="M324.6 253.3l1.1 1 2.3-.7-1-.9zM322.3 254.1l1 1 2.4-.8-1.1-1zM319.9 254.9l1.1 1 2.3-.8-1-1z"/><path fill="#0080ff" d="M317.6 255.9l1 .9 2.4-.9-1.1-1zM315.3 256.9l1 1 2.3-1.1-1-.9zM312.9 258l1.1 1 2.3-1.1-1-1zM310.6 259.1l1 1 2.4-1.1-1.1-1zM308.2 260.3l1.1 1 2.3-1.2-1-1zM305.9 261.6l1 1 2.4-1.3-1.1-1zM303.5 262.9l1.1 1 2.3-1.3-1-1z"/><path fill="#0070ff" d="M301.2 264.5l1 1 2.4-1.6-1.1-1zM298.8 266.6l1.1 1 2.3-2.1-1-1zM296.5 269.1l1 1 2.4-2.5-1.1-1z"/><path fill="#0060ff" d="M294.1 271.9l1.1 1 2.3-2.8-1-1z"/><path fill="#0050ff" d="M291.8 274.8l1.1 .9 2.3-2.8-1.1-1zM289.5 277.6l1 1 2.4-2.9-1.1-.9z"/><path fill="#0040ff" d="M287.1 280.6l1.1 1 2.3-3-1-1z"/><path fill="#0030ff" d="M284.8 283.8l1 1 2.4-3.2-1.1-1z"/><path fill="#0020ff" d="M282.4 287.1l1.1 1 2.3-3.3-1-1z"/><path fill="#0010ff" d="M280.1 290.6l1 1 2.4-3.5-1.1-1z"/><path fill="#00f" d="M277.7 294.3l1.1 1 2.3-3.7-1-1z"/><path fill="#0000ef" d="M275.4 298l1 1 2.4-3.7-1.1-1zM273 298.8l1.1 1.1 2.3-.9-1-1zM270.7 299.6l1 1 2.4-.7-1.1-1.1zM268.4 297.4l1 4 2.3-.8-1-1zM266 295l1.1 7.2 2.3-.8-1-4zM263.7 297.3l1 5.6 2.4-.7-1.1-7.2zM261.3 302.5l1.1 1.2 2.3-.8-1-5.6zM259 303.3l1 1.1 2.4-.7-1.1-1.2zM256.6 304.1l1.1 1.1 2.3-.8-1-1.1zM254.3 304.9l1 1 2.4-.7-1.1-1.1zM251.9 305.5l1.1 1.2 2.3-.8-1-1zM249.6 306.4l1 1 2.4-.7-1.1-1.2zM247.2 307.1l1.1 1.1 2.3-.8-1-1zM244.9 307.9l1.1 1.1 2.3-.8-1.1-1.1zM242.6 308.6l1 1.1 2.4-.7-1.1-1.1zM240.2 309.4l1.1 1.1 2.3-.8-1-1.1zM237.9 310.2l1 1 2.4-.7-1.1-1.1zM235.5 310.9l1.1 1.1 2.3-.8-1-1zM233.2 311.7l1 1 2.4-.7-1.1-1.1zM230.8 312.4l1.1 1.1 2.3-.8-1-1zM228.5 313.2l1 1.1 2.4-.8-1.1-1.1zM226.1 313.9l1.1 1.1 2.3-.7-1-1.1zM223.8 314.7l1 1.1 2.4-.8-1.1-1.1zM221.5 315.5l1 1 2.3-.7-1-1.1zM219.1 316.2l1.1 1.1 2.3-.8-1-1zM216.8 317l1 1 2.4-.7-1.1-1.1zM214.4 317.7l1.1 1.1 2.3-.8-1-1zM212.1 318.5l1 1.1 2.4-.8-1.1-1.1zM209.7 319.2l1.1 1.1 2.3-.7-1-1.1zM207.4 320l1 1.1 2.4-.8-1.1-1.1zM205 320.8l1.1 1 2.3-.7-1-1.1zM202.7 321.5l1 1.1 2.4-.8-1.1-1zM200.3 322.3l1.1 1 2.3-.7-1-1.1zM162.8 334.4l1.1 1.1 2.3-.8-1-1.1zM160.5 335.1l1 1.1 2.4-.7-1.1-1.1zM158.1 335.9l1.1 1.1 2.3-.8-1-1.1z"/></g>
<path fill="none" stroke-width="0.8" d="M263.7 297.3l2.3-2.3 2.4 2.4M264.7 302.9l2.4-.7 2.3-.8"/>
<g stroke-width="0.4"><path fill="#0010ff" d="M391.3 254.1l1.1 1 2.3-.2-1-.9z"/><path fill="#0020ff" d="M389 254.2l1 1 2.4-.1-1.1-1zM386.7 254.3l1 1 2.3-.1-1-1zM384.3 254.4l1.1 .9 2.3 0-1-1zM382 254.4l1 1 2.4-.1-1.1-.9zM379.6 254.5l1.1 .9 2.3 0-1-1z"/><path fill="#0030ff" d="M377.3 254.5l1 1 2.4-.1-1.1-.9zM374.9 254.5l1.1 1 2.3 0-1-1zM372.6 254.5l1 1 2.4 0-1.1-1zM370.2 254.5l1.1 .9 2.3 .1-1-1z"/><path fill="#0040ff" d="M367.9 254.4l1 1 2.4 0-1.1-.9zM365.5 254.4l1.1 1 2.3 0-1-1zM363.2 254.3l1.1 1 2.3 .1-1.1-1z"/><path fill="#0050ff" d="M360.9 254.2l1 1 2.4 .1-1.1-1zM358.5 254.1l1.1 1 2.3 .1-1-1zM356.2 253.9l1 1 2.4 .2-1.1-1zM353.8 253.7l1.1 .9 2.3 .3-1-1z"/><path fill="#0060ff" d="M351.5 253.2l1 1 2.4 .4-1.1-.9zM349.1 252.5l1.1 1 2.3 .7-1-1z"/><path fill="#0070ff" d="M346.8 251.8l1 1 2.4 .7-1.1-1zM344.4 251.2l1.1 1 2.3 .6-1-1z"/><path fill="#0080ff" d="M342.1 250.9l1 1 2.4 .3-1.1-1zM339.8 251.1l1 1 2.3-.2-1-1zM337.4 251.5l1.1 1 2.3-.4-1-1zM335.1 252l1 1 2.4-.5-1.1-1zM332.7 252.5l1.1 1 2.3-.5-1-1zM330.4 253l1 1 2.4-.5-1.1-1zM328 253.6l1.1 1 2.3-.6-1-1zM325.7 254.3l1 1 2.4-.7-1.1-1zM323.3 255.1l1.1 1 2.3-.8-1-1zM321 255.9l1 1 2.4-.8-1.1-1zM318.6 256.8l1.1 1 2.3-.9-1-1zM316.3 257.9l1.1 1 2.3-1.1-1.1-1zM314 259l1 .9 2.4-1-1.1-1zM311.6 260.1l1.1 1 2.3-1.2-1-.9zM309.3 261.3l1 1 2.4-1.2-1.1-1zM306.9 262.6l1.1 1 2.3-1.3-1-1zM304.6 263.9l1 1 2.4-1.3-1.1-1z"/><path fill="#0070ff" d="M302.2 265.5l1.1 1 2.3-1.6-1-1zM299.9 267.6l1 1 2.4-2.1-1.1-1z"/><path fill="#0060ff" d="M297.5 270.1l1.1 1 2.3-2.5-1-1zM295.2 272.9l1 .9 2.4-2.7-1.1-1z"/><path fill="#0050ff" d="M292.9 275.7l1 1 2.3-2.9-1-.9z"/><path fill="#0040ff" d="M290.5 278.6l1.1 1 2.3-2.9-1-1zM288.2 281.6l1 1 2.4-3-1.1-1z"/><path fill="#0030ff" d="M285.8 284.8l1.1 .9 2.3-3.1-1-1z"/><path fill="#0020ff" d="M283.5 288.1l1 1 2.4-3.4-1.1-.9z"/><path fill="#0010ff" d="M281.1 291.6l1.1 1 2.3-3.5-1-1z"/><path fill="#00f" d="M278.8 295.3l1 1 2.4-3.7-1.1-1z"/><path fill="#0000ef" d="M276.4 299l1.1 1 2.3-3.7-1-1zM274.1 299.9l1 1.1 2.4-1-1.1-1zM271.7 300.6l1.1 1.1 2.3-.7-1-1.1zM269.4 301.4l1.1 1.1 2.3-.8-1.1-1.1zM267.1 302.2l1 1 2.4-.7-1.1-1.1zM264.7 302.9l1.1 1.1 2.3-.8-1-1zM262.4 303.7l1 1 2.4-.7-1.1-1.1zM260 304.4l1.1 1.1 2.3-.8-1-1zM257.7 305.2l1 1.1 2.4-.8-1.1-1.1zM255.3 305.9l1.1 1.1 2.3-.7-1-1.1zM253 306.7l1 1.1 2.4-.8-1.1-1.1zM250.6 307.4l1.1 1.1 2.3-.7-1-1.1zM248.3 308.2l1 1.1 2.4-.8-1.1-1.1zM246 309l1 1 2.3-.7-1-1.1zM243.6 309.7l1.1 1.1 2.3-.8-1-1zM241.3 310.5l1 1.1 2.4-.8-1.1-1.1zM238.9 311.2l1.1 1.1 2.3-.7-1-1.1zM236.6 312l1 1.1 2.4-.8-1.1-1.1zM234.2 312.7l1.1 1.1 2.3-.7-1-1.1zM231.9 313.5l1 1.1 2.4-.8-1.1-1.1zM229.5 314.3l1.1 1 2.3-.7-1-1.1zM227.2 315l1 1.1 2.4-.8-1.1-1zM224.8 315.8l1.1 1 2.3-.7-1-1.1zM222.5 316.5l1.1 1.1 2.3-.8-1.1-1zM220.2 317.3l1 1.1 2.4-.8-1.1-1.1zM217.8 318l1.1 1.1 2.3-.7-1-1.1zM215.5 318.8l1 1.1 2.4-.8-1.1-1.1zM213.1 319.6l1.1 1 2.3-.7-1-1.1zM210.8 320.3l1 1.1 2.4-.8-1.1-1zM208.4 321.1l1.1 1 2.3-.7-1-1.1zM206.1 321.8l1 1.1 2.4-.8-1.1-1zM203.7 322.6l1.1 1.1 2.3-.8-1-1.1zM163.9 335.5l1 1 2.4-.7-1.1-1.1zM161.5 336.2l1.1 1.1 2.3-.8-1-1zM159.2 337l1 1 2.4-.7-1.1-1.1z"/></g>
<path fill="none" stroke-width="0.8" d=""/>
<g stroke-width="0.4"><path fill="#0010ff" d="M392.4 255.1l1 1 2.4-.2-1.1-1zM390 255.2l1.1 1 2.3-.1-1-1z"/><path fill="#0020ff" d="M387.7 255.3l1.1 1 2.3-.1-1.1-1zM385.4 255.3l1 1 2.4 0-1.1-1zM383 255.4l1.1 1 2.3-.1-1-1zM380.7 255.4l1 1 2.4 0-1.1-1z"/><path fill="#0030ff" d="M378.3 255.5l1.1 1 2.3-.1-1-1zM376 255.5l1 1 2.4 0-1.1-1zM373.6 255.5l1.1 1 2.3 0-1-1zM371.3 255.4l1 1 2.4 .1-1.1-1z"/><path fill="#0040ff" d="M368.9 255.4l1.1 1 2.3 0-1-1zM366.6 255.4l1 1 2.4 0-1.1-1zM364.3 255.3l1 1 2.3 .1-1-1zM361.9 255.2l1.1 1 2.3 .1-1-1z"/><path fill="#0050ff" d="M359.6 255.1l1 1 2.4 .1-1.1-1zM357.2 254.9l1.1 1 2.3 .2-1-1zM354.9 254.6l1 1 2.4 .3-1.1-1z"/><path fill="#0060ff" d="M352.5 254.2l1.1 1 2.3 .4-1-1zM350.2 253.5l1 1 2.4 .7-1.1-1z"/><path fill="#0070ff" d="M347.8 252.8l1.1 .9 2.3 .8-1-1zM345.5 252.2l1 1 2.4 .5-1.1-.9zM343.1 251.9l1.1 1 2.3 .3-1-1z"/><path fill="#0080ff" d="M340.8 252.1l1.1 1 2.3-.2-1.1-1zM338.5 252.5l1 1 2.4-.4-1.1-1zM336.1 253l1.1 1 2.3-.5-1-1zM333.8 253.5l1 1 2.4-.5-1.1-1zM331.4 254l1.1 1 2.3-.5-1-1zM329.1 254.6l1 1 2.4-.6-1.1-1zM326.7 255.3l1.1 1 2.3-.7-1-1zM324.4 256.1l1 1 2.4-.8-1.1-1zM322 256.9l1.1 1 2.3-.8-1-1zM319.7 257.8l1 1 2.4-.9-1.1-1zM317.4 258.9l1 .9 2.3-1-1-1zM315 259.9l1.1 1 2.3-1.1-1-.9zM312.7 261.1l1 1 2.4-1.2-1.1-1zM310.3 262.3l1.1 1 2.3-1.2-1-1zM308 263.6l1 1 2.4-1.3-1.1-1z"/><path fill="#0070ff" d="M305.6 264.9l1.1 1 2.3-1.3-1-1zM303.3 266.5l1 1 2.4-1.6-1.1-1zM300.9 268.6l1.1 1 2.3-2.1-1-1z"/><path fill="#0060ff" d="M298.6 271.1l1 1 2.4-2.5-1.1-1zM296.2 273.8l1.1 1 2.3-2.7-1-1z"/><path fill="#0050ff" d="M293.9 276.7l1.1 1 2.3-2.9-1.1-1z"/><path fill="#0040ff" d="M291.6 279.6l1 1 2.4-2.9-1.1-1zM289.2 282.6l1.1 1 2.3-3-1-1z"/><path fill="#0030ff" d="M286.9 285.7l1 1 2.4-3.1-1.1-1z"/><path fill="#0020ff" d="M284.5 289.1l1.1 1 2.3-3.4-1-1z"/><path fill="#0010ff" d="M282.2 292.6l1 1 2.4-3.5-1.1-1z"/><path fill="#00f" d="M279.8 296.3l1.1 1 2.3-3.7-1-1z"/><path fill="#0000ef" d="M277.5 300l1 1 2.4-3.7-1.1-1zM240 312.3l1 1.1 2.4-.8-1.1-1zM237.6 313.1l1.1 1 2.3-.7-1-1.1zM235.3 313.8l1 1.1 2.4-.8-1.1-1zM232.9 314.6l1.1 1.1 2.3-.8-1-1.1zM230.6 315.3l1 1.1 2.4-.7-1.1-1.1zM228.2 316.1l1.1 1.1 2.3-.8-1-1.1zM225.9 316.8l1 1.1 2.4-.7-1.1-1.1zM223.6 317.6l1 1.1 2.3-.8-1-1.1zM221.2 318.4l1.1 1 2.3-.7-1-1.1zM218.9 319.1l1 1.1 2.4-.8-1.1-1zM216.5 319.9l1.1 1.1 2.3-.8-1-1.1zM214.2 320.6l1 1.1 2.4-.7-1.1-1.1zM211.8 321.4l1.1 1.1 2.3-.8-1-1.1zM209.5 322.1l1 1.1 2.4-.7-1.1-1.1zM207.1 322.9l1.1 1.1 2.3-.8-1-1.1zM162.6 337.3l1 1.1 2.4-.8-1.1-1.1zM160.2 338l1.1 1.1 2.3-.7-1-1.1z"/></g>
<path fill="none" stroke-width="0.8" d=""/>
<g stroke-width="0.4"><path fill="#0010ff" d="M393.4 256.1l1.1 1 2.3-.2-1-1zM391.1 256.2l1 1 2.4-.1-1.1-1zM388.8 256.3l1 1 2.3-.1-1-1z"/><path fill="#0020ff" d="M386.4 256.3l1.1 1 2.3 0-1-1zM384.1 256.4l1 1 2.4-.1-1.1-1zM381.7 256.4l1.1 1 2.3 0-1-1zM379.4 256.5l1 .9 2.4 0-1.1-1z"/><path fill="#0030ff" d="M377 256.5l1.1 .9 2.3 0-1-.9zM374.7 256.5l1 .9 2.4 0-1.1-.9zM372.3 256.4l1.1 1 2.3 0-1-.9zM370 256.4l1 1 2.4 0-1.1-1z"/><path fill="#0040ff" d="M367.6 256.4l1.1 1 2.3 0-1-1zM365.3 256.3l1.1 1 2.3 .1-1.1-1zM363 256.2l1 1 2.4 .1-1.1-1z"/><path fill="#0050ff" d="M360.6 256.1l1.1 .9 2.3 .2-1-1zM358.3 255.9l1 1 2.4 .1-1.1-.9zM355.9 255.6l1.1 1 2.3 .3-1-1z"/><path fill="#0060ff" d="M353.6 255.2l1 .9 2.4 .5-1.1-1zM351.2 254.5l1.1 1 2.3 .6-1-.9zM348.9 253.7l1 1 2.4 .8-1.1-1z"/><path fill="#0070ff" d="M346.5 253.2l1.1 1 2.3 .5-1-1zM344.2 252.9l1 1 2.4 .3-1.1-1z"/><path fill="#0080ff" d="M341.9 253.1l1 1 2.3-.2-1-1zM339.5 253.5l1.1 1 2.3-.4-1-1zM337.2 254l1 1 2.4-.5-1.1-1zM334.8 254.5l1.1 1 2.3-.5-1-1zM332.5 255l1 1 2.4-.5-1.1-1zM330.1 255.6l1.1 1 2.3-.6-1-1zM327.8 256.3l1 1 2.4-.7-1.1-1zM325.4 257.1l1.1 .9 2.3-.7-1-1zM323.1 257.9l1 1 2.4-.9-1.1-.9zM320.7 258.8l1.1 1 2.3-.9-1-1zM318.4 259.8l1.1 1 2.3-1-1.1-1zM316.1 260.9l1 1 2.4-1.1-1.1-1zM313.7 262.1l1.1 1 2.3-1.2-1-1zM311.4 263.3l1 1 2.4-1.2-1.1-1z"/><path fill="#0070ff" d="M309 264.6l1.1 1 2.3-1.3-1-1zM306.7 265.9l1 1 2.4-1.3-1.1-1zM304.3 267.5l1.1 1 2.3-1.6-1-1zM302 269.6l1 1 2.4-2.1-1.1-1z"/><path fill="#0060ff" d="M299.6 272.1l1.1 1 2.3-2.5-1-1zM297.3 274.8l1 1 2.4-2.7-1.1-1z"/><path fill="#0050ff" d="M295 277.7l1 1 2.3-2.9-1-1z"/><path fill="#0040ff" d="M292.6 280.6l1.1 1 2.3-2.9-1-1z"/><path fill="#0030ff" d="M290.3 283.6l1 .9 2.4-2.9-1.1-1zM287.9 286.7l1.1 1 2.3-3.2-1-.9z"/><path fill="#0020ff" d="M285.6 290.1l1 1 2.4-3.4-1.1-1z"/><path fill="#0010ff" d="M283.2 293.6l1.1 1 2.3-3.5-1-1z"/><path fill="#00f" d="M280.9 297.3l1 .9 2.4-3.6-1.1-1z"/><path fill="#0000df" d="M229.3 317.2l1 1 2.4-.7-1.1-1.1zM226.9 317.9l1.1 1.1 2.3-.8-1-1zM224.6 318.7l1.1 1.1 2.3-.8-1.1-1.1zM222.3 319.4l1 1.1 2.4-.7-1.1-1.1zM219.9 320.2l1.1 1.1 2.3-.8-1-1.1zM217.6 321l1 1 2.4-.7-1.1-1.1zM215.2 321.7l1.1 1.1 2.3-.8-1-1zM212.9 322.5l1 1 2.4-.7-1.1-1.1zM210.5 323.2l1.1 1.1 2.3-.8-1-1zM163.6 338.4l1.1 1 2.3-.7-1-1.1zM161.3 339.1l1 1.1 2.4-.8-1.1-1z"/></g>
<path fill="none" stroke-width="0.8" d=""/>
<g stroke-width="0.4"><path fill="#0010ff" d="M394.5 257.1l1 .9 2.4-.1-1.1-1zM392.1 257.2l1.1 1 2.3-.2-1-.9zM389.8 257.3l1 .9 2.4 0-1.1-1z"/><path fill="#0020ff" d="M387.5 257.3l1 1 2.3-.1-1-.9zM385.1 257.4l1.1 1 2.3-.1-1-1zM382.8 257.4l1 1 2.4 0-1.1-1zM380.4 257.4l1.1 1 2.3 0-1-1z"/><path fill="#0030ff" d="M378.1 257.4l1 1 2.4 0-1.1-1zM375.7 257.4l1.1 1 2.3 0-1-1zM373.4 257.4l1 1 2.4 0-1.1-1zM371 257.4l1.1 1 2.3 0-1-1z"/><path fill="#0040ff" d="M368.7 257.4l1 .9 2.4 .1-1.1-1zM366.4 257.3l1 1 2.3 0-1-.9zM364 257.2l1.1 1 2.3 .1-1-1zM361.7 257l1 1 2.4 .2-1.1-1z"/><path fill="#0050ff" d="M359.3 256.9l1.1 1 2.3 .1-1-1zM357 256.6l1 1 2.4 .3-1.1-1zM354.6 256.1l1.1 1 2.3 .5-1-1z"/><path fill="#0060ff" d="M352.3 255.5l1 .9 2.4 .7-1.1-1zM349.9 254.7l1.1 1 2.3 .7-1-.9z"/><path fill="#0070ff" d="M347.6 254.2l1 .9 2.4 .6-1.1-1zM345.2 253.9l1.1 1 2.3 .2-1-.9zM342.9 254.1l1 1 2.4-.2-1.1-1z"/><path fill="#0080ff" d="M340.6 254.5l1 1 2.3-.4-1-1zM338.2 255l1.1 1 2.3-.5-1-1zM335.9 255.5l1 1 2.4-.5-1.1-1zM333.5 256l1.1 1 2.3-.5-1-1zM331.2 256.6l1 1 2.4-.6-1.1-1zM328.8 257.3l1.1 1 2.3-.7-1-1zM326.5 258l1 1 2.4-.7-1.1-1zM324.1 258.9l1.1 1 2.3-.9-1-1zM321.8 259.8l1 1 2.4-.9-1.1-1zM319.5 260.8l1 1 2.3-1-1-1zM317.1 261.9l1.1 1 2.3-1.1-1-1zM314.8 263.1l1 1 2.4-1.2-1.1-1z"/><path fill="#0070ff" d="M312.4 264.3l1.1 1 2.3-1.2-1-1zM310.1 265.6l1 1 2.4-1.3-1.1-1zM307.7 266.9l1.1 1 2.3-1.3-1-1zM305.4 268.5l1 1 2.4-1.6-1.1-1zM303 270.6l1.1 1 2.3-2.1-1-1z"/><path fill="#0060ff" d="M300.7 273.1l1 1 2.4-2.5-1.1-1z"/><path fill="#0050ff" d="M298.3 275.8l1.1 1 2.3-2.7-1-1zM296 278.7l1 1 2.4-2.9-1.1-1z"/><path fill="#0040ff" d="M293.7 281.6l1 1 2.3-2.9-1-1z"/><path fill="#0030ff" d="M291.3 284.5l1.1 1 2.3-2.9-1-1zM289 287.7l1 1 2.4-3.2-1.1-1z"/><path fill="#0020ff" d="M286.6 291.1l1.1 1 2.3-3.4-1-1z"/><path fill="#0010ff" d="M284.3 294.6l1 1 2.4-3.5-1.1-1z"/><path fill="#00f" d="M281.9 298.2l1.1 1 2.3-3.6-1-1z"/><path fill="#0000df" d="M223.3 320.5l1.1 1.1 2.3-.8-1-1zM221 321.3l1 1 2.4-.7-1.1-1.1zM218.6 322l1.1 1.1 2.3-.8-1-1zM216.3 322.8l1 1.1 2.4-.8-1.1-1.1zM213.9 323.5l1.1 1.1 2.3-.7-1-1.1zM162.3 340.2l1.1 1.1 2.3-.8-1-1.1z"/></g>
<path fill="none" stroke-width="0.8" d=""/>
<g stroke-width="0.4"><path fill="#0010ff" d="M395.5 258l1.1 1 2.3-.1-1-1zM393.2 258.2l1 .9 2.4-.1-1.1-1zM390.8 258.2l1.1 1 2.3-.1-1-.9zM388.5 258.3l1.1 1 2.3-.1-1.1-1z"/><path fill="#0020ff" d="M386.2 258.4l1 1 2.4-.1-1.1-1zM383.8 258.4l1.1 1 2.3 0-1-1zM381.5 258.4l1 1 2.4 0-1.1-1zM379.1 258.4l1.1 1 2.3 0-1-1z"/><path fill="#0030ff" d="M376.8 258.4l1 1 2.4 0-1.1-1zM374.4 258.4l1.1 1 2.3 0-1-1zM372.1 258.4l1 1 2.4 0-1.1-1zM369.7 258.3l1.1 1 2.3 .1-1-1z"/><path fill="#0040ff" d="M367.4 258.3l1 1 2.4 0-1.1-1zM365.1 258.2l1 1 2.3 .1-1-1zM362.7 258l1.1 1 2.3 .2-1-1z"/><path fill="#0050ff" d="M360.4 257.9l1 .9 2.4 .2-1.1-1zM358 257.6l1.1 1 2.3 .2-1-.9zM355.7 257.1l1 1 2.4 .5-1.1-1z"/><path fill="#0060ff" d="M353.3 256.4l1.1 1 2.3 .7-1-1zM351 255.7l1 1 2.4 .7-1.1-1z"/><path fill="#0070ff" d="M348.6 255.1l1.1 1 2.3 .6-1-1zM346.3 254.9l1 1 2.4 .2-1.1-1zM343.9 255.1l1.1 1 2.3-.2-1-1zM341.6 255.5l1.1 1 2.3-.4-1.1-1z"/><path fill="#0080ff" d="M339.3 256l1 .9 2.4-.4-1.1-1zM336.9 256.5l1.1 .9 2.3-.5-1-.9zM334.6 257l1 1 2.4-.6-1.1-.9zM332.2 257.6l1.1 1 2.3-.6-1-1zM329.9 258.3l1 1 2.4-.7-1.1-1zM327.5 259l1.1 1 2.3-.7-1-1zM325.2 259.9l1 1 2.4-.9-1.1-1zM322.8 260.8l1.1 1 2.3-.9-1-1zM320.5 261.8l1 1 2.4-1-1.1-1zM318.2 262.9l1 1 2.3-1.1-1-1z"/><path fill="#0070ff" d="M315.8 264.1l1.1 1 2.3-1.2-1-1zM313.5 265.3l1 1 2.4-1.2-1.1-1zM311.1 266.6l1.1 1 2.3-1.3-1-1zM308.8 267.9l1 1 2.4-1.3-1.1-1zM306.4 269.5l1.1 1 2.3-1.6-1-1z"/><path fill="#0060ff" d="M304.1 271.6l1 1 2.4-2.1-1.1-1zM301.7 274.1l1.1 1 2.3-2.5-1-1z"/><path fill="#0050ff" d="M299.4 276.8l1 1 2.4-2.7-1.1-1zM297 279.7l1.1 1 2.3-2.9-1-1z"/><path fill="#0040ff" d="M294.7 282.6l1.1 1 2.3-2.9-1.1-1z"/><path fill="#0030ff" d="M292.4 285.5l1 1 2.4-2.9-1.1-1z"/><path fill="#0020ff" d="M290 288.7l1.1 1 2.3-3.2-1-1zM287.7 292.1l1 1 2.4-3.4-1.1-1z"/><path fill="#0010ff" d="M285.3 295.6l1.1 1 2.3-3.5-1-1z"/><path fill="#0000ef" d="M168.1 339.8l1-3.9 2.4 4.2-1.1-1.1z"/><path fill="#00f" d="M165.7 340.5l1.1-4.2 2.3-.4-1 3.9zM163.4 341.3l1-4.8 2.4-.2-1.1 4.2z"/></g>
<path fill="none" stroke-width="0.8" d="M163.4 341.3l2.3-.8 2.4-.7M164.4 336.5l2.4-.2 2.3-.4"/>
<g stroke-width="0.4"><path fill="#00f" d="M396.6 259l1 2.3 2.4-.2-1.1-2.2zM394.2 259.1l1.1 2.4 2.3-.2-1-2.3z"/><path fill="#0010ff" d="M391.9 259.2l1 2.4 2.4-.1-1.1-2.4zM389.6 259.3l1 2.4 2.3-.1-1-2.4zM387.2 259.4l1.1 2.4 2.3-.1-1-2.4zM384.9 259.4l1 2.5 2.4-.1-1.1-2.4z"/><path fill="#0020ff" d="M382.5 259.4l1.1 2.5 2.3 0-1-2.5zM380.2 259.4l1 2.6 2.4-.1-1.1-2.5zM377.8 259.4l1.1 2.6 2.3 0-1-2.6zM375.5 259.4l1 2.7 2.4-.1-1.1-2.6z"/><path fill="#0030ff" d="M370.8 259.3l1 2.8 2.4 0-1.1-2.7zM368.4 259.3l1.1 2.8 2.3 0-1-2.8zM366.1 259.2l1.1 2.8 2.3 .1-1.1-2.8zM363.8 259l1 2.9 2.4 .1-1.1-2.8z"/><path fill="#0040ff" d="M361.4 258.8l1.1 3 2.3 .1-1-2.9zM359.1 258.6l1 3 2.4 .2-1.1-3zM356.7 258.1l1.1 3.1 2.3 .4-1-3z"/><path fill="#0050ff" d="M354.4 257.4l1 3.2 2.4 .6-1.1-3.1zM352 256.7l1.1 3.3 2.3 .6-1-3.2z"/><path fill="#0060ff" d="M349.7 256.1l1 3.4 2.4 .5-1.1-3.3zM347.3 255.9l1.1 3.4 2.3 .2-1-3.4zM345 256.1l1 3.4 2.4-.2-1.1-3.4zM342.7 256.5l1 3.5 2.3-.5-1-3.4z"/><path fill="#0070ff" d="M340.3 256.9l1.1 3.5 2.3-.4-1-3.5zM338 257.4l1 3.6 2.4-.6-1.1-3.5zM335.6 258l1.1 3.5 2.3-.5-1-3.6zM333.3 258.6l1 3.5 2.4-.6-1.1-3.5zM330.9 259.3l1.1 3.5 2.3-.7-1-3.5zM328.6 260l1 3.6 2.4-.8-1.1-3.5zM326.2 260.9l1.1 3.5 2.3-.8-1-3.6zM323.9 261.8l1 3.5 2.4-.9-1.1-3.5zM321.5 262.8l1.1 3.5 2.3-1-1-3.5zM319.2 263.9l1.1 3.5 2.3-1.1-1.1-3.5zM316.9 265.1l1 3.4 2.4-1.1-1.1-3.5z"/><path fill="#0060ff" d="M314.5 266.3l1.1 3.4 2.3-1.2-1-3.4zM312.2 267.6l1 3.4 2.4-1.3-1.1-3.4zM309.8 268.9l1.1 3.3 2.3-1.2-1-3.4zM307.5 270.5l1 3.3 2.4-1.6-1.1-3.3zM305.1 272.6l1.1 3.2 2.3-2-1-3.3z"/><path fill="#0050ff" d="M302.8 275.1l1 3.1 2.4-2.4-1.1-3.2z"/><path fill="#0040ff" d="M300.4 277.8l1.1 3 2.3-2.6-1-3.1zM298.1 280.7l1 2.9 2.4-2.8-1.1-3z"/><path fill="#0030ff" d="M295.8 283.6l1 2.7 2.3-2.7-1-2.9z"/><path fill="#0020ff" d="M293.4 286.5l1.1 2.7 2.3-2.9-1-2.7zM291.1 289.7l1 2.5 2.4-3-1.1-2.7z"/><path fill="#0010ff" d="M288.7 293.1l1.1 2.3 2.3-3.2-1-2.5z"/><path fill="#00f" d="M169.1 335.9l1.1-4.5 2.3 9.7-1-1z"/><path fill="#0020ff" d="M166.8 336.3l1-5 2.4 .1-1.1 4.5zM164.4 336.5l1.1-5.6 2.3 .4-1 5z"/></g>
<path fill="none" stroke-width="0.8" d="M164.4 336.5l2.4-.2 2.3-.4M321.5 262.8l2.4-1 2.3-.9 2.4-.9 2.3-.7 2.4-.7 2.3-.6 2.4-.6M165.5 330.9l2.3 .4 2.4 .1M322.6 266.3l2.3-1 2.4-.9 2.3-.8 2.4-.8 2.3-.7 2.4-.6 2.3-.5"/>
<g stroke-width="0.3"><path fill="#0030ff" d="M362.5 261.8l.9 4.2 2.3 0-.9-4.1zM360.1 261.6l.9 4.3 2.4 .1-.9-4.2zM357.8 261.2l.9 4.4 2.3 .3-.9-4.3z"/><path fill="#0040ff" d="M355.4 260.6l.9 4.6 2.4 .4-.9-4.4zM353.1 260l.9 4.7 2.3 .5-.9-4.6z"/><path fill="#0050ff" d="M350.7 259.5l.9 4.8 2.4 .4-.9-4.7zM348.4 259.3l.9 4.9 2.3 .1-.9-4.8zM346 259.5l1 5 2.3-.3-.9-4.9zM343.7 260l.9 5 2.4-.5-1-5zM341.4 260.4l.9 5.1 2.3-.5-.9-5zM339 261l.9 5 2.4-.5-.9-5.1z"/><path fill="#0060ff" d="M336.7 261.5l.9 5.1 2.3-.6-.9-5zM334.3 262.1l.9 5.1 2.4-.6-.9-5.1zM332 262.8l.9 5.1 2.3-.7-.9-5.1zM329.6 263.6l.9 5.1 2.4-.8-.9-5.1zM327.3 264.4l.9 5.1 2.3-.8-.9-5.1zM324.9 265.3l1 5.1 2.3-.9-.9-5.1zM322.6 266.3l.9 5.1 2.4-1-1-5.1z"/><path fill="#0050ff" d="M320.3 267.4l.9 5 2.3-1-.9-5.1zM317.9 268.5l.9 5 2.4-1.1-.9-5zM315.6 269.7l.9 5 2.3-1.2-.9-5zM313.2 271l.9 4.9 2.4-1.2-.9-5zM310.9 272.2l.9 4.9 2.3-1.2-.9-4.9zM308.5 273.8l.9 4.7 2.4-1.4-.9-4.9z"/><path fill="#0040ff" d="M306.2 275.8l.9 4.6 2.3-1.9-.9-4.7zM303.8 278.2l.9 4.4 2.4-2.2-.9-4.6z"/><path fill="#0030ff" d="M301.5 280.8l.9 4.3 2.3-2.5-.9-4.4zM299.1 283.6l1 4 2.3-2.5-.9-4.3z"/><path fill="#0020ff" d="M296.8 286.3l.9 3.9 2.4-2.6-1-4zM294.5 289.2l.9 3.6 2.3-2.6-.9-3.9z"/><path fill="#00f" d="M170.2 331.4l.9-4.1 2.3 14-.9-.2z"/><path fill="#0030ff" d="M167.8 331.3l.9-4.4 2.4 .4-.9 4.1zM165.5 330.9l.9-4.9 2.3 .9-.9 4.4z"/></g>
<path fill="none" stroke-width="0.45" d="M165.5 330.9l2.3 .4 2.4 .1M294.5 289.2l2.3-2.9 2.3-2.7 2.4-2.8 2.3-2.6 2.4-2.4 2.3-2 2.4-1.6 2.3-1.2 2.4-1.3 2.3-1.2 2.4-1.1 2.3-1.1 2.3-1 2.4-.9 2.3-.8 2.4-.8 2.3-.7 2.4-.6 2.3-.5 2.4-.6 2.3-.4 2.3-.5 2.4-.2 2.3 .2 2.4 .5 2.3 .6 2.4 .6 2.3 .4 2.4 .2 2.3 .1M166.4 326l2.3 .9 2.4 .4M295.4 292.8l2.3-2.6 2.4-2.6 2.3-2.5 2.3-2.5 2.4-2.2 2.3-1.9 2.4-1.4 2.3-1.2 2.4-1.2 2.3-1.2 2.4-1.1 2.3-1 2.4-1 2.3-.9 2.3-.8 2.4-.8 2.3-.7 2.4-.6 2.3-.6 2.4-.5 2.3-.5 2.4-.5 2.3-.3 2.3 .1 2.4 .4 2.3 .5 2.4 .4 2.3 .3 2.4 .1 2.3 0"/>
<g stroke-width="0.3"><path fill="#0030ff" d="M354 264.7l.9 4.7 2.3 .3-.9-4.5zM351.6 264.3l1 4.9 2.3 .2-.9-4.7zM349.3 264.2l.9 5 2.4 0-1-4.9z"/><path fill="#0040ff" d="M347 264.5l.9 5 2.3-.3-.9-5zM344.6 265l.9 5 2.4-.5-.9-5zM342.3 265.5l.9 5 2.3-.5-.9-5zM339.9 266l.9 5.1 2.4-.6-.9-5zM337.6 266.6l.9 5.1 2.3-.6-.9-5.1zM335.2 267.2l.9 5.1 2.4-.6-.9-5.1zM332.9 267.9l.9 5.1 2.3-.7-.9-5.1zM330.5 268.7l.9 5.1 2.4-.8-.9-5.1zM328.2 269.5l.9 5.1 2.3-.8-.9-5.1zM325.9 270.4l.9 5.1 2.3-.9-.9-5.1zM323.5 271.4l.9 5.1 2.4-1-.9-5.1zM321.2 272.4l.9 5.1 2.3-1-.9-5.1zM318.8 273.5l.9 5 2.4-1-.9-5.1zM316.5 274.7l.9 4.9 2.3-1.1-.9-5zM314.1 275.9l.9 4.9 2.4-1.2-.9-4.9z"/><path fill="#0030ff" d="M311.8 277.1l.9 4.8 2.3-1.1-.9-4.9zM309.4 278.5l.9 4.8 2.4-1.4-.9-4.8zM307.1 280.4l.9 4.6 2.3-1.7-.9-4.8zM304.7 282.6l1 4.5 2.3-2.1-.9-4.6z"/><path fill="#0020ff" d="M302.4 285.1l.9 4.2 2.4-2.2-1-4.5z"/><path fill="#0000df" d="M173.4 341.3l.9-3.7 2.4 4.6-.9-.9z"/><path fill="#0020ff" d="M171.1 327.3l.9-4.1 2.3 14.4-.9 3.7z"/><path fill="#0040ff" d="M168.7 326.9l.9-4.5 2.4 .8-.9 4.1z"/><path fill="#0050ff" d="M166.4 326l.9-5.1 2.3 1.5-.9 4.5z"/></g>
<path fill="none" stroke-width="0.45" d="M166.4 326l2.3 .9 2.4 .4M302.4 285.1l2.3-2.5 2.4-2.2 2.3-1.9 2.4-1.4 2.3-1.2 2.4-1.2 2.3-1.2 2.4-1.1 2.3-1 2.4-1 2.3-.9 2.3-.8 2.4-.8 2.3-.7 2.4-.6 2.3-.6 2.4-.5 2.3-.5 2.4-.5 2.3-.3 2.3 .1 2.4 .4 2.3 .5M167.3 320.9l2.3 1.5 2.4 .8M303.3 289.3l2.4-2.2 2.3-2.1 2.3-1.7 2.4-1.4 2.3-1.1 2.4-1.2 2.3-1.1 2.4-1 2.3-1 2.4-1 2.3-.9 2.3-.8 2.4-.8 2.3-.7 2.4-.6 2.3-.6 2.4-.6 2.3-.5 2.4-.5 2.3-.3 2.4 0 2.3 .2 2.3 .3"/>
<g stroke-width="0.3"><path fill="#0020ff" d="M347.9 269.5l.9 5 2.3-.4-.9-4.9zM345.5 270l.9 5 2.4-.5-.9-5zM343.2 270.5l.9 5.1 2.3-.6-.9-5zM340.8 271.1l.9 5.1 2.4-.6-.9-5.1zM338.5 271.7l.9 5.1 2.3-.6-.9-5.1z"/><path fill="#0030ff" d="M336.1 272.3l.9 5.2 2.4-.7-.9-5.1zM333.8 273l.9 5.2 2.3-.7-.9-5.2zM331.4 273.8l1 5.1 2.3-.7-.9-5.2zM329.1 274.6l.9 5.1 2.4-.8-1-5.1zM326.8 275.5l.9 5.1 2.3-.9-.9-5.1z"/><path fill="#0020ff" d="M324.4 276.5l.9 5 2.4-.9-.9-5.1zM322.1 277.5l.9 5 2.3-1-.9-5zM319.7 278.5l.9 5 2.4-1-.9-5zM317.4 279.6l.9 5 2.3-1.1-.9-5zM315 280.8l.9 4.8 2.4-1-.9-5z"/><path fill="#0000ef" d="M174.3 337.6l.9-3.9 2.4 9.5-.9-1z"/><path fill="#0030ff" d="M172 323.2l.9-4.3 2.3 14.8-.9 3.9z"/><path fill="#0060ff" d="M169.6 322.4l1-4.6 2.3 1.1-.9 4.3z"/><path fill="#0070ff" d="M167.3 320.9l.9-5.2 2.4 2.1-1 4.6z"/></g>
<path fill="none" stroke-width="0.45" d="M167.3 320.9l2.3 1.5 2.4 .8M315 280.8l2.4-1.2 2.3-1.1 2.4-1 2.3-1 2.4-1 2.3-.9 2.3-.8 2.4-.8 2.3-.7 2.4-.6 2.3-.6 2.4-.6 2.3-.5 2.4-.5 2.3-.3M168.2 315.7l2.4 2.1 2.3 1.1M315.9 285.6l2.4-1 2.3-1.1 2.4-1 2.3-1 2.4-.9 2.3-.9 2.4-.8 2.3-.7 2.3-.7 2.4-.7 2.3-.6 2.4-.6 2.3-.6 2.4-.5 2.3-.4"/>
<g stroke-width="0.3"><path fill="#00f" d="M175.2 333.7l.9-3.9 2.4 14.3-.9-.9z"/><path fill="#0050ff" d="M172.9 318.9l.9-4.4 2.3 15.3-.9 3.9z"/><path fill="#0080ff" d="M170.6 317.8l.9-4.8 2.3 1.5-.9 4.4z"/><path fill="#008fff" d="M168.2 315.7l.9-5.3 2.4 2.6-.9 4.8z"/></g>
<path fill="none" stroke-width="0.45" d="M168.2 315.7l2.4 2.1 2.3 1.1M169.1 310.4l2.4 2.6 2.3 1.5"/>
<g stroke-width="0.3"><path fill="#0010ff" d="M176.1 329.8l1-4 2.3 15.7-.9 2.6z"/><path fill="#008fff" d="M171.5 313l.9-4.8 2.3 1.8-.9 4.5z"/><path fill="#009fff" d="M169.1 310.4l.9-5.3 2.4 3.1-.9 4.8z"/></g>
<path fill="none" stroke-width="0.45" d="M169.1 310.4l2.4 2.6 2.3 1.5M170 305.1l2.4 3.1 2.3 1.8"/>
<g stroke-width="0.3"><path fill="#00bfff" d="M170 305.1l.9-4.2 2.4 3.6-.9 3.7z"/></g>
<path fill="none" stroke-width="0.45" d="M170 305.1l2.4 3.1M170.9 300.9l2.4 3.6"/>
<g stroke-width="0.3"><path fill="#00bfff" d="M170.9 300.9l.9 .7 2.4 3.4-.9-.5z"/></g>
<path fill="none" stroke-width="0.45" d=""/>
<g stroke-width="0.3"><path fill="#00afff" d="M171.8 301.6l.9 8 2.4-4.1-.9-.5z"/></g>
<path fill="none" stroke-width="0.45" d=""/>
<g stroke-width="0.3"><path fill="#009fff" d="M172.7 309.6l1 7.1 2.3-10.7-.9-.5z"/></g>
<path fill="none" stroke-width="0.45" d=""/>
<g stroke-width="0.3"><path fill="#009fff" d="M178.3 308.1l1 .5 2.3 1.5-.9-.5z"/><path fill="#00afff" d="M176 306l.9 2.9 2.4-.3-1-.5z"/><path fill="#008fff" d="M173.7 316.7l.9 6.3 2.3-14.1-.9-2.9z"/></g>
<path fill="none" stroke-width="0.45" d=""/>
<g stroke-width="0.3"><path fill="#009fff" d="M176.9 308.9l.9 7 2.4-6.9-.9-.4z"/><path fill="#0070ff" d="M174.6 323l.9 5.6 2.3-12.7-.9-7z"/></g>
<path fill="none" stroke-width="0.45" d=""/>
<g stroke-width="0.3"><path fill="#009fff" d="M180.2 309l.9 .5 2.3 1.6-.9-.5z"/><path fill="#008fff" d="M177.8 315.9l.9 6.3 2.4-12.7-.9-.5z"/><path fill="#0050ff" d="M175.5 328.6l.9 5 2.3-11.4-.9-6.3z"/></g>
<path fill="none" stroke-width="0.45" d=""/>
<g stroke-width="0.3"><path fill="#009fff" d="M181.1 309.5l.9 5.7 2.3-3.6-.9-.5z"/><path fill="#0070ff" d="M178.7 322.2l.9 5.6 2.4-12.6-.9-5.7z"/><path fill="#0040ff" d="M176.4 333.6l.9 4.5 2.3-10.3-.9-5.6z"/></g>
<path fill="none" stroke-width="0.45" d=""/>
<g stroke-width="0.3"><path fill="#009fff" d="M184.3 311.6l.9 .5 2.4 1.1-.9-.5z"/><path fill="#008fff" d="M182 315.2l.9 6.2 2.3-9.3-.9-.5z"/><path fill="#0060ff" d="M179.6 327.8l.9 5 2.4-11.4-.9-6.2z"/><path fill="#0020ff" d="M177.3 338.1l.9 4.1 2.3-9.4-.9-5z"/></g>
<path fill="none" stroke-width="0.45" d=""/>
<g stroke-width="0.3"><path fill="#008fff" d="M185.2 312.1l.9 3.7 2.4-2.1-.9-.5z"/><path fill="#0070ff" d="M182.9 321.4l.9 5.7 2.3-11.3-.9-3.7z"/><path fill="#0040ff" d="M180.5 332.8l.9 4.5 2.4-10.2-.9-5.7z"/><path fill="#0010ff" d="M178.2 342.2l.9 3.6 2.3-8.5-.9-4.5z"/></g>
<path fill="none" stroke-width="0.45" d=""/>
<g stroke-width="0.3"><path fill="#0080ff" d="M186.1 315.8l.9 6.1 2.4-7.7-.9-.5z"/><path fill="#0060ff" d="M183.8 327.1l.9 5 2.3-10.2-.9-6.1z"/><path fill="#0030ff" d="M181.4 337.3l1 4.1 2.3-9.3-.9-5z"/><path fill="#00f" d="M179.1 345.8l.9 3.2 2.4-7.6-1-4.1z"/></g>
<path fill="none" stroke-width="0.45" d=""/>
<g stroke-width="0.3"><path fill="#008fff" d="M189.4 314.2l.9 4 2.3-2.6-.9-.5z"/><path fill="#0070ff" d="M187 321.9l1 5.5 2.3-9.2-.9-4z"/><path fill="#0040ff" d="M184.7 332.1l.9 4.6 2.4-9.3-1-5.5z"/><path fill="#0010ff" d="M182.4 341.4l.9 3.7 2.3-8.4-.9-4.6z"/><path fill="#0000ef" d="M180 349l.9 2.9 2.4-6.8-.9-3.7z"/></g>
<path fill="none" stroke-width="0.45" d=""/>
<g stroke-width="0.3"><path fill="#0060ff" d="M286.4 293.8l1 3 2.3-5.2-.9 .5z"/><path fill="#0050ff" d="M284.1 294.8l.9 2.5 2.4-.5-1-3z"/><path fill="#0060ff" d="M281.8 295.8l.9 .5 2.3 1-.9-2.5zM279.4 298.5l.9-1.4 2.4-.8-.9-.5z"/><path fill="#0080ff" d="M190.3 318.2l.9 5.7 2.4-7.8-1-.5z"/><path fill="#0050ff" d="M188 327.4l.9 5 2.3-8.5-.9-5.7z"/><path fill="#0030ff" d="M185.6 336.7l.9 4.2 2.4-8.5-.9-5z"/><path fill="#00f" d="M183.3 345.1l.9 3.3 2.3-7.5-.9-4.2z"/><path fill="#0000df" d="M180.9 351.9l.9 2.6 2.4-6.1-.9-3.3z"/></g>
<path fill="none" stroke-width="0.45" d=""/>
<g stroke-width="0.3"><path fill="#0070ff" d="M289.7 291.6l.9 3.5 2.3-6.6-.9 2.6z"/><path fill="#0050ff" d="M287.4 296.8l.9 6 2.3-7.7-.9-3.5z"/><path fill="#0040ff" d="M285 297.3l.9 6.2 2.4-.7-.9-6zM282.7 296.3l.9 5.8 2.3 1.4-.9-6.2z"/><path fill="#0050ff" d="M280.3 297.1l.9 2.2 2.4 2.8-.9-5.8zM278 298.6l.9-.1 2.3 .8-.9-2.2z"/><path fill="#0060ff" d="M275.6 301.3l.9-2.1 2.4-.7-.9 .1z"/><path fill="#0080ff" d="M193.6 316.1l.9 5.5 2.3-4.1-.9 1.5z"/><path fill="#0060ff" d="M191.2 323.9l.9 5.3 2.4-7.6-.9-5.5z"/><path fill="#0040ff" d="M188.9 332.4l.9 4.6 2.3-7.8-.9-5.3z"/><path fill="#0020ff" d="M186.5 340.9l.9 3.8 2.4-7.7-.9-4.6z"/><path fill="#0000ef" d="M184.2 348.4l.9 3 2.3-6.7-.9-3.8z"/><path fill="#0000df" d="M181.8 354.5l.9 2.4 2.4-5.5-.9-3z"/></g>
<path fill="none" stroke-width="0.45" d="M282.7 296.3l2.3 1 2.4-.5 2.3-5.2M283.6 302.1l2.3 1.4 2.4-.7"/>
<g stroke-width="0.3"><path fill="#0080ff" d="M292.9 288.5l1 1 2.3-2.6-.9 2.6z"/><path fill="#0060ff" d="M290.6 295.1l.9 6 2.4-11.6-1-1z"/><path fill="#0030ff" d="M288.3 302.8l.9 5.6 2.3-7.3-.9-6z"/><path fill="#0020ff" d="M285.9 303.5l.9 5.9 2.4-1-.9-5.6zM283.6 302.1l.9 6.2 2.3 1.1-.9-5.9z"/><path fill="#0030ff" d="M281.2 299.3l.9 6.5 2.4 2.5-.9-6.2z"/><path fill="#0040ff" d="M278.9 298.5l.9 4.3 2.3 3-.9-6.5z"/><path fill="#0050ff" d="M276.5 299.2l.9 1 2.4 2.6-.9-4.3z"/><path fill="#0060ff" d="M274.2 300.6l.9-.2 2.3-.2-.9-1zM271.8 302.8l1-1.8 2.3-.6-.9 .2z"/><path fill="#0070ff" d="M194.5 321.6l.9 5.3 2.3-7.2-.9-2.2z"/><path fill="#0050ff" d="M192.1 329.2l.9 4.9 2.4-7.2-.9-5.3z"/><path fill="#0030ff" d="M189.8 337l.9 4.3 2.3-7.2-.9-4.9z"/><path fill="#00f" d="M187.4 344.7l.9 3.5 2.4-6.9-.9-4.3z"/><path fill="#0000df" d="M185.1 351.4l.9 2.8 2.3-6-.9-3.5z"/><path fill="#0000cf" d="M182.7 356.9l.9 2.2 2.4-4.9-.9-2.8z"/></g>
<path fill="none" stroke-width="0.45" d="M278.9 298.5l2.3 .8 2.4 2.8 2.3 1.4 2.4-.7M279.8 302.8l2.3 3 2.4 2.5 2.3 1.1 2.4-1"/>
<g stroke-width="0.3"><path fill="#0080ff" d="M296.2 286.9l.9 1.2 2.4-2.3-1 1.7z"/><path fill="#0070ff" d="M293.9 289.5l.9 6.4 2.3-7.8-.9-1.2z"/><path fill="#0040ff" d="M291.5 301.1l.9 5.6 2.4-10.8-.9-6.4z"/><path fill="#0010ff" d="M289.2 308.4l.9 5.3 2.3-7-.9-5.6z"/><path fill="#00f" d="M286.8 309.4l.9 5.6 2.4-1.3-.9-5.3zM284.5 308.3l.9 5.8 2.3 .9-.9-5.6z"/><path fill="#0010ff" d="M282.1 305.8l.9 6.2 2.4 2.1-.9-5.8z"/><path fill="#0020ff" d="M279.8 302.8l.9 6.4 2.3 2.8-.9-6.2z"/><path fill="#0030ff" d="M277.4 300.2l.9 6.5 2.4 2.5-.9-6.4z"/><path fill="#0040ff" d="M275.1 300.4l.9 4.3 2.3 2-.9-6.5z"/><path fill="#0050ff" d="M272.8 301l.9 1.5 2.3 2.2-.9-4.3z"/><path fill="#0060ff" d="M270.4 301.8l.9 .2 2.4 .5-.9-1.5zM268.1 303.9l.9-1.4 2.3-.5-.9-.2z"/><path fill="#0070ff" d="M197.7 319.7l.9 5 2.4-5.4-.9-.4z"/><path fill="#0050ff" d="M195.4 326.9l.9 4.9 2.3-7.1-.9-5z"/><path fill="#0030ff" d="M193 334.1l.9 4.5 2.4-6.8-.9-4.9z"/><path fill="#0010ff" d="M190.7 341.3l.9 3.9 2.3-6.6-.9-4.5z"/><path fill="#0000ef" d="M188.3 348.2l.9 3.1 2.4-6.1-.9-3.9z"/><path fill="#0000df" d="M186 354.2l.9 2.5 2.3-5.4-.9-3.1z"/><path fill="#0000be" d="M183.6 359.1l.9 1.9 2.4-4.3-.9-2.5z"/></g>
<path fill="none" stroke-width="0.45" d="M275.1 300.4l2.3-.2 2.4 2.6 2.3 3 2.4 2.5 2.3 1.1 2.4-1M191.6 345.2l2.3-6.6 2.4-6.8M276 304.7l2.3 2 2.4 2.5 2.3 2.8 2.4 2.1 2.3 .9 2.4-1.3"/>
<g stroke-width="0.3"><path fill="#0080ff" d="M299.5 285.8l.9 2.5 2.3-3.4-.9 .4z"/><path fill="#0070ff" d="M297.1 288.1l.9 6.3 2.4-6.1-.9-2.5z"/><path fill="#0050ff" d="M294.8 295.9l.9 6 2.3-7.5-.9-6.3z"/><path fill="#0020ff" d="M292.4 306.7l.9 5.4 2.4-10.2-.9-6z"/><path fill="#00f" d="M290.1 313.7l.9 5.1 2.3-6.7-.9-5.4z"/><path fill="#0000ef" d="M287.7 315l.9 5.2 2.4-1.4-.9-5.1zM285.4 314.1l.9 5.4 2.3 .7-.9-5.2zM283 312l.9 5.7 2.4 1.8-.9-5.4z"/><path fill="#00f" d="M280.7 309.2l.9 6.1 2.3 2.4-.9-5.7z"/><path fill="#0010ff" d="M278.3 306.7l1 6.2 2.3 2.4-.9-6.1z"/><path fill="#0020ff" d="M276 304.7l.9 6.2 2.4 2-1-6.2z"/><path fill="#0030ff" d="M273.7 302.5l.9 6.4 2.3 2-.9-6.2z"/><path fill="#0040ff" d="M271.3 302l.9 4.8 2.4 2.1-.9-6.4z"/><path fill="#0050ff" d="M269 302.5l.9 2.1 2.3 2.2-.9-4.8z"/><path fill="#0060ff" d="M266.6 302.9l.9 .5 2.4 1.2-.9-2.1zM264.3 304.7l.9-1 2.3-.3-.9-.5z"/><path fill="#0070ff" d="M201 319.3l.9 4.3 2.3-3-.9 1.5z"/><path fill="#0060ff" d="M198.6 324.7l.9 4.9 2.4-6-.9-4.3z"/><path fill="#0040ff" d="M196.3 331.8l.9 4.7 2.3-6.9-.9-4.9z"/><path fill="#0020ff" d="M193.9 338.6l.9 4.2 2.4-6.3-.9-4.7z"/><path fill="#00f" d="M191.6 345.2l.9 3.6 2.3-6-.9-4.2z"/><path fill="#0000df" d="M189.2 351.3l.9 3 2.4-5.5-.9-3.6z"/><path fill="#0000cf" d="M186.9 356.7l.9 2.3 2.3-4.7-.9-3z"/><path fill="#0000b5" d="M184.5 361l1 1.8 2.3-3.8-.9-2.3z"/></g>
<path fill="none" stroke-width="0.45" d="M191.6 345.2l2.3-6.6 2.4-6.8M198.6 324.7l2.4-5.4M271.3 302l2.4 .5 2.3 2.2 2.3 2 2.4 2.5 2.3 2.8 2.4 2.1 2.3 .9 2.4-1.3M192.5 348.8l2.3-6 2.4-6.3 2.3-6.9 2.4-6M272.2 306.8l2.4 2.1 2.3 2 2.4 2 2.3 2.4 2.3 2.4 2.4 1.8 2.3 .7 2.4-1.4 2.3-6.7"/>
<g stroke-width="0.3"><path fill="#008fff" d="M305.1 283.5l.9 .5 2.3-1.2-.9 1.5z"/><path fill="#0080ff" d="M302.7 284.9l.9 4.2 2.4-5.1-.9-.5z"/><path fill="#0070ff" d="M300.4 288.3l.9 6.4 2.3-5.6-.9-4.2z"/><path fill="#0050ff" d="M298 294.4l.9 6 2.4-5.7-.9-6.4z"/><path fill="#0030ff" d="M295.7 301.9l.9 5.8 2.3-7.3-.9-6z"/><path fill="#0010ff" d="M293.3 312.1l.9 5.1 2.4-9.5-.9-5.8z"/><path fill="#0000df" d="M291 318.8l.9 4.6 2.3-6.2-.9-5.1z"/><path fill="#0000cf" d="M288.6 320.2l.9 4.9 2.4-1.7-.9-4.6zM286.3 319.5l.9 5.1 2.3 .5-.9-4.9z"/><path fill="#0000df" d="M283.9 317.7l1 5.4 2.3 1.5-.9-5.1z"/><path fill="#0000ef" d="M281.6 315.3l.9 5.6 2.4 2.2-1-5.4z"/><path fill="#00f" d="M279.3 312.9l.9 5.9 2.3 2.1-.9-5.6z"/><path fill="#0010ff" d="M276.9 310.9l.9 6 2.4 1.9-.9-5.9z"/><path fill="#0020ff" d="M274.6 308.9l.9 6.1 2.3 1.9-.9-6zM272.2 306.8l.9 6.3 2.4 1.9-.9-6.1z"/><path fill="#0030ff" d="M269.9 304.6l.9 6.4 2.3 2.1-.9-6.3z"/><path fill="#0040ff" d="M267.5 303.4l.9 5.5 2.4 2.1-.9-6.4z"/><path fill="#0050ff" d="M265.2 303.7l.9 3.1 2.3 2.1-.9-5.5z"/><path fill="#0060ff" d="M262.8 304.1l.9 .6 2.4 2.1-.9-3.1zM260.5 305.3l.9-.3 2.3-.3-.9-.6zM258.2 307.3l.9-1.8 2.3-.5-.9 .3z"/><path fill="#0070ff" d="M204.2 320.6l.9 2.1 2.4-1-.9 2.5z"/><path fill="#0060ff" d="M201.9 323.6l.9 5 2.3-5.9-.9-2.1z"/><path fill="#0040ff" d="M199.5 329.6l.9 4.7 2.4-5.7-.9-5z"/><path fill="#0030ff" d="M197.2 336.5l.9 4.4 2.3-6.6-.9-4.7z"/><path fill="#0010ff" d="M194.8 342.8l.9 3.9 2.4-5.8-.9-4.4z"/><path fill="#0000ef" d="M192.5 348.8l.9 3.3 2.3-5.4-.9-3.9z"/><path fill="#0000df" d="M190.1 354.3l1 2.6 2.3-4.8-.9-3.3z"/><path fill="#0000bf" d="M187.8 359l.9 2.1 2.4-4.2-1-2.6z"/><path fill="#00009f" d="M185.5 362.8l.9 1.6 2.3-3.3-.9-2.1z"/></g>
<path fill="none" stroke-width="0.45" d="M194.8 342.8l2.4-6.3 2.3-6.9 2.4-6M267.5 303.4l2.4 1.2 2.3 2.2 2.4 2.1 2.3 2 2.4 2 2.3 2.4 2.3 2.4 2.4 1.8 2.3 .7 2.4-1.4 2.3-6.7M298 294.4l2.4-6.1 2.3-3.4M195.7 346.7l2.4-5.8 2.3-6.6 2.4-5.7M268.4 308.9l2.4 2.1 2.3 2.1 2.4 1.9 2.3 1.9 2.4 1.9 2.3 2.1 2.4 2.2 2.3 1.5 2.3 .5 2.4-1.7 2.3-6.2M298.9 300.4l2.4-5.7 2.3-5.6"/>
<g stroke-width="0.3"><path fill="#008fff" d="M310.6 281.7l1 .5 2.3-.9-.9 .3z"/><path fill="#0080ff" d="M308.3 282.8l.9 3.2 2.4-3.8-1-.5zM306 284l.9 6.7 2.3-4.7-.9-3.2z"/><path fill="#0060ff" d="M303.6 289.1l.9 6.6 2.4-5-.9-6.7z"/><path fill="#0050ff" d="M301.3 294.7l.9 6.1 2.3-5.1-.9-6.6z"/><path fill="#0030ff" d="M298.9 300.4l.9 5.7 2.4-5.3-.9-6.1z"/><path fill="#0020ff" d="M296.6 307.7l.9 5.4 2.3-7-.9-5.7z"/><path fill="#0000ef" d="M294.2 317.2l.9 4.7 2.4-8.8-.9-5.4z"/><path fill="#0000cf" d="M291.9 323.4l.9 4.3 2.3-5.8-.9-4.7z"/><path fill="#0000b8" d="M289.5 325.1l1 4.3 2.3-1.7-.9-4.3zM287.2 324.6l.9 4.6 2.4 .2-1-4.3z"/><path fill="#0000bf" d="M284.9 323.1l.9 4.9 2.3 1.2-.9-4.6z"/><path fill="#0000cf" d="M282.5 320.9l.9 5.3 2.4 1.8-.9-4.9z"/><path fill="#0000df" d="M280.2 318.8l.9 5.4 2.3 2-.9-5.3z"/><path fill="#0000ef" d="M277.8 316.9l.9 5.5 2.4 1.8-.9-5.4z"/><path fill="#00f" d="M275.5 315l.9 5.7 2.3 1.7-.9-5.5z"/><path fill="#0010ff" d="M273.1 313.1l.9 5.9 2.4 1.7-.9-5.7z"/><path fill="#0020ff" d="M270.8 311l.9 6.1 2.3 1.9-.9-5.9zM268.4 308.9l.9 6.3 2.4 1.9-.9-6.1z"/><path fill="#0030ff" d="M266.1 306.8l.9 6.4 2.3 2-.9-6.3z"/><path fill="#0040ff" d="M263.7 304.7l1 6.5 2.3 2-.9-6.4z"/><path fill="#0050ff" d="M261.4 305l.9 4.2 2.4 2-1-6.5z"/><path fill="#0060ff" d="M259.1 305.5l.9 1.8 2.3 1.9-.9-4.2zM256.7 306l.9 .5 2.4 .8-.9-1.8z"/><path fill="#0070ff" d="M254.4 308.1l.9-1.1 2.3-.5-.9-.5z"/><path fill="#0060ff" d="M205.1 322.7l.9 5.2 2.4-5.6-.9-.6z"/><path fill="#0050ff" d="M202.8 328.6l.9 4.9 2.3-5.6-.9-5.2z"/><path fill="#0030ff" d="M200.4 334.3l.9 4.5 2.4-5.3-.9-4.9z"/><path fill="#0010ff" d="M198.1 340.9l.9 4.1 2.3-6.2-.9-4.5z"/><path fill="#00f" d="M195.7 346.7l1 3.6 2.3-5.3-.9-4.1z"/><path fill="#0000df" d="M193.4 352.1l.9 3 2.4-4.8-1-3.6z"/><path fill="#0000cf" d="M191.1 356.9l.9 2.5 2.3-4.3-.9-3z"/><path fill="#0000b5" d="M188.7 361.1l.9 1.9 2.4-3.6-.9-2.5z"/><path fill="#000098" d="M186.4 364.4l.9 1.5 2.3-2.9-.9-1.9z"/></g>
<path fill="none" stroke-width="0.45" d="M195.7 346.7l2.4-5.8 2.3-6.6 2.4-5.7 2.3-5.9M261.4 305l2.3-.3 2.4 2.1 2.3 2.1 2.4 2.1 2.3 2.1 2.4 1.9 2.3 1.9 2.4 1.9 2.3 2.1 2.4 2.2 2.3 1.5 2.3 .5 2.4-1.7 2.3-6.2M298.9 300.4l2.4-5.7 2.3-5.6 2.4-5.1M196.7 350.3l2.3-5.3 2.3-6.2 2.4-5.3 2.3-5.6M262.3 309.2l2.4 2 2.3 2 2.3 2 2.4 1.9 2.3 1.9 2.4 1.7 2.3 1.7 2.4 1.8 2.3 2 2.4 1.8 2.3 1.2 2.4 .2 2.3-1.7 2.3-5.8M297.5 313.1l2.3-7 2.4-5.3 2.3-5.1 2.4-5"/>
<g stroke-width="0.3"><path fill="#008fff" d="M325.6 277.5l.9 0 2.4-.8-.9 .5zM323.3 277.8l.9 .5 2.3-.8-.9 0zM320.9 278.7l.9 .5 2.4-.9-.9-.5zM318.6 279.5l.9 1.9 2.3-2.2-.9-.5z"/><path fill="#0080ff" d="M316.2 280.4l1 3.4 2.3-2.4-.9-1.9zM313.9 281.3l.9 5 2.4-2.5-1-3.4z"/><path fill="#0070ff" d="M311.6 282.2l.9 7.1 2.3-3-.9-5zM309.2 286l.9 7.1 2.4-3.8-.9-7.1z"/><path fill="#0060ff" d="M306.9 290.7l.9 6.7 2.3-4.3-.9-7.1z"/><path fill="#0040ff" d="M304.5 295.7l.9 6.3 2.4-4.6-.9-6.7z"/><path fill="#0030ff" d="M302.2 300.8l.9 5.9 2.3-4.7-.9-6.3z"/><path fill="#0020ff" d="M299.8 306.1l.9 5.5 2.4-4.9-.9-5.9z"/><path fill="#00f" d="M297.5 313.1l.9 5.1 2.3-6.6-.9-5.5z"/><path fill="#0000df" d="M295.1 321.9l1 4.4 2.3-8.1-.9-5.1z"/><path fill="#0000b4" d="M292.8 327.7l.9 3.8 2.4-5.2-1-4.4z"/><path fill="#000097" d="M290.5 329.4l.9 3.9 2.3-1.8-.9-3.8z"/><path fill="#000096" d="M288.1 329.2l.9 4.1 2.4 0-.9-3.9z"/><path fill="#00009d" d="M285.8 328l.9 4.4 2.3 .9-.9-4.1z"/><path fill="#0000b6" d="M283.4 326.2l.9 4.7 2.4 1.5-.9-4.4z"/><path fill="#0000cf" d="M281.1 324.2l.9 5 2.3 1.7-.9-4.7zM278.7 322.4l.9 5.2 2.4 1.6-.9-5z"/><path fill="#0000df" d="M276.4 320.7l.9 5.3 2.3 1.6-.9-5.2z"/><path fill="#0000ef" d="M274 319l.9 5.5 2.4 1.5-.9-5.3z"/><path fill="#00f" d="M271.7 317.1l.9 5.7 2.3 1.7-.9-5.5z"/><path fill="#0010ff" d="M269.3 315.2l1 5.8 2.3 1.8-.9-5.7zM267 313.2l.9 6 2.4 1.8-1-5.8z"/><path fill="#0020ff" d="M264.7 311.2l.9 6.1 2.3 1.9-.9-6z"/><path fill="#0030ff" d="M262.3 309.2l.9 6.3 2.4 1.8-.9-6.1z"/><path fill="#0040ff" d="M260 307.3l.9 6.4 2.3 1.8-.9-6.3z"/><path fill="#0050ff" d="M257.6 306.5l.9 5.5 2.4 1.7-.9-6.4z"/><path fill="#0060ff" d="M255.3 307l.9 3 2.3 2-.9-5.5zM252.9 307.5l.9 .5 2.4 2-.9-3z"/><path fill="#0070ff" d="M250.6 309.2l.9-.7 2.3-.5-.9-.5z"/><path fill="#0060ff" d="M208.4 322.3l.9 5.4 2.3-4.7-.9-.5z"/><path fill="#0050ff" d="M206 327.9l.9 5.1 2.4-5.3-.9-5.4z"/><path fill="#0030ff" d="M203.7 333.5l.9 4.7 2.3-5.2-.9-5.1z"/><path fill="#0020ff" d="M201.3 338.8l1 4.4 2.3-5-.9-4.7z"/><path fill="#00f" d="M199 345l.9 3.9 2.4-5.7-1-4.4z"/><path fill="#0000ef" d="M196.7 350.3l.9 3.4 2.3-4.8-.9-3.9z"/><path fill="#0000cf" d="M194.3 355.1l.9 2.9 2.4-4.3-.9-3.4z"/><path fill="#0000bc" d="M192 359.4l.9 2.3 2.3-3.7-.9-2.9z"/><path fill="#00009e" d="M189.6 363l.9 1.8 2.4-3.1-.9-2.3z"/><path fill="#000085" d="M187.3 365.9l.9 1.4 2.3-2.5-.9-1.8z"/></g>
<path fill="none" stroke-width="0.45" d="M199 345l2.3-6.2 2.4-5.3 2.3-5.6 2.4-5.6M257.6 306.5l2.4 .8 2.3 1.9 2.4 2 2.3 2 2.3 2 2.4 1.9 2.3 1.9 2.4 1.7 2.3 1.7 2.4 1.8 2.3 2 2.4 1.8 2.3 1.2 2.4 .2 2.3-1.7 2.3-5.8M297.5 313.1l2.3-7 2.4-5.3 2.3-5.1 2.4-5 2.3-4.7 2.4-3.8 2.3-.9M199.9 348.9l2.4-5.7 2.3-5 2.3-5.2 2.4-5.3M258.5 312l2.4 1.7 2.3 1.8 2.4 1.8 2.3 1.9 2.4 1.8 2.3 1.8 2.3 1.7 2.4 1.5 2.3 1.6 2.4 1.6 2.3 1.7 2.4 1.5 2.3 .9 2.4 0 2.3-1.8 2.4-5.2M298.4 318.2l2.3-6.6 2.4-4.9 2.3-4.7 2.4-4.6 2.3-4.3 2.4-3.8 2.3-3"/>
<g stroke-width="0.3"><path fill="#009fff" d="M357 264.1l.9 .5 2.4-1.6-.9 2.6zM354.7 265.6l.9 1.2 2.3-2.2-.9-.5zM352.3 267.1l.9 1.5 2.4-1.8-.9-1.2z"/><path fill="#008fff" d="M350 268.6l.9 1.8 2.3-1.8-.9-1.5zM347.6 270.1l.9 2 2.4-1.7-.9-1.8zM345.3 271.6l.9 2.1 2.3-1.6-.9-2zM343 272.8l.9 2.3 2.3-1.4-.9-2.1z"/><path fill="#0080ff" d="M340.6 273.8l.9 2.5 2.4-1.2-.9-2.3zM338.3 274.4l.9 2.9 2.3-1-.9-2.5zM335.9 274.8l.9 3.3 2.4-.8-.9-2.9zM333.6 275.3l.9 3.7 2.3-.9-.9-3.3zM331.2 275.9l.9 4.2 2.4-1.1-.9-3.7zM328.9 276.7l.9 4.8 2.3-1.4-.9-4.2zM326.5 277.5l.9 5.6 2.4-1.6-.9-4.8zM324.2 278.3l.9 6.6 2.3-1.8-.9-5.6z"/><path fill="#0070ff" d="M321.8 279.2l1 7.6 2.3-1.9-.9-6.6zM319.5 281.4l.9 7.5 2.4-2.1-1-7.6z"/><path fill="#0060ff" d="M317.2 283.8l.9 7.3 2.3-2.2-.9-7.5zM314.8 286.3l.9 7.2 2.4-2.4-.9-7.3z"/><path fill="#0050ff" d="M312.5 289.3l.9 7 2.3-2.8-.9-7.2zM310.1 293.1l.9 6.7 2.4-3.5-.9-7z"/><path fill="#0040ff" d="M307.8 297.4l.9 6.4 2.3-4-.9-6.7z"/><path fill="#0020ff" d="M305.4 302l.9 5.9 2.4-4.1-.9-6.4z"/><path fill="#0010ff" d="M303.1 306.7l.9 5.5 2.3-4.3-.9-5.9z"/><path fill="#00f" d="M300.7 311.6l.9 5.1 2.4-4.5-.9-5.5z"/><path fill="#0000df" d="M298.4 318.2l.9 4.8 2.3-6.3-.9-5.1z"/><path fill="#0000bf" d="M296.1 326.3l.9 3.9 2.3-7.2-.9-4.8z"/><path fill="#000095" d="M293.7 331.5l.9 3.4 2.4-4.7-.9-3.9z"/><path fill="#00007b" d="M291.4 333.3l.9 3.3 2.3-1.7-.9-3.4z"/><path fill="#00007a" d="M289 333.3l.9 3.5 2.4-.2-.9-3.3z"/><path fill="#00007f" d="M286.7 332.4l.9 3.9 2.3 .5-.9-3.5z"/><path fill="#000094" d="M284.3 330.9l.9 4.3 2.4 1.1-.9-3.9z"/><path fill="#00009f" d="M282 329.2l.9 4.5 2.3 1.5-.9-4.3z"/><path fill="#0000ba" d="M279.6 327.6l.9 4.7 2.4 1.4-.9-4.5z"/><path fill="#0000cf" d="M277.3 326l.9 4.9 2.3 1.4-.9-4.7zM274.9 324.5l1 5.1 2.3 1.3-.9-4.9z"/><path fill="#0000df" d="M272.6 322.8l.9 5.4 2.4 1.4-1-5.1z"/><path fill="#0000ef" d="M270.3 321l.9 5.6 2.3 1.6-.9-5.4z"/><path fill="#00f" d="M267.9 319.2l.9 5.7 2.4 1.7-.9-5.6z"/><path fill="#0010ff" d="M265.6 317.3l.9 5.8 2.3 1.8-.9-5.7zM263.2 315.5l.9 5.9 2.4 1.7-.9-5.8z"/><path fill="#0020ff" d="M260.9 313.7l.9 6.1 2.3 1.6-.9-5.9z"/><path fill="#0030ff" d="M258.5 312l.9 6.1 2.4 1.7-.9-6.1z"/><path fill="#0040ff" d="M256.2 310l.9 6.3 2.3 1.8-.9-6.1z"/><path fill="#0050ff" d="M253.8 308l.9 6.3 2.4 2-.9-6.3z"/><path fill="#0060ff" d="M251.5 308.5l.9 3.6 2.3 2.2-.9-6.3zM249.2 309l.9 1.1 2.3 2-.9-3.6z"/><path fill="#0070ff" d="M246.8 310l.9 .1 2.4 0-.9-1.1zM244.5 311.8l.9-1.1 2.3-.6-.9-.1z"/><path fill="#0060ff" d="M214 323l.9 1.2 2.3-1-.9 .2z"/><path fill="#0050ff" d="M211.6 323l.9 5.2 2.4-4-.9-1.2z"/><path fill="#0040ff" d="M209.3 327.7l.9 5.2 2.3-4.7-.9-5.2z"/><path fill="#0030ff" d="M206.9 333l.9 4.8 2.4-4.9-.9-5.2z"/><path fill="#0020ff" d="M204.6 338.2l.9 4.5 2.3-4.9-.9-4.8z"/><path fill="#00f" d="M202.3 343.2l.9 4.1 2.3-4.6-.9-4.5z"/><path fill="#0000ef" d="M199.9 348.9l.9 3.7 2.4-5.3-.9-4.1z"/><path fill="#0000df" d="M197.6 353.7l.9 3.2 2.3-4.3-.9-3.7z"/><path fill="#0000bf" d="M195.2 358l.9 2.6 2.4-3.7-.9-3.2z"/><path fill="#0000a2" d="M192.9 361.7l.9 2.1 2.3-3.2-.9-2.6z"/><path fill="#000097" d="M190.5 364.8l.9 1.7 2.4-2.7-.9-2.1z"/><path fill="#000081" d="M188.2 367.3l.9 1.3 2.3-2.1-.9-1.7z"/></g>
<path fill="none" stroke-width="0.45" d="M199.9 348.9l2.4-5.7 2.3-5 2.3-5.2 2.4-5.3 2.3-4.7M251.5 308.5l2.3-.5 2.4 2 2.3 2 2.4 1.7 2.3 1.8 2.4 1.8 2.3 1.9 2.4 1.8 2.3 1.8 2.3 1.7 2.4 1.5 2.3 1.6 2.4 1.6 2.3 1.7 2.4 1.5 2.3 .9M298.4 318.2l2.3-6.6 2.4-4.9 2.3-4.7 2.4-4.6 2.3-4.3 2.4-3.8 2.3-3 2.4-2.5 2.3-2.4 2.3-2.2 2.4-.9 2.3-.8 2.4-.8 2.3-.8 2.4-.6M200.8 352.6l2.4-5.3 2.3-4.6 2.3-4.9 2.4-4.9 2.3-4.7M252.4 312.1l2.3 2.2 2.4 2 2.3 1.8 2.4 1.7 2.3 1.6 2.4 1.7 2.3 1.8 2.4 1.7 2.3 1.6 2.4 1.4 2.3 1.3 2.3 1.4 2.4 1.4 2.3 1.5 2.4 1.1 2.3 .5M299.3 323l2.3-6.3 2.4-4.5 2.3-4.3 2.4-4.1 2.3-4 2.4-3.5 2.3-2.8 2.4-2.4 2.3-2.2 2.4-2.1 2.3-1.9 2.3-1.8 2.4-1.6 2.3-1.4 2.4-1.1"/>
<g stroke-width="0.3"><path fill="#009fff" d="M360.3 263l.9 2.2 2.3-3.3-.9 1.1z"/><path fill="#008fff" d="M357.9 264.6l.9 6.2 2.4-5.6-.9-2.2z"/><path fill="#0080ff" d="M355.6 266.8l.9 7.3 2.3-3.3-.9-6.2zM353.2 268.6l.9 7.3 2.4-1.8-.9-7.3z"/><path fill="#0070ff" d="M350.9 270.4l.9 7.3 2.3-1.8-.9-7.3zM348.5 272.1l1 7.3 2.3-1.7-.9-7.3zM346.2 273.7l.9 7.3 2.4-1.6-1-7.3zM343.9 275.1l.9 7.3 2.3-1.4-.9-7.3z"/><path fill="#0060ff" d="M341.5 276.3l.9 7.4 2.4-1.3-.9-7.3zM339.2 277.3l.9 7.4 2.3-1-.9-7.4zM336.8 278.1l.9 7.5 2.4-.9-.9-7.4zM334.5 279l.9 7.5 2.3-.9-.9-7.5zM332.1 280.1l.9 7.5 2.4-1.1-.9-7.5zM329.8 281.5l.9 7.5 2.3-1.4-.9-7.5zM327.4 283.1l1 7.4 2.3-1.5-.9-7.5z"/><path fill="#0050ff" d="M325.1 284.9l.9 7.3 2.4-1.7-1-7.4zM322.8 286.8l.9 7.2 2.3-1.8-.9-7.3zM320.4 288.9l.9 7.1 2.4-2-.9-7.2z"/><path fill="#0040ff" d="M318.1 291.1l.9 7 2.3-2.1-.9-7.1zM315.7 293.5l.9 6.9 2.4-2.3-.9-7z"/><path fill="#0030ff" d="M313.4 296.3l.9 6.7 2.3-2.6-.9-6.9z"/><path fill="#0020ff" d="M311 299.8l.9 6.4 2.4-3.2-.9-6.7zM308.7 303.8l.9 6 2.3-3.6-.9-6.4z"/><path fill="#0010ff" d="M306.3 307.9l.9 5.6 2.4-3.7-.9-6z"/><path fill="#00f" d="M304 312.2l.9 5.2 2.3-3.9-.9-5.6z"/><path fill="#0000df" d="M301.6 316.7l1 4.8 2.3-4.1-.9-5.2z"/><path fill="#0000cf" d="M299.3 323l.9 4.3 2.4-5.8-1-4.8z"/><path fill="#00009e" d="M297 330.2l.9 3.5 2.3-6.4-.9-4.3z"/><path fill="#00007a" d="M294.6 334.9l.9 2.7 2.4-3.9-.9-3.5z"/><path fill="#000065" d="M292.3 336.6l.9 2.6 2.3-1.6-.9-2.7z"/><path fill="#000064" d="M289.9 336.8l.9 2.8 2.4-.4-.9-2.6z"/><path fill="#000067" d="M287.6 336.3l.9 3.2 2.3 .1-.9-2.8z"/><path fill="#000078" d="M285.2 335.2l.9 3.6 2.4 .7-.9-3.2z"/><path fill="#000081" d="M282.9 333.7l.9 4 2.3 1.1-.9-3.6z"/><path fill="#000097" d="M280.5 332.3l1 4.2 2.3 1.2-.9-4z"/><path fill="#0000a2" d="M278.2 330.9l.9 4.5 2.4 1.1-1-4.2z"/><path fill="#00b" d="M275.9 329.6l.9 4.7 2.3 1.1-.9-4.5z"/><path fill="#0000cf" d="M273.5 328.2l.9 4.9 2.4 1.2-.9-4.7zM271.2 326.6l.9 5.1 2.3 1.4-.9-4.9z"/><path fill="#0000df" d="M268.8 324.9l.9 5.3 2.4 1.5-.9-5.1z"/><path fill="#0000ef" d="M266.5 323.1l.9 5.5 2.3 1.6-.9-5.3z"/><path fill="#00f" d="M264.1 321.4l.9 5.6 2.4 1.6-.9-5.5z"/><path fill="#0010ff" d="M261.8 319.8l.9 5.7 2.3 1.5-.9-5.6zM259.4 318.1l.9 5.9 2.4 1.5-.9-5.7z"/><path fill="#0020ff" d="M257.1 316.3l.9 6 2.3 1.7-.9-5.9z"/><path fill="#0030ff" d="M254.7 314.3l1 6.2 2.3 1.8-.9-6z"/><path fill="#0040ff" d="M252.4 312.1l.9 6.5 2.4 1.9-1-6.2z"/><path fill="#0050ff" d="M250.1 310.1l.9 6.6 2.3 1.9-.9-6.5zM247.7 310.1l.9 5 2.4 1.6-.9-6.6z"/><path fill="#0060ff" d="M245.4 310.7l.9 3.1 2.3 1.3-.9-5z"/><path fill="#0070ff" d="M243 311.3l.9 1.8 2.4 .7-.9-3.1zM240.7 312l.9 1.2 2.3-.1-.9-1.8zM238.3 312.8l.9 1.2 2.4-.8-.9-1.2zM236 313.9l.9 1.2 2.3-1.1-.9-1.2zM233.6 315.1l1 1.4 2.3-1.4-.9-1.2z"/><path fill="#0060ff" d="M231.3 316.4l.9 1.6 2.4-1.5-1-1.4zM229 317.8l.9 1.7 2.3-1.5-.9-1.6zM226.6 319.1l.9 2 2.4-1.6-.9-1.7zM224.3 320.4l.9 2.3 2.3-1.6-.9-2z"/><path fill="#0050ff" d="M221.9 321.6l.9 2.6 2.4-1.5-.9-2.3zM219.6 322.5l.9 3.1 2.3-1.4-.9-2.6zM217.2 323.2l.9 3.8 2.4-1.4-.9-3.1zM214.9 324.2l.9 5.6 2.3-2.8-.9-3.8z"/><path fill="#0040ff" d="M212.5 328.2l.9 5.3 2.4-3.7-.9-5.6z"/><path fill="#0030ff" d="M210.2 332.9l.9 5 2.3-4.4-.9-5.3z"/><path fill="#0020ff" d="M207.8 337.8l1 4.7 2.3-4.6-.9-5z"/><path fill="#00f" d="M205.5 342.7l.9 4.3 2.4-4.5-1-4.7z"/><path fill="#0000ef" d="M203.2 347.3l.9 4 2.3-4.3-.9-4.3z"/><path fill="#0000df" d="M200.8 352.6l.9 3.4 2.4-4.7-.9-4z"/><path fill="#0000cf" d="M198.5 356.9l.9 2.9 2.3-3.8-.9-3.4z"/><path fill="#0000b4" d="M196.1 360.6l.9 2.4 2.4-3.2-.9-2.9z"/><path fill="#009" d="M193.8 363.8l.9 1.9 2.3-2.7-.9-2.4z"/><path fill="#000083" d="M191.4 366.5l.9 1.5 2.4-2.3-.9-1.9z"/><path fill="#00007d" d="M189.1 368.6l.9 1.2 2.3-1.8-.9-1.5z"/></g>
<path fill="none" stroke-width="0.45" d="M203.2 347.3l2.3-4.6 2.3-4.9 2.4-4.9 2.3-4.7 2.4-4 2.3-1M247.7 310.1l2.4 0 2.3 2 2.3 2.2 2.4 2 2.3 1.8 2.4 1.7 2.3 1.6 2.4 1.7 2.3 1.8 2.4 1.7 2.3 1.6 2.4 1.4 2.3 1.3 2.3 1.4 2.4 1.4 2.3 1.5M299.3 323l2.3-6.3 2.4-4.5 2.3-4.3 2.4-4.1 2.3-4 2.4-3.5 2.3-2.8 2.4-2.4 2.3-2.2 2.4-2.1 2.3-1.9 2.3-1.8 2.4-1.6 2.3-1.4 2.4-1.1 2.3-.9 2.4-.8 2.3-1 2.4-1.2 2.3-1.4 2.3-1.6 2.4-1.7 2.3-1.8 2.4-1.8 2.3-2.2M204.1 351.3l2.3-4.3 2.4-4.5 2.3-4.6 2.3-4.4 2.4-3.7 2.3-2.8M248.6 315.1l2.4 1.6 2.3 1.9 2.4 1.9 2.3 1.8 2.3 1.7 2.4 1.5 2.3 1.5 2.4 1.6 2.3 1.6 2.4 1.5 2.3 1.4 2.4 1.2 2.3 1.1 2.4 1.1 2.3 1.2 2.3 1.1M300.2 327.3l2.4-5.8 2.3-4.1 2.3-3.9 2.4-3.7 2.3-3.6 2.4-3.2 2.3-2.6 2.4-2.3 2.3-2.1 2.4-2 2.3-1.8 2.4-1.7 2.3-1.5 2.3-1.4 2.4-1.1 2.3-.9 2.4-.9 2.3-1 2.4-1.3 2.3-1.4 2.4-1.6 2.3-1.7 2.3-1.8 2.4-1.8 2.3-3.3"/>
<g stroke-width="0.3"><path fill="#00afff" d="M365.9 260.6l.9 .5 2.3-.9-.9 1.5z"/><path fill="#009fff" d="M363.5 261.9l.9 4.6 2.4-5.4-.9-.5z"/><path fill="#008fff" d="M361.2 265.2l.9 7.7 2.3-6.4-.9-4.6z"/><path fill="#0070ff" d="M358.8 270.8l.9 7.2 2.4-5.1-.9-7.7z"/><path fill="#0060ff" d="M356.5 274.1l.9 7 2.3-3.1-.9-7.2zM354.1 275.9l1 7 2.3-1.8-.9-7z"/><path fill="#0050ff" d="M351.8 277.7l.9 7 2.4-1.8-1-7zM349.5 279.4l.9 7 2.3-1.7-.9-7zM347.1 281l.9 6.9 2.4-1.5-.9-7z"/><path fill="#0040ff" d="M344.8 282.4l.9 7 2.3-1.5-.9-6.9zM342.4 283.7l.9 7 2.4-1.3-.9-7zM340.1 284.7l.9 7 2.3-1-.9-7zM337.7 285.6l.9 7 2.4-.9-.9-7zM335.4 286.5l.9 7.1 2.3-1-.9-7zM333 287.6l.9 7.1 2.4-1.1-.9-7.1zM330.7 289l.9 7.1 2.3-1.4-.9-7.1zM328.4 290.5l.9 7 2.3-1.4-.9-7.1z"/><path fill="#0030ff" d="M326 292.2l.9 6.9 2.4-1.6-.9-7zM323.7 294l.9 6.9 2.3-1.8-.9-6.9zM321.3 296l.9 6.8 2.4-1.9-.9-6.9z"/><path fill="#0020ff" d="M319 298.1l.9 6.7 2.3-2-.9-6.8zM316.6 300.4l.9 6.5 2.4-2.1-.9-6.7z"/><path fill="#0010ff" d="M314.3 303l.9 6.3 2.3-2.4-.9-6.5zM311.9 306.2l.9 6 2.4-2.9-.9-6.3z"/><path fill="#00f" d="M309.6 309.8l.9 5.6 2.3-3.2-.9-6z"/><path fill="#0000ef" d="M307.2 313.5l1 5.3 2.3-3.4-.9-5.6z"/><path fill="#0000df" d="M304.9 317.4l.9 4.8 2.4-3.4-1-5.3z"/><path fill="#0000cf" d="M302.6 321.5l.9 4.4 2.3-3.7-.9-4.8z"/><path fill="#0000b6" d="M300.2 327.3l.9 4 2.4-5.4-.9-4.4z"/><path fill="#000081" d="M297.9 333.7l.9 3 2.3-5.4-.9-4z"/><path fill="#000065" d="M295.5 337.6l.9 2 2.4-2.9-.9-3z"/><path fill="#000060" d="M293.2 339.2l.9 1.2 2.3-.8-.9-2z"/><path fill="#00005f" d="M290.8 339.6l.9 1.6 2.4-.8-.9-1.2z"/><path fill="#000060" d="M288.5 339.5l.9 2.2 2.3-.5-.9-1.6z"/><path fill="#000063" d="M286.1 338.8l.9 2.8 2.4 .1-.9-2.2z"/><path fill="#000068" d="M283.8 337.7l.9 3.3 2.3 .6-.9-2.8z"/><path fill="#00007b" d="M281.5 336.5l.9 3.7 2.3 .8-.9-3.3z"/><path fill="#000083" d="M279.1 335.4l.9 4 2.4 .8-.9-3.7z"/><path fill="#000098" d="M276.8 334.3l.9 4.2 2.3 .9-.9-4z"/><path fill="#0000a1" d="M274.4 333.1l.9 4.4 2.4 1-.9-4.2z"/><path fill="#00b" d="M272.1 331.7l.9 4.7 2.3 1.1-.9-4.4z"/><path fill="#0000cf" d="M269.7 330.2l.9 4.9 2.4 1.3-.9-4.7zM267.4 328.6l.9 5.1 2.3 1.4-.9-4.9z"/><path fill="#0000df" d="M265 327l.9 5.3 2.4 1.4-.9-5.1z"/><path fill="#0000ef" d="M262.7 325.5l.9 5.4 2.3 1.4-.9-5.3z"/><path fill="#00f" d="M260.3 324l1 5.5 2.3 1.4-.9-5.4zM258 322.3l.9 5.7 2.4 1.5-1-5.5z"/><path fill="#0010ff" d="M255.7 320.5l.9 5.8 2.3 1.7-.9-5.7z"/><path fill="#0020ff" d="M253.3 318.6l.9 6.1 2.4 1.6-.9-5.8z"/><path fill="#0030ff" d="M251 316.7l.9 6.3 2.3 1.7-.9-6.1z"/><path fill="#0040ff" d="M248.6 315.1l.9 6.5 2.4 1.4-.9-6.3zM246.3 313.8l.9 6.7 2.3 1.1-.9-6.5z"/><path fill="#0050ff" d="M243.9 313.1l.9 6.9 2.4 .5-.9-6.7zM241.6 313.2l.9 6.9 2.3-.1-.9-6.9zM239.2 314l.9 6.8 2.4-.7-.9-6.9zM236.9 315.1l.9 6.7 2.3-1-.9-6.8zM234.6 316.5l.9 6.5 2.3-1.2-.9-6.7zM232.2 318l.9 6.3 2.4-1.3-.9-6.5zM229.9 319.5l.9 6.2 2.3-1.4-.9-6.3z"/><path fill="#0040ff" d="M227.5 321.1l.9 6.1 2.4-1.5-.9-6.2zM225.2 322.7l.9 5.9 2.3-1.4-.9-6.1zM222.8 324.2l.9 5.8 2.4-1.4-.9-5.9zM220.5 325.6l.9 5.6 2.3-1.2-.9-5.8zM218.1 327l.9 5.6 2.4-1.4-.9-5.6z"/><path fill="#0030ff" d="M215.8 329.8l.9 5.3 2.3-2.5-.9-5.6z"/><path fill="#0020ff" d="M213.4 333.5l1 5.1 2.3-3.5-.9-5.3z"/><path fill="#0010ff" d="M211.1 337.9l.9 4.7 2.4-4-1-5.1z"/><path fill="#00f" d="M208.8 342.5l.9 4.4 2.3-4.3-.9-4.7z"/><path fill="#0000ef" d="M206.4 347l.9 4.1 2.4-4.2-.9-4.4z"/><path fill="#0000df" d="M204.1 351.3l.9 3.7 2.3-3.9-.9-4.1z"/><path fill="#0000cf" d="M201.7 356l.9 3.2 2.4-4.2-.9-3.7z"/><path fill="#0000b6" d="M199.4 359.8l.9 2.8 2.3-3.4-.9-3.2z"/><path fill="#00009b" d="M197 363l.9 2.2 2.4-2.6-.9-2.8z"/><path fill="#000084" d="M194.7 365.7l.9 1.8 2.3-2.3-.9-2.2z"/><path fill="#00007e" d="M192.3 368l.9 1.4 2.4-1.9-.9-1.8z"/><path fill="#000079" d="M190 369.8l.9 1.1 2.3-1.5-.9-1.4z"/></g>
<path fill="none" stroke-width="0.45" d="M204.1 351.3l2.3-4.3 2.4-4.5 2.3-4.6 2.3-4.4 2.4-3.7 2.3-2.8 2.4-1.4 2.3-1.4 2.4-1.5 2.3-1.6 2.4-1.6 2.3-1.5 2.4-1.5 2.3-1.4 2.3-1.1 2.4-.8 2.3-.1 2.4 .7 2.3 1.3 2.4 1.6 2.3 1.9 2.4 1.9 2.3 1.8 2.3 1.7 2.4 1.5 2.3 1.5 2.4 1.6 2.3 1.6 2.4 1.5 2.3 1.4 2.4 1.2 2.3 1.1 2.4 1.1M300.2 327.3l2.4-5.8 2.3-4.1 2.3-3.9 2.4-3.7 2.3-3.6 2.4-3.2 2.3-2.6 2.4-2.3 2.3-2.1 2.4-2 2.3-1.8 2.4-1.7 2.3-1.5 2.3-1.4 2.4-1.1 2.3-.9 2.4-.9 2.3-1 2.4-1.3 2.3-1.4 2.4-1.6 2.3-1.7 2.3-1.8 2.4-1.8 2.3-3.3 2.4-5.6 2.3-3.3M205 355l2.3-3.9 2.4-4.2 2.3-4.3 2.4-4 2.3-3.5 2.3-2.5 2.4-1.4 2.3-1.2 2.4-1.4 2.3-1.4 2.4-1.5 2.3-1.4 2.4-1.3 2.3-1.2 2.3-1 2.4-.7 2.3-.1 2.4 .5 2.3 1.1 2.4 1.4 2.3 1.7 2.4 1.6 2.3 1.7 2.4 1.5 2.3 1.4 2.3 1.4 2.4 1.4 2.3 1.4 2.4 1.3 2.3 1.1 2.4 1 2.3 .9 2.4 .8M301.1 331.3l2.4-5.4 2.3-3.7 2.4-3.4 2.3-3.4 2.3-3.2 2.4-2.9 2.3-2.4 2.4-2.1 2.3-2 2.4-1.9 2.3-1.8 2.4-1.6 2.3-1.4 2.3-1.4 2.4-1.1 2.3-1 2.4-.9 2.3-1 2.4-1.3 2.3-1.5 2.4-1.5 2.3-1.7 2.4-1.8 2.3-1.8 2.3-3.1 2.4-5.1 2.3-6.4"/>
<g stroke-width="0.3"><path fill="#009fff" d="M376.2 259.4l.9 .3 2.3 0-.9 .6z"/><path fill="#00afff" d="M373.8 259.3l.9 .5 2.4-.1-.9-.3zM371.5 259.6l.9 2 2.3-1.8-.9-.5z"/><path fill="#009fff" d="M369.1 260.2l.9 4.2 2.4-2.8-.9-2zM366.8 261.1l.9 7.5 2.3-4.2-.9-4.2z"/><path fill="#0080ff" d="M364.4 266.5l.9 8 2.4-5.9-.9-7.5z"/><path fill="#0070ff" d="M362.1 272.9l.9 7.3 2.3-5.7-.9-8z"/><path fill="#0050ff" d="M359.7 278l1 6.8 2.3-4.6-.9-7.3z"/><path fill="#0040ff" d="M357.4 281.1l.9 6.6 2.4-2.9-1-6.8zM355.1 282.9l.9 6.6 2.3-1.8-.9-6.6z"/><path fill="#0030ff" d="M352.7 284.7l.9 6.5 2.4-1.7-.9-6.6zM350.4 286.4l.9 6.5 2.3-1.7-.9-6.5zM348 287.9l.9 6.6 2.4-1.6-.9-6.5z"/><path fill="#0020ff" d="M345.7 289.4l.9 6.6 2.3-1.5-.9-6.6zM343.3 290.7l.9 6.5 2.4-1.2-.9-6.6zM341 291.7l.9 6.6 2.3-1.1-.9-6.5zM338.6 292.6l.9 6.7 2.4-1-.9-6.6zM336.3 293.6l.9 6.7 2.3-1-.9-6.7zM333.9 294.7l1 6.7 2.3-1.1-.9-6.7zM331.6 296.1l.9 6.6 2.4-1.3-1-6.7z"/><path fill="#0010ff" d="M329.3 297.5l.9 6.6 2.3-1.4-.9-6.6zM326.9 299.1l.9 6.5 2.4-1.5-.9-6.6zM324.6 300.9l.9 6.4 2.3-1.7-.9-6.5zM322.2 302.8l.9 6.3 2.4-1.8-.9-6.4z"/><path fill="#00f" d="M319.9 304.8l.9 6.1 2.3-1.8-.9-6.3zM317.5 306.9l.9 6 2.4-2-.9-6.1z"/><path fill="#0000ef" d="M315.2 309.3l.9 5.8 2.3-2.2-.9-6zM312.8 312.2l1 5.6 2.3-2.7-.9-5.8z"/><path fill="#0000df" d="M310.5 315.4l.9 5.2 2.4-2.8-1-5.6z"/><path fill="#0000cf" d="M308.2 318.8l.9 4.8 2.3-3-.9-5.2zM305.8 322.2l.9 4.4 2.4-3-.9-4.8z"/><path fill="#0000b7" d="M303.5 325.9l.9 4 2.3-3.3-.9-4.4z"/><path fill="#000096" d="M301.1 331.3l.9 3.4 2.4-4.8-.9-4z"/><path fill="#00006a" d="M298.8 336.7l.9 2.2 2.3-4.2-.9-3.4z"/><path fill="#000060" d="M296.4 339.6l.9 .5 2.4-1.2-.9-2.2z"/><path fill="#00005f" d="M294.1 340.4l.9 .5 2.3-.8-.9-.5zM291.7 341.2l.9 .5 2.4-.8-.9-.5zM289.4 341.7l.9 .7 2.3-.7-.9-.5zM287 341.6l1 1.6 2.3-.8-.9-.7z"/><path fill="#000061" d="M284.7 341l.9 2.5 2.4-.3-1-1.6z"/><path fill="#000065" d="M282.4 340.2l.9 3 2.3 .3-.9-2.5z"/><path fill="#00006a" d="M280 339.4l.9 3.3 2.4 .5-.9-3z"/><path fill="#00007c" d="M277.7 338.5l.9 3.7 2.3 .5-.9-3.3z"/><path fill="#000083" d="M275.3 337.5l.9 4 2.4 .7-.9-3.7z"/><path fill="#000098" d="M273 336.4l.9 4.2 2.3 .9-.9-4z"/><path fill="#0000a1" d="M270.6 335.1l.9 4.4 2.4 1.1-.9-4.2z"/><path fill="#00b" d="M268.3 333.7l.9 4.6 2.3 1.2-.9-4.4z"/><path fill="#0000cf" d="M265.9 332.3l1 4.8 2.3 1.2-.9-4.6zM263.6 330.9l.9 5 2.4 1.2-1-4.8z"/><path fill="#0000df" d="M261.3 329.5l.9 5.1 2.3 1.3-.9-5z"/><path fill="#0000ef" d="M258.9 328l.9 5.3 2.4 1.3-.9-5.1zM256.6 326.3l.9 5.6 2.3 1.4-.9-5.3z"/><path fill="#00f" d="M254.2 324.7l.9 5.7 2.4 1.5-.9-5.6z"/><path fill="#0010ff" d="M251.9 323l.9 6 2.3 1.4-.9-5.7z"/><path fill="#0020ff" d="M249.5 321.6l.9 6.2 2.4 1.2-.9-6zM247.2 320.5l.9 6.4 2.3 .9-.9-6.2z"/><path fill="#0030ff" d="M244.8 320l.9 6.5 2.4 .4-.9-6.4zM242.5 320.1l.9 6.5 2.3-.1-.9-6.5zM240.1 320.8l1 6.5 2.3-.7-.9-6.5zM237.8 321.8l.9 6.4 2.4-.9-1-6.5zM235.5 323l.9 6.2 2.3-1-.9-6.4zM233.1 324.3l.9 6.1 2.4-1.2-.9-6.2zM230.8 325.7l.9 6 2.3-1.3-.9-6.1zM228.4 327.2l.9 5.8 2.4-1.3-.9-6z"/><path fill="#0020ff" d="M226.1 328.6l.9 5.7 2.3-1.3-.9-5.8zM223.7 330l.9 5.5 2.4-1.2-.9-5.7zM221.4 331.2l.9 5.5 2.3-1.2-.9-5.5zM219 332.6l1 5.4 2.3-1.3-.9-5.5zM216.7 335.1l.9 5.1 2.4-2.2-1-5.4z"/><path fill="#0010ff" d="M214.4 338.6l.9 4.8 2.3-3.2-.9-5.1z"/><path fill="#00f" d="M212 342.6l.9 4.5 2.4-3.7-.9-4.8z"/><path fill="#0000ef" d="M209.7 346.9l.9 4.2 2.3-4-.9-4.5z"/><path fill="#0000df" d="M207.3 351.1l.9 3.8 2.4-3.8-.9-4.2z"/><path fill="#0000cf" d="M205 355l.9 3.5 2.3-3.6-.9-3.8z"/><path fill="#0000b8" d="M202.6 359.2l.9 3 2.4-3.7-.9-3.5z"/><path fill="#00009b" d="M200.3 362.6l.9 2.4 2.3-2.8-.9-3z"/><path fill="#000084" d="M197.9 365.2l.9 2.1 2.4-2.3-.9-2.4z"/><path fill="#00007e" d="M195.6 367.5l.9 1.6 2.3-1.8-.9-2.1z"/><path fill="#000079" d="M193.2 369.4l1 1.3 2.3-1.6-.9-1.6z"/><path fill="#00006a" d="M190.9 370.9l.9 1 2.4-1.2-1-1.3z"/></g>
<path fill="none" stroke-width="0.45" d="M205 355l2.3-3.9 2.4-4.2 2.3-4.3 2.4-4 2.3-3.5 2.3-2.5 2.4-1.4 2.3-1.2 2.4-1.4 2.3-1.4 2.4-1.5 2.3-1.4 2.4-1.3 2.3-1.2 2.3-1 2.4-.7 2.3-.1 2.4 .5 2.3 1.1 2.4 1.4 2.3 1.7 2.4 1.6 2.3 1.7 2.4 1.5 2.3 1.4 2.3 1.4 2.4 1.4 2.3 1.4 2.4 1.3 2.3 1.1 2.4 1M303.5 325.9l2.3-3.7 2.4-3.4 2.3-3.4 2.3-3.2 2.4-2.9 2.3-2.4 2.4-2.1 2.3-2 2.4-1.9 2.3-1.8 2.4-1.6 2.3-1.4 2.3-1.4 2.4-1.1 2.3-1 2.4-.9 2.3-1 2.4-1.3 2.3-1.5 2.4-1.5 2.3-1.7 2.4-1.8 2.3-1.8 2.3-3.1 2.4-5.1 2.3-6.4 2.4-5.4 2.3-.9M205.9 358.5l2.3-3.6 2.4-3.8 2.3-4 2.4-3.7 2.3-3.2 2.4-2.2 2.3-1.3 2.3-1.2 2.4-1.2 2.3-1.3 2.4-1.3 2.3-1.3 2.4-1.2 2.3-1 2.4-.9 2.3-.7 2.3-.1 2.4 .4 2.3 .9 2.4 1.2 2.3 1.4 2.4 1.5 2.3 1.4 2.4 1.3 2.3 1.3 2.4 1.2 2.3 1.2 2.3 1.2 2.4 1.1 2.3 .9 2.4 .7M304.4 329.9l2.3-3.3 2.4-3 2.3-3 2.4-2.8 2.3-2.7 2.3-2.2 2.4-2 2.3-1.8 2.4-1.8 2.3-1.7 2.4-1.5 2.3-1.4 2.4-1.3 2.3-1.1 2.3-1 2.4-1 2.3-1.1 2.4-1.2 2.3-1.5 2.4-1.6 2.3-1.7 2.4-1.7 2.3-1.8 2.4-2.9 2.3-4.6 2.3-5.7 2.4-5.9 2.3-4.2"/>
<g stroke-width="0.3"><path fill="#008fff" d="M388.8 259.9l.9 .5 2.3-.2-.9 .7zM386.4 260l1 1.1 2.3-.7-.9-.5zM384.1 259.9l.9 2.7 2.4-1.5-1-1.1zM381.8 259.8l.9 4.1 2.3-1.3-.9-2.7zM379.4 259.7l.9 5.4 2.4-1.2-.9-4.1zM377.1 259.7l.9 6.8 2.3-1.4-.9-5.4zM374.7 259.8l.9 8.4 2.4-1.7-.9-6.8zM372.4 261.6l.9 8.7 2.3-2.1-.9-8.4z"/><path fill="#0080ff" d="M370 264.4l.9 8.6 2.4-2.7-.9-8.7z"/><path fill="#0070ff" d="M367.7 268.6l.9 8.3 2.3-3.9-.9-8.6z"/><path fill="#0060ff" d="M365.3 274.5l1 7.6 2.3-5.2-.9-8.3z"/><path fill="#0040ff" d="M363 280.2l.9 7 2.4-5.1-1-7.6z"/><path fill="#0030ff" d="M360.7 284.8l.9 6.5 2.3-4.1-.9-7z"/><path fill="#0020ff" d="M358.3 287.7l.9 6.3 2.4-2.7-.9-6.5zM356 289.5l.9 6.2 2.3-1.7-.9-6.3z"/><path fill="#0010ff" d="M353.6 291.2l.9 6.3 2.4-1.8-.9-6.2zM351.3 292.9l.9 6.2 2.3-1.6-.9-6.3zM348.9 294.5l.9 6.2 2.4-1.6-.9-6.2z"/><path fill="#00f" d="M346.6 296l.9 6.1 2.3-1.4-.9-6.2zM344.2 297.2l.9 6.2 2.4-1.3-.9-6.1zM341.9 298.3l.9 6.2 2.3-1.1-.9-6.2zM339.5 299.3l1 6.2 2.3-1-.9-6.2zM337.2 300.3l.9 6.2 2.4-1-1-6.2zM334.9 301.4l.9 6.3 2.3-1.2-.9-6.2zM332.5 302.7l.9 6.2 2.4-1.2-.9-6.3zM330.2 304.1l.9 6.2 2.3-1.4-.9-6.2z"/><path fill="#0000ef" d="M327.8 305.6l.9 6.1 2.4-1.4-.9-6.2zM325.5 307.3l.9 6 2.3-1.6-.9-6.1zM323.1 309.1l.9 5.8 2.4-1.6-.9-6z"/><path fill="#0000df" d="M320.8 310.9l.9 5.8 2.3-1.8-.9-5.8zM318.4 312.9l1 5.6 2.3-1.8-.9-5.8zM316.1 315.1l.9 5.4 2.4-2-1-5.6z"/><path fill="#0000cf" d="M313.8 317.8l.9 5.1 2.3-2.4-.9-5.4zM311.4 320.6l.9 4.8 2.4-2.5-.9-5.1z"/><path fill="#0000ba" d="M309.1 323.6l.9 4.4 2.3-2.6-.9-4.8z"/><path fill="#0000a1" d="M306.7 326.6l.9 4 2.4-2.6-.9-4.4z"/><path fill="#000096" d="M304.4 329.9l.9 3.6 2.3-2.9-.9-4z"/><path fill="#00007b" d="M302 334.7l.9 2.8 2.4-4-.9-3.6z"/><path fill="#000063" d="M299.7 338.9l.9 1 2.3-2.4-.9-2.8z"/><path fill="#00005f" d="M297.3 340.1l.9 .5 2.4-.7-.9-1zM295 340.9l.9 .5 2.3-.8-.9-.5zM292.6 341.7l1 .5 2.3-.8-.9-.5zM290.3 342.4l.9 .5 2.4-.7-1-.5zM288 343.2l.9 .5 2.3-.8-.9-.5zM285.6 343.5l.9 .9 2.4-.7-.9-.5z"/><path fill="#000060" d="M283.3 343.2l.9 1.9 2.3-.7-.9-.9z"/><path fill="#000062" d="M280.9 342.7l.9 2.6 2.4-.2-.9-1.9z"/><path fill="#000065" d="M278.6 342.2l.9 3 2.3 .1-.9-2.6z"/><path fill="#00006a" d="M276.2 341.5l.9 3.3 2.4 .4-.9-3z"/><path fill="#00007c" d="M273.9 340.6l.9 3.6 2.3 .6-.9-3.3z"/><path fill="#000083" d="M271.5 339.5l1 3.9 2.3 .8-.9-3.6z"/><path fill="#000098" d="M269.2 338.3l.9 4.2 2.4 .9-1-3.9z"/><path fill="#0000a2" d="M266.9 337.1l.9 4.4 2.3 1-.9-4.2z"/><path fill="#0000ba" d="M264.5 335.9l.9 4.6 2.4 1-.9-4.4z"/><path fill="#0000cf" d="M262.2 334.6l.9 4.8 2.3 1.1-.9-4.6zM259.8 333.3l.9 4.9 2.4 1.2-.9-4.8z"/><path fill="#0000df" d="M257.5 331.9l.9 5.1 2.3 1.2-.9-4.9z"/><path fill="#0000ef" d="M255.1 330.4l.9 5.4 2.4 1.2-.9-5.1zM252.8 329l.9 5.6 2.3 1.2-.9-5.4z"/><path fill="#00f" d="M250.4 327.8l.9 5.8 2.4 1-.9-5.6zM248.1 326.9l.9 6 2.3 .7-.9-5.8z"/><path fill="#0010ff" d="M245.7 326.5l1 6.1 2.3 .3-.9-6zM243.4 326.6l.9 6.2 2.4-.2-1-6.1zM241.1 327.3l.9 6.1 2.3-.6-.9-6.2zM238.7 328.2l.9 6 2.4-.8-.9-6.1zM236.4 329.2l.9 5.9 2.3-.9-.9-6zM234 330.4l.9 5.7 2.4-1-.9-5.9zM231.7 331.7l.9 5.6 2.3-1.2-.9-5.7zM229.3 333l.9 5.4 2.4-1.1-.9-5.6zM227 334.3l.9 5.3 2.3-1.2-.9-5.4zM224.6 335.5l1 5.3 2.3-1.2-.9-5.3zM222.3 336.7l.9 5.1 2.4-1-1-5.3z"/><path fill="#00f" d="M220 338l.9 5 2.3-1.2-.9-5.1zM217.6 340.2l.9 4.9 2.4-2.1-.9-5z"/><path fill="#0000ef" d="M215.3 343.4l.9 4.6 2.3-2.9-.9-4.9zM212.9 347.1l.9 4.3 2.4-3.4-.9-4.6z"/><path fill="#0000df" d="M210.6 351.1l.9 3.9 2.3-3.6-.9-4.3z"/><path fill="#0000cf" d="M208.2 354.9l.9 3.6 2.4-3.5-.9-3.9z"/><path fill="#0000b8" d="M205.9 358.5l.9 3.3 2.3-3.3-.9-3.6z"/><path fill="#00009b" d="M203.5 362.2l.9 2.7 2.4-3.1-.9-3.3z"/><path fill="#000083" d="M201.2 365l.9 2.3 2.3-2.4-.9-2.7z"/><path fill="#00007d" d="M198.8 367.3l1 1.8 2.3-1.8-.9-2.3z"/><path fill="#000078" d="M196.5 369.1l.9 1.5 2.4-1.5-1-1.8z"/><path fill="#000069" d="M194.2 370.7l.9 1.1 2.3-1.2-.9-1.5z"/><path fill="#000067" d="M191.8 371.9l.9 1 2.4-1.1-.9-1.1z"/></g>
<path fill="none" stroke-width="0.45" d="M208.2 354.9l2.4-3.8 2.3-4 2.4-3.7 2.3-3.2 2.4-2.2 2.3-1.3 2.3-1.2 2.4-1.2 2.3-1.3 2.4-1.3 2.3-1.3 2.4-1.2 2.3-1 2.4-.9 2.3-.7 2.3-.1 2.4 .4 2.3 .9 2.4 1.2 2.3 1.4 2.4 1.5 2.3 1.4 2.4 1.3 2.3 1.3 2.4 1.2 2.3 1.2 2.3 1.2 2.4 1.1M304.4 329.9l2.3-3.3 2.4-3 2.3-3 2.4-2.8 2.3-2.7 2.3-2.2 2.4-2 2.3-1.8 2.4-1.8 2.3-1.7 2.4-1.5 2.3-1.4 2.4-1.3 2.3-1.1 2.3-1 2.4-1 2.3-1.1 2.4-1.2 2.3-1.5 2.4-1.6 2.3-1.7 2.4-1.7 2.3-1.8 2.4-2.9 2.3-4.6 2.3-5.7 2.4-5.9 2.3-4.2 2.4-2.8 2.3-1.8 2.4-.1 2.3 0 2.4 .1M209.1 358.5l2.4-3.5 2.3-3.6 2.4-3.4 2.3-2.9 2.4-2.1 2.3-1.2 2.4-1 2.3-1.2 2.3-1.2 2.4-1.1 2.3-1.2 2.4-1 2.3-.9 2.4-.8 2.3-.6 2.4-.2 2.3 .3 2.3 .7 2.4 1 2.3 1.2 2.4 1.2 2.3 1.2 2.4 1.2 2.3 1.1 2.4 1 2.3 1 2.4 .9 2.3 .8M305.3 333.5l2.3-2.9 2.4-2.6 2.3-2.6 2.4-2.5 2.3-2.4 2.4-2 2.3-1.8 2.3-1.8 2.4-1.6 2.3-1.6 2.4-1.4 2.3-1.4 2.4-1.2 2.3-1.2 2.4-1 2.3-1 2.3-1.1 2.4-1.3 2.3-1.4 2.4-1.6 2.3-1.6 2.4-1.8 2.3-1.7 2.4-2.7 2.3-4.1 2.4-5.1 2.3-5.2 2.3-3.9 2.4-2.7 2.3-2.1 2.4-1.7 2.3-1.4 2.4-1.2"/>
<g stroke-width="0.3"><path fill="#008fff" d="M394.4 260l.9 1.9 2.3-1.6-.9-.1z"/><path fill="#0080ff" d="M392 260.2l1 4.7 2.3-3-.9-1.9zM389.7 260.4l.9 6.9 2.4-2.4-1-4.7z"/><path fill="#0070ff" d="M387.4 261.1l.9 8 2.3-1.8-.9-6.9zM385 262.6l.9 8 2.4-1.5-.9-8zM382.7 263.9l.9 8.1 2.3-1.4-.9-8zM380.3 265.1l.9 8.2 2.4-1.3-.9-8.1zM378 266.5l.9 8.3 2.3-1.5-.9-8.2z"/><path fill="#0060ff" d="M375.6 268.2l.9 8.3 2.4-1.7-.9-8.3zM373.3 270.3l.9 8.3 2.3-2.1-.9-8.3z"/><path fill="#0050ff" d="M370.9 273l.9 8.1 2.4-2.5-.9-8.3zM368.6 276.9l.9 7.7 2.3-3.5-.9-8.1z"/><path fill="#0040ff" d="M366.3 282.1l.9 7.1 2.3-4.6-.9-7.7z"/><path fill="#0020ff" d="M363.9 287.2l.9 6.5 2.4-4.5-.9-7.1z"/><path fill="#0010ff" d="M361.6 291.3l.9 6.1 2.3-3.7-.9-6.5z"/><path fill="#00f" d="M359.2 294l.9 5.8 2.4-2.4-.9-6.1zM356.9 295.7l.9 5.9 2.3-1.8-.9-5.8zM354.5 297.5l.9 5.8 2.4-1.7-.9-5.9z"/><path fill="#0000ef" d="M352.2 299.1l.9 5.8 2.3-1.6-.9-5.8zM349.8 300.7l.9 5.7 2.4-1.5-.9-5.8zM347.5 302.1l.9 5.7 2.3-1.4-.9-5.7zM345.1 303.4l1 5.7 2.3-1.3-.9-5.7z"/><path fill="#0000df" d="M342.8 304.5l.9 5.8 2.4-1.2-1-5.7zM340.5 305.5l.9 5.8 2.3-1-.9-5.8zM338.1 306.5l.9 5.8 2.4-1-.9-5.8zM335.8 307.7l.9 5.7 2.3-1.1-.9-5.8zM333.4 308.9l.9 5.7 2.4-1.2-.9-5.7zM331.1 310.3l.9 5.6 2.3-1.3-.9-5.7zM328.7 311.7l.9 5.6 2.4-1.4-.9-5.6z"/><path fill="#0000cf" d="M326.4 313.3l.9 5.4 2.3-1.4-.9-5.6zM324 314.9l.9 5.4 2.4-1.6-.9-5.4zM321.7 316.7l.9 5.2 2.3-1.6-.9-5.4zM319.4 318.5l.9 5.1 2.3-1.7-.9-5.2z"/><path fill="#0000bd" d="M317 320.5l.9 4.9 2.4-1.8-.9-5.1z"/><path fill="#0000b6" d="M314.7 322.9l.9 4.6 2.3-2.1-.9-4.9z"/><path fill="#00009f" d="M312.3 325.4l.9 4.2 2.4-2.1-.9-4.6z"/><path fill="#000098" d="M310 328l.9 3.9 2.3-2.3-.9-4.2z"/><path fill="#000083" d="M307.6 330.6l.9 3.4 2.4-2.1-.9-3.9z"/><path fill="#00007b" d="M305.3 333.5l.9 3 2.3-2.5-.9-3.4z"/><path fill="#006" d="M302.9 337.5l.9 2 2.4-3-.9-3z"/><path fill="#000060" d="M300.6 339.9l.9 .5 2.3-.9-.9-2z"/><path fill="#00005f" d="M298.2 340.6l1 .5 2.3-.7-.9-.5zM295.9 341.4l.9 .5 2.4-.8-1-.5zM293.6 342.2l.9 .4 2.3-.7-.9-.5zM291.2 342.9l.9 .5 2.4-.8-.9-.4zM288.9 343.7l.9 .5 2.3-.8-.9-.5zM286.5 344.4l.9 .5 2.4-.7-.9-.5zM284.2 345.1l.9 .6 2.3-.8-.9-.5zM281.8 345.3l.9 1.1 2.4-.7-.9-.6z"/><path fill="#000060" d="M279.5 345.2l.9 1.9 2.3-.7-.9-1.1z"/><path fill="#000062" d="M277.1 344.8l.9 2.5 2.4-.2-.9-1.9z"/><path fill="#000065" d="M274.8 344.2l.9 3 2.3 .1-.9-2.5z"/><path fill="#00006a" d="M272.5 343.4l.9 3.3 2.3 .5-.9-3z"/><path fill="#00007c" d="M270.1 342.5l.9 3.6 2.4 .6-.9-3.3z"/><path fill="#000083" d="M267.8 341.5l.9 3.9 2.3 .7-.9-3.6z"/><path fill="#000098" d="M265.4 340.5l.9 4.1 2.4 .8-.9-3.9z"/><path fill="#0000a1" d="M263.1 339.4l.9 4.3 2.3 .9-.9-4.1z"/><path fill="#0000b9" d="M260.7 338.2l.9 4.6 2.4 .9-.9-4.3z"/><path fill="#0000cf" d="M258.4 337l.9 4.8 2.3 1-.9-4.6zM256 335.8l.9 5 2.4 1-.9-4.8z"/><path fill="#0000df" d="M253.7 334.6l.9 5.2 2.3 1-.9-5zM251.3 333.6l1 5.5 2.3 .7-.9-5.2z"/><path fill="#0000ef" d="M249 332.9l.9 5.7 2.4 .5-1-5.5zM246.7 332.6l.9 5.8 2.3 .2-.9-5.7zM244.3 332.8l.9 5.8 2.4-.2-.9-5.8z"/><path fill="#00f" d="M242 333.4l.9 5.7 2.3-.5-.9-5.8zM239.6 334.2l.9 5.6 2.4-.7-.9-5.7zM237.3 335.1l.9 5.5 2.3-.8-.9-5.6z"/><path fill="#0000ef" d="M234.9 336.1l.9 5.5 2.4-1-.9-5.5zM232.6 337.3l.9 5.2 2.3-.9-.9-5.5zM230.2 338.4l.9 5.2 2.4-1.1-.9-5.2zM227.9 339.6l.9 5 2.3-1-.9-5.2zM225.6 340.8l.9 4.9 2.3-1.1-.9-5zM223.2 341.8l.9 4.9 2.4-1-.9-4.9zM220.9 343l.9 4.8 2.3-1.1-.9-4.9zM218.5 345.1l.9 4.6 2.4-1.9-.9-4.8z"/><path fill="#0000df" d="M216.2 348l.9 4.3 2.3-2.6-.9-4.6z"/><path fill="#0000cf" d="M213.8 351.4l.9 4 2.4-3.1-.9-4.3zM211.5 355l.9 3.7 2.3-3.3-.9-4z"/><path fill="#0000b6" d="M209.1 358.5l.9 3.3 2.4-3.1-.9-3.7z"/><path fill="#00009b" d="M206.8 361.8l.9 3 2.3-3-.9-3.3z"/><path fill="#000083" d="M204.4 364.9l1 2.5 2.3-2.6-.9-3z"/><path fill="#00007b" d="M202.1 367.3l.9 2 2.4-1.9-1-2.5z"/><path fill="#00006b" d="M199.8 369.1l.9 1.6 2.3-1.4-.9-2z"/><path fill="#000068" d="M197.4 370.6l.9 1.3 2.4-1.2-.9-1.6z"/><path fill="#006" d="M195.1 371.8l.9 1.1 2.3-1-.9-1.3z"/><path fill="#000065" d="M192.7 372.9l.9 .9 2.4-.9-.9-1.1z"/></g>
<path fill="none" stroke-width="0.45" d="M211.5 355l2.3-3.6 2.4-3.4 2.3-2.9 2.4-2.1 2.3-1.2 2.4-1 2.3-1.2 2.3-1.2 2.4-1.1 2.3-1.2 2.4-1 2.3-.9 2.4-.8 2.3-.6 2.4-.2 2.3 .3 2.3 .7 2.4 1 2.3 1.2 2.4 1.2 2.3 1.2 2.4 1.2 2.3 1.1 2.4 1 2.3 1M310 328l2.3-2.6 2.4-2.5 2.3-2.4 2.4-2 2.3-1.8 2.3-1.8 2.4-1.6 2.3-1.6 2.4-1.4 2.3-1.4 2.4-1.2 2.3-1.2 2.4-1 2.3-1 2.3-1.1 2.4-1.3 2.3-1.4 2.4-1.6 2.3-1.6 2.4-1.8 2.3-1.7 2.4-2.7 2.3-4.1 2.4-5.1 2.3-5.2 2.3-3.9 2.4-2.7 2.3-2.1 2.4-1.7 2.3-1.4 2.4-1.2 2.3-1.3 2.4-1.5 2.3-.7 2.3-.2M212.4 358.7l2.3-3.3 2.4-3.1 2.3-2.6 2.4-1.9 2.3-1.1 2.4-1 2.3-1.1 2.3-1 2.4-1.1 2.3-.9 2.4-1 2.3-.8 2.4-.7 2.3-.5 2.4-.2 2.3 .2 2.4 .5 2.3 .7 2.3 1 2.4 1 2.3 1 2.4 .9 2.3 .9 2.4 .8 2.3 .7M310.9 331.9l2.3-2.3 2.4-2.1 2.3-2.1 2.4-1.8 2.3-1.7 2.3-1.6 2.4-1.6 2.3-1.4 2.4-1.4 2.3-1.3 2.4-1.2 2.3-1.1 2.4-1 2.3-1 2.4-1.2 2.3-1.3 2.3-1.4 2.4-1.5 2.3-1.6 2.4-1.7 2.3-1.8 2.4-2.4 2.3-3.7 2.4-4.5 2.3-4.6 2.3-3.5 2.4-2.5 2.3-2.1 2.4-1.7 2.3-1.5 2.4-1.3 2.3-1.4 2.4-1.5 2.3-1.8 2.4-2.4"/>
<g stroke-width="0.3"><path fill="#0080ff" d="M400 260.1l.9 2.2 2.3-2-.9 .2zM397.6 260.3l1 6 2.3-4-.9-2.2z"/><path fill="#0070ff" d="M395.3 261.9l.9 7.9 2.4-3.5-1-6z"/><path fill="#0060ff" d="M393 264.9l.9 7.7 2.3-2.8-.9-7.9zM390.6 267.3l.9 7.6 2.4-2.3-.9-7.7z"/><path fill="#0050ff" d="M388.3 269.1l.9 7.6 2.3-1.8-.9-7.6zM385.9 270.6l.9 7.7 2.4-1.6-.9-7.6zM383.6 272l.9 7.7 2.3-1.4-.9-7.7z"/><path fill="#0040ff" d="M381.2 273.3l.9 7.8 2.4-1.4-.9-7.7zM378.9 274.8l.9 7.8 2.3-1.5-.9-7.8zM376.5 276.5l.9 7.8 2.4-1.7-.9-7.8z"/><path fill="#0030ff" d="M374.2 278.6l.9 7.7 2.3-2-.9-7.8zM371.8 281.1l1 7.6 2.3-2.4-.9-7.7z"/><path fill="#0020ff" d="M369.5 284.6l.9 7.3 2.4-3.2-1-7.6z"/><path fill="#0010ff" d="M367.2 289.2l.9 6.7 2.3-4-.9-7.3z"/><path fill="#00f" d="M364.8 293.7l.9 6.2 2.4-4-.9-6.7z"/><path fill="#0000ef" d="M362.5 297.4l.9 5.7 2.3-3.2-.9-6.2zM360.1 299.8l.9 5.5 2.4-2.2-.9-5.7z"/><path fill="#0000df" d="M357.8 301.6l.9 5.4 2.3-1.7-.9-5.5zM355.4 303.3l.9 5.3 2.4-1.6-.9-5.4zM353.1 304.9l.9 5.3 2.3-1.6-.9-5.3z"/><path fill="#0000cf" d="M350.7 306.4l1 5.3 2.3-1.5-.9-5.3zM348.4 307.8l.9 5.3 2.4-1.4-1-5.3zM346.1 309.1l.9 5.2 2.3-1.2-.9-5.3zM343.7 310.3l.9 5.2 2.4-1.2-.9-5.2zM341.4 311.3l.9 5.2 2.3-1-.9-5.2zM339 312.3l.9 5.3 2.4-1.1-.9-5.2z"/><path fill="#0000bf" d="M336.7 313.4l.9 5.2 2.3-1-.9-5.3zM334.3 314.6l.9 5.2 2.4-1.2-.9-5.2z"/><path fill="#0000bd" d="M332 315.9l.9 5.1 2.3-1.2-.9-5.2z"/><path fill="#00b" d="M329.6 317.3l.9 5 2.4-1.3-.9-5.1z"/><path fill="#0000b7" d="M327.3 318.7l.9 4.9 2.3-1.3-.9-5z"/><path fill="#0000b4" d="M324.9 320.3l1 4.8 2.3-1.5-.9-4.9z"/><path fill="#0000a1" d="M322.6 321.9l.9 4.6 2.4-1.4-1-4.8z"/><path fill="#00009d" d="M320.3 323.6l.9 4.5 2.3-1.6-.9-4.6z"/><path fill="#000098" d="M317.9 325.4l.9 4.3 2.4-1.6-.9-4.5z"/><path fill="#000093" d="M315.6 327.5l.9 4 2.3-1.8-.9-4.3z"/><path fill="#000081" d="M313.2 329.6l.9 3.7 2.4-1.8-.9-4z"/><path fill="#00007b" d="M310.9 331.9l.9 3.2 2.3-1.8-.9-3.7z"/><path fill="#00006a" d="M308.5 334l.9 2.9 2.4-1.8-.9-3.2z"/><path fill="#000065" d="M306.2 336.5l.9 2.3 2.3-1.9-.9-2.9z"/><path fill="#000061" d="M303.8 339.5l1 .6 2.3-1.3-.9-2.3z"/><path fill="#00005f" d="M301.5 340.4l.9 .5 2.4-.8-1-.6zM299.2 341.1l.9 .5 2.3-.7-.9-.5zM296.8 341.9l.9 .5 2.4-.8-.9-.5zM294.5 342.6l.9 .5 2.3-.7-.9-.5zM292.1 343.4l.9 .5 2.4-.8-.9-.5zM289.8 344.2l.9 .5 2.3-.8-.9-.5zM287.4 344.9l.9 .5 2.4-.7-.9-.5zM285.1 345.7l.9 .5 2.3-.8-.9-.5zM282.7 346.4l.9 .5 2.4-.7-.9-.5zM280.4 347.1l.9 .6 2.3-.8-.9-.5zM278 347.3l1 1.1 2.3-.7-.9-.6z"/><path fill="#000060" d="M275.7 347.2l.9 1.9 2.4-.7-1-1.1z"/><path fill="#000062" d="M273.4 346.7l.9 2.6 2.3-.2-.9-1.9z"/><path fill="#000065" d="M271 346.1l.9 3 2.4 .2-.9-2.6z"/><path fill="#00006a" d="M268.7 345.4l.9 3.3 2.3 .4-.9-3z"/><path fill="#00007c" d="M266.3 344.6l.9 3.6 2.4 .5-.9-3.3z"/><path fill="#000083" d="M264 343.7l.9 3.8 2.3 .7-.9-3.6z"/><path fill="#000097" d="M261.6 342.8l.9 4 2.4 .7-.9-3.8z"/><path fill="#00009f" d="M259.3 341.8l.9 4.3 2.3 .7-.9-4z"/><path fill="#0000b6" d="M256.9 340.8l1 4.5 2.3 .8-.9-4.3z"/><path fill="#0000bf" d="M254.6 339.8l.9 4.8 2.4 .7-1-4.5z"/><path fill="#0000cf" d="M252.3 339.1l.9 5 2.3 .5-.9-4.8zM249.9 338.6l.9 5.1 2.4 .4-.9-5z"/><path fill="#0000df" d="M247.6 338.4l.9 5.3 2.3 0-.9-5.1zM245.2 338.6l.9 5.3 2.4-.2-.9-5.3zM242.9 339.1l.9 5.3 2.3-.5-.9-5.3zM240.5 339.8l.9 5.2 2.4-.6-.9-5.3zM238.2 340.6l.9 5.2 2.3-.8-.9-5.2zM235.8 341.6l.9 5 2.4-.8-.9-5.2zM233.5 342.5l.9 5 2.3-.9-.9-5zM231.1 343.6l1 4.8 2.3-.9-.9-5zM228.8 344.6l.9 4.8 2.4-1-1-4.8zM226.5 345.7l.9 4.6 2.3-.9-.9-4.8zM224.1 346.7l.9 4.5 2.4-.9-.9-4.6zM221.8 347.8l.9 4.5 2.3-1.1-.9-4.5z"/><path fill="#0000cf" d="M219.4 349.7l.9 4.2 2.4-1.6-.9-4.5zM217.1 352.3l.9 4 2.3-2.4-.9-4.2z"/><path fill="#0000bf" d="M214.7 355.4l.9 3.7 2.4-2.8-.9-4z"/><path fill="#0000b3" d="M212.4 358.7l.9 3.3 2.3-2.9-.9-3.7z"/><path fill="#000098" d="M210 361.8l1 3.1 2.3-2.9-.9-3.3z"/><path fill="#000081" d="M207.7 364.8l.9 2.6 2.4-2.5-1-3.1z"/><path fill="#000079" d="M205.4 367.4l.9 2.2 2.3-2.2-.9-2.6z"/><path fill="#000068" d="M203 369.3l.9 1.7 2.4-1.4-.9-2.2z"/><path fill="#006" d="M200.7 370.7l.9 1.4 2.3-1.1-.9-1.7z"/><path fill="#000065" d="M198.3 371.9l.9 1.1 2.4-.9-.9-1.4z"/><path fill="#000064" d="M196 372.9l.9 1 2.3-.9-.9-1.1z"/><path fill="#000063" d="M193.6 373.8l.9 .9 2.4-.8-.9-1z"/></g>
<path fill="none" stroke-width="0.45" d="M214.7 355.4l2.4-3.1 2.3-2.6 2.4-1.9 2.3-1.1 2.4-1 2.3-1.1 2.3-1 2.4-1.1 2.3-.9 2.4-1 2.3-.8 2.4-.7 2.3-.5 2.4-.2 2.3 .2 2.4 .5 2.3 .7 2.3 1 2.4 1 2.3 1 2.4 .9 2.3 .9M313.2 329.6l2.4-2.1 2.3-2.1 2.4-1.8 2.3-1.7 2.3-1.6 2.4-1.6 2.3-1.4 2.4-1.4 2.3-1.3 2.4-1.2 2.3-1.1 2.4-1 2.3-1 2.4-1.2 2.3-1.3 2.3-1.4 2.4-1.5 2.3-1.6 2.4-1.7 2.3-1.8 2.4-2.4 2.3-3.7 2.4-4.5 2.3-4.6 2.3-3.5 2.4-2.5 2.3-2.1 2.4-1.7 2.3-1.5 2.4-1.3 2.3-1.4 2.4-1.5 2.3-1.8 2.4-2.4 2.3-3 2.3-1.6M215.6 359.1l2.4-2.8 2.3-2.4 2.4-1.6 2.3-1.1 2.4-.9 2.3-.9 2.4-1 2.3-.9 2.3-.9 2.4-.8 2.3-.8 2.4-.6 2.3-.5 2.4-.2 2.3 0 2.4 .4 2.3 .5 2.4 .7 2.3 .8 2.3 .7 2.4 .7 2.3 .7M314.1 333.3l2.4-1.8 2.3-1.8 2.4-1.6 2.3-1.6 2.4-1.4 2.3-1.5 2.3-1.3 2.4-1.3 2.3-1.2 2.4-1.2 2.3-1 2.4-1.1 2.3-1 2.4-1.2 2.3-1.2 2.4-1.4 2.3-1.5 2.3-1.6 2.4-1.6 2.3-1.7 2.4-2.2 2.3-3.2 2.4-4 2.3-4 2.4-3.2 2.3-2.4 2.3-2 2.4-1.7 2.3-1.5 2.4-1.4 2.3-1.4 2.4-1.6 2.3-1.8 2.4-2.3 2.3-2.8 2.4-3.5"/>
<g stroke-width="0.3"><path fill="#0080ff" d="M405.6 260.1l.9 1.3 2.3-1.1-.9 .8zM403.2 260.3l.9 5.8 2.4-4.7-.9-1.3z"/><path fill="#0070ff" d="M400.9 262.3l.9 8 2.3-4.2-.9-5.8z"/><path fill="#0060ff" d="M398.6 266.3l.9 7.8 2.3-3.8-.9-8z"/><path fill="#0050ff" d="M396.2 269.8l.9 7.5 2.4-3.2-.9-7.8z"/><path fill="#0040ff" d="M393.9 272.6l.9 7.3 2.3-2.6-.9-7.5z"/><path fill="#0030ff" d="M391.5 274.9l.9 7.2 2.4-2.2-.9-7.3zM389.2 276.7l.9 7.2 2.3-1.8-.9-7.2zM386.8 278.3l.9 7.2 2.4-1.6-.9-7.2z"/><path fill="#0020ff" d="M384.5 279.7l.9 7.2 2.3-1.4-.9-7.2zM382.1 281.1l.9 7.3 2.4-1.5-.9-7.2zM379.8 282.6l.9 7.3 2.3-1.5-.9-7.3zM377.4 284.3l1 7.3 2.3-1.7-.9-7.3z"/><path fill="#0010ff" d="M375.1 286.3l.9 7.3 2.4-2-1-7.3zM372.8 288.7l.9 7.1 2.3-2.2-.9-7.3z"/><path fill="#00f" d="M370.4 291.9l.9 6.8 2.4-2.9-.9-7.1z"/><path fill="#0000ef" d="M368.1 295.9l.9 6.2 2.3-3.4-.9-6.8z"/><path fill="#0000df" d="M365.7 299.9l.9 5.6 2.4-3.4-.9-6.2zM363.4 303.1l.9 5.2 2.3-2.8-.9-5.6z"/><path fill="#0000cf" d="M361 305.3l.9 5 2.4-2-.9-5.2zM358.7 307l.9 4.9 2.3-1.6-.9-5z"/><path fill="#0000bf" d="M356.3 308.6l.9 4.9 2.4-1.6-.9-4.9z"/><path fill="#0000bc" d="M354 310.2l.9 4.8 2.3-1.5-.9-4.9z"/><path fill="#0000b8" d="M351.7 311.7l.9 4.7 2.3-1.4-.9-4.8z"/><path fill="#0000b4" d="M349.3 313.1l.9 4.7 2.4-1.4-.9-4.7z"/><path fill="#0000a2" d="M347 314.3l.9 4.7 2.3-1.2-.9-4.7z"/><path fill="#0000a0" d="M344.6 315.5l.9 4.6 2.4-1.1-.9-4.7z"/><path fill="#00009f" d="M342.3 316.5l.9 4.7 2.3-1.1-.9-4.6z"/><path fill="#00009d" d="M339.9 317.6l.9 4.6 2.4-1-.9-4.7z"/><path fill="#00009c" d="M337.6 318.6l.9 4.7 2.3-1.1-.9-4.6z"/><path fill="#00009a" d="M335.2 319.8l.9 4.5 2.4-1-.9-4.7z"/><path fill="#000098" d="M332.9 321l.9 4.5 2.3-1.2-.9-4.5z"/><path fill="#000096" d="M330.5 322.3l1 4.3 2.3-1.1-.9-4.5z"/><path fill="#000094" d="M328.2 323.6l.9 4.3 2.4-1.3-1-4.3z"/><path fill="#000084" d="M325.9 325.1l.9 4.1 2.3-1.3-.9-4.3z"/><path fill="#000081" d="M323.5 326.5l.9 4 2.4-1.3-.9-4.1z"/><path fill="#00007e" d="M321.2 328.1l.9 3.8 2.3-1.4-.9-4z"/><path fill="#00007b" d="M318.8 329.7l.9 3.6 2.4-1.4-.9-3.8z"/><path fill="#00006b" d="M316.5 331.5l.9 3.3 2.3-1.5-.9-3.6z"/><path fill="#000068" d="M314.1 333.3l.9 3 2.4-1.5-.9-3.3z"/><path fill="#000065" d="M311.8 335.1l.9 2.6 2.3-1.4-.9-3z"/><path fill="#000062" d="M309.4 336.9l.9 2 2.4-1.2-.9-2.6z"/><path fill="#000060" d="M307.1 338.8l.9 1.1 2.3-1-.9-2z"/><path fill="#00005f" d="M304.8 340.1l.9 .5 2.3-.7-.9-1.1zM302.4 340.9l.9 .5 2.4-.8-.9-.5zM300.1 341.6l.9 .5 2.3-.7-.9-.5zM297.7 342.4l.9 .5 2.4-.8-.9-.5zM295.4 343.1l.9 .5 2.3-.7-.9-.5zM293 343.9l.9 .5 2.4-.8-.9-.5zM290.7 344.7l.9 .4 2.3-.7-.9-.5zM288.3 345.4l.9 .5 2.4-.8-.9-.4zM286 346.2l.9 .5 2.3-.8-.9-.5zM283.6 346.9l1 .5 2.3-.7-.9-.5zM281.3 347.7l.9 .5 2.4-.8-1-.5zM279 348.4l.9 .5 2.3-.7-.9-.5zM276.6 349.1l.9 .6 2.4-.8-.9-.5zM274.3 349.3l.9 1.1 2.3-.7-.9-.6z"/><path fill="#000060" d="M271.9 349.1l.9 2 2.4-.7-.9-1.1z"/><path fill="#000062" d="M269.6 348.7l.9 2.6 2.3-.2-.9-2z"/><path fill="#006" d="M267.2 348.2l.9 2.9 2.4 .2-.9-2.6z"/><path fill="#00006a" d="M264.9 347.5l.9 3.3 2.3 .3-.9-2.9z"/><path fill="#00007b" d="M262.5 346.8l.9 3.6 2.4 .4-.9-3.3z"/><path fill="#000081" d="M260.2 346.1l.9 3.8 2.3 .5-.9-3.6z"/><path fill="#000095" d="M257.9 345.3l.9 4.1 2.3 .5-.9-3.8z"/><path fill="#00009c" d="M255.5 344.6l.9 4.3 2.4 .5-.9-4.1z"/><path fill="#0000a2" d="M253.2 344.1l.9 4.5 2.3 .3-.9-4.3z"/><path fill="#0000b6" d="M250.8 343.7l.9 4.7 2.4 .2-.9-4.5z"/><path fill="#00b" d="M248.5 343.7l.9 4.8 2.3-.1-.9-4.7z"/><path fill="#0000be" d="M246.1 343.9l.9 4.9 2.4-.3-.9-4.8z"/><path fill="#0000bf" d="M243.8 344.4l.9 4.8 2.3-.4-.9-4.9zM241.4 345l.9 4.8 2.4-.6-.9-4.8z"/><path fill="#0000cf" d="M239.1 345.8l.9 4.7 2.3-.7-.9-4.8zM236.7 346.6l1 4.6 2.3-.7-.9-4.7zM234.4 347.5l.9 4.5 2.4-.8-1-4.6zM232.1 348.4l.9 4.4 2.3-.8-.9-4.5z"/><path fill="#0000bf" d="M229.7 349.4l.9 4.3 2.4-.9-.9-4.4zM227.4 350.3l.9 4.3 2.3-.9-.9-4.3zM225 351.2l.9 4.2 2.4-.8-.9-4.3zM222.7 352.3l.9 4.1 2.3-1-.9-4.2z"/><path fill="#0000bd" d="M220.3 353.9l.9 4 2.4-1.5-.9-4.1z"/><path fill="#0000b6" d="M218 356.3l.9 3.7 2.3-2.1-.9-4z"/><path fill="#00009f" d="M215.6 359.1l.9 3.4 2.4-2.5-.9-3.7z"/><path fill="#000095" d="M213.3 362l.9 3.1 2.3-2.6-.9-3.4z"/><path fill="#00007f" d="M211 364.9l.9 2.7 2.3-2.5-.9-3.1z"/><path fill="#007" d="M208.6 367.4l.9 2.3 2.4-2.1-.9-2.7z"/><path fill="#006" d="M206.3 369.6l.9 1.8 2.3-1.7-.9-2.3z"/><path fill="#000063" d="M203.9 371l.9 1.4 2.4-1-.9-1.8z"/><path fill="#000062" d="M201.6 372.1l.9 1 2.3-.7-.9-1.4zM199.2 373l.9 .9 2.4-.8-.9-1zM196.9 373.9l.9 .8 2.3-.8-.9-.9zM194.5 374.7l.9 .8 2.4-.8-.9-.8z"/></g>
<path fill="none" stroke-width="0.45" d="M218 356.3l2.3-2.4 2.4-1.6 2.3-1.1 2.4-.9 2.3-.9 2.4-1 2.3-.9 2.3-.9 2.4-.8 2.3-.8 2.4-.6 2.3-.5 2.4-.2 2.3 0 2.4 .4 2.3 .5 2.4 .7 2.3 .8 2.3 .7M318.8 329.7l2.4-1.6 2.3-1.6 2.4-1.4 2.3-1.5 2.3-1.3 2.4-1.3 2.3-1.2 2.4-1.2 2.3-1 2.4-1.1 2.3-1 2.4-1.2 2.3-1.2 2.4-1.4 2.3-1.5 2.3-1.6 2.4-1.6 2.3-1.7 2.4-2.2 2.3-3.2 2.4-4 2.3-4 2.4-3.2 2.3-2.4 2.3-2 2.4-1.7 2.3-1.5 2.4-1.4 2.3-1.4 2.4-1.6 2.3-1.8 2.4-2.3 2.3-2.8 2.4-3.5 2.3-4 2.3-2M218.9 360l2.3-2.1 2.4-1.5 2.3-1 2.4-.8 2.3-.9 2.4-.9 2.3-.8 2.4-.8 2.3-.7 2.3-.7 2.4-.6 2.3-.4 2.4-.3 2.3-.1 2.4 .2 2.3 .3 2.4 .5 2.3 .5 2.3 .5M319.7 333.3l2.4-1.4 2.3-1.4 2.4-1.3 2.3-1.3 2.4-1.3 2.3-1.1 2.3-1.2 2.4-1 2.3-1.1 2.4-1 2.3-1.1 2.4-1.1 2.3-1.2 2.4-1.4 2.3-1.4 2.3-1.5 2.4-1.6 2.3-1.6 2.4-2 2.3-2.8 2.4-3.4 2.3-3.4 2.4-2.9 2.3-2.2 2.4-2 2.3-1.7 2.3-1.5 2.4-1.5 2.3-1.4 2.4-1.6 2.3-1.8 2.4-2.2 2.3-2.6 2.4-3.2 2.3-3.8 2.3-4.2"/>
<g stroke-width="0.3"><path fill="#0080ff" d="M411.2 260.1l.9 .5 2.3-.3-.9 1.1z"/><path fill="#0070ff" d="M408.8 260.3l.9 4.8 2.4-4.5-.9-.5z"/><path fill="#0060ff" d="M406.5 261.4l.9 8.4 2.3-4.7-.9-4.8z"/><path fill="#0050ff" d="M404.1 266.1l1 8 2.3-4.3-.9-8.4z"/><path fill="#0040ff" d="M401.8 270.3l.9 7.6 2.4-3.8-1-8z"/><path fill="#0030ff" d="M399.5 274.1l.9 7.2 2.3-3.4-.9-7.6z"/><path fill="#0020ff" d="M397.1 277.3l.9 7 2.4-3-.9-7.2zM394.8 279.9l.9 6.9 2.3-2.5-.9-7z"/><path fill="#0010ff" d="M392.4 282.1l.9 6.7 2.4-2-.9-6.9zM390.1 283.9l.9 6.7 2.3-1.8-.9-6.7z"/><path fill="#00f" d="M387.7 285.5l.9 6.7 2.4-1.6-.9-6.7zM385.4 286.9l.9 6.7 2.3-1.4-.9-6.7zM383 288.4l1 6.7 2.3-1.5-.9-6.7zM380.7 289.9l.9 6.8 2.4-1.6-1-6.7z"/><path fill="#0000ef" d="M378.4 291.6l.9 6.7 2.3-1.6-.9-6.8zM376 293.6l.9 6.6 2.4-1.9-.9-6.7zM373.7 295.8l.9 6.5 2.3-2.1-.9-6.6z"/><path fill="#0000df" d="M371.3 298.7l.9 6.1 2.4-2.5-.9-6.5z"/><path fill="#0000cf" d="M369 302.1l.9 5.7 2.3-3-.9-6.1zM366.6 305.5l.9 5.1 2.4-2.8-.9-5.7z"/><path fill="#0000bc" d="M364.3 308.3l.9 4.7 2.3-2.4-.9-5.1z"/><path fill="#0000b4" d="M361.9 310.3l.9 4.5 2.4-1.8-.9-4.7z"/><path fill="#0000a0" d="M359.6 311.9l.9 4.5 2.3-1.6-.9-4.5z"/><path fill="#00009c" d="M357.2 313.5l1 4.3 2.3-1.4-.9-4.5z"/><path fill="#000098" d="M354.9 315l.9 4.3 2.4-1.5-1-4.3z"/><path fill="#000095" d="M352.6 316.4l.9 4.2 2.3-1.3-.9-4.3z"/><path fill="#000085" d="M350.2 317.8l.9 4.1 2.4-1.3-.9-4.2z"/><path fill="#000082" d="M347.9 319l.9 4.1 2.3-1.2-.9-4.1z"/><path fill="#000080" d="M345.5 320.1l.9 4 2.4-1-.9-4.1z"/><path fill="#00007f" d="M343.2 321.2l.9 4 2.3-1.1-.9-4z"/><path fill="#00007e" d="M340.8 322.2l.9 4 2.4-1-.9-4z"/><path fill="#00007d" d="M338.5 323.3l.9 3.9 2.3-1-.9-4z"/><path fill="#00007b" d="M336.1 324.3l1 3.9 2.3-1-.9-3.9z"/><path fill="#00007a" d="M333.8 325.5l.9 3.7 2.4-1-1-3.9z"/><path fill="#000079" d="M331.5 326.6l.9 3.7 2.3-1.1-.9-3.7z"/><path fill="#00006b" d="M329.1 327.9l.9 3.5 2.4-1.1-.9-3.7z"/><path fill="#000069" d="M326.8 329.2l.9 3.3 2.3-1.1-.9-3.5z"/><path fill="#000068" d="M324.4 330.5l.9 3.2 2.4-1.2-.9-3.3z"/><path fill="#006" d="M322.1 331.9l.9 2.9 2.3-1.1-.9-3.2z"/><path fill="#000064" d="M319.7 333.3l.9 2.7 2.4-1.2-.9-2.9z"/><path fill="#000062" d="M317.4 334.8l.9 2.3 2.3-1.1-.9-2.7z"/><path fill="#000060" d="M315 336.3l.9 1.8 2.4-1-.9-2.3zM312.7 337.7l.9 1.1 2.3-.7-.9-1.8z"/><path fill="#00005f" d="M310.3 338.9l1 .7 2.3-.8-.9-1.1zM308 339.9l.9 .4 2.4-.7-1-.7zM305.7 340.6l.9 .5 2.3-.8-.9-.4zM303.3 341.4l.9 .5 2.4-.8-.9-.5zM301 342.1l.9 .5 2.3-.7-.9-.5zM298.6 342.9l.9 .5 2.4-.8-.9-.5zM296.3 343.6l.9 .5 2.3-.7-.9-.5zM293.9 344.4l.9 .5 2.4-.8-.9-.5zM291.6 345.1l.9 .5 2.3-.7-.9-.5zM289.2 345.9l1 .5 2.3-.8-.9-.5zM286.9 346.7l.9 .5 2.4-.8-1-.5zM284.6 347.4l.9 .5 2.3-.7-.9-.5zM282.2 348.2l.9 .5 2.4-.8-.9-.5zM279.9 348.9l.9 .5 2.3-.7-.9-.5zM277.5 349.7l.9 .5 2.4-.8-.9-.5zM275.2 350.4l.9 .5 2.3-.7-.9-.5zM272.8 351.1l.9 .6 2.4-.8-.9-.5zM270.5 351.3l.9 1.2 2.3-.8-.9-.6z"/><path fill="#000060" d="M268.1 351.1l.9 2 2.4-.6-.9-1.2z"/><path fill="#000062" d="M265.8 350.8l.9 2.5 2.3-.2-.9-2z"/><path fill="#000065" d="M263.4 350.4l1 2.8 2.3 .1-.9-2.5z"/><path fill="#000069" d="M261.1 349.9l.9 3.2 2.4 .1-1-2.8z"/><path fill="#000079" d="M258.8 349.4l.9 3.5 2.3 .2-.9-3.2z"/><path fill="#00007e" d="M256.4 348.9l.9 3.8 2.4 .2-.9-3.5z"/><path fill="#000083" d="M254.1 348.6l.9 3.9 2.3 .2-.9-3.8z"/><path fill="#000094" d="M251.7 348.4l.9 4.2 2.4-.1-.9-3.9z"/><path fill="#000098" d="M249.4 348.5l.9 4.3 2.3-.2-.9-4.2z"/><path fill="#00009a" d="M247 348.8l.9 4.3 2.4-.3-.9-4.3z"/><path fill="#00009c" d="M244.7 349.2l.9 4.4 2.3-.5-.9-4.3z"/><path fill="#00009e" d="M242.3 349.8l1 4.3 2.3-.5-.9-4.4zM240 350.5l.9 4.2 2.4-.6-1-4.3z"/><path fill="#00009f" d="M237.7 351.2l.9 4.2 2.3-.7-.9-4.2zM235.3 352l.9 4.1 2.4-.7-.9-4.2zM233 352.8l.9 4 2.3-.7-.9-4.1zM230.6 353.7l.9 3.9 2.4-.8-.9-4zM228.3 354.6l.9 3.8 2.3-.8-.9-3.9zM225.9 355.4l.9 3.9 2.4-.9-.9-3.8z"/><path fill="#00009e" d="M223.6 356.4l.9 3.7 2.3-.8-.9-3.9z"/><path fill="#00009c" d="M221.2 357.9l.9 3.6 2.4-1.4-.9-3.7z"/><path fill="#000097" d="M218.9 360l.9 3.4 2.3-1.9-.9-3.6z"/><path fill="#000083" d="M216.5 362.5l1 3 2.3-2.1-.9-3.4z"/><path fill="#00007c" d="M214.2 365.1l.9 2.7 2.4-2.3-1-3z"/><path fill="#00006a" d="M211.9 367.6l.9 2.2 2.3-2-.9-2.7z"/><path fill="#000064" d="M209.5 369.7l.9 1.9 2.4-1.8-.9-2.2z"/><path fill="#000061" d="M207.2 371.4l.9 1.2 2.3-1-.9-1.9zM204.8 372.4l.9 .8 2.4-.6-.9-1.2zM202.5 373.1l.9 .8 2.3-.7-.9-.8zM200.1 373.9l.9 .7 2.4-.7-.9-.8zM197.8 374.7l.9 .7 2.3-.8-.9-.7zM195.4 375.5l1 .8 2.3-.9-.9-.7z"/></g>
<path fill="none" stroke-width="0.45" d="M221.2 357.9l2.4-1.5 2.3-1 2.4-.8 2.3-.9 2.4-.9 2.3-.8 2.4-.8 2.3-.7 2.3-.7 2.4-.6 2.3-.4 2.4-.3 2.3-.1 2.4 .2 2.3 .3M329.1 327.9l2.4-1.3 2.3-1.1 2.3-1.2 2.4-1 2.3-1.1 2.4-1 2.3-1.1 2.4-1.1 2.3-1.2 2.4-1.4 2.3-1.4 2.3-1.5 2.4-1.6 2.3-1.6 2.4-2 2.3-2.8 2.4-3.4 2.3-3.4 2.4-2.9 2.3-2.2 2.4-2 2.3-1.7 2.3-1.5 2.4-1.5 2.3-1.4 2.4-1.6 2.3-1.8 2.4-2.2 2.3-2.6 2.4-3.2 2.3-3.8 2.3-4.2 2.4-4.7 2.3-1.1M222.1 361.5l2.4-1.4 2.3-.8 2.4-.9 2.3-.8 2.4-.8 2.3-.7 2.4-.7 2.3-.7 2.4-.6 2.3-.5 2.3-.5 2.4-.3 2.3-.2 2.4-.1 2.3 .2M330 331.4l2.4-1.1 2.3-1.1 2.4-1 2.3-1 2.3-1 2.4-1 2.3-1.1 2.4-1 2.3-1.2 2.4-1.3 2.3-1.3 2.4-1.5 2.3-1.4 2.3-1.6 2.4-1.8 2.3-2.4 2.4-2.8 2.3-3 2.4-2.5 2.3-2.1 2.4-1.9 2.3-1.6 2.4-1.6 2.3-1.5 2.3-1.4 2.4-1.6 2.3-1.8 2.4-2 2.3-2.5 2.4-3 2.3-3.4 2.4-3.8 2.3-4.3 2.3-4.7"/>
<g stroke-width="0.3"><path fill="#0070ff" d="M416.8 260l.9 .5 2.3-.3-.9 .6zM414.4 260.3l.9 4.1 2.4-3.9-.9-.5z"/><path fill="#0060ff" d="M412.1 260.6l.9 8.4 2.3-4.6-.9-4.1z"/><path fill="#0050ff" d="M409.7 265.1l1 8.3 2.3-4.4-.9-8.4z"/><path fill="#0040ff" d="M407.4 269.8l.9 7.9 2.4-4.3-1-8.3z"/><path fill="#0030ff" d="M405.1 274.1l.9 7.5 2.3-3.9-.9-7.9z"/><path fill="#0020ff" d="M402.7 277.9l.9 7.2 2.4-3.5-.9-7.5z"/><path fill="#0010ff" d="M400.4 281.3l.9 6.8 2.3-3-.9-7.2z"/><path fill="#00f" d="M398 284.3l.9 6.5 2.4-2.7-.9-6.8zM395.7 286.8l.9 6.3 2.3-2.3-.9-6.5z"/><path fill="#0000ef" d="M393.3 288.8l.9 6.3 2.4-2-.9-6.3zM391 290.6l.9 6.2 2.3-1.7-.9-6.3zM388.6 292.2l.9 6.1 2.4-1.5-.9-6.2z"/><path fill="#0000df" d="M386.3 293.6l.9 6.2 2.3-1.5-.9-6.1zM384 295.1l.9 6.2 2.3-1.5-.9-6.2zM381.6 296.7l.9 6.1 2.4-1.5-.9-6.2zM379.3 298.3l.9 6.2 2.3-1.7-.9-6.1z"/><path fill="#0000cf" d="M376.9 300.2l.9 6 2.4-1.7-.9-6.2zM374.6 302.3l.9 5.9 2.3-2-.9-6z"/><path fill="#0000bf" d="M372.2 304.8l.9 5.6 2.4-2.2-.9-5.9z"/><path fill="#0000b7" d="M369.9 307.8l.9 5 2.3-2.4-.9-5.6z"/><path fill="#00009f" d="M367.5 310.6l.9 4.6 2.4-2.4-.9-5z"/><path fill="#000097" d="M365.2 313l.9 4.1 2.3-1.9-.9-4.6z"/><path fill="#000084" d="M362.8 314.8l1 4 2.3-1.7-.9-4.1z"/><path fill="#000081" d="M360.5 316.4l.9 3.8 2.4-1.4-1-4z"/><path fill="#00007e" d="M358.2 317.8l.9 3.7 2.3-1.3-.9-3.8z"/><path fill="#00007b" d="M355.8 319.3l.9 3.5 2.4-1.3-.9-3.7z"/><path fill="#000078" d="M353.5 320.6l.9 3.5 2.3-1.3-.9-3.5z"/><path fill="#00006a" d="M351.1 321.9l.9 3.3 2.4-1.1-.9-3.5z"/><path fill="#000069" d="M348.8 323.1l.9 3.2 2.3-1.1-.9-3.3z"/><path fill="#000067" d="M346.4 324.1l.9 3.2 2.4-1-.9-3.2z"/><path fill="#006" d="M344.1 325.2l.9 3.1 2.3-1-.9-3.2zM341.7 326.2l.9 3 2.4-.9-.9-3.1z"/><path fill="#000065" d="M339.4 327.2l.9 2.9 2.3-.9-.9-3z"/><path fill="#000064" d="M337.1 328.2l.9 2.9 2.3-1-.9-2.9z"/><path fill="#000063" d="M334.7 329.2l.9 2.8 2.4-.9-.9-2.9z"/><path fill="#000062" d="M332.4 330.3l.9 2.6 2.3-.9-.9-2.8zM330 331.4l.9 2.4 2.4-.9-.9-2.6z"/><path fill="#000061" d="M327.7 332.5l.9 2.2 2.3-.9-.9-2.4z"/><path fill="#000060" d="M325.3 333.7l.9 1.8 2.4-.8-.9-2.2zM323 334.8l.9 1.5 2.3-.8-.9-1.8z"/><path fill="#00005f" d="M320.6 336l.9 1.1 2.4-.8-.9-1.5zM318.3 337.1l.9 .7 2.3-.7-.9-1.1zM315.9 338.1l1 .5 2.3-.8-.9-.7zM313.6 338.8l.9 .5 2.4-.7-1-.5zM311.3 339.6l.9 .5 2.3-.8-.9-.5zM308.9 340.3l.9 .5 2.4-.7-.9-.5zM306.6 341.1l.9 .5 2.3-.8-.9-.5zM304.2 341.9l.9 .5 2.4-.8-.9-.5zM301.9 342.6l.9 .5 2.3-.7-.9-.5zM299.5 343.4l.9 .5 2.4-.8-.9-.5zM297.2 344.1l.9 .5 2.3-.7-.9-.5zM294.8 344.9l.9 .5 2.4-.8-.9-.5zM292.5 345.6l.9 .5 2.3-.7-.9-.5zM290.2 346.4l.9 .5 2.3-.8-.9-.5zM287.8 347.2l.9 .5 2.4-.8-.9-.5zM285.5 347.9l.9 .5 2.3-.7-.9-.5zM283.1 348.7l.9 .5 2.4-.8-.9-.5zM280.8 349.4l.9 .5 2.3-.7-.9-.5zM278.4 350.2l.9 .5 2.4-.8-.9-.5zM276.1 350.9l.9 .5 2.3-.7-.9-.5zM273.7 351.7l.9 .5 2.4-.8-.9-.5zM271.4 352.5l.9 .5 2.3-.8-.9-.5zM269 353.1l1 .6 2.3-.7-.9-.5zM266.7 353.3l.9 1.2 2.4-.8-1-.6z"/><path fill="#000060" d="M264.4 353.2l.9 2 2.3-.7-.9-1.2z"/><path fill="#000061" d="M262 353.1l.9 2.4 2.4-.3-.9-2z"/><path fill="#000064" d="M259.7 352.9l.9 2.7 2.3-.1-.9-2.4z"/><path fill="#000067" d="M257.3 352.7l.9 3 2.4-.1-.9-2.7z"/><path fill="#00006a" d="M255 352.5l.9 3.4 2.3-.2-.9-3z"/><path fill="#000078" d="M252.6 352.6l.9 3.5 2.4-.2-.9-3.4z"/><path fill="#00007b" d="M250.3 352.8l.9 3.6 2.3-.3-.9-3.5z"/><path fill="#00007d" d="M247.9 353.1l.9 3.7 2.4-.4-.9-3.6z"/><path fill="#00007e" d="M245.6 353.6l.9 3.7 2.3-.5-.9-3.7z"/><path fill="#00007f" d="M243.3 354.1l.9 3.7 2.3-.5-.9-3.7z"/><path fill="#000080" d="M240.9 354.7l.9 3.7 2.4-.6-.9-3.7z"/><path fill="#000081" d="M238.6 355.4l.9 3.6 2.3-.6-.9-3.7z"/><path fill="#000082" d="M236.2 356.1l.9 3.6 2.4-.7-.9-3.6zM233.9 356.8l.9 3.6 2.3-.7-.9-3.6zM231.5 357.6l.9 3.5 2.4-.7-.9-3.6zM229.2 358.4l.9 3.5 2.3-.8-.9-3.5zM226.8 359.3l.9 3.3 2.4-.7-.9-3.5zM224.5 360.1l.9 3.4 2.3-.9-.9-3.3z"/><path fill="#000081" d="M222.1 361.5l1 3.2 2.3-1.2-.9-3.4z"/><path fill="#00007d" d="M219.8 363.4l.9 2.9 2.4-1.6-1-3.2z"/><path fill="#000078" d="M217.5 365.5l.9 2.7 2.3-1.9-.9-2.9z"/><path fill="#000067" d="M215.1 367.8l.9 2.2 2.4-1.8-.9-2.7z"/><path fill="#000063" d="M212.8 369.8l.9 1.8 2.3-1.6-.9-2.2z"/><path fill="#000060" d="M210.4 371.6l.9 1 2.4-1-.9-1.8z"/><path fill="#00005f" d="M208.1 372.6l.9 .6 2.3-.6-.9-1z"/><path fill="#000060" d="M205.7 373.2l.9 .7 2.4-.7-.9-.6zM203.4 373.9l.9 .7 2.3-.7-.9-.7zM201 374.6l.9 .7 2.4-.7-.9-.7zM198.7 375.4l.9 .8 2.3-.9-.9-.7zM196.4 376.3l.9 .7 2.3-.8-.9-.8z"/></g>
<path fill="none" stroke-width="0.45" d="M233.9 356.8l2.3-.7 2.4-.7 2.3-.7 2.4-.6 2.3-.5 2.3-.5 2.4-.3 2.3-.2M355.8 319.3l2.4-1.5 2.3-1.4 2.3-1.6 2.4-1.8 2.3-2.4 2.4-2.8 2.3-3 2.4-2.5 2.3-2.1 2.4-1.9 2.3-1.6 2.4-1.6 2.3-1.5 2.3-1.4 2.4-1.6 2.3-1.8 2.4-2 2.3-2.5 2.4-3 2.3-3.4 2.4-3.8 2.3-4.3 2.3-4.7 2.4-4.5 2.3-.3M234.8 360.4l2.3-.7 2.4-.7 2.3-.6 2.4-.6 2.3-.5 2.3-.5 2.4-.4 2.3-.3M356.7 322.8l2.4-1.3 2.3-1.3 2.4-1.4 2.3-1.7 2.3-1.9 2.4-2.4 2.3-2.4 2.4-2.2 2.3-2 2.4-1.7 2.3-1.7 2.4-1.5 2.3-1.5 2.3-1.5 2.4-1.5 2.3-1.7 2.4-2 2.3-2.3 2.4-2.7 2.3-3 2.4-3.5 2.3-3.9 2.4-4.3 2.3-4.4 2.3-4.6"/>
<g stroke-width="0.3"><path fill="#0070ff" d="M424.7 259.5l.9 .5 2.4-.3-.9 .7zM422.4 259.9l.9 2.2 2.3-2.1-.9-.5z"/><path fill="#0060ff" d="M420 260.2l.9 5.4 2.4-3.5-.9-2.2zM417.7 260.5l.9 8.4 2.3-3.3-.9-5.4z"/><path fill="#0050ff" d="M415.3 264.4l1 8.6 2.3-4.1-.9-8.4z"/><path fill="#0040ff" d="M413 269l.9 8.1 2.4-4.1-1-8.6z"/><path fill="#0030ff" d="M410.7 273.4l.9 7.8 2.3-4.1-.9-8.1z"/><path fill="#0020ff" d="M408.3 277.7l.9 7.3 2.4-3.8-.9-7.8z"/><path fill="#0010ff" d="M406 281.6l.9 6.9 2.3-3.5-.9-7.3z"/><path fill="#00f" d="M403.6 285.1l.9 6.5 2.4-3.1-.9-6.9z"/><path fill="#0000ef" d="M401.3 288.1l.9 6.3 2.3-2.8-.9-6.5z"/><path fill="#0000df" d="M398.9 290.8l.9 6 2.4-2.4-.9-6.3zM396.6 293.1l.9 5.8 2.3-2.1-.9-6z"/><path fill="#0000cf" d="M394.2 295.1l.9 5.7 2.4-1.9-.9-5.8zM391.9 296.8l.9 5.6 2.3-1.6-.9-5.7zM389.5 298.3l1 5.6 2.3-1.5-.9-5.6zM387.2 299.8l.9 5.6 2.4-1.5-1-5.6z"/><path fill="#0000bf" d="M384.9 301.3l.9 5.6 2.3-1.5-.9-5.6z"/><path fill="#0000bc" d="M382.5 302.8l.9 5.6 2.4-1.5-.9-5.6z"/><path fill="#0000b7" d="M380.2 304.5l.9 5.4 2.3-1.5-.9-5.6z"/><path fill="#0000b2" d="M377.8 306.2l.9 5.4 2.4-1.7-.9-5.4z"/><path fill="#00009f" d="M375.5 308.2l.9 5.1 2.3-1.7-.9-5.4z"/><path fill="#009" d="M373.1 310.4l.9 4.8 2.4-1.9-.9-5.1z"/><path fill="#000085" d="M370.8 312.8l.9 4.4 2.3-2-.9-4.8z"/><path fill="#00007f" d="M368.4 315.2l1 3.8 2.3-1.8-.9-4.4z"/><path fill="#00007a" d="M366.1 317.1l.9 3.5 2.4-1.6-1-3.8z"/><path fill="#00006b" d="M363.8 318.8l.9 3.2 2.3-1.4-.9-3.5z"/><path fill="#000068" d="M361.4 320.2l.9 3 2.4-1.2-.9-3.2z"/><path fill="#006" d="M359.1 321.5l.9 2.9 2.3-1.2-.9-3z"/><path fill="#000064" d="M356.7 322.8l.9 2.7 2.4-1.1-.9-2.9z"/><path fill="#000063" d="M354.4 324.1l.9 2.5 2.3-1.1-.9-2.7z"/><path fill="#000061" d="M352 325.2l.9 2.4 2.4-1-.9-2.5zM349.7 326.3l.9 2.1 2.3-.8-.9-2.4z"/><path fill="#000060" d="M347.3 327.3l.9 1.9 2.4-.8-.9-2.1zM345 328.3l.9 1.7 2.3-.8-.9-1.9zM342.6 329.2l1 1.5 2.3-.7-.9-1.7z"/><path fill="#00005f" d="M340.3 330.1l.9 1.4 2.4-.8-1-1.5zM338 331.1l.9 1.2 2.3-.8-.9-1.4zM335.6 332l.9 1 2.4-.7-.9-1.2zM333.3 332.9l.9 .9 2.3-.8-.9-1zM330.9 333.8l.9 .7 2.4-.7-.9-.9zM328.6 334.7l.9 .6 2.3-.8-.9-.7zM326.2 335.5l.9 .5 2.4-.7-.9-.6zM323.9 336.3l.9 .5 2.3-.8-.9-.5zM321.5 337.1l1 .4 2.3-.7-.9-.5zM319.2 337.8l.9 .5 2.4-.8-1-.4zM316.9 338.6l.9 .5 2.3-.8-.9-.5zM314.5 339.3l.9 .5 2.4-.7-.9-.5zM312.2 340.1l.9 .5 2.3-.8-.9-.5zM309.8 340.8l.9 .5 2.4-.7-.9-.5zM307.5 341.6l.9 .5 2.3-.8-.9-.5zM305.1 342.4l.9 .4 2.4-.7-.9-.5zM302.8 343.1l.9 .5 2.3-.8-.9-.4zM300.4 343.9l.9 .5 2.4-.8-.9-.5zM298.1 344.6l.9 .5 2.3-.7-.9-.5zM295.7 345.4l1 .5 2.3-.8-.9-.5zM293.4 346.1l.9 .5 2.4-.7-1-.5zM291.1 346.9l.9 .5 2.3-.8-.9-.5zM288.7 347.7l.9 .4 2.4-.7-.9-.5zM286.4 348.4l.9 .5 2.3-.8-.9-.4zM284 349.2l.9 .5 2.4-.8-.9-.5zM281.7 349.9l.9 .5 2.3-.7-.9-.5zM279.3 350.7l.9 .5 2.4-.8-.9-.5zM277 351.4l.9 .5 2.3-.7-.9-.5zM274.6 352.2l1 .5 2.3-.8-.9-.5zM272.3 353l.9 .4 2.4-.7-1-.5zM270 353.7l.9 .5 2.3-.8-.9-.4zM267.6 354.5l.9 .5 2.4-.8-.9-.5zM265.3 355.2l.9 .5 2.3-.7-.9-.5zM262.9 355.5l.9 1 2.4-.8-.9-.5zM260.6 355.6l.9 1.6 2.3-.7-.9-1z"/><path fill="#000060" d="M258.2 355.7l.9 2.2 2.4-.7-.9-1.6z"/><path fill="#000061" d="M255.9 355.9l.9 2.4 2.3-.4-.9-2.2z"/><path fill="#000063" d="M253.5 356.1l.9 2.7 2.4-.5-.9-2.4z"/><path fill="#000064" d="M251.2 356.4l.9 2.9 2.3-.5-.9-2.7z"/><path fill="#000065" d="M248.8 356.8l1 3 2.3-.5-.9-2.9z"/><path fill="#006" d="M246.5 357.3l.9 3 2.4-.5-1-3z"/><path fill="#000067" d="M244.2 357.8l.9 3.1 2.3-.6-.9-3z"/><path fill="#000068" d="M241.8 358.4l.9 3.1 2.4-.6-.9-3.1z"/><path fill="#000069" d="M239.5 359l.9 3.1 2.3-.6-.9-3.1zM237.1 359.7l.9 3 2.4-.6-.9-3.1z"/><path fill="#00006a" d="M234.8 360.4l.9 3 2.3-.7-.9-3zM232.4 361.1l.9 3 2.4-.7-.9-3zM230.1 361.9l.9 2.9 2.3-.7-.9-3zM227.7 362.6l1 2.9 2.3-.7-.9-2.9zM225.4 363.5l.9 2.8 2.4-.8-1-2.9zM223.1 364.7l.9 2.6 2.3-1-.9-2.8z"/><path fill="#000068" d="M220.7 366.3l.9 2.4 2.4-1.4-.9-2.6z"/><path fill="#000064" d="M218.4 368.2l.9 2 2.3-1.5-.9-2.4z"/><path fill="#000061" d="M216 370l.9 1.5 2.4-1.3-.9-2z"/><path fill="#00005f" d="M213.7 371.6l.9 .8 2.3-.9-.9-1.5zM211.3 372.6l.9 .5 2.4-.7-.9-.8zM209 373.2l.9 .6 2.3-.7-.9-.5zM206.6 373.9l.9 .6 2.4-.7-.9-.6z"/><path fill="#000060" d="M204.3 374.6l.9 .6 2.3-.7-.9-.6z"/><path fill="#00005f" d="M201.9 375.3l1 .7 2.3-.8-.9-.6zM199.6 376.2l.9 .7 2.4-.9-1-.7zM197.3 377l.9 .7 2.3-.8-.9-.7z"/></g>
<path fill="none" stroke-width="0.45" d="M368.4 315.2l2.4-2.4 2.3-2.4 2.4-2.2 2.3-2 2.4-1.7 2.3-1.7 2.4-1.5 2.3-1.5 2.3-1.5 2.4-1.5 2.3-1.7 2.4-2 2.3-2.3 2.4-2.7 2.3-3 2.4-3.5 2.3-3.9 2.4-4.3 2.3-4.4 2.3-4.6 2.4-3.9 2.3-.3M369.4 319l2.3-1.8 2.3-2 2.4-1.9 2.3-1.7 2.4-1.7 2.3-1.5 2.4-1.5 2.3-1.5 2.4-1.5 2.3-1.5 2.3-1.6 2.4-1.9 2.3-2.1 2.4-2.4 2.3-2.8 2.4-3.1 2.3-3.5 2.4-3.8 2.3-4.1 2.4-4.1 2.3-4.1 2.3-3.3"/>
<g stroke-width="0.3"><path fill="#0060ff" d="M430.3 259.3l.9 3.5 2.4-3.4-.9-.5zM428 259.7l.9 6.6 2.3-3.5-.9-3.5z"/><path fill="#0050ff" d="M425.6 260l.9 9.4 2.4-3.1-.9-6.6zM423.3 262.1l.9 10 2.3-2.7-.9-9.4z"/><path fill="#0040ff" d="M420.9 265.6l1 8.9 2.3-2.4-.9-10z"/><path fill="#0030ff" d="M418.6 268.9l.9 8.2 2.4-2.6-1-8.9z"/><path fill="#0020ff" d="M416.3 273l.9 7.9 2.3-3.8-.9-8.2z"/><path fill="#0010ff" d="M413.9 277.1l.9 7.6 2.4-3.8-.9-7.9z"/><path fill="#00f" d="M411.6 281.2l.9 7.2 2.3-3.7-.9-7.6z"/><path fill="#0000ef" d="M409.2 285l.9 6.8 2.4-3.4-.9-7.2zM406.9 288.5l.9 6.4 2.3-3.1-.9-6.8z"/><path fill="#0000df" d="M404.5 291.6l.9 6 2.4-2.7-.9-6.4z"/><path fill="#0000cf" d="M402.2 294.4l.9 5.7 2.3-2.5-.9-6zM399.8 296.8l.9 5.5 2.4-2.2-.9-5.7z"/><path fill="#0000bd" d="M397.5 298.9l.9 5.3 2.3-1.9-.9-5.5z"/><path fill="#0000b7" d="M395.1 300.8l1 5.1 2.3-1.7-.9-5.3z"/><path fill="#0000b2" d="M392.8 302.4l.9 5 2.4-1.5-1-5.1z"/><path fill="#0000a0" d="M390.5 303.9l.9 5 2.3-1.5-.9-5z"/><path fill="#00009c" d="M388.1 305.4l.9 4.9 2.4-1.4-.9-5z"/><path fill="#009" d="M385.8 306.9l.9 4.8 2.3-1.4-.9-4.9z"/><path fill="#000095" d="M383.4 308.4l.9 4.7 2.4-1.4-.9-4.8z"/><path fill="#000084" d="M381.1 309.9l.9 4.6 2.3-1.4-.9-4.7z"/><path fill="#000081" d="M378.7 311.6l.9 4.4 2.4-1.5-.9-4.6z"/><path fill="#00007d" d="M376.4 313.3l.9 4.2 2.3-1.5-.9-4.4z"/><path fill="#000079" d="M374 315.2l1 3.9 2.3-1.6-.9-4.2z"/><path fill="#00006a" d="M371.7 317.2l.9 3.4 2.4-1.5-1-3.9z"/><path fill="#006" d="M369.4 319l.9 3 2.3-1.4-.9-3.4z"/><path fill="#000064" d="M367 320.6l.9 2.6 2.4-1.2-.9-3z"/><path fill="#000062" d="M364.7 322l.9 2.2 2.3-1-.9-2.6z"/><path fill="#000060" d="M362.3 323.2l.9 2 2.4-1-.9-2.2zM360 324.4l.9 1.5 2.3-.7-.9-2z"/><path fill="#00005f" d="M357.6 325.5l.9 1.2 2.4-.8-.9-1.5zM355.3 326.6l.9 .8 2.3-.7-.9-1.2zM352.9 327.6l.9 .6 2.4-.8-.9-.8zM350.6 328.4l.9 .6 2.3-.8-.9-.6zM348.2 329.2l1 .5 2.3-.7-.9-.6zM345.9 330l.9 .5 2.4-.8-1-.5zM343.6 330.7l.9 .5 2.3-.7-.9-.5zM341.2 331.5l.9 .5 2.4-.8-.9-.5zM338.9 332.3l.9 .4 2.3-.7-.9-.5zM336.5 333l.9 .5 2.4-.8-.9-.4zM334.2 333.8l.9 .5 2.3-.8-.9-.5zM331.8 334.5l.9 .5 2.4-.7-.9-.5zM329.5 335.3l.9 .5 2.3-.8-.9-.5zM327.1 336l1 .5 2.3-.7-.9-.5zM324.8 336.8l.9 .5 2.4-.8-1-.5zM322.5 337.5l.9 .5 2.3-.7-.9-.5zM320.1 338.3l.9 .5 2.4-.8-.9-.5zM317.8 339.1l.9 .5 2.3-.8-.9-.5zM315.4 339.8l.9 .5 2.4-.7-.9-.5zM313.1 340.6l.9 .5 2.3-.8-.9-.5zM310.7 341.3l.9 .5 2.4-.7-.9-.5zM308.4 342.1l.9 .5 2.3-.8-.9-.5zM306 342.8l.9 .5 2.4-.7-.9-.5zM303.7 343.6l.9 .5 2.3-.8-.9-.5zM301.3 344.4l1 .5 2.3-.8-.9-.5zM299 345.1l.9 .5 2.4-.7-1-.5zM296.7 345.9l.9 .5 2.3-.8-.9-.5zM294.3 346.6l.9 .5 2.4-.7-.9-.5zM292 347.4l.9 .5 2.3-.8-.9-.5zM289.6 348.1l.9 .5 2.4-.7-.9-.5zM287.3 348.9l.9 .5 2.3-.8-.9-.5zM284.9 349.7l.9 .5 2.4-.8-.9-.5zM282.6 350.4l.9 .5 2.3-.7-.9-.5zM280.2 351.2l1 .5 2.3-.8-.9-.5zM277.9 351.9l.9 .5 2.4-.7-1-.5zM275.6 352.7l.9 .5 2.3-.8-.9-.5zM273.2 353.4l.9 .5 2.4-.7-.9-.5zM270.9 354.2l.9 .5 2.3-.8-.9-.5zM268.5 355l.9 .5 2.4-.8-.9-.5zM266.2 355.7l.9 .5 2.3-.7-.9-.5zM263.8 356.5l.9 .5 2.4-.8-.9-.5zM261.5 357.2l.9 .5 2.3-.7-.9-.5zM259.1 357.9l.9 .6 2.4-.8-.9-.5zM256.8 358.3l.9 .9 2.3-.7-.9-.6zM254.4 358.8l1 1.2 2.3-.8-.9-.9zM252.1 359.3l.9 1.5 2.4-.8-1-1.2z"/><path fill="#000060" d="M249.8 359.8l.9 1.7 2.3-.7-.9-1.5zM247.4 360.3l.9 2 2.4-.8-.9-1.7zM245.1 360.9l.9 2 2.3-.6-.9-2z"/><path fill="#000061" d="M242.7 361.5l.9 2.1 2.4-.7-.9-2zM240.4 362.1l.9 2.2 2.3-.7-.9-2.1zM238 362.7l.9 2.2 2.4-.6-.9-2.2z"/><path fill="#000062" d="M235.7 363.4l.9 2.2 2.3-.7-.9-2.2zM233.3 364.1l1 2.2 2.3-.7-.9-2.2zM231 364.8l.9 2.2 2.4-.7-1-2.2zM228.7 365.5l.9 2.3 2.3-.8-.9-2.2z"/><path fill="#000063" d="M226.3 366.3l.9 2.2 2.4-.7-.9-2.3z"/><path fill="#000062" d="M224 367.3l.9 2.1 2.3-.9-.9-2.2z"/><path fill="#000061" d="M221.6 368.7l.9 1.8 2.4-1.1-.9-2.1z"/><path fill="#000060" d="M219.3 370.2l.9 1.2 2.3-.9-.9-1.8z"/><path fill="#00005f" d="M216.9 371.5l.9 .6 2.4-.7-.9-1.2zM214.6 372.4l.9 .5 2.3-.8-.9-.6zM212.2 373.1l.9 .5 2.4-.7-.9-.5zM209.9 373.8l.9 .6 2.3-.8-.9-.5zM207.5 374.5l1 .6 2.3-.7-.9-.6zM205.2 375.2l.9 .7 2.4-.8-1-.6zM202.9 376l.9 .7 2.3-.8-.9-.7zM200.5 376.9l.9 .5 2.4-.7-.9-.7zM198.2 377.7l.9 .5 2.3-.8-.9-.5z"/></g>
<path fill="none" stroke-width="0.45" d="M374 315.2l2.4-1.9 2.3-1.7 2.4-1.7 2.3-1.5 2.4-1.5 2.3-1.5 2.4-1.5 2.3-1.5 2.3-1.6 2.4-1.9 2.3-2.1 2.4-2.4 2.3-2.8 2.4-3.1 2.3-3.5 2.4-3.8 2.3-4.1 2.4-4.1 2.3-4.1 2.3-3.3 2.4-3.5 2.3-2.1 2.4-.3M375 319.1l2.3-1.6 2.3-1.5 2.4-1.5 2.3-1.4 2.4-1.4 2.3-1.4 2.4-1.4 2.3-1.5 2.4-1.5 2.3-1.7 2.3-1.9 2.4-2.2 2.3-2.5 2.4-2.7 2.3-3.1 2.4-3.4 2.3-3.7 2.4-3.8 2.3-3.8 2.4-2.6 2.3-2.4 2.3-2.7 2.4-3.1"/>
<g stroke-width="0.3"><path fill="#0030ff" d="M431.2 262.8l.9 12 2.4-2.1-.9-13.3zM428.9 266.3l.9 10.4 2.3-1.9-.9-12z"/><path fill="#0020ff" d="M426.5 269.4l.9 9.2 2.4-1.9-.9-10.4zM424.2 272.1l.9 8.4 2.3-1.9-.9-9.2z"/><path fill="#0010ff" d="M421.9 274.5l.9 8 2.3-2-.9-8.4zM419.5 277.1l.9 7.6 2.4-2.2-.9-8z"/><path fill="#00f" d="M417.2 280.9l.9 7.3 2.3-3.5-.9-7.6z"/><path fill="#0000ef" d="M414.8 284.7l.9 6.9 2.4-3.4-.9-7.3z"/><path fill="#0000df" d="M412.5 288.4l.9 6.5 2.3-3.3-.9-6.9z"/><path fill="#0000cf" d="M410.1 291.8l.9 6.1 2.4-3-.9-6.5zM407.8 294.9l.9 5.7 2.3-2.7-.9-6.1z"/><path fill="#0000bc" d="M405.4 297.6l.9 5.4 2.4-2.4-.9-5.7z"/><path fill="#0000b3" d="M403.1 300.1l.9 5 2.3-2.1-.9-5.4z"/><path fill="#00009d" d="M400.7 302.3l1 4.7 2.3-1.9-.9-5z"/><path fill="#000097" d="M398.4 304.2l.9 4.5 2.4-1.7-1-4.7z"/><path fill="#000085" d="M396.1 305.9l.9 4.4 2.3-1.6-.9-4.5z"/><path fill="#000082" d="M393.7 307.4l.9 4.3 2.4-1.4-.9-4.4z"/><path fill="#00007f" d="M391.4 308.9l.9 4.1 2.3-1.3-.9-4.3z"/><path fill="#00007c" d="M389 310.3l.9 4 2.4-1.3-.9-4.1z"/><path fill="#000079" d="M386.7 311.7l.9 3.9 2.3-1.3-.9-4z"/><path fill="#00006b" d="M384.3 313.1l.9 3.8 2.4-1.3-.9-3.9z"/><path fill="#000069" d="M382 314.5l.9 3.7 2.3-1.3-.9-3.8z"/><path fill="#006" d="M379.6 316l.9 3.4 2.4-1.2-.9-3.7z"/><path fill="#000064" d="M377.3 317.5l.9 3.1 2.3-1.2-.9-3.4z"/><path fill="#000062" d="M375 319.1l.9 2.6 2.3-1.1-.9-3.1z"/><path fill="#000061" d="M372.6 320.6l.9 2 2.4-.9-.9-2.6z"/><path fill="#000060" d="M370.3 322l.9 1.4 2.3-.8-.9-2z"/><path fill="#00005f" d="M367.9 323.2l.9 1 2.4-.8-.9-1.4zM365.6 324.2l.9 .7 2.3-.7-.9-1zM363.2 325.2l.9 .5 2.4-.8-.9-.7zM360.9 325.9l.9 .5 2.3-.7-.9-.5zM358.5 326.7l.9 .5 2.4-.8-.9-.5zM356.2 327.4l.9 .5 2.3-.7-.9-.5zM353.8 328.2l1 .5 2.3-.8-.9-.5zM351.5 329l.9 .5 2.4-.8-1-.5zM349.2 329.7l.9 .5 2.3-.7-.9-.5zM346.8 330.5l.9 .5 2.4-.8-.9-.5zM344.5 331.2l.9 .5 2.3-.7-.9-.5zM342.1 332l.9 .5 2.4-.8-.9-.5zM339.8 332.7l.9 .5 2.3-.7-.9-.5zM337.4 333.5l.9 .5 2.4-.8-.9-.5zM335.1 334.3l.9 .5 2.3-.8-.9-.5zM332.7 335l.9 .5 2.4-.7-.9-.5zM330.4 335.8l.9 .5 2.3-.8-.9-.5zM328.1 336.5l.9 .5 2.3-.7-.9-.5zM325.7 337.3l.9 .5 2.4-.8-.9-.5zM323.4 338l.9 .5 2.3-.7-.9-.5zM321 338.8l.9 .5 2.4-.8-.9-.5zM318.7 339.6l.9 .5 2.3-.8-.9-.5zM316.3 340.3l.9 .5 2.4-.7-.9-.5zM314 341.1l.9 .5 2.3-.8-.9-.5zM311.6 341.8l.9 .5 2.4-.7-.9-.5zM309.3 342.6l.9 .5 2.3-.8-.9-.5zM306.9 343.3l1 .5 2.3-.7-.9-.5zM304.6 344.1l.9 .5 2.4-.8-1-.5zM302.3 344.9l.9 .5 2.3-.8-.9-.5zM299.9 345.6l.9 .5 2.4-.7-.9-.5zM297.6 346.4l.9 .5 2.3-.8-.9-.5zM295.2 347.1l.9 .5 2.4-.7-.9-.5zM292.9 347.9l.9 .5 2.3-.8-.9-.5zM290.5 348.6l.9 .5 2.4-.7-.9-.5zM288.2 349.4l.9 .5 2.3-.8-.9-.5zM285.8 350.2l.9 .5 2.4-.8-.9-.5zM283.5 350.9l.9 .5 2.3-.7-.9-.5zM281.2 351.7l.9 .5 2.3-.8-.9-.5zM278.8 352.4l.9 .5 2.4-.7-.9-.5zM276.5 353.2l.9 .5 2.3-.8-.9-.5zM274.1 353.9l.9 .5 2.4-.7-.9-.5zM271.8 354.7l.9 .5 2.3-.8-.9-.5zM269.4 355.5l.9 .5 2.4-.8-.9-.5zM267.1 356.2l.9 .5 2.3-.7-.9-.5zM264.7 357l.9 .5 2.4-.8-.9-.5zM262.4 357.7l.9 .5 2.3-.7-.9-.5zM260 358.5l1 .5 2.3-.8-.9-.5zM257.7 359.2l.9 .5 2.4-.7-1-.5zM255.4 360l.9 .5 2.3-.8-.9-.5zM253 360.8l.9 .4 2.4-.7-.9-.5zM250.7 361.5l.9 .5 2.3-.8-.9-.4zM248.3 362.3l.9 .5 2.4-.8-.9-.5zM246 362.9l.9 .6 2.3-.7-.9-.5zM243.6 363.6l.9 .7 2.4-.8-.9-.6zM241.3 364.3l.9 .7 2.3-.7-.9-.7zM238.9 364.9l.9 .9 2.4-.8-.9-.7zM236.6 365.6l.9 .9 2.3-.7-.9-.9zM234.3 366.3l.9 1 2.3-.8-.9-.9zM231.9 367l.9 1.1 2.4-.8-.9-1zM229.6 367.8l.9 1 2.3-.7-.9-1.1zM227.2 368.5l.9 1.1 2.4-.8-.9-1zM224.9 369.4l.9 .9 2.3-.7-.9-1.1zM222.5 370.5l.9 .6 2.4-.8-.9-.9zM220.2 371.4l.9 .4 2.3-.7-.9-.6zM217.8 372.1l.9 .5 2.4-.8-.9-.4zM215.5 372.9l.9 .5 2.3-.8-.9-.5zM213.1 373.6l1 .5 2.3-.7-.9-.5zM210.8 374.4l.9 .5 2.4-.8-1-.5zM208.5 375.1l.9 .5 2.3-.7-.9-.5zM206.1 375.9l.9 .5 2.4-.8-.9-.5zM203.8 376.7l.9 .4 2.3-.7-.9-.5zM201.4 377.4l.9 .5 2.4-.8-.9-.4zM199.1 378.2l.9 .5 2.3-.8-.9-.5z"/></g>
<path fill="none" stroke-width="0.45" d="M382 314.5l2.3-1.4 2.4-1.4 2.3-1.4 2.4-1.4 2.3-1.5 2.4-1.5 2.3-1.7 2.3-1.9 2.4-2.2 2.3-2.5 2.4-2.7 2.3-3.1 2.4-3.4 2.3-3.7 2.4-3.8 2.3-3.8 2.4-2.6 2.3-2.4 2.3-2.7 2.4-3.1 2.3-3.5 2.4-3.4M382.9 318.2l2.3-1.3 2.4-1.3 2.3-1.3 2.4-1.3 2.3-1.3 2.4-1.4 2.3-1.6 2.4-1.7 2.3-1.9 2.3-2.1 2.4-2.4 2.3-2.7 2.4-3 2.3-3.3 2.4-3.4 2.3-3.5 2.4-2.2 2.3-2 2.3-1.9 2.4-1.9 2.3-1.9 2.4-2.1"/>
<g stroke-width="0.3"><path fill="#00f" d="M432.1 274.8l.9 8.9 2.4-.9-.9-10.1zM429.8 276.7l.9 8.1 2.3-1.1-.9-8.9zM427.4 278.6l1 7.5 2.3-1.3-.9-8.1z"/><path fill="#0000ef" d="M425.1 280.5l.9 7.1 2.4-1.5-1-7.5zM422.8 282.5l.9 7 2.3-1.9-.9-7.1zM420.4 284.7l.9 7 2.4-2.2-.9-7z"/><path fill="#0000df" d="M418.1 288.2l.9 6.6 2.3-3.1-.9-7z"/><path fill="#0000cf" d="M415.7 291.6l.9 6.3 2.4-3.1-.9-6.6z"/><path fill="#0000bf" d="M413.4 294.9l.9 5.8 2.3-2.8-.9-6.3z"/><path fill="#0000b5" d="M411 297.9l.9 5.3 2.4-2.5-.9-5.8z"/><path fill="#00009d" d="M408.7 300.6l.9 4.9 2.3-2.3-.9-5.3z"/><path fill="#000095" d="M406.3 303l1 4.6 2.3-2.1-.9-4.9z"/><path fill="#000082" d="M404 305.1l.9 4.3 2.4-1.8-1-4.6z"/><path fill="#00007d" d="M401.7 307l.9 4 2.3-1.6-.9-4.3z"/><path fill="#000079" d="M399.3 308.7l.9 3.8 2.4-1.5-.9-4z"/><path fill="#00006a" d="M397 310.3l.9 3.5 2.3-1.3-.9-3.8z"/><path fill="#000068" d="M394.6 311.7l.9 3.3 2.4-1.2-.9-3.5z"/><path fill="#006" d="M392.3 313l.9 3.2 2.3-1.2-.9-3.3z"/><path fill="#000064" d="M389.9 314.3l.9 3 2.4-1.1-.9-3.2z"/><path fill="#000062" d="M387.6 315.6l.9 2.8 2.3-1.1-.9-3z"/><path fill="#000061" d="M385.2 316.9l.9 2.4 2.4-.9-.9-2.8z"/><path fill="#000060" d="M382.9 318.2l.9 1.9 2.3-.8-.9-2.4zM380.5 319.4l1 1.5 2.3-.8-.9-1.9z"/><path fill="#00005f" d="M378.2 320.6l.9 1 2.4-.7-1-1.5zM375.9 321.7l.9 .7 2.3-.8-.9-1zM373.5 322.6l.9 .5 2.4-.7-.9-.7zM371.2 323.4l.9 .5 2.3-.8-.9-.5zM368.8 324.2l.9 .5 2.4-.8-.9-.5zM366.5 324.9l.9 .5 2.3-.7-.9-.5zM364.1 325.7l.9 .5 2.4-.8-.9-.5zM361.8 326.4l.9 .5 2.3-.7-.9-.5zM359.4 327.2l1 .5 2.3-.8-.9-.5zM357.1 327.9l.9 .5 2.4-.7-1-.5zM354.8 328.7l.9 .5 2.3-.8-.9-.5zM352.4 329.5l.9 .5 2.4-.8-.9-.5zM350.1 330.2l.9 .5 2.3-.7-.9-.5zM347.7 331l.9 .5 2.4-.8-.9-.5zM345.4 331.7l.9 .5 2.3-.7-.9-.5zM343 332.5l.9 .5 2.4-.8-.9-.5zM340.7 333.2l.9 .5 2.3-.7-.9-.5zM338.3 334l.9 .5 2.4-.8-.9-.5zM336 334.8l.9 .4 2.3-.7-.9-.5zM333.6 335.5l1 .5 2.3-.8-.9-.4zM331.3 336.3l.9 .5 2.4-.8-1-.5zM329 337l.9 .5 2.3-.7-.9-.5zM326.6 337.8l.9 .5 2.4-.8-.9-.5zM324.3 338.5l.9 .5 2.3-.7-.9-.5zM321.9 339.3l.9 .5 2.4-.8-.9-.5zM319.6 340.1l.9 .4 2.3-.7-.9-.5zM317.2 340.8l.9 .5 2.4-.8-.9-.4zM314.9 341.6l.9 .5 2.3-.8-.9-.5zM312.5 342.3l1 .5 2.3-.7-.9-.5zM310.2 343.1l.9 .5 2.4-.8-1-.5zM307.9 343.8l.9 .5 2.3-.7-.9-.5zM305.5 344.6l.9 .5 2.4-.8-.9-.5zM303.2 345.4l.9 .4 2.3-.7-.9-.5zM300.8 346.1l.9 .5 2.4-.8-.9-.4zM298.5 346.9l.9 .5 2.3-.8-.9-.5zM296.1 347.6l.9 .5 2.4-.7-.9-.5zM293.8 348.4l.9 .5 2.3-.8-.9-.5zM291.4 349.1l.9 .5 2.4-.7-.9-.5zM289.1 349.9l.9 .5 2.3-.8-.9-.5zM286.7 350.7l1 .4 2.3-.7-.9-.5zM284.4 351.4l.9 .5 2.4-.8-1-.4zM282.1 352.2l.9 .5 2.3-.8-.9-.5zM279.7 352.9l.9 .5 2.4-.7-.9-.5zM277.4 353.7l.9 .5 2.3-.8-.9-.5zM275 354.4l.9 .5 2.4-.7-.9-.5zM272.7 355.2l.9 .5 2.3-.8-.9-.5zM270.3 356l.9 .4 2.4-.7-.9-.5zM268 356.7l.9 .5 2.3-.8-.9-.4zM265.6 357.5l1 .5 2.3-.8-.9-.5zM263.3 358.2l.9 .5 2.4-.7-1-.5zM261 359l.9 .5 2.3-.8-.9-.5zM258.6 359.7l.9 .5 2.4-.7-.9-.5zM256.3 360.5l.9 .5 2.3-.8-.9-.5zM253.9 361.2l.9 .5 2.4-.7-.9-.5zM251.6 362l.9 .5 2.3-.8-.9-.5zM249.2 362.8l.9 .5 2.4-.8-.9-.5zM246.9 363.5l.9 .5 2.3-.7-.9-.5zM244.5 364.3l.9 .5 2.4-.8-.9-.5zM242.2 365l.9 .5 2.3-.7-.9-.5zM239.8 365.8l1 .5 2.3-.8-.9-.5zM237.5 366.5l.9 .5 2.4-.7-1-.5zM235.2 367.3l.9 .5 2.3-.8-.9-.5zM232.8 368.1l.9 .5 2.4-.8-.9-.5zM230.5 368.8l.9 .5 2.3-.7-.9-.5zM228.1 369.6l.9 .5 2.4-.8-.9-.5zM225.8 370.3l.9 .5 2.3-.7-.9-.5zM223.4 371.1l.9 .5 2.4-.8-.9-.5zM221.1 371.8l.9 .5 2.3-.7-.9-.5zM218.7 372.6l1 .5 2.3-.8-.9-.5zM216.4 373.4l.9 .5 2.4-.8-1-.5zM214.1 374.1l.9 .5 2.3-.7-.9-.5zM211.7 374.9l.9 .5 2.4-.8-.9-.5zM209.4 375.6l.9 .5 2.3-.7-.9-.5zM207 376.4l.9 .5 2.4-.8-.9-.5zM204.7 377.1l.9 .5 2.3-.7-.9-.5zM202.3 377.9l.9 .5 2.4-.8-.9-.5zM200 378.7l.9 .5 2.3-.8-.9-.5z"/></g>
<path fill="none" stroke-width="0.45" d="M397 310.3l2.3-1.6 2.4-1.7 2.3-1.9 2.3-2.1 2.4-2.4 2.3-2.7 2.4-3 2.3-3.3 2.4-3.4 2.3-3.5 2.4-2.2 2.3-2 2.3-1.9 2.4-1.9 2.3-1.9 2.4-2.1M397.9 313.8l2.3-1.3 2.4-1.5 2.3-1.6 2.4-1.8 2.3-2.1 2.3-2.3 2.4-2.5 2.3-2.8 2.4-3.1 2.3-3.1 2.4-2.2 2.3-1.9 2.4-1.5 2.3-1.3 2.3-1.1 2.4-.9"/>
<g stroke-width="0.3"><path fill="#0000df" d="M433 283.7l1 6.7 2.3-.3-.9-7.3zM430.7 284.8l.9 6.3 2.4-.7-1-6.7zM428.4 286.1l.9 6.2 2.3-1.2-.9-6.3z"/><path fill="#0000cf" d="M426 287.6l.9 6.2 2.4-1.5-.9-6.2zM423.7 289.5l.9 6.1 2.3-1.8-.9-6.2zM421.3 291.7l.9 6.2 2.4-2.3-.9-6.1z"/><path fill="#00b" d="M419 294.8l.9 5.8 2.3-2.7-.9-6.2z"/><path fill="#0000a1" d="M416.6 297.9l.9 5.4 2.4-2.7-.9-5.8z"/><path fill="#000097" d="M414.3 300.7l.9 4.9 2.3-2.3-.9-5.4z"/><path fill="#000082" d="M411.9 303.2l.9 4.6 2.4-2.2-.9-4.9z"/><path fill="#00007c" d="M409.6 305.5l.9 4.1 2.3-1.8-.9-4.6z"/><path fill="#00006b" d="M407.3 307.6l.9 3.7 2.3-1.7-.9-4.1z"/><path fill="#000067" d="M404.9 309.4l.9 3.3 2.4-1.4-.9-3.7z"/><path fill="#000064" d="M402.6 311l.9 3 2.3-1.3-.9-3.3z"/><path fill="#000062" d="M400.2 312.5l.9 2.6 2.4-1.1-.9-3z"/><path fill="#000061" d="M397.9 313.8l.9 2.2 2.3-.9-.9-2.6z"/><path fill="#000060" d="M395.5 315l.9 1.8 2.4-.8-.9-2.2zM393.2 316.2l.9 1.4 2.3-.8-.9-1.8z"/><path fill="#00005f" d="M390.8 317.3l.9 1 2.4-.7-.9-1.4zM388.5 318.4l.9 .7 2.3-.8-.9-1zM386.1 319.3l1 .5 2.3-.7-.9-.7zM383.8 320.1l.9 .5 2.4-.8-1-.5zM381.5 320.9l.9 .5 2.3-.8-.9-.5zM379.1 321.6l.9 .5 2.4-.7-.9-.5zM376.8 322.4l.9 .5 2.3-.8-.9-.5zM374.4 323.1l.9 .5 2.4-.7-.9-.5zM372.1 323.9l.9 .5 2.3-.8-.9-.5zM369.7 324.7l.9 .4 2.4-.7-.9-.5zM367.4 325.4l.9 .5 2.3-.8-.9-.4zM365 326.2l.9 .5 2.4-.8-.9-.5zM362.7 326.9l.9 .5 2.3-.7-.9-.5zM360.4 327.7l.9 .5 2.3-.8-.9-.5zM358 328.4l.9 .5 2.4-.7-.9-.5zM355.7 329.2l.9 .5 2.3-.8-.9-.5zM353.3 330l.9 .4 2.4-.7-.9-.5zM351 330.7l.9 .5 2.3-.8-.9-.4zM348.6 331.5l.9 .5 2.4-.8-.9-.5zM346.3 332.2l.9 .5 2.3-.7-.9-.5zM343.9 333l.9 .5 2.4-.8-.9-.5zM341.6 333.7l.9 .5 2.3-.7-.9-.5zM339.2 334.5l1 .5 2.3-.8-.9-.5zM336.9 335.2l.9 .5 2.4-.7-1-.5zM334.6 336l.9 .5 2.3-.8-.9-.5zM332.2 336.8l.9 .5 2.4-.8-.9-.5zM329.9 337.5l.9 .5 2.3-.7-.9-.5zM327.5 338.3l.9 .5 2.4-.8-.9-.5zM325.2 339l.9 .5 2.3-.7-.9-.5zM322.8 339.8l.9 .5 2.4-.8-.9-.5zM320.5 340.5l.9 .5 2.3-.7-.9-.5zM318.1 341.3l.9 .5 2.4-.8-.9-.5zM315.8 342.1l.9 .5 2.3-.8-.9-.5zM313.5 342.8l.9 .5 2.3-.7-.9-.5zM311.1 343.6l.9 .5 2.4-.8-.9-.5zM308.8 344.3l.9 .5 2.3-.7-.9-.5zM306.4 345.1l.9 .5 2.4-.8-.9-.5zM304.1 345.8l.9 .5 2.3-.7-.9-.5zM301.7 346.6l.9 .5 2.4-.8-.9-.5zM299.4 347.4l.9 .5 2.3-.8-.9-.5zM297 348.1l.9 .5 2.4-.7-.9-.5zM294.7 348.9l.9 .5 2.3-.8-.9-.5zM292.3 349.6l1 .5 2.3-.7-.9-.5zM290 350.4l.9 .5 2.4-.8-1-.5zM287.7 351.1l.9 .5 2.3-.7-.9-.5zM285.3 351.9l.9 .5 2.4-.8-.9-.5zM283 352.7l.9 .5 2.3-.8-.9-.5zM280.6 353.4l.9 .5 2.4-.7-.9-.5zM278.3 354.2l.9 .5 2.3-.8-.9-.5zM275.9 354.9l.9 .5 2.4-.7-.9-.5zM273.6 355.7l.9 .5 2.3-.8-.9-.5zM271.2 356.4l.9 .5 2.4-.7-.9-.5zM268.9 357.2l.9 .5 2.3-.8-.9-.5zM266.6 358l.9 .5 2.3-.8-.9-.5zM264.2 358.7l.9 .5 2.4-.7-.9-.5zM261.9 359.5l.9 .5 2.3-.8-.9-.5zM259.5 360.2l.9 .5 2.4-.7-.9-.5zM257.2 361l.9 .5 2.3-.8-.9-.5zM254.8 361.7l.9 .5 2.4-.7-.9-.5zM252.5 362.5l.9 .5 2.3-.8-.9-.5zM250.1 363.3l.9 .5 2.4-.8-.9-.5zM247.8 364l.9 .5 2.3-.7-.9-.5zM245.4 364.8l1 .5 2.3-.8-.9-.5zM243.1 365.5l.9 .5 2.4-.7-1-.5zM240.8 366.3l.9 .5 2.3-.8-.9-.5zM238.4 367l.9 .5 2.4-.7-.9-.5zM236.1 367.8l.9 .5 2.3-.8-.9-.5zM233.7 368.6l.9 .5 2.4-.8-.9-.5zM231.4 369.3l.9 .5 2.3-.7-.9-.5zM229 370.1l.9 .5 2.4-.8-.9-.5zM226.7 370.8l.9 .5 2.3-.7-.9-.5zM224.3 371.6l.9 .5 2.4-.8-.9-.5zM222 372.3l.9 .5 2.3-.7-.9-.5zM219.7 373.1l.9 .5 2.3-.8-.9-.5zM217.3 373.9l.9 .5 2.4-.8-.9-.5zM215 374.6l.9 .5 2.3-.7-.9-.5zM212.6 375.4l.9 .5 2.4-.8-.9-.5zM210.3 376.1l.9 .5 2.3-.7-.9-.5zM207.9 376.9l.9 .5 2.4-.8-.9-.5zM205.6 377.6l.9 .5 2.3-.7-.9-.5zM203.2 378.4l.9 .5 2.4-.8-.9-.5zM200.9 379.2l.9 .5 2.3-.8-.9-.5z"/></g>
<path fill="none" stroke-width="0.45" d="M407.3 307.6l2.3-2.1 2.3-2.3 2.4-2.5 2.3-2.8 2.4-3.1 2.3-3.1 2.4-2.2 2.3-1.9 2.4-1.5 2.3-1.3 2.3-1.1 2.4-.9M408.2 311.3l2.3-1.7 2.3-1.8 2.4-2.2 2.3-2.3 2.4-2.7 2.3-2.7 2.4-2.3 2.3-1.8 2.4-1.5 2.3-1.2 2.4-.7 2.3-.3"/>
<g stroke-width="0.3"><path fill="#0000b9" d="M434 290.4l.9 5.1 2.3-.2-.9-5.2z"/><path fill="#0000ba" d="M431.6 291.1l.9 5.1 2.4-.7-.9-5.1z"/><path fill="#0000b9" d="M429.3 292.3l.9 5.1 2.3-1.2-.9-5.1z"/><path fill="#0000b6" d="M426.9 293.8l.9 5.1 2.4-1.5-.9-5.1z"/><path fill="#0000a2" d="M424.6 295.6l.9 5.3 2.3-2-.9-5.1z"/><path fill="#00009b" d="M422.2 297.9l.9 5.3 2.4-2.3-.9-5.3z"/><path fill="#000085" d="M419.9 300.6l.9 4.9 2.3-2.3-.9-5.3z"/><path fill="#00007e" d="M417.5 303.3l.9 4.4 2.4-2.2-.9-4.9z"/><path fill="#00006b" d="M415.2 305.6l.9 3.9 2.3-1.8-.9-4.4z"/><path fill="#000067" d="M412.8 307.8l1 3.3 2.3-1.6-.9-3.9z"/><path fill="#000063" d="M410.5 309.6l.9 2.9 2.4-1.4-1-3.3z"/><path fill="#000061" d="M408.2 311.3l.9 2.2 2.3-1-.9-2.9z"/><path fill="#000060" d="M405.8 312.7l.9 1.6 2.4-.8-.9-2.2z"/><path fill="#00005f" d="M403.5 314l.9 1 2.3-.7-.9-1.6zM401.1 315.1l.9 .7 2.4-.8-.9-1zM398.8 316l.9 .6 2.3-.8-.9-.7zM396.4 316.8l.9 .5 2.4-.7-.9-.6zM394.1 317.6l.9 .5 2.3-.8-.9-.5zM391.7 318.3l1 .5 2.3-.7-.9-.5zM389.4 319.1l.9 .5 2.4-.8-1-.5zM387.1 319.8l.9 .5 2.3-.7-.9-.5zM384.7 320.6l.9 .5 2.4-.8-.9-.5zM382.4 321.4l.9 .5 2.3-.8-.9-.5zM380 322.1l.9 .5 2.4-.7-.9-.5zM377.7 322.9l.9 .5 2.3-.8-.9-.5zM375.3 323.6l.9 .5 2.4-.7-.9-.5zM373 324.4l.9 .5 2.3-.8-.9-.5zM370.6 325.1l.9 .5 2.4-.7-.9-.5zM368.3 325.9l.9 .5 2.3-.8-.9-.5zM365.9 326.7l1 .5 2.3-.8-.9-.5zM363.6 327.4l.9 .5 2.4-.7-1-.5zM361.3 328.2l.9 .5 2.3-.8-.9-.5zM358.9 328.9l.9 .5 2.4-.7-.9-.5zM356.6 329.7l.9 .5 2.3-.8-.9-.5zM354.2 330.4l.9 .5 2.4-.7-.9-.5zM351.9 331.2l.9 .5 2.3-.8-.9-.5zM349.5 332l.9 .5 2.4-.8-.9-.5zM347.2 332.7l.9 .5 2.3-.7-.9-.5zM344.8 333.5l1 .5 2.3-.8-.9-.5zM342.5 334.2l.9 .5 2.4-.7-1-.5zM340.2 335l.9 .5 2.3-.8-.9-.5zM337.8 335.7l.9 .5 2.4-.7-.9-.5zM335.5 336.5l.9 .5 2.3-.8-.9-.5zM333.1 337.3l.9 .5 2.4-.8-.9-.5zM330.8 338l.9 .5 2.3-.7-.9-.5zM328.4 338.8l.9 .5 2.4-.8-.9-.5zM326.1 339.5l.9 .5 2.3-.7-.9-.5zM323.7 340.3l.9 .5 2.4-.8-.9-.5zM321.4 341l.9 .5 2.3-.7-.9-.5zM319 341.8l1 .5 2.3-.8-.9-.5zM316.7 342.6l.9 .5 2.4-.8-1-.5zM314.4 343.3l.9 .5 2.3-.7-.9-.5zM312 344.1l.9 .5 2.4-.8-.9-.5zM309.7 344.8l.9 .5 2.3-.7-.9-.5zM307.3 345.6l.9 .5 2.4-.8-.9-.5zM305 346.3l.9 .5 2.3-.7-.9-.5zM302.6 347.1l.9 .5 2.4-.8-.9-.5zM300.3 347.9l.9 .5 2.3-.8-.9-.5zM297.9 348.6l1 .5 2.3-.7-.9-.5zM295.6 349.4l.9 .5 2.4-.8-1-.5zM293.3 350.1l.9 .5 2.3-.7-.9-.5zM290.9 350.9l.9 .5 2.4-.8-.9-.5zM288.6 351.6l.9 .5 2.3-.7-.9-.5zM286.2 352.4l.9 .5 2.4-.8-.9-.5zM283.9 353.2l.9 .5 2.3-.8-.9-.5zM281.5 353.9l.9 .5 2.4-.7-.9-.5zM279.2 354.7l.9 .5 2.3-.8-.9-.5zM276.8 355.4l.9 .5 2.4-.7-.9-.5zM274.5 356.2l.9 .5 2.3-.8-.9-.5zM272.1 356.9l1 .5 2.3-.7-.9-.5zM269.8 357.7l.9 .5 2.4-.8-1-.5zM267.5 358.5l.9 .4 2.3-.7-.9-.5zM265.1 359.2l.9 .5 2.4-.8-.9-.4zM262.8 360l.9 .5 2.3-.8-.9-.5zM260.4 360.7l.9 .5 2.4-.7-.9-.5zM258.1 361.5l.9 .5 2.3-.8-.9-.5zM255.7 362.2l.9 .5 2.4-.7-.9-.5zM253.4 363l.9 .5 2.3-.8-.9-.5zM251 363.8l1 .4 2.3-.7-.9-.5zM248.7 364.5l.9 .5 2.4-.8-1-.4zM246.4 365.3l.9 .5 2.3-.8-.9-.5zM244 366l.9 .5 2.4-.7-.9-.5zM241.7 366.8l.9 .5 2.3-.8-.9-.5zM239.3 367.5l.9 .5 2.4-.7-.9-.5zM237 368.3l.9 .5 2.3-.8-.9-.5zM234.6 369.1l.9 .4 2.4-.7-.9-.5zM232.3 369.8l.9 .5 2.3-.8-.9-.4zM229.9 370.6l.9 .5 2.4-.8-.9-.5zM227.6 371.3l.9 .5 2.3-.7-.9-.5zM225.2 372.1l1 .5 2.3-.8-.9-.5zM222.9 372.8l.9 .5 2.4-.7-1-.5zM220.6 373.6l.9 .5 2.3-.8-.9-.5zM218.2 374.4l.9 .4 2.4-.7-.9-.5zM215.9 375.1l.9 .5 2.3-.8-.9-.4zM213.5 375.9l.9 .5 2.4-.8-.9-.5zM211.2 376.6l.9 .5 2.3-.7-.9-.5zM208.8 377.4l.9 .5 2.4-.8-.9-.5zM206.5 378.1l.9 .5 2.3-.7-.9-.5zM204.1 378.9l1 .5 2.3-.8-.9-.5zM201.8 379.7l.9 .4 2.4-.7-1-.5z"/></g>
<path fill="none" stroke-width="0.45" d="M415.2 305.6l2.3-2.3 2.4-2.7 2.3-2.7 2.4-2.3 2.3-1.8 2.4-1.5 2.3-1.2 2.4-.7 2.3-.3M416.1 309.5l2.3-1.8 2.4-2.2 2.3-2.3 2.4-2.3 2.3-2 2.4-1.5 2.3-1.2 2.4-.7 2.3-.2"/>
<g stroke-width="0.3"><path fill="#000097" d="M434.9 295.5l.9 3.9 2.3-.4-.9-3.7z"/><path fill="#000098" d="M432.5 296.2l.9 4 2.4-.8-.9-3.9z"/><path fill="#000096" d="M430.2 297.4l.9 4.1 2.3-1.3-.9-4z"/><path fill="#000085" d="M427.8 298.9l.9 4.3 2.4-1.7-.9-4.1z"/><path fill="#000080" d="M425.5 300.9l.9 4.3 2.3-2-.9-4.3z"/><path fill="#00007a" d="M423.1 303.2l.9 4.2 2.4-2.2-.9-4.3z"/><path fill="#000068" d="M420.8 305.5l.9 3.7 2.3-1.8-.9-4.2z"/><path fill="#000064" d="M418.4 307.7l1 3 2.3-1.5-.9-3.7z"/><path fill="#000061" d="M416.1 309.5l.9 2.3 2.4-1.1-1-3z"/><path fill="#000060" d="M413.8 311.1l.9 1.4 2.3-.7-.9-2.3z"/><path fill="#00005f" d="M411.4 312.5l.9 .8 2.4-.8-.9-1.4zM409.1 313.5l.9 .5 2.3-.7-.9-.8zM406.7 314.3l.9 .5 2.4-.8-.9-.5zM404.4 315l.9 .5 2.3-.7-.9-.5zM402 315.8l.9 .5 2.4-.8-.9-.5zM399.7 316.6l.9 .5 2.3-.8-.9-.5zM397.3 317.3l1 .5 2.3-.7-.9-.5zM395 318.1l.9 .5 2.4-.8-1-.5zM392.7 318.8l.9 .5 2.3-.7-.9-.5zM390.3 319.6l.9 .5 2.4-.8-.9-.5zM388 320.3l.9 .5 2.3-.7-.9-.5zM385.6 321.1l.9 .5 2.4-.8-.9-.5zM383.3 321.9l.9 .5 2.3-.8-.9-.5zM380.9 322.6l.9 .5 2.4-.7-.9-.5zM378.6 323.4l.9 .5 2.3-.8-.9-.5zM376.2 324.1l.9 .5 2.4-.7-.9-.5zM373.9 324.9l.9 .5 2.3-.8-.9-.5zM371.5 325.6l1 .5 2.3-.7-.9-.5zM369.2 326.4l.9 .5 2.4-.8-1-.5zM366.9 327.2l.9 .4 2.3-.7-.9-.5zM364.5 327.9l.9 .5 2.4-.8-.9-.4zM362.2 328.7l.9 .5 2.3-.8-.9-.5zM359.8 329.4l.9 .5 2.4-.7-.9-.5zM357.5 330.2l.9 .5 2.3-.8-.9-.5zM355.1 330.9l.9 .5 2.4-.7-.9-.5zM352.8 331.7l.9 .5 2.3-.8-.9-.5zM350.4 332.5l1 .4 2.3-.7-.9-.5zM348.1 333.2l.9 .5 2.4-.8-1-.4zM345.8 334l.9 .5 2.3-.8-.9-.5zM343.4 334.7l.9 .5 2.4-.7-.9-.5zM341.1 335.5l.9 .5 2.3-.8-.9-.5zM338.7 336.2l.9 .5 2.4-.7-.9-.5zM336.4 337l.9 .5 2.3-.8-.9-.5zM334 337.8l.9 .4 2.4-.7-.9-.5zM331.7 338.5l.9 .5 2.3-.8-.9-.4zM329.3 339.3l.9 .5 2.4-.8-.9-.5zM327 340l.9 .5 2.3-.7-.9-.5zM324.6 340.8l1 .5 2.3-.8-.9-.5zM322.3 341.5l.9 .5 2.4-.7-1-.5zM320 342.3l.9 .5 2.3-.8-.9-.5zM317.6 343.1l.9 .4 2.4-.7-.9-.5zM315.3 343.8l.9 .5 2.3-.8-.9-.4zM312.9 344.6l.9 .5 2.4-.8-.9-.5zM310.6 345.3l.9 .5 2.3-.7-.9-.5zM308.2 346.1l.9 .5 2.4-.8-.9-.5zM305.9 346.8l.9 .5 2.3-.7-.9-.5zM303.5 347.6l1 .5 2.3-.8-.9-.5zM301.2 348.4l.9 .4 2.4-.7-1-.5zM298.9 349.1l.9 .5 2.3-.8-.9-.4zM296.5 349.9l.9 .5 2.4-.8-.9-.5zM294.2 350.6l.9 .5 2.3-.7-.9-.5zM291.8 351.4l.9 .5 2.4-.8-.9-.5zM289.5 352.1l.9 .5 2.3-.7-.9-.5zM287.1 352.9l.9 .5 2.4-.8-.9-.5zM284.8 353.7l.9 .4 2.3-.7-.9-.5zM282.4 354.4l.9 .5 2.4-.8-.9-.4zM280.1 355.2l.9 .5 2.3-.8-.9-.5zM277.7 355.9l1 .5 2.3-.7-.9-.5zM275.4 356.7l.9 .5 2.4-.8-1-.5zM273.1 357.4l.9 .5 2.3-.7-.9-.5zM270.7 358.2l.9 .5 2.4-.8-.9-.5zM268.4 358.9l.9 .5 2.3-.7-.9-.5zM266 359.7l.9 .5 2.4-.8-.9-.5zM263.7 360.5l.9 .5 2.3-.8-.9-.5zM261.3 361.2l.9 .5 2.4-.7-.9-.5zM259 362l.9 .5 2.3-.8-.9-.5zM256.6 362.7l1 .5 2.3-.7-.9-.5zM254.3 363.5l.9 .5 2.4-.8-1-.5zM252 364.2l.9 .5 2.3-.7-.9-.5zM249.6 365l.9 .5 2.4-.8-.9-.5zM247.3 365.8l.9 .5 2.3-.8-.9-.5zM244.9 366.5l.9 .5 2.4-.7-.9-.5zM242.6 367.3l.9 .5 2.3-.8-.9-.5zM240.2 368l.9 .5 2.4-.7-.9-.5zM237.9 368.8l.9 .5 2.3-.8-.9-.5zM235.5 369.5l.9 .5 2.4-.7-.9-.5zM233.2 370.3l.9 .5 2.3-.8-.9-.5zM230.8 371.1l1 .5 2.3-.8-.9-.5zM228.5 371.8l.9 .5 2.4-.7-1-.5zM226.2 372.6l.9 .5 2.3-.8-.9-.5zM223.8 373.3l.9 .5 2.4-.7-.9-.5zM221.5 374.1l.9 .5 2.3-.8-.9-.5zM219.1 374.8l.9 .5 2.4-.7-.9-.5zM216.8 375.6l.9 .5 2.3-.8-.9-.5zM214.4 376.4l.9 .5 2.4-.8-.9-.5zM212.1 377.1l.9 .5 2.3-.7-.9-.5zM209.7 377.9l1 .5 2.3-.8-.9-.5zM207.4 378.6l.9 .5 2.4-.7-1-.5zM205.1 379.4l.9 .5 2.3-.8-.9-.5zM202.7 380.1l.9 .5 2.4-.7-.9-.5z"/></g>
<path fill="none" stroke-width="0.45" d="M420.8 305.5l2.3-2.3 2.4-2.3 2.3-2 2.4-1.5 2.3-1.2 2.4-.7 2.3-.2M421.7 309.2l2.3-1.8 2.4-2.2 2.3-2 2.4-1.7 2.3-1.3 2.4-.8 2.3-.4"/>
<g stroke-width="0.3"><path fill="#00007d" d="M435.8 299.4l.9 3 2.3-.6-.9-2.8zM433.4 300.2l.9 3.2 2.4-1-.9-3z"/><path fill="#00007b" d="M431.1 301.5l.9 3.4 2.3-1.5-.9-3.2z"/><path fill="#00006b" d="M428.7 303.2l.9 3.4 2.4-1.7-.9-3.4z"/><path fill="#000067" d="M426.4 305.2l.9 3.2 2.3-1.8-.9-3.4z"/><path fill="#000062" d="M424 307.4l1 2.6 2.3-1.6-.9-3.2z"/><path fill="#000060" d="M421.7 309.2l.9 1.5 2.4-.7-1-2.6z"/><path fill="#00005f" d="M419.4 310.7l.9 .8 2.3-.8-.9-1.5zM417 311.8l.9 .4 2.4-.7-.9-.8zM414.7 312.5l.9 .5 2.3-.8-.9-.4zM412.3 313.3l.9 .5 2.4-.8-.9-.5zM410 314l.9 .5 2.3-.7-.9-.5zM407.6 314.8l.9 .5 2.4-.8-.9-.5zM405.3 315.5l.9 .5 2.3-.7-.9-.5zM402.9 316.3l.9 .5 2.4-.8-.9-.5zM400.6 317.1l.9 .4 2.3-.7-.9-.5zM398.3 317.8l.9 .5 2.3-.8-.9-.4zM395.9 318.6l.9 .5 2.4-.8-.9-.5zM393.6 319.3l.9 .5 2.3-.7-.9-.5zM391.2 320.1l.9 .5 2.4-.8-.9-.5zM388.9 320.8l.9 .5 2.3-.7-.9-.5zM386.5 321.6l.9 .5 2.4-.8-.9-.5zM384.2 322.4l.9 .4 2.3-.7-.9-.5zM381.8 323.1l.9 .5 2.4-.8-.9-.4zM379.5 323.9l.9 .5 2.3-.8-.9-.5zM377.1 324.6l1 .5 2.3-.7-.9-.5zM374.8 325.4l.9 .5 2.4-.8-1-.5zM372.5 326.1l.9 .5 2.3-.7-.9-.5zM370.1 326.9l.9 .5 2.4-.8-.9-.5zM367.8 327.6l.9 .5 2.3-.7-.9-.5zM365.4 328.4l.9 .5 2.4-.8-.9-.5zM363.1 329.2l.9 .5 2.3-.8-.9-.5zM360.7 329.9l.9 .5 2.4-.7-.9-.5zM358.4 330.7l.9 .5 2.3-.8-.9-.5zM356 331.4l.9 .5 2.4-.7-.9-.5zM353.7 332.2l.9 .5 2.3-.8-.9-.5zM351.4 332.9l.9 .5 2.3-.7-.9-.5zM349 333.7l.9 .5 2.4-.8-.9-.5zM346.7 334.5l.9 .5 2.3-.8-.9-.5zM344.3 335.2l.9 .5 2.4-.7-.9-.5zM342 336l.9 .5 2.3-.8-.9-.5zM339.6 336.7l.9 .5 2.4-.7-.9-.5zM337.3 337.5l.9 .5 2.3-.8-.9-.5zM334.9 338.2l.9 .5 2.4-.7-.9-.5zM332.6 339l.9 .5 2.3-.8-.9-.5zM330.2 339.8l1 .5 2.3-.8-.9-.5zM327.9 340.5l.9 .5 2.4-.7-1-.5zM325.6 341.3l.9 .5 2.3-.8-.9-.5zM323.2 342l.9 .5 2.4-.7-.9-.5zM320.9 342.8l.9 .5 2.3-.8-.9-.5zM318.5 343.5l.9 .5 2.4-.7-.9-.5zM316.2 344.3l.9 .5 2.3-.8-.9-.5zM313.8 345.1l.9 .5 2.4-.8-.9-.5zM311.5 345.8l.9 .5 2.3-.7-.9-.5zM309.1 346.6l.9 .5 2.4-.8-.9-.5zM306.8 347.3l.9 .5 2.3-.7-.9-.5zM304.5 348.1l.9 .5 2.3-.8-.9-.5zM302.1 348.8l.9 .5 2.4-.7-.9-.5zM299.8 349.6l.9 .5 2.3-.8-.9-.5zM297.4 350.4l.9 .5 2.4-.8-.9-.5zM295.1 351.1l.9 .5 2.3-.7-.9-.5zM292.7 351.9l.9 .5 2.4-.8-.9-.5zM290.4 352.6l.9 .5 2.3-.7-.9-.5zM288 353.4l.9 .5 2.4-.8-.9-.5zM285.7 354.1l.9 .5 2.3-.7-.9-.5zM283.3 354.9l1 .5 2.3-.8-.9-.5zM281 355.7l.9 .5 2.4-.8-1-.5zM278.7 356.4l.9 .5 2.3-.7-.9-.5zM276.3 357.2l.9 .5 2.4-.8-.9-.5zM274 357.9l.9 .5 2.3-.7-.9-.5zM271.6 358.7l.9 .5 2.4-.8-.9-.5zM269.3 359.4l.9 .5 2.3-.7-.9-.5zM266.9 360.2l.9 .5 2.4-.8-.9-.5zM264.6 361l.9 .5 2.3-.8-.9-.5zM262.2 361.7l.9 .5 2.4-.7-.9-.5zM259.9 362.5l.9 .5 2.3-.8-.9-.5zM257.6 363.2l.9 .5 2.3-.7-.9-.5zM255.2 364l.9 .5 2.4-.8-.9-.5zM252.9 364.7l.9 .5 2.3-.7-.9-.5zM250.5 365.5l.9 .5 2.4-.8-.9-.5zM248.2 366.3l.9 .5 2.3-.8-.9-.5zM245.8 367l.9 .5 2.4-.7-.9-.5zM243.5 367.8l.9 .5 2.3-.8-.9-.5zM241.1 368.5l.9 .5 2.4-.7-.9-.5zM238.8 369.3l.9 .5 2.3-.8-.9-.5zM236.4 370l1 .5 2.3-.7-.9-.5zM234.1 370.8l.9 .5 2.4-.8-1-.5zM231.8 371.6l.9 .5 2.3-.8-.9-.5zM229.4 372.3l.9 .5 2.4-.7-.9-.5zM227.1 373.1l.9 .5 2.3-.8-.9-.5zM224.7 373.8l.9 .5 2.4-.7-.9-.5zM222.4 374.6l.9 .5 2.3-.8-.9-.5zM220 375.3l.9 .5 2.4-.7-.9-.5zM217.7 376.1l.9 .5 2.3-.8-.9-.5zM215.3 376.9l.9 .4 2.4-.7-.9-.5zM213 377.6l.9 .5 2.3-.8-.9-.4zM210.7 378.4l.9 .5 2.3-.8-.9-.5zM208.3 379.1l.9 .5 2.4-.7-.9-.5zM206 379.9l.9 .5 2.3-.8-.9-.5zM203.6 380.6l.9 .5 2.4-.7-.9-.5z"/></g>
<path fill="none" stroke-width="0.45" d=""/>
<g stroke-width="0.3"><path fill="#000068" d="M436.7 302.4l.9 2.3 2.3-.8-.9-2.1zM434.3 303.4l.9 2.5 2.4-1.2-.9-2.3z"/><path fill="#006" d="M432 304.9l.9 2.4 2.3-1.4-.9-2.5z"/><path fill="#000063" d="M429.6 306.6l1 1.9 2.3-1.2-.9-2.4z"/><path fill="#000061" d="M427.3 308.4l.9 1.1 2.4-1-1-1.9z"/><path fill="#00005f" d="M425 310l.9 .5 2.3-1-.9-1.1zM422.6 310.7l.9 .5 2.4-.7-.9-.5zM420.3 311.5l.9 .5 2.3-.8-.9-.5zM417.9 312.2l.9 .5 2.4-.7-.9-.5zM415.6 313l.9 .5 2.3-.8-.9-.5zM413.2 313.8l.9 .5 2.4-.8-.9-.5zM410.9 314.5l.9 .5 2.3-.7-.9-.5zM408.5 315.3l.9 .5 2.4-.8-.9-.5zM406.2 316l.9 .5 2.3-.7-.9-.5zM403.8 316.8l1 .5 2.3-.8-.9-.5zM401.5 317.5l.9 .5 2.4-.7-1-.5zM399.2 318.3l.9 .5 2.3-.8-.9-.5zM396.8 319.1l.9 .5 2.4-.8-.9-.5zM394.5 319.8l.9 .5 2.3-.7-.9-.5zM392.1 320.6l.9 .5 2.4-.8-.9-.5zM389.8 321.3l.9 .5 2.3-.7-.9-.5zM387.4 322.1l.9 .5 2.4-.8-.9-.5zM385.1 322.8l.9 .5 2.3-.7-.9-.5zM382.7 323.6l1 .5 2.3-.8-.9-.5zM380.4 324.4l.9 .5 2.4-.8-1-.5zM378.1 325.1l.9 .5 2.3-.7-.9-.5zM375.7 325.9l.9 .5 2.4-.8-.9-.5zM373.4 326.6l.9 .5 2.3-.7-.9-.5zM371 327.4l.9 .5 2.4-.8-.9-.5zM368.7 328.1l.9 .5 2.3-.7-.9-.5zM366.3 328.9l.9 .5 2.4-.8-.9-.5zM364 329.7l.9 .5 2.3-.8-.9-.5zM361.6 330.4l.9 .5 2.4-.7-.9-.5zM359.3 331.2l.9 .5 2.3-.8-.9-.5zM356.9 331.9l1 .5 2.3-.7-.9-.5zM354.6 332.7l.9 .5 2.4-.8-1-.5zM352.3 333.4l.9 .5 2.3-.7-.9-.5zM349.9 334.2l.9 .5 2.4-.8-.9-.5zM347.6 335l.9 .5 2.3-.8-.9-.5zM345.2 335.7l.9 .5 2.4-.7-.9-.5zM342.9 336.5l.9 .5 2.3-.8-.9-.5zM340.5 337.2l.9 .5 2.4-.7-.9-.5zM338.2 338l.9 .5 2.3-.8-.9-.5zM335.8 338.7l1 .5 2.3-.7-.9-.5zM333.5 339.5l.9 .5 2.4-.8-1-.5zM331.2 340.3l.9 .5 2.3-.8-.9-.5zM328.8 341l.9 .5 2.4-.7-.9-.5zM326.5 341.8l.9 .5 2.3-.8-.9-.5zM324.1 342.5l.9 .5 2.4-.7-.9-.5zM321.8 343.3l.9 .5 2.3-.8-.9-.5zM319.4 344l.9 .5 2.4-.7-.9-.5zM317.1 344.8l.9 .5 2.3-.8-.9-.5zM314.7 345.6l.9 .5 2.4-.8-.9-.5zM312.4 346.3l.9 .5 2.3-.7-.9-.5zM310 347.1l1 .5 2.3-.8-.9-.5zM307.7 347.8l.9 .5 2.4-.7-1-.5zM305.4 348.6l.9 .5 2.3-.8-.9-.5zM303 349.3l.9 .5 2.4-.7-.9-.5zM300.7 350.1l.9 .5 2.3-.8-.9-.5zM298.3 350.9l.9 .4 2.4-.7-.9-.5zM296 351.6l.9 .5 2.3-.8-.9-.4zM293.6 352.4l.9 .5 2.4-.8-.9-.5zM291.3 353.1l.9 .5 2.3-.7-.9-.5zM288.9 353.9l1 .5 2.3-.8-.9-.5zM286.6 354.6l.9 .5 2.4-.7-1-.5zM284.3 355.4l.9 .5 2.3-.8-.9-.5zM281.9 356.2l.9 .4 2.4-.7-.9-.5zM279.6 356.9l.9 .5 2.3-.8-.9-.4zM277.2 357.7l.9 .5 2.4-.8-.9-.5zM274.9 358.4l.9 .5 2.3-.7-.9-.5zM272.5 359.2l.9 .5 2.4-.8-.9-.5zM270.2 359.9l.9 .5 2.3-.7-.9-.5zM267.8 360.7l.9 .5 2.4-.8-.9-.5zM265.5 361.5l.9 .4 2.3-.7-.9-.5zM263.1 362.2l1 .5 2.3-.8-.9-.4zM260.8 363l.9 .5 2.4-.8-1-.5zM258.5 363.7l.9 .5 2.3-.7-.9-.5zM256.1 364.5l.9 .5 2.4-.8-.9-.5zM253.8 365.2l.9 .5 2.3-.7-.9-.5zM251.4 366l.9 .5 2.4-.8-.9-.5zM249.1 366.8l.9 .4 2.3-.7-.9-.5zM246.7 367.5l.9 .5 2.4-.8-.9-.4zM244.4 368.3l.9 .5 2.3-.8-.9-.5zM242 369l1 .5 2.3-.7-.9-.5zM239.7 369.8l.9 .5 2.4-.8-1-.5zM237.4 370.5l.9 .5 2.3-.7-.9-.5zM235 371.3l.9 .5 2.4-.8-.9-.5zM232.7 372.1l.9 .4 2.3-.7-.9-.5zM230.3 372.8l.9 .5 2.4-.8-.9-.4zM228 373.6l.9 .5 2.3-.8-.9-.5zM225.6 374.3l.9 .5 2.4-.7-.9-.5zM223.3 375.1l.9 .5 2.3-.8-.9-.5zM220.9 375.8l.9 .5 2.4-.7-.9-.5zM218.6 376.6l.9 .5 2.3-.8-.9-.5zM216.2 377.3l1 .5 2.3-.7-.9-.5zM213.9 378.1l.9 .5 2.4-.8-1-.5zM211.6 378.9l.9 .5 2.3-.8-.9-.5zM209.2 379.6l.9 .5 2.4-.7-.9-.5zM206.9 380.4l.9 .5 2.3-.8-.9-.5zM204.5 381.1l.9 .5 2.4-.7-.9-.5z"/></g>
<path fill="none" stroke-width="0.45" d=""/>
<g stroke-width="0.3"><path fill="#000063" d="M437.6 304.7l.9 1.8 2.3-.9-.9-1.7z"/><path fill="#000062" d="M435.2 305.9l.9 1.5 2.4-.9-.9-1.8z"/><path fill="#000061" d="M432.9 307.3l.9 1.1 2.3-1-.9-1.5z"/><path fill="#000060" d="M430.6 308.5l.9 .8 2.3-.9-.9-1.1z"/><path fill="#00005f" d="M428.2 309.5l.9 .6 2.4-.8-.9-.8zM425.9 310.5l.9 .5 2.3-.9-.9-.6zM423.5 311.2l.9 .5 2.4-.7-.9-.5zM421.2 312l.9 .5 2.3-.8-.9-.5zM418.8 312.7l.9 .5 2.4-.7-.9-.5zM416.5 313.5l.9 .5 2.3-.8-.9-.5zM414.1 314.3l.9 .5 2.4-.8-.9-.5zM411.8 315l.9 .5 2.3-.7-.9-.5zM409.4 315.8l1 .5 2.3-.8-.9-.5zM407.1 316.5l.9 .5 2.4-.7-1-.5zM404.8 317.3l.9 .5 2.3-.8-.9-.5zM402.4 318l.9 .5 2.4-.7-.9-.5zM400.1 318.8l.9 .5 2.3-.8-.9-.5zM397.7 319.6l.9 .5 2.4-.8-.9-.5zM395.4 320.3l.9 .5 2.3-.7-.9-.5zM393 321.1l.9 .5 2.4-.8-.9-.5zM390.7 321.8l.9 .5 2.3-.7-.9-.5zM388.3 322.6l.9 .5 2.4-.8-.9-.5zM386 323.3l.9 .5 2.3-.7-.9-.5zM383.7 324.1l.9 .5 2.3-.8-.9-.5zM381.3 324.9l.9 .4 2.4-.7-.9-.5zM379 325.6l.9 .5 2.3-.8-.9-.4zM376.6 326.4l.9 .5 2.4-.8-.9-.5zM374.3 327.1l.9 .5 2.3-.7-.9-.5zM371.9 327.9l.9 .5 2.4-.8-.9-.5zM369.6 328.6l.9 .5 2.3-.7-.9-.5zM367.2 329.4l.9 .5 2.4-.8-.9-.5zM364.9 330.2l.9 .4 2.3-.7-.9-.5zM362.5 330.9l1 .5 2.3-.8-.9-.4zM360.2 331.7l.9 .5 2.4-.8-1-.5zM357.9 332.4l.9 .5 2.3-.7-.9-.5zM355.5 333.2l.9 .5 2.4-.8-.9-.5zM353.2 333.9l.9 .5 2.3-.7-.9-.5zM350.8 334.7l.9 .5 2.4-.8-.9-.5zM348.5 335.5l.9 .4 2.3-.7-.9-.5zM346.1 336.2l.9 .5 2.4-.8-.9-.4zM343.8 337l.9 .5 2.3-.8-.9-.5zM341.4 337.7l.9 .5 2.4-.7-.9-.5zM339.1 338.5l.9 .5 2.3-.8-.9-.5zM336.8 339.2l.9 .5 2.3-.7-.9-.5zM334.4 340l.9 .5 2.4-.8-.9-.5zM332.1 340.8l.9 .4 2.3-.7-.9-.5zM329.7 341.5l.9 .5 2.4-.8-.9-.4zM327.4 342.3l.9 .5 2.3-.8-.9-.5zM325 343l.9 .5 2.4-.7-.9-.5zM322.7 343.8l.9 .5 2.3-.8-.9-.5zM320.3 344.5l.9 .5 2.4-.7-.9-.5zM318 345.3l.9 .5 2.3-.8-.9-.5zM315.6 346.1l1 .4 2.3-.7-.9-.5zM313.3 346.8l.9 .5 2.4-.8-1-.4zM311 347.6l.9 .5 2.3-.8-.9-.5zM308.6 348.3l.9 .5 2.4-.7-.9-.5zM306.3 349.1l.9 .5 2.3-.8-.9-.5zM303.9 349.8l.9 .5 2.4-.7-.9-.5zM301.6 350.6l.9 .5 2.3-.8-.9-.5zM299.2 351.3l.9 .5 2.4-.7-.9-.5zM296.9 352.1l.9 .5 2.3-.8-.9-.5zM294.5 352.9l.9 .5 2.4-.8-.9-.5zM292.2 353.6l.9 .5 2.3-.7-.9-.5zM289.9 354.4l.9 .5 2.3-.8-.9-.5zM287.5 355.1l.9 .5 2.4-.7-.9-.5zM285.2 355.9l.9 .5 2.3-.8-.9-.5zM282.8 356.6l.9 .5 2.4-.7-.9-.5zM280.5 357.4l.9 .5 2.3-.8-.9-.5zM278.1 358.2l.9 .5 2.4-.8-.9-.5zM275.8 358.9l.9 .5 2.3-.7-.9-.5zM273.4 359.7l.9 .5 2.4-.8-.9-.5zM271.1 360.4l.9 .5 2.3-.7-.9-.5zM268.7 361.2l1 .5 2.3-.8-.9-.5zM266.4 361.9l.9 .5 2.4-.7-1-.5zM264.1 362.7l.9 .5 2.3-.8-.9-.5zM261.7 363.5l.9 .5 2.4-.8-.9-.5zM259.4 364.2l.9 .5 2.3-.7-.9-.5zM257 365l.9 .5 2.4-.8-.9-.5zM254.7 365.7l.9 .5 2.3-.7-.9-.5zM252.3 366.5l.9 .5 2.4-.8-.9-.5zM250 367.2l.9 .5 2.3-.7-.9-.5zM247.6 368l.9 .5 2.4-.8-.9-.5zM245.3 368.8l.9 .5 2.3-.8-.9-.5zM243 369.5l.9 .5 2.3-.7-.9-.5zM240.6 370.3l.9 .5 2.4-.8-.9-.5zM238.3 371l.9 .5 2.3-.7-.9-.5zM235.9 371.8l.9 .5 2.4-.8-.9-.5zM233.6 372.5l.9 .5 2.3-.7-.9-.5zM231.2 373.3l.9 .5 2.4-.8-.9-.5zM228.9 374.1l.9 .5 2.3-.8-.9-.5zM226.5 374.8l.9 .5 2.4-.7-.9-.5zM224.2 375.6l.9 .5 2.3-.8-.9-.5zM221.8 376.3l1 .5 2.3-.7-.9-.5zM219.5 377.1l.9 .5 2.4-.8-1-.5zM217.2 377.8l.9 .5 2.3-.7-.9-.5zM214.8 378.6l.9 .5 2.4-.8-.9-.5zM212.5 379.4l.9 .5 2.3-.8-.9-.5zM210.1 380.1l.9 .5 2.4-.7-.9-.5zM207.8 380.9l.9 .5 2.3-.8-.9-.5zM205.4 381.6l.9 .5 2.4-.7-.9-.5z"/></g>
<path fill="none" stroke-width="0.45" d=""/>
<g stroke-width="0.3"><path fill="#000060" d="M438.5 306.5l.9 1.1 2.3-.8-.9-1.2z"/><path fill="#00005f" d="M436.1 307.4l1 1 2.3-.8-.9-1.1zM433.8 308.4l.9 .8 2.4-.8-1-1zM431.5 309.3l.9 .6 2.3-.7-.9-.8zM429.1 310.1l.9 .6 2.4-.8-.9-.6zM426.8 311l.9 .5 2.3-.8-.9-.6zM424.4 311.7l.9 .5 2.4-.7-.9-.5zM422.1 312.5l.9 .5 2.3-.8-.9-.5zM419.7 313.2l.9 .5 2.4-.7-.9-.5zM417.4 314l.9 .5 2.3-.8-.9-.5zM415 314.8l1 .4 2.3-.7-.9-.5zM412.7 315.5l.9 .5 2.4-.8-1-.4zM410.4 316.3l.9 .5 2.3-.8-.9-.5zM408 317l.9 .5 2.4-.7-.9-.5zM405.7 317.8l.9 .5 2.3-.8-.9-.5zM403.3 318.5l.9 .5 2.4-.7-.9-.5zM401 319.3l.9 .5 2.3-.8-.9-.5zM398.6 320.1l.9 .4 2.4-.7-.9-.5zM396.3 320.8l.9 .5 2.3-.8-.9-.4zM393.9 321.6l.9 .5 2.4-.8-.9-.5zM391.6 322.3l.9 .5 2.3-.7-.9-.5zM389.2 323.1l1 .5 2.3-.8-.9-.5zM386.9 323.8l.9 .5 2.4-.7-1-.5zM384.6 324.6l.9 .5 2.3-.8-.9-.5zM382.2 325.3l.9 .5 2.4-.7-.9-.5zM379.9 326.1l.9 .5 2.3-.8-.9-.5zM377.5 326.9l.9 .5 2.4-.8-.9-.5zM375.2 327.6l.9 .5 2.3-.7-.9-.5zM372.8 328.4l.9 .5 2.4-.8-.9-.5zM370.5 329.1l.9 .5 2.3-.7-.9-.5zM368.1 329.9l1 .5 2.3-.8-.9-.5zM365.8 330.6l.9 .5 2.4-.7-1-.5zM363.5 331.4l.9 .5 2.3-.8-.9-.5zM361.1 332.2l.9 .5 2.4-.8-.9-.5zM358.8 332.9l.9 .5 2.3-.7-.9-.5zM356.4 333.7l.9 .5 2.4-.8-.9-.5zM354.1 334.4l.9 .5 2.3-.7-.9-.5zM351.7 335.2l.9 .5 2.4-.8-.9-.5zM349.4 335.9l.9 .5 2.3-.7-.9-.5zM347 336.7l.9 .5 2.4-.8-.9-.5zM344.7 337.5l.9 .5 2.3-.8-.9-.5zM342.3 338.2l1 .5 2.3-.7-.9-.5zM340 339l.9 .5 2.4-.8-1-.5zM337.7 339.7l.9 .5 2.3-.7-.9-.5zM335.3 340.5l.9 .5 2.4-.8-.9-.5zM333 341.2l.9 .5 2.3-.7-.9-.5zM330.6 342l.9 .5 2.4-.8-.9-.5zM328.3 342.8l.9 .5 2.3-.8-.9-.5zM325.9 343.5l.9 .5 2.4-.7-.9-.5zM323.6 344.3l.9 .5 2.3-.8-.9-.5zM321.2 345l1 .5 2.3-.7-.9-.5zM318.9 345.8l.9 .5 2.4-.8-1-.5zM316.6 346.5l.9 .5 2.3-.7-.9-.5zM314.2 347.3l.9 .5 2.4-.8-.9-.5zM311.9 348.1l.9 .5 2.3-.8-.9-.5zM309.5 348.8l.9 .5 2.4-.7-.9-.5zM307.2 349.6l.9 .5 2.3-.8-.9-.5zM304.8 350.3l.9 .5 2.4-.7-.9-.5zM302.5 351.1l.9 .5 2.3-.8-.9-.5zM300.1 351.8l.9 .5 2.4-.7-.9-.5zM297.8 352.6l.9 .5 2.3-.8-.9-.5zM295.4 353.4l1 .5 2.3-.8-.9-.5zM293.1 354.1l.9 .5 2.4-.7-1-.5zM290.8 354.9l.9 .5 2.3-.8-.9-.5zM288.4 355.6l.9 .5 2.4-.7-.9-.5zM286.1 356.4l.9 .5 2.3-.8-.9-.5zM283.7 357.1l.9 .5 2.4-.7-.9-.5zM281.4 357.9l.9 .5 2.3-.8-.9-.5zM279 358.7l.9 .5 2.4-.8-.9-.5zM276.7 359.4l.9 .5 2.3-.7-.9-.5zM274.3 360.2l1 .5 2.3-.8-.9-.5zM272 360.9l.9 .5 2.4-.7-1-.5zM269.7 361.7l.9 .5 2.3-.8-.9-.5zM267.3 362.4l.9 .5 2.4-.7-.9-.5zM265 363.2l.9 .5 2.3-.8-.9-.5zM262.6 364l.9 .5 2.4-.8-.9-.5zM260.3 364.7l.9 .5 2.3-.7-.9-.5zM257.9 365.5l.9 .5 2.4-.8-.9-.5zM255.6 366.2l.9 .5 2.3-.7-.9-.5zM253.2 367l.9 .5 2.4-.8-.9-.5zM250.9 367.7l.9 .5 2.3-.7-.9-.5zM248.5 368.5l1 .5 2.3-.8-.9-.5zM246.2 369.3l.9 .5 2.4-.8-1-.5zM243.9 370l.9 .5 2.3-.7-.9-.5zM241.5 370.8l.9 .5 2.4-.8-.9-.5zM239.2 371.5l.9 .5 2.3-.7-.9-.5zM236.8 372.3l.9 .5 2.4-.8-.9-.5zM234.5 373l.9 .5 2.3-.7-.9-.5zM232.1 373.8l.9 .5 2.4-.8-.9-.5zM229.8 374.6l.9 .4 2.3-.7-.9-.5zM227.4 375.3l1 .5 2.3-.8-.9-.4zM225.1 376.1l.9 .5 2.4-.8-1-.5zM222.8 376.8l.9 .5 2.3-.7-.9-.5zM220.4 377.6l.9 .5 2.4-.8-.9-.5zM218.1 378.3l.9 .5 2.3-.7-.9-.5zM215.7 379.1l.9 .5 2.4-.8-.9-.5zM213.4 379.9l.9 .4 2.3-.7-.9-.5zM211 380.6l.9 .5 2.4-.8-.9-.4zM208.7 381.4l.9 .5 2.3-.8-.9-.5zM206.3 382.1l.9 .5 2.4-.7-.9-.5z"/></g>
<path fill="none" stroke-width="0.45" d=""/>
<g stroke-width="0.3"><path fill="#00005f" d="M439.4 307.6l.9 .6 2.4-.8-1-.6zM437.1 308.4l.9 .5 2.3-.7-.9-.6zM434.7 309.2l.9 .5 2.4-.8-.9-.5zM432.4 309.9l.9 .5 2.3-.7-.9-.5zM430 310.7l.9 .5 2.4-.8-.9-.5zM427.7 311.5l.9 .5 2.3-.8-.9-.5zM425.3 312.2l.9 .5 2.4-.7-.9-.5zM423 313l.9 .5 2.3-.8-.9-.5zM420.6 313.7l.9 .5 2.4-.7-.9-.5zM418.3 314.5l.9 .5 2.3-.8-.9-.5zM416 315.2l.9 .5 2.3-.7-.9-.5zM413.6 316l.9 .5 2.4-.8-.9-.5zM411.3 316.8l.9 .5 2.3-.8-.9-.5zM408.9 317.5l.9 .5 2.4-.7-.9-.5zM406.6 318.3l.9 .5 2.3-.8-.9-.5zM404.2 319l.9 .5 2.4-.7-.9-.5zM401.9 319.8l.9 .5 2.3-.8-.9-.5zM399.5 320.5l.9 .5 2.4-.7-.9-.5zM397.2 321.3l.9 .5 2.3-.8-.9-.5zM394.8 322.1l1 .5 2.3-.8-.9-.5zM392.5 322.8l.9 .5 2.4-.7-1-.5zM390.2 323.6l.9 .5 2.3-.8-.9-.5zM387.8 324.3l.9 .5 2.4-.7-.9-.5zM385.5 325.1l.9 .5 2.3-.8-.9-.5zM383.1 325.8l.9 .5 2.4-.7-.9-.5zM380.8 326.6l.9 .5 2.3-.8-.9-.5zM378.4 327.4l.9 .5 2.4-.8-.9-.5zM376.1 328.1l.9 .5 2.3-.7-.9-.5zM373.7 328.9l.9 .5 2.4-.8-.9-.5zM371.4 329.6l.9 .5 2.3-.7-.9-.5zM369.1 330.4l.9 .5 2.3-.8-.9-.5zM366.7 331.1l.9 .5 2.4-.7-.9-.5zM364.4 331.9l.9 .5 2.3-.8-.9-.5zM362 332.7l.9 .5 2.4-.8-.9-.5zM359.7 333.4l.9 .5 2.3-.7-.9-.5zM357.3 334.2l.9 .5 2.4-.8-.9-.5zM355 334.9l.9 .5 2.3-.7-.9-.5zM352.6 335.7l.9 .5 2.4-.8-.9-.5zM350.3 336.4l.9 .5 2.3-.7-.9-.5zM347.9 337.2l1 .5 2.3-.8-.9-.5zM345.6 338l.9 .5 2.4-.8-1-.5zM343.3 338.7l.9 .5 2.3-.7-.9-.5zM340.9 339.5l.9 .5 2.4-.8-.9-.5zM338.6 340.2l.9 .5 2.3-.7-.9-.5zM336.2 341l.9 .5 2.4-.8-.9-.5zM333.9 341.7l.9 .5 2.3-.7-.9-.5zM331.5 342.5l.9 .5 2.4-.8-.9-.5zM329.2 343.3l.9 .5 2.3-.8-.9-.5zM326.8 344l.9 .5 2.4-.7-.9-.5zM324.5 344.8l.9 .5 2.3-.8-.9-.5zM322.2 345.5l.9 .5 2.3-.7-.9-.5zM319.8 346.3l.9 .5 2.4-.8-.9-.5zM317.5 347l.9 .5 2.3-.7-.9-.5zM315.1 347.8l.9 .5 2.4-.8-.9-.5zM312.8 348.6l.9 .4 2.3-.7-.9-.5zM310.4 349.3l.9 .5 2.4-.8-.9-.4zM308.1 350.1l.9 .5 2.3-.8-.9-.5zM305.7 350.8l.9 .5 2.4-.7-.9-.5zM303.4 351.6l.9 .5 2.3-.8-.9-.5zM301 352.3l1 .5 2.3-.7-.9-.5zM298.7 353.1l.9 .5 2.4-.8-1-.5zM296.4 353.9l.9 .4 2.3-.7-.9-.5zM294 354.6l.9 .5 2.4-.8-.9-.4zM291.7 355.4l.9 .5 2.3-.8-.9-.5zM289.3 356.1l.9 .5 2.4-.7-.9-.5zM287 356.9l.9 .5 2.3-.8-.9-.5zM284.6 357.6l.9 .5 2.4-.7-.9-.5zM282.3 358.4l.9 .5 2.3-.8-.9-.5zM279.9 359.2l.9 .4 2.4-.7-.9-.5zM277.6 359.9l.9 .5 2.3-.8-.9-.4zM275.3 360.7l.9 .5 2.3-.8-.9-.5zM272.9 361.4l.9 .5 2.4-.7-.9-.5zM270.6 362.2l.9 .5 2.3-.8-.9-.5zM268.2 362.9l.9 .5 2.4-.7-.9-.5zM265.9 363.7l.9 .5 2.3-.8-.9-.5zM263.5 364.5l.9 .4 2.4-.7-.9-.5zM261.2 365.2l.9 .5 2.3-.8-.9-.4zM258.8 366l.9 .5 2.4-.8-.9-.5zM256.5 366.7l.9 .5 2.3-.7-.9-.5zM254.1 367.5l1 .5 2.3-.8-.9-.5zM251.8 368.2l.9 .5 2.4-.7-1-.5zM249.5 369l.9 .5 2.3-.8-.9-.5zM247.1 369.8l.9 .4 2.4-.7-.9-.5zM244.8 370.5l.9 .5 2.3-.8-.9-.4zM242.4 371.3l.9 .5 2.4-.8-.9-.5zM240.1 372l.9 .5 2.3-.7-.9-.5zM237.7 372.8l.9 .5 2.4-.8-.9-.5zM235.4 373.5l.9 .5 2.3-.7-.9-.5zM233 374.3l.9 .5 2.4-.8-.9-.5zM230.7 375l.9 .5 2.3-.7-.9-.5zM228.4 375.8l.9 .5 2.3-.8-.9-.5zM226 376.6l.9 .5 2.4-.8-.9-.5zM223.7 377.3l.9 .5 2.3-.7-.9-.5zM221.3 378.1l.9 .5 2.4-.8-.9-.5zM219 378.8l.9 .5 2.3-.7-.9-.5zM216.6 379.6l.9 .5 2.4-.8-.9-.5zM214.3 380.3l.9 .5 2.3-.7-.9-.5zM211.9 381.1l.9 .5 2.4-.8-.9-.5zM209.6 381.9l.9 .5 2.3-.8-.9-.5zM207.2 382.6l1 .5 2.3-.7-.9-.5z"/></g>
<path fill="none" stroke-width="0.45" d=""/>
<g stroke-width="0.3"><path fill="#00005f" d="M440.3 308.2l.9 .5 2.4-.8-.9-.5zM438 308.9l.9 .5 2.3-.7-.9-.5zM435.6 309.7l.9 .5 2.4-.8-.9-.5zM433.3 310.4l.9 .5 2.3-.7-.9-.5zM430.9 311.2l.9 .5 2.4-.8-.9-.5zM428.6 312l.9 .5 2.3-.8-.9-.5zM426.2 312.7l.9 .5 2.4-.7-.9-.5zM423.9 313.5l.9 .5 2.3-.8-.9-.5zM421.5 314.2l1 .5 2.3-.7-.9-.5zM419.2 315l.9 .5 2.4-.8-1-.5zM416.9 315.7l.9 .5 2.3-.7-.9-.5zM414.5 316.5l.9 .5 2.4-.8-.9-.5zM412.2 317.3l.9 .5 2.3-.8-.9-.5zM409.8 318l.9 .5 2.4-.7-.9-.5zM407.5 318.8l.9 .5 2.3-.8-.9-.5zM405.1 319.5l.9 .5 2.4-.7-.9-.5zM402.8 320.3l.9 .5 2.3-.8-.9-.5zM400.4 321l1 .5 2.3-.7-.9-.5zM398.1 321.8l.9 .5 2.4-.8-1-.5zM395.8 322.6l.9 .4 2.3-.7-.9-.5zM393.4 323.3l.9 .5 2.4-.8-.9-.4zM391.1 324.1l.9 .5 2.3-.8-.9-.5zM388.7 324.8l.9 .5 2.4-.7-.9-.5zM386.4 325.6l.9 .5 2.3-.8-.9-.5zM384 326.3l.9 .5 2.4-.7-.9-.5zM381.7 327.1l.9 .5 2.3-.8-.9-.5zM379.3 327.9l.9 .4 2.4-.7-.9-.5zM377 328.6l.9 .5 2.3-.8-.9-.4zM374.6 329.4l1 .5 2.3-.8-.9-.5zM372.3 330.1l.9 .5 2.4-.7-1-.5zM370 330.9l.9 .5 2.3-.8-.9-.5zM367.6 331.6l.9 .5 2.4-.7-.9-.5zM365.3 332.4l.9 .5 2.3-.8-.9-.5zM362.9 333.2l.9 .4 2.4-.7-.9-.5zM360.6 333.9l.9 .5 2.3-.8-.9-.4zM358.2 334.7l.9 .5 2.4-.8-.9-.5zM355.9 335.4l.9 .5 2.3-.7-.9-.5zM353.5 336.2l1 .5 2.3-.8-.9-.5zM351.2 336.9l.9 .5 2.4-.7-1-.5zM348.9 337.7l.9 .5 2.3-.8-.9-.5zM346.5 338.5l.9 .4 2.4-.7-.9-.5zM344.2 339.2l.9 .5 2.3-.8-.9-.4zM341.8 340l.9 .5 2.4-.8-.9-.5zM339.5 340.7l.9 .5 2.3-.7-.9-.5zM337.1 341.5l.9 .5 2.4-.8-.9-.5zM334.8 342.2l.9 .5 2.3-.7-.9-.5zM332.4 343l.9 .5 2.4-.8-.9-.5zM330.1 343.8l.9 .4 2.3-.7-.9-.5zM327.7 344.5l1 .5 2.3-.8-.9-.4zM325.4 345.3l.9 .5 2.4-.8-1-.5zM323.1 346l.9 .5 2.3-.7-.9-.5zM320.7 346.8l.9 .5 2.4-.8-.9-.5zM318.4 347.5l.9 .5 2.3-.7-.9-.5zM316 348.3l.9 .5 2.4-.8-.9-.5zM313.7 349l.9 .5 2.3-.7-.9-.5zM311.3 349.8l.9 .5 2.4-.8-.9-.5zM309 350.6l.9 .5 2.3-.8-.9-.5zM306.6 351.3l1 .5 2.3-.7-.9-.5zM304.3 352.1l.9 .5 2.4-.8-1-.5zM302 352.8l.9 .5 2.3-.7-.9-.5zM299.6 353.6l.9 .5 2.4-.8-.9-.5zM297.3 354.3l.9 .5 2.3-.7-.9-.5zM294.9 355.1l.9 .5 2.4-.8-.9-.5zM292.6 355.9l.9 .5 2.3-.8-.9-.5zM290.2 356.6l.9 .5 2.4-.7-.9-.5zM287.9 357.4l.9 .5 2.3-.8-.9-.5zM285.5 358.1l.9 .5 2.4-.7-.9-.5zM283.2 358.9l.9 .5 2.3-.8-.9-.5zM280.8 359.6l1 .5 2.3-.7-.9-.5zM278.5 360.4l.9 .5 2.4-.8-1-.5zM276.2 361.2l.9 .5 2.3-.8-.9-.5zM273.8 361.9l.9 .5 2.4-.7-.9-.5zM271.5 362.7l.9 .5 2.3-.8-.9-.5zM269.1 363.4l.9 .5 2.4-.7-.9-.5zM266.8 364.2l.9 .5 2.3-.8-.9-.5zM264.4 364.9l.9 .5 2.4-.7-.9-.5zM262.1 365.7l.9 .5 2.3-.8-.9-.5zM259.7 366.5l1 .5 2.3-.8-.9-.5zM257.4 367.2l.9 .5 2.4-.7-1-.5zM255.1 368l.9 .5 2.3-.8-.9-.5zM252.7 368.7l.9 .5 2.4-.7-.9-.5zM250.4 369.5l.9 .5 2.3-.8-.9-.5zM248 370.2l.9 .5 2.4-.7-.9-.5zM245.7 371l.9 .5 2.3-.8-.9-.5zM243.3 371.8l.9 .5 2.4-.8-.9-.5zM241 372.5l.9 .5 2.3-.7-.9-.5zM238.6 373.3l.9 .5 2.4-.8-.9-.5zM236.3 374l.9 .5 2.3-.7-.9-.5zM233.9 374.8l1 .5 2.3-.8-.9-.5zM231.6 375.5l.9 .5 2.4-.7-1-.5zM229.3 376.3l.9 .5 2.3-.8-.9-.5zM226.9 377.1l.9 .5 2.4-.8-.9-.5zM224.6 377.8l.9 .5 2.3-.7-.9-.5zM222.2 378.6l.9 .5 2.4-.8-.9-.5zM219.9 379.3l.9 .5 2.3-.7-.9-.5zM217.5 380.1l.9 .5 2.4-.8-.9-.5zM215.2 380.8l.9 .5 2.3-.7-.9-.5zM212.8 381.6l1 .5 2.3-.8-.9-.5zM210.5 382.4l.9 .5 2.4-.8-1-.5zM208.2 383.1l.9 .5 2.3-.7-.9-.5z"/></g>
<path fill="none" stroke-width="0.45" d=""/>
<g stroke-width="0.3"><path fill="#00005f" d="M441.2 308.7l.9 .5 2.4-.8-.9-.5zM438.9 309.4l.9 .5 2.3-.7-.9-.5zM436.5 310.2l.9 .5 2.4-.8-.9-.5zM434.2 310.9l.9 .5 2.3-.7-.9-.5zM431.8 311.7l.9 .5 2.4-.8-.9-.5zM429.5 312.5l.9 .4 2.3-.7-.9-.5zM427.1 313.2l1 .5 2.3-.8-.9-.4zM424.8 314l.9 .5 2.4-.8-1-.5zM422.5 314.7l.9 .5 2.3-.7-.9-.5zM420.1 315.5l.9 .5 2.4-.8-.9-.5zM417.8 316.2l.9 .5 2.3-.7-.9-.5zM415.4 317l.9 .5 2.4-.8-.9-.5zM413.1 317.8l.9 .4 2.3-.7-.9-.5zM410.7 318.5l.9 .5 2.4-.8-.9-.4zM408.4 319.3l.9 .5 2.3-.8-.9-.5zM406 320l1 .5 2.3-.7-.9-.5zM403.7 320.8l.9 .5 2.4-.8-1-.5zM401.4 321.5l.9 .5 2.3-.7-.9-.5zM399 322.3l.9 .5 2.4-.8-.9-.5zM396.7 323l.9 .5 2.3-.7-.9-.5zM394.3 323.8l.9 .5 2.4-.8-.9-.5zM392 324.6l.9 .5 2.3-.8-.9-.5zM389.6 325.3l.9 .5 2.4-.7-.9-.5zM387.3 326.1l.9 .5 2.3-.8-.9-.5zM384.9 326.8l.9 .5 2.4-.7-.9-.5zM382.6 327.6l.9 .5 2.3-.8-.9-.5zM380.2 328.3l1 .5 2.3-.7-.9-.5zM377.9 329.1l.9 .5 2.4-.8-1-.5zM375.6 329.9l.9 .5 2.3-.8-.9-.5zM373.2 330.6l.9 .5 2.4-.7-.9-.5zM370.9 331.4l.9 .5 2.3-.8-.9-.5zM368.5 332.1l.9 .5 2.4-.7-.9-.5zM366.2 332.9l.9 .5 2.3-.8-.9-.5zM363.8 333.6l.9 .5 2.4-.7-.9-.5zM361.5 334.4l.9 .5 2.3-.8-.9-.5zM359.1 335.2l1 .5 2.3-.8-.9-.5zM356.8 335.9l.9 .5 2.4-.7-1-.5zM354.5 336.7l.9 .5 2.3-.8-.9-.5zM352.1 337.4l.9 .5 2.4-.7-.9-.5zM349.8 338.2l.9 .5 2.3-.8-.9-.5zM347.4 338.9l.9 .5 2.4-.7-.9-.5zM345.1 339.7l.9 .5 2.3-.8-.9-.5zM342.7 340.5l.9 .5 2.4-.8-.9-.5zM340.4 341.2l.9 .5 2.3-.7-.9-.5zM338 342l.9 .5 2.4-.8-.9-.5zM335.7 342.7l.9 .5 2.3-.7-.9-.5zM333.3 343.5l1 .5 2.3-.8-.9-.5zM331 344.2l.9 .5 2.4-.7-1-.5zM328.7 345l.9 .5 2.3-.8-.9-.5zM326.3 345.8l.9 .5 2.4-.8-.9-.5zM324 346.5l.9 .5 2.3-.7-.9-.5zM321.6 347.3l.9 .5 2.4-.8-.9-.5zM319.3 348l.9 .5 2.3-.7-.9-.5zM316.9 348.8l.9 .5 2.4-.8-.9-.5zM314.6 349.5l.9 .5 2.3-.7-.9-.5zM312.2 350.3l1 .5 2.3-.8-.9-.5zM309.9 351.1l.9 .5 2.4-.8-1-.5zM307.6 351.8l.9 .5 2.3-.7-.9-.5zM305.2 352.6l.9 .5 2.4-.8-.9-.5zM302.9 353.3l.9 .5 2.3-.7-.9-.5zM300.5 354.1l.9 .5 2.4-.8-.9-.5zM298.2 354.8l.9 .5 2.3-.7-.9-.5zM295.8 355.6l.9 .5 2.4-.8-.9-.5zM293.5 356.4l.9 .5 2.3-.8-.9-.5zM291.1 357.1l.9 .5 2.4-.7-.9-.5zM288.8 357.9l.9 .5 2.3-.8-.9-.5zM286.4 358.6l1 .5 2.3-.7-.9-.5zM284.1 359.4l.9 .5 2.4-.8-1-.5zM281.8 360.1l.9 .5 2.3-.7-.9-.5zM279.4 360.9l.9 .5 2.4-.8-.9-.5zM277.1 361.7l.9 .5 2.3-.8-.9-.5zM274.7 362.4l.9 .5 2.4-.7-.9-.5zM272.4 363.2l.9 .5 2.3-.8-.9-.5zM270 363.9l.9 .5 2.4-.7-.9-.5zM267.7 364.7l.9 .5 2.3-.8-.9-.5zM265.3 365.4l1 .5 2.3-.7-.9-.5zM263 366.2l.9 .5 2.4-.8-1-.5zM260.7 367l.9 .4 2.3-.7-.9-.5zM258.3 367.7l.9 .5 2.4-.8-.9-.4zM256 368.5l.9 .5 2.3-.8-.9-.5zM253.6 369.2l.9 .5 2.4-.7-.9-.5zM251.3 370l.9 .5 2.3-.8-.9-.5zM248.9 370.7l.9 .5 2.4-.7-.9-.5zM246.6 371.5l.9 .5 2.3-.8-.9-.5zM244.2 372.3l.9 .4 2.4-.7-.9-.5zM241.9 373l.9 .5 2.3-.8-.9-.4zM239.5 373.8l1 .5 2.3-.8-.9-.5zM237.2 374.5l.9 .5 2.4-.7-1-.5zM234.9 375.3l.9 .5 2.3-.8-.9-.5zM232.5 376l.9 .5 2.4-.7-.9-.5zM230.2 376.8l.9 .5 2.3-.8-.9-.5zM227.8 377.6l.9 .4 2.4-.7-.9-.5zM225.5 378.3l.9 .5 2.3-.8-.9-.4zM223.1 379.1l.9 .5 2.4-.8-.9-.5zM220.8 379.8l.9 .5 2.3-.7-.9-.5zM218.4 380.6l1 .5 2.3-.8-.9-.5zM216.1 381.3l.9 .5 2.4-.7-1-.5zM213.8 382.1l.9 .5 2.3-.8-.9-.5zM211.4 382.9l.9 .4 2.4-.7-.9-.5zM209.1 383.6l.9 .5 2.3-.8-.9-.4z"/></g>
<path fill="none" stroke-width="0.45" d=""/>
<g stroke-width="0.3"><path fill="#00005f" d="M442.1 309.2l.9 .5 2.4-.8-.9-.5zM439.8 309.9l.9 .5 2.3-.7-.9-.5zM437.4 310.7l.9 .5 2.4-.8-.9-.5zM435.1 311.4l.9 .5 2.3-.7-.9-.5zM432.7 312.2l1 .5 2.3-.8-.9-.5zM430.4 312.9l.9 .5 2.4-.7-1-.5zM428.1 313.7l.9 .5 2.3-.8-.9-.5zM425.7 314.5l.9 .5 2.4-.8-.9-.5zM423.4 315.2l.9 .5 2.3-.7-.9-.5zM421 316l.9 .5 2.4-.8-.9-.5zM418.7 316.7l.9 .5 2.3-.7-.9-.5zM416.3 317.5l.9 .5 2.4-.8-.9-.5zM414 318.2l.9 .5 2.3-.7-.9-.5zM411.6 319l.9 .5 2.4-.8-.9-.5zM409.3 319.8l.9 .5 2.3-.8-.9-.5zM407 320.5l.9 .5 2.3-.7-.9-.5zM404.6 321.3l.9 .5 2.4-.8-.9-.5zM402.3 322l.9 .5 2.3-.7-.9-.5zM399.9 322.8l.9 .5 2.4-.8-.9-.5zM397.6 323.5l.9 .5 2.3-.7-.9-.5zM395.2 324.3l.9 .5 2.4-.8-.9-.5zM392.9 325.1l.9 .5 2.3-.8-.9-.5zM390.5 325.8l.9 .5 2.4-.7-.9-.5zM388.2 326.6l.9 .5 2.3-.8-.9-.5zM385.8 327.3l1 .5 2.3-.7-.9-.5zM383.5 328.1l.9 .5 2.4-.8-1-.5zM381.2 328.8l.9 .5 2.3-.7-.9-.5zM378.8 329.6l.9 .5 2.4-.8-.9-.5zM376.5 330.4l.9 .5 2.3-.8-.9-.5zM374.1 331.1l.9 .5 2.4-.7-.9-.5zM371.8 331.9l.9 .5 2.3-.8-.9-.5zM369.4 332.6l.9 .5 2.4-.7-.9-.5zM367.1 333.4l.9 .5 2.3-.8-.9-.5zM364.7 334.1l.9 .5 2.4-.7-.9-.5zM362.4 334.9l.9 .5 2.3-.8-.9-.5zM360.1 335.7l.9 .5 2.3-.8-.9-.5zM357.7 336.4l.9 .5 2.4-.7-.9-.5zM355.4 337.2l.9 .5 2.3-.8-.9-.5zM353 337.9l.9 .5 2.4-.7-.9-.5zM350.7 338.7l.9 .5 2.3-.8-.9-.5zM348.3 339.4l.9 .5 2.4-.7-.9-.5zM346 340.2l.9 .5 2.3-.8-.9-.5zM343.6 341l.9 .4 2.4-.7-.9-.5zM341.3 341.7l.9 .5 2.3-.8-.9-.4zM338.9 342.5l1 .5 2.3-.8-.9-.5zM336.6 343.2l.9 .5 2.4-.7-1-.5zM334.3 344l.9 .5 2.3-.8-.9-.5zM331.9 344.7l.9 .5 2.4-.7-.9-.5zM329.6 345.5l.9 .5 2.3-.8-.9-.5zM327.2 346.3l.9 .4 2.4-.7-.9-.5zM324.9 347l.9 .5 2.3-.8-.9-.4zM322.5 347.8l.9 .5 2.4-.8-.9-.5zM320.2 348.5l.9 .5 2.3-.7-.9-.5zM317.8 349.3l.9 .5 2.4-.8-.9-.5zM315.5 350l.9 .5 2.3-.7-.9-.5zM313.2 350.8l.9 .5 2.3-.8-.9-.5zM310.8 351.6l.9 .4 2.4-.7-.9-.5zM308.5 352.3l.9 .5 2.3-.8-.9-.4zM306.1 353.1l.9 .5 2.4-.8-.9-.5zM303.8 353.8l.9 .5 2.3-.7-.9-.5zM301.4 354.6l.9 .5 2.4-.8-.9-.5zM299.1 355.3l.9 .5 2.3-.7-.9-.5zM296.7 356.1l.9 .5 2.4-.8-.9-.5zM294.4 356.9l.9 .4 2.3-.7-.9-.5zM292 357.6l1 .5 2.3-.8-.9-.4zM289.7 358.4l.9 .5 2.4-.8-1-.5zM287.4 359.1l.9 .5 2.3-.7-.9-.5zM285 359.9l.9 .5 2.4-.8-.9-.5zM282.7 360.6l.9 .5 2.3-.7-.9-.5zM280.3 361.4l.9 .5 2.4-.8-.9-.5zM278 362.2l.9 .4 2.3-.7-.9-.5zM275.6 362.9l.9 .5 2.4-.8-.9-.4zM273.3 363.7l.9 .5 2.3-.8-.9-.5zM270.9 364.4l.9 .5 2.4-.7-.9-.5zM268.6 365.2l.9 .5 2.3-.8-.9-.5zM266.3 365.9l.9 .5 2.3-.7-.9-.5zM263.9 366.7l.9 .5 2.4-.8-.9-.5zM261.6 367.4l.9 .5 2.3-.7-.9-.5zM259.2 368.2l.9 .5 2.4-.8-.9-.5zM256.9 369l.9 .5 2.3-.8-.9-.5zM254.5 369.7l.9 .5 2.4-.7-.9-.5zM252.2 370.5l.9 .5 2.3-.8-.9-.5zM249.8 371.2l.9 .5 2.4-.7-.9-.5zM247.5 372l.9 .5 2.3-.8-.9-.5zM245.1 372.7l1 .5 2.3-.7-.9-.5zM242.8 373.5l.9 .5 2.4-.8-1-.5zM240.5 374.3l.9 .5 2.3-.8-.9-.5zM238.1 375l.9 .5 2.4-.7-.9-.5zM235.8 375.8l.9 .5 2.3-.8-.9-.5zM233.4 376.5l.9 .5 2.4-.7-.9-.5zM231.1 377.3l.9 .5 2.3-.8-.9-.5zM228.7 378l.9 .5 2.4-.7-.9-.5zM226.4 378.8l.9 .5 2.3-.8-.9-.5zM224 379.6l.9 .5 2.4-.8-.9-.5zM221.7 380.3l.9 .5 2.3-.7-.9-.5zM219.4 381.1l.9 .5 2.3-.8-.9-.5zM217 381.8l.9 .5 2.4-.7-.9-.5zM214.7 382.6l.9 .5 2.3-.8-.9-.5zM212.3 383.3l.9 .5 2.4-.7-.9-.5zM210 384.1l.9 .5 2.3-.8-.9-.5z"/></g>
<path fill="none" stroke-width="0.45" d=""/>
<g stroke-width="0.3"><path fill="#00005f" d="M443 309.7l.9 .5 2.4-.8-.9-.5zM440.7 310.4l.9 .5 2.3-.7-.9-.5zM438.3 311.2l1 .5 2.3-.8-.9-.5zM436 311.9l.9 .5 2.4-.7-1-.5zM433.7 312.7l.9 .5 2.3-.8-.9-.5zM431.3 313.4l.9 .5 2.4-.7-.9-.5zM429 314.2l.9 .5 2.3-.8-.9-.5zM426.6 315l.9 .4 2.4-.7-.9-.5zM424.3 315.7l.9 .5 2.3-.8-.9-.4zM421.9 316.5l.9 .5 2.4-.8-.9-.5zM419.6 317.2l.9 .5 2.3-.7-.9-.5zM417.2 318l.9 .5 2.4-.8-.9-.5zM414.9 318.7l.9 .5 2.3-.7-.9-.5zM412.5 319.5l1 .5 2.3-.8-.9-.5zM410.2 320.3l.9 .4 2.4-.7-1-.5zM407.9 321l.9 .5 2.3-.8-.9-.4zM405.5 321.8l.9 .5 2.4-.8-.9-.5zM403.2 322.5l.9 .5 2.3-.7-.9-.5zM400.8 323.3l.9 .5 2.4-.8-.9-.5zM398.5 324l.9 .5 2.3-.7-.9-.5zM396.1 324.8l.9 .5 2.4-.8-.9-.5zM393.8 325.6l.9 .4 2.3-.7-.9-.5zM391.4 326.3l1 .5 2.3-.8-.9-.4zM389.1 327.1l.9 .5 2.4-.8-1-.5zM386.8 327.8l.9 .5 2.3-.7-.9-.5zM384.4 328.6l.9 .5 2.4-.8-.9-.5zM382.1 329.3l.9 .5 2.3-.7-.9-.5zM379.7 330.1l.9 .5 2.4-.8-.9-.5zM377.4 330.9l.9 .4 2.3-.7-.9-.5zM375 331.6l.9 .5 2.4-.8-.9-.4zM372.7 332.4l.9 .5 2.3-.8-.9-.5zM370.3 333.1l.9 .5 2.4-.7-.9-.5zM368 333.9l.9 .5 2.3-.8-.9-.5zM365.6 334.6l1 .5 2.3-.7-.9-.5zM363.3 335.4l.9 .5 2.4-.8-1-.5zM361 336.2l.9 .4 2.3-.7-.9-.5zM358.6 336.9l.9 .5 2.4-.8-.9-.4zM356.3 337.7l.9 .5 2.3-.8-.9-.5zM353.9 338.4l.9 .5 2.4-.7-.9-.5zM351.6 339.2l.9 .5 2.3-.8-.9-.5zM349.2 339.9l.9 .5 2.4-.7-.9-.5zM346.9 340.7l.9 .5 2.3-.8-.9-.5zM344.5 341.4l1 .5 2.3-.7-.9-.5zM342.2 342.2l.9 .5 2.4-.8-1-.5zM339.9 343l.9 .5 2.3-.8-.9-.5zM337.5 343.7l.9 .5 2.4-.7-.9-.5zM335.2 344.5l.9 .5 2.3-.8-.9-.5zM332.8 345.2l.9 .5 2.4-.7-.9-.5zM330.5 346l.9 .5 2.3-.8-.9-.5zM328.1 346.7l.9 .5 2.4-.7-.9-.5zM325.8 347.5l.9 .5 2.3-.8-.9-.5zM323.4 348.3l.9 .5 2.4-.8-.9-.5zM321.1 349l.9 .5 2.3-.7-.9-.5zM318.7 349.8l1 .5 2.3-.8-.9-.5zM316.4 350.5l.9 .5 2.4-.7-1-.5zM314.1 351.3l.9 .5 2.3-.8-.9-.5zM311.7 352l.9 .5 2.4-.7-.9-.5zM309.4 352.8l.9 .5 2.3-.8-.9-.5zM307 353.6l.9 .5 2.4-.8-.9-.5zM304.7 354.3l.9 .5 2.3-.7-.9-.5zM302.3 355.1l.9 .5 2.4-.8-.9-.5zM300 355.8l.9 .5 2.3-.7-.9-.5zM297.6 356.6l1 .5 2.3-.8-.9-.5zM295.3 357.3l.9 .5 2.4-.7-1-.5zM293 358.1l.9 .5 2.3-.8-.9-.5zM290.6 358.9l.9 .5 2.4-.8-.9-.5zM288.3 359.6l.9 .5 2.3-.7-.9-.5zM285.9 360.4l.9 .5 2.4-.8-.9-.5zM283.6 361.1l.9 .5 2.3-.7-.9-.5zM281.2 361.9l.9 .5 2.4-.8-.9-.5zM278.9 362.6l.9 .5 2.3-.7-.9-.5zM276.5 363.4l.9 .5 2.4-.8-.9-.5zM274.2 364.2l.9 .5 2.3-.8-.9-.5zM271.8 364.9l1 .5 2.3-.7-.9-.5zM269.5 365.7l.9 .5 2.4-.8-1-.5zM267.2 366.4l.9 .5 2.3-.7-.9-.5zM264.8 367.2l.9 .5 2.4-.8-.9-.5zM262.5 367.9l.9 .5 2.3-.7-.9-.5zM260.1 368.7l.9 .5 2.4-.8-.9-.5zM257.8 369.5l.9 .5 2.3-.8-.9-.5zM255.4 370.2l.9 .5 2.4-.7-.9-.5zM253.1 371l.9 .5 2.3-.8-.9-.5zM250.7 371.7l1 .5 2.3-.7-.9-.5zM248.4 372.5l.9 .5 2.4-.8-1-.5zM246.1 373.2l.9 .5 2.3-.7-.9-.5zM243.7 374l.9 .5 2.4-.8-.9-.5zM241.4 374.8l.9 .5 2.3-.8-.9-.5zM239 375.5l.9 .5 2.4-.7-.9-.5zM236.7 376.3l.9 .5 2.3-.8-.9-.5zM234.3 377l.9 .5 2.4-.7-.9-.5zM232 377.8l.9 .5 2.3-.8-.9-.5zM229.6 378.5l.9 .5 2.4-.7-.9-.5zM227.3 379.3l.9 .5 2.3-.8-.9-.5zM224.9 380.1l1 .5 2.3-.8-.9-.5zM222.6 380.8l.9 .5 2.4-.7-1-.5zM220.3 381.6l.9 .5 2.3-.8-.9-.5zM217.9 382.3l.9 .5 2.4-.7-.9-.5zM215.6 383.1l.9 .5 2.3-.8-.9-.5zM213.2 383.8l.9 .5 2.4-.7-.9-.5zM210.9 384.6l.9 .5 2.3-.8-.9-.5z"/></g>
<path fill="none" stroke-width="0.45" d=""/>
<g stroke-width="0.3"><path fill="#00005f" d="M443.9 310.2l.9 .4 2.4-.7-.9-.5zM441.6 310.9l.9 .5 2.3-.8-.9-.4zM439.3 311.7l.9 .5 2.3-.8-.9-.5zM436.9 312.4l.9 .5 2.4-.7-.9-.5zM434.6 313.2l.9 .5 2.3-.8-.9-.5zM432.2 313.9l.9 .5 2.4-.7-.9-.5zM429.9 314.7l.9 .5 2.3-.8-.9-.5zM427.5 315.4l.9 .5 2.4-.7-.9-.5zM425.2 316.2l.9 .5 2.3-.8-.9-.5zM422.8 317l.9 .5 2.4-.8-.9-.5zM420.5 317.7l.9 .5 2.3-.7-.9-.5zM418.1 318.5l1 .5 2.3-.8-.9-.5zM415.8 319.2l.9 .5 2.4-.7-1-.5zM413.5 320l.9 .5 2.3-.8-.9-.5zM411.1 320.7l.9 .5 2.4-.7-.9-.5zM408.8 321.5l.9 .5 2.3-.8-.9-.5zM406.4 322.3l.9 .5 2.4-.8-.9-.5zM404.1 323l.9 .5 2.3-.7-.9-.5zM401.7 323.8l.9 .5 2.4-.8-.9-.5zM399.4 324.5l.9 .5 2.3-.7-.9-.5zM397 325.3l.9 .5 2.4-.8-.9-.5zM394.7 326l.9 .5 2.3-.7-.9-.5zM392.4 326.8l.9 .5 2.3-.8-.9-.5zM390 327.6l.9 .5 2.4-.8-.9-.5zM387.7 328.3l.9 .5 2.3-.7-.9-.5zM385.3 329.1l.9 .5 2.4-.8-.9-.5zM383 329.8l.9 .5 2.3-.7-.9-.5zM380.6 330.6l.9 .5 2.4-.8-.9-.5zM378.3 331.3l.9 .5 2.3-.7-.9-.5zM375.9 332.1l.9 .5 2.4-.8-.9-.5zM373.6 332.9l.9 .5 2.3-.8-.9-.5zM371.2 333.6l1 .5 2.3-.7-.9-.5zM368.9 334.4l.9 .5 2.4-.8-1-.5zM366.6 335.1l.9 .5 2.3-.7-.9-.5zM364.2 335.9l.9 .5 2.4-.8-.9-.5zM361.9 336.6l.9 .5 2.3-.7-.9-.5zM359.5 337.4l.9 .5 2.4-.8-.9-.5zM357.2 338.2l.9 .5 2.3-.8-.9-.5zM354.8 338.9l.9 .5 2.4-.7-.9-.5zM352.5 339.7l.9 .5 2.3-.8-.9-.5zM350.1 340.4l.9 .5 2.4-.7-.9-.5zM347.8 341.2l.9 .5 2.3-.8-.9-.5zM345.5 341.9l.9 .5 2.3-.7-.9-.5zM343.1 342.7l.9 .5 2.4-.8-.9-.5zM340.8 343.5l.9 .5 2.3-.8-.9-.5zM338.4 344.2l.9 .5 2.4-.7-.9-.5zM336.1 345l.9 .5 2.3-.8-.9-.5zM333.7 345.7l.9 .5 2.4-.7-.9-.5zM331.4 346.5l.9 .5 2.3-.8-.9-.5zM329 347.2l.9 .5 2.4-.7-.9-.5zM326.7 348l.9 .5 2.3-.8-.9-.5zM324.3 348.8l1 .5 2.3-.8-.9-.5zM322 349.5l.9 .5 2.4-.7-1-.5zM319.7 350.3l.9 .5 2.3-.8-.9-.5zM317.3 351l.9 .5 2.4-.7-.9-.5zM315 351.8l.9 .5 2.3-.8-.9-.5zM312.6 352.5l.9 .5 2.4-.7-.9-.5zM310.3 353.3l.9 .5 2.3-.8-.9-.5zM307.9 354.1l.9 .5 2.4-.8-.9-.5zM305.6 354.8l.9 .5 2.3-.7-.9-.5zM303.2 355.6l.9 .5 2.4-.8-.9-.5zM300.9 356.3l.9 .5 2.3-.7-.9-.5zM298.6 357.1l.9 .5 2.3-.8-.9-.5zM296.2 357.8l.9 .5 2.4-.7-.9-.5zM293.9 358.6l.9 .5 2.3-.8-.9-.5zM291.5 359.4l.9 .5 2.4-.8-.9-.5zM289.2 360.1l.9 .5 2.3-.7-.9-.5zM286.8 360.9l.9 .5 2.4-.8-.9-.5zM284.5 361.6l.9 .5 2.3-.7-.9-.5zM282.1 362.4l.9 .5 2.4-.8-.9-.5zM279.8 363.1l.9 .5 2.3-.7-.9-.5zM277.4 363.9l1 .5 2.3-.8-.9-.5zM275.1 364.7l.9 .4 2.4-.7-1-.5zM272.8 365.4l.9 .5 2.3-.8-.9-.4zM270.4 366.2l.9 .5 2.4-.8-.9-.5zM268.1 366.9l.9 .5 2.3-.7-.9-.5zM265.7 367.7l.9 .5 2.4-.8-.9-.5zM263.4 368.4l.9 .5 2.3-.7-.9-.5zM261 369.2l.9 .5 2.4-.8-.9-.5zM258.7 370l.9 .4 2.3-.7-.9-.5zM256.3 370.7l.9 .5 2.4-.8-.9-.4zM254 371.5l.9 .5 2.3-.8-.9-.5zM251.7 372.2l.9 .5 2.3-.7-.9-.5zM249.3 373l.9 .5 2.4-.8-.9-.5zM247 373.7l.9 .5 2.3-.7-.9-.5zM244.6 374.5l.9 .5 2.4-.8-.9-.5zM242.3 375.3l.9 .4 2.3-.7-.9-.5zM239.9 376l.9 .5 2.4-.8-.9-.4zM237.6 376.8l.9 .5 2.3-.8-.9-.5zM235.2 377.5l.9 .5 2.4-.7-.9-.5zM232.9 378.3l.9 .5 2.3-.8-.9-.5zM230.5 379l1 .5 2.3-.7-.9-.5zM228.2 379.8l.9 .5 2.4-.8-1-.5zM225.9 380.6l.9 .4 2.3-.7-.9-.5zM223.5 381.3l.9 .5 2.4-.8-.9-.4zM221.2 382.1l.9 .5 2.3-.8-.9-.5zM218.8 382.8l.9 .5 2.4-.7-.9-.5zM216.5 383.6l.9 .5 2.3-.8-.9-.5zM214.1 384.3l.9 .5 2.4-.7-.9-.5zM211.8 385.1l.9 .5 2.3-.8-.9-.5z"/></g>
<path fill="none" stroke-width="0.45" d=""/>
<g stroke-width="0.3"><path fill="#00005f" d="M444.8 310.6l1 .5 2.3-.7-.9-.5zM442.5 311.4l.9 .5 2.4-.8-1-.5zM440.2 312.2l.9 .5 2.3-.8-.9-.5zM437.8 312.9l.9 .5 2.4-.7-.9-.5zM435.5 313.7l.9 .5 2.3-.8-.9-.5zM433.1 314.4l.9 .5 2.4-.7-.9-.5zM430.8 315.2l.9 .5 2.3-.8-.9-.5zM428.4 315.9l.9 .5 2.4-.7-.9-.5zM426.1 316.7l.9 .5 2.3-.8-.9-.5zM423.7 317.5l1 .5 2.3-.8-.9-.5zM421.4 318.2l.9 .5 2.4-.7-1-.5zM419.1 319l.9 .5 2.3-.8-.9-.5zM416.7 319.7l.9 .5 2.4-.7-.9-.5zM414.4 320.5l.9 .5 2.3-.8-.9-.5zM412 321.2l.9 .5 2.4-.7-.9-.5zM409.7 322l.9 .5 2.3-.8-.9-.5zM407.3 322.8l.9 .5 2.4-.8-.9-.5zM405 323.5l.9 .5 2.3-.7-.9-.5zM402.6 324.3l.9 .5 2.4-.8-.9-.5zM400.3 325l.9 .5 2.3-.7-.9-.5zM397.9 325.8l1 .5 2.3-.8-.9-.5zM395.6 326.5l.9 .5 2.4-.7-1-.5zM393.3 327.3l.9 .5 2.3-.8-.9-.5zM390.9 328.1l.9 .5 2.4-.8-.9-.5zM388.6 328.8l.9 .5 2.3-.7-.9-.5zM386.2 329.6l.9 .5 2.4-.8-.9-.5zM383.9 330.3l.9 .5 2.3-.7-.9-.5zM381.5 331.1l.9 .5 2.4-.8-.9-.5zM379.2 331.8l.9 .5 2.3-.7-.9-.5zM376.8 332.6l1 .5 2.3-.8-.9-.5zM374.5 333.4l.9 .5 2.4-.8-1-.5zM372.2 334.1l.9 .5 2.3-.7-.9-.5zM369.8 334.9l.9 .5 2.4-.8-.9-.5zM367.5 335.6l.9 .5 2.3-.7-.9-.5zM365.1 336.4l.9 .5 2.4-.8-.9-.5zM362.8 337.1l.9 .5 2.3-.7-.9-.5zM360.4 337.9l.9 .5 2.4-.8-.9-.5zM358.1 338.7l.9 .4 2.3-.7-.9-.5zM355.7 339.4l.9 .5 2.4-.8-.9-.4zM353.4 340.2l.9 .5 2.3-.8-.9-.5zM351 340.9l1 .5 2.3-.7-.9-.5zM348.7 341.7l.9 .5 2.4-.8-1-.5zM346.4 342.4l.9 .5 2.3-.7-.9-.5zM344 343.2l.9 .5 2.4-.8-.9-.5zM341.7 344l.9 .4 2.3-.7-.9-.5zM339.3 344.7l.9 .5 2.4-.8-.9-.4zM337 345.5l.9 .5 2.3-.8-.9-.5zM334.6 346.2l.9 .5 2.4-.7-.9-.5zM332.3 347l.9 .5 2.3-.8-.9-.5zM329.9 347.7l1 .5 2.3-.7-.9-.5zM327.6 348.5l.9 .5 2.4-.8-1-.5zM325.3 349.3l.9 .4 2.3-.7-.9-.5zM322.9 350l.9 .5 2.4-.8-.9-.4zM320.6 350.8l.9 .5 2.3-.8-.9-.5zM318.2 351.5l.9 .5 2.4-.7-.9-.5zM315.9 352.3l.9 .5 2.3-.8-.9-.5zM313.5 353l.9 .5 2.4-.7-.9-.5zM311.2 353.8l.9 .5 2.3-.8-.9-.5zM308.8 354.6l.9 .4 2.4-.7-.9-.5zM306.5 355.3l.9 .5 2.3-.8-.9-.4zM304.1 356.1l1 .5 2.3-.8-.9-.5zM301.8 356.8l.9 .5 2.4-.7-1-.5zM299.5 357.6l.9 .5 2.3-.8-.9-.5zM297.1 358.3l.9 .5 2.4-.7-.9-.5zM294.8 359.1l.9 .5 2.3-.8-.9-.5zM292.4 359.9l.9 .4 2.4-.7-.9-.5zM290.1 360.6l.9 .5 2.3-.8-.9-.4zM287.7 361.4l.9 .5 2.4-.8-.9-.5zM285.4 362.1l.9 .5 2.3-.7-.9-.5zM283 362.9l1 .5 2.3-.8-.9-.5zM280.7 363.6l.9 .5 2.4-.7-1-.5zM278.4 364.4l.9 .5 2.3-.8-.9-.5zM276 365.1l.9 .5 2.4-.7-.9-.5zM273.7 365.9l.9 .5 2.3-.8-.9-.5zM271.3 366.7l.9 .5 2.4-.8-.9-.5zM269 367.4l.9 .5 2.3-.7-.9-.5zM266.6 368.2l.9 .5 2.4-.8-.9-.5zM264.3 368.9l.9 .5 2.3-.7-.9-.5zM261.9 369.7l.9 .5 2.4-.8-.9-.5zM259.6 370.4l.9 .5 2.3-.7-.9-.5zM257.2 371.2l1 .5 2.3-.8-.9-.5zM254.9 372l.9 .5 2.4-.8-1-.5zM252.6 372.7l.9 .5 2.3-.7-.9-.5zM250.2 373.5l.9 .5 2.4-.8-.9-.5zM247.9 374.2l.9 .5 2.3-.7-.9-.5zM245.5 375l.9 .5 2.4-.8-.9-.5zM243.2 375.7l.9 .5 2.3-.7-.9-.5zM240.8 376.5l.9 .5 2.4-.8-.9-.5zM238.5 377.3l.9 .5 2.3-.8-.9-.5zM236.1 378l1 .5 2.3-.7-.9-.5zM233.8 378.8l.9 .5 2.4-.8-1-.5zM231.5 379.5l.9 .5 2.3-.7-.9-.5zM229.1 380.3l.9 .5 2.4-.8-.9-.5zM226.8 381l.9 .5 2.3-.7-.9-.5zM224.4 381.8l.9 .5 2.4-.8-.9-.5zM222.1 382.6l.9 .5 2.3-.8-.9-.5zM219.7 383.3l.9 .5 2.4-.7-.9-.5zM217.4 384.1l.9 .5 2.3-.8-.9-.5zM215 384.8l.9 .5 2.4-.7-.9-.5zM212.7 385.6l.9 .5 2.3-.8-.9-.5z"/></g>
<path fill="none" stroke-width="0.45" d=""/></g>
<g stroke-width="1" fill="none"><line x1="56.4" y1="300.4" x2="237.3" y2="399.0" stroke="#3c3c3c"/><line x1="237.3" y1="399.0" x2="471.8" y2="323.3" stroke="#3c3c3c"/><line x1="56.4" y1="300.4" x2="50.0" y2="297.1" stroke="#3c3c3c"/><line x1="56.4" y1="228.4" x2="50.0" y2="225.1" stroke="#3c3c3c"/><line x1="56.4" y1="156.4" x2="50.0" y2="153.1" stroke="#3c3c3c"/><line x1="56.4" y1="84.4" x2="50.0" y2="81.1" stroke="#3c3c3c"/><line x1="56.4" y1="300.4" x2="49.2" y2="302.8" stroke="#3c3c3c"/><line x1="101.6" y1="325.0" x2="94.4" y2="327.4" stroke="#3c3c3c"/><line x1="146.8" y1="349.7" x2="139.7" y2="352.1" stroke="#3c3c3c"/><line x1="192.1" y1="374.3" x2="184.9" y2="376.7" stroke="#3c3c3c"/><line x1="237.3" y1="399.0" x2="230.1" y2="401.4" stroke="#3c3c3c"/><line x1="237.3" y1="399.0" x2="241.9" y2="401.6" stroke="#3c3c3c"/><line x1="354.6" y1="361.1" x2="359.2" y2="363.8" stroke="#3c3c3c"/><line x1="471.8" y1="323.3" x2="476.4" y2="325.9" stroke="#3c3c3c"/></g>
<text x="46.3" y="299.4" font-size="13.8" text-anchor="end">0</text>
<text x="46.3" y="227.4" font-size="13.8" text-anchor="end">5</text>
<text x="46.3" y="155.4" font-size="13.8" text-anchor="end">10</text>
<text x="46.3" y="83.4" font-size="13.8" text-anchor="end">15</text>
<text x="46.4" y="315.9" font-size="13.8" text-anchor="end">0.4</text>
<text x="91.6" y="340.5" font-size="13.8" text-anchor="end">0.2</text>
<text x="136.8" y="365.2" font-size="13.8" text-anchor="end">0</text>
<text x="182.1" y="389.8" font-size="13.8" text-anchor="end">-0.2</text>
<text x="227.3" y="414.5" font-size="13.8" text-anchor="end">-0.4</text>
<text x="246.3" y="418.0" font-size="13.8" text-anchor="start">7</text>
<text x="363.6" y="380.1" font-size="13.8" text-anchor="start">7.5</text>
<text x="480.8" y="342.3" font-size="13.8" text-anchor="start">8</text>
<text x="18.4" y="194.0" font-size="18.67" text-anchor="middle" transform="rotate(-90 18.4 194.0)">PDF</text>
<text x="72.3" y="390.0" font-size="18.2" text-anchor="middle" transform="rotate(28.4 72.3 390.0)">Displacement(m)</text>
<text x="383.0" y="421.0" font-size="18.67" text-anchor="middle" transform="rotate(-18 383.0 421.0)">Time(s)</text>
<rect x="496.0" y="8.00" width="31.0" height="391.00" fill="#800000"/>
<rect x="496.0" y="14.11" width="31.0" height="384.89" fill="#8f0000"/>
<rect x="496.0" y="20.22" width="31.0" height="378.78" fill="#9f0000"/>
<rect x="496.0" y="26.33" width="31.0" height="372.67" fill="#af0000"/>
<rect x="496.0" y="32.44" width="31.0" height="366.56" fill="#bf0000"/>
<rect x="496.0" y="38.55" width="31.0" height="360.45" fill="#cf0000"/>
<rect x="496.0" y="44.66" width="31.0" height="354.34" fill="#df0000"/>
<rect x="496.0" y="50.77" width="31.0" height="348.23" fill="#ef0000"/>
<rect x="496.0" y="56.88" width="31.0" height="342.12" fill="#f00"/>
<rect x="496.0" y="62.98" width="31.0" height="336.02" fill="#ff1000"/>
<rect x="496.0" y="69.09" width="31.0" height="329.91" fill="#ff2000"/>
<rect x="496.0" y="75.20" width="31.0" height="323.80" fill="#ff3000"/>
<rect x="496.0" y="81.31" width="31.0" height="317.69" fill="#ff4000"/>
<rect x="496.0" y="87.42" width="31.0" height="311.58" fill="#ff5000"/>
<rect x="496.0" y="93.53" width="31.0" height="305.47" fill="#ff6000"/>
<rect x="496.0" y="99.64" width="31.0" height="299.36" fill="#ff7000"/>
<rect x="496.0" y="105.75" width="31.0" height="293.25" fill="#ff8000"/>
<rect x="496.0" y="111.86" width="31.0" height="287.14" fill="#ff8f00"/>
<rect x="496.0" y="117.97" width="31.0" height="281.03" fill="#ff9f00"/>
<rect x="496.0" y="124.08" width="31.0" height="274.92" fill="#ffaf00"/>
<rect x="496.0" y="130.19" width="31.0" height="268.81" fill="#ffbf00"/>
<rect x="496.0" y="136.30" width="31.0" height="262.70" fill="#ffcf00"/>
<rect x="496.0" y="142.41" width="31.0" height="256.59" fill="#ffdf00"/>
<rect x="496.0" y="148.52" width="31.0" height="250.48" fill="#ffef00"/>
<rect x="496.0" y="154.62" width="31.0" height="244.38" fill="#ff0"/>
<rect x="496.0" y="160.73" width="31.0" height="238.27" fill="#efff10"/>
<rect x="496.0" y="166.84" width="31.0" height="232.16" fill="#dfff20"/>
<rect x="496.0" y="172.95" width="31.0" height="226.05" fill="#cfff30"/>
<rect x="496.0" y="179.06" width="31.0" height="219.94" fill="#bfff40"/>
<rect x="496.0" y="185.17" width="31.0" height="213.83" fill="#afff50"/>
<rect x="496.0" y="191.28" width="31.0" height="207.72" fill="#9fff60"/>
<rect x="496.0" y="197.39" width="31.0" height="201.61" fill="#8fff70"/>
<rect x="496.0" y="203.50" width="31.0" height="195.50" fill="#80ff80"/>
<rect x="496.0" y="209.61" width="31.0" height="189.39" fill="#70ff8f"/>
<rect x="496.0" y="215.72" width="31.0" height="183.28" fill="#60ff9f"/>
<rect x="496.0" y="221.83" width="31.0" height="177.17" fill="#50ffaf"/>
<rect x="496.0" y="227.94" width="31.0" height="171.06" fill="#40ffbf"/>
<rect x="496.0" y="234.05" width="31.0" height="164.95" fill="#30ffcf"/>
<rect x="496.0" y="240.16" width="31.0" height="158.84" fill="#20ffdf"/>
<rect x="496.0" y="246.27" width="31.0" height="152.73" fill="#10ffef"/>
<rect x="496.0" y="252.38" width="31.0" height="146.62" fill="#0ff"/>
<rect x="496.0" y="258.48" width="31.0" height="140.52" fill="#00efff"/>
<rect x="496.0" y="264.59" width="31.0" height="134.41" fill="#00dfff"/>
<rect x="496.0" y="270.70" width="31.0" height="128.30" fill="#00cfff"/>
<rect x="496.0" y="276.81" width="31.0" height="122.19" fill="#00bfff"/>
<rect x="496.0" y="282.92" width="31.0" height="116.08" fill="#00afff"/>
<rect x="496.0" y="289.03" width="31.0" height="109.97" fill="#009fff"/>
<rect x="496.0" y="295.14" width="31.0" height="103.86" fill="#008fff"/>
<rect x="496.0" y="301.25" width="31.0" height="97.75" fill="#0080ff"/>
<rect x="496.0" y="307.36" width="31.0" height="91.64" fill="#0070ff"/>
<rect x="496.0" y="313.47" width="31.0" height="85.53" fill="#0060ff"/>
<rect x="496.0" y="319.58" width="31.0" height="79.42" fill="#0050ff"/>
<rect x="496.0" y="325.69" width="31.0" height="73.31" fill="#0040ff"/>
<rect x="496.0" y="331.80" width="31.0" height="67.20" fill="#0030ff"/>
<rect x="496.0" y="337.91" width="31.0" height="61.09" fill="#0020ff"/>
<rect x="496.0" y="344.02" width="31.0" height="54.98" fill="#0010ff"/>
<rect x="496.0" y="350.12" width="31.0" height="48.88" fill="#00f"/>
<rect x="496.0" y="356.23" width="31.0" height="42.77" fill="#0000ef"/>
<rect x="496.0" y="362.34" width="31.0" height="36.66" fill="#0000df"/>
<rect x="496.0" y="368.45" width="31.0" height="30.55" fill="#0000cf"/>
<rect x="496.0" y="374.56" width="31.0" height="24.44" fill="#0000bf"/>
<rect x="496.0" y="380.67" width="31.0" height="18.33" fill="#0000af"/>
<rect x="496.0" y="386.78" width="31.0" height="12.22" fill="#00009f"/>
<rect x="496.0" y="392.89" width="31.0" height="6.11" fill="#00008f"/>
<rect x="496.0" y="8.0" width="31.0" height="391.0" fill="none" stroke="#222" stroke-width="1"/>
<path d="M496.0 340.6h3M527.0 340.6h-3" stroke="#222" stroke-width="1"/>
<text x="531.6" y="344.4" font-size="13.8" text-anchor="start">2</text>
<path d="M496.0 282.3h3M527.0 282.3h-3" stroke="#222" stroke-width="1"/>
<text x="531.6" y="286.1" font-size="13.8" text-anchor="start">4</text>
<path d="M496.0 223.9h3M527.0 223.9h-3" stroke="#222" stroke-width="1"/>
<text x="531.6" y="227.7" font-size="13.8" text-anchor="start">6</text>
<path d="M496.0 165.6h3M527.0 165.6h-3" stroke="#222" stroke-width="1"/>
<text x="531.6" y="169.4" font-size="13.8" text-anchor="start">8</text>
<path d="M496.0 107.2h3M527.0 107.2h-3" stroke="#222" stroke-width="1"/>
<text x="531.6" y="111.0" font-size="13.8" text-anchor="start">10</text>
<path d="M496.0 48.9h3M527.0 48.9h-3" stroke="#222" stroke-width="1"/>
<text x="531.6" y="52.7" font-size="13.8" text-anchor="start">12</text>
</svg>
</body></html>
